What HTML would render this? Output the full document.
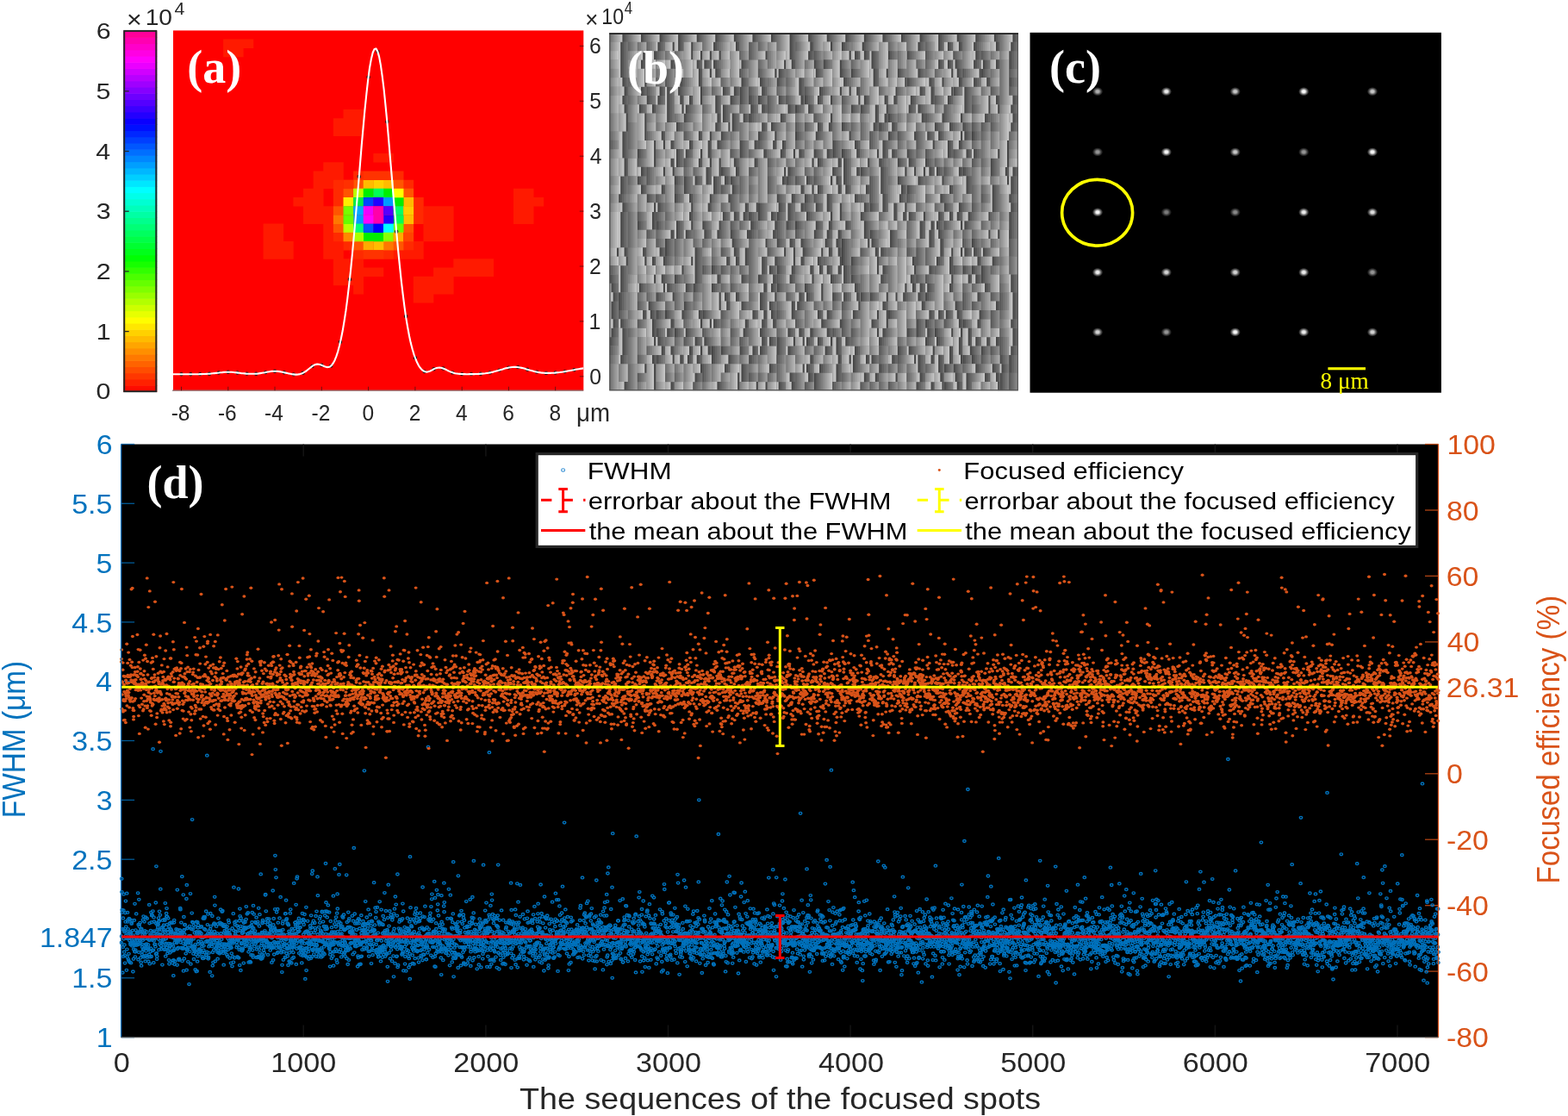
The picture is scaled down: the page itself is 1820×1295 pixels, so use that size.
<!DOCTYPE html>
<html lang="en"><head><meta charset="utf-8"><title>Focused spot statistics</title>
<style>html,body{margin:0;padding:0;background:#fff;}body{width:1820px;height:1295px;overflow:hidden;}svg{display:block;}</style>
</head><body>
<svg width="1820" height="1295" viewBox="0 0 1820 1295">
<rect width="1820" height="1295" fill="#fff"/>
<defs>
<pattern id="gp" width="21.573" height="20" patternUnits="userSpaceOnUse"><rect x="0" width="2.217" height="20" fill="#464646"/><rect x="2.157" width="2.217" height="20" fill="#545454"/><rect x="4.315" width="2.217" height="20" fill="#626262"/><rect x="6.472" width="2.217" height="20" fill="#717171"/><rect x="8.629" width="2.217" height="20" fill="#7f7f7f"/><rect x="10.786" width="2.217" height="20" fill="#8d8d8d"/><rect x="12.944" width="2.217" height="20" fill="#9b9b9b"/><rect x="15.101" width="2.217" height="20" fill="#aaaaaa"/><rect x="17.258" width="2.217" height="20" fill="#b8b8b8"/><rect x="19.415" width="2.217" height="20" fill="#c6c6c6"/></pattern>
<radialGradient id="sp"><stop offset="0" stop-color="#fff"/><stop offset="0.3" stop-color="#eee"/><stop offset="0.65" stop-color="#666"/><stop offset="1" stop-color="#000"/></radialGradient>
<marker id="mb" markerUnits="userSpaceOnUse" markerWidth="8" markerHeight="8" refX="4" refY="4" orient="0"><ellipse cx="4" cy="4" rx="1.72" ry="1.45" fill="none" stroke="#0072bd" stroke-width="1.4"/></marker>
<marker id="mo" markerUnits="userSpaceOnUse" markerWidth="8" markerHeight="8" refX="4" refY="4" orient="0"><ellipse cx="4" cy="4" rx="2.0" ry="1.7" fill="#d95319"/></marker>
</defs>
<g id="colorbar">
<rect x="143.2" y="447.09" width="39.1" height="7.81" fill="#ff0b00"/>
<rect x="143.2" y="439.88" width="39.1" height="7.81" fill="#ff2100"/>
<rect x="143.2" y="432.67" width="39.1" height="7.81" fill="#ff3700"/>
<rect x="143.2" y="425.46" width="39.1" height="7.81" fill="#ff4d00"/>
<rect x="143.2" y="418.25" width="39.1" height="7.81" fill="#ff6300"/>
<rect x="143.2" y="411.04" width="39.1" height="7.81" fill="#ff7900"/>
<rect x="143.2" y="403.83" width="39.1" height="7.81" fill="#ff8f00"/>
<rect x="143.2" y="396.62" width="39.1" height="7.81" fill="#ffa500"/>
<rect x="143.2" y="389.41" width="39.1" height="7.81" fill="#ffbb00"/>
<rect x="143.2" y="382.2" width="39.1" height="7.81" fill="#ffd100"/>
<rect x="143.2" y="374.99" width="39.1" height="7.81" fill="#ffe700"/>
<rect x="143.2" y="367.78" width="39.1" height="7.81" fill="#fffd00"/>
<rect x="143.2" y="360.57" width="39.1" height="7.81" fill="#e7ff00"/>
<rect x="143.2" y="353.36" width="39.1" height="7.81" fill="#cdff00"/>
<rect x="143.2" y="346.14" width="39.1" height="7.81" fill="#b3ff00"/>
<rect x="143.2" y="338.93" width="39.1" height="7.81" fill="#99ff00"/>
<rect x="143.2" y="331.72" width="39.1" height="7.81" fill="#7fff00"/>
<rect x="143.2" y="324.51" width="39.1" height="7.81" fill="#65ff00"/>
<rect x="143.2" y="317.3" width="39.1" height="7.81" fill="#4bff00"/>
<rect x="143.2" y="310.09" width="39.1" height="7.81" fill="#31ff00"/>
<rect x="143.2" y="302.88" width="39.1" height="7.81" fill="#17ff00"/>
<rect x="143.2" y="295.67" width="39.1" height="7.81" fill="#00ff03"/>
<rect x="143.2" y="288.46" width="39.1" height="7.81" fill="#00ff1a"/>
<rect x="143.2" y="281.25" width="39.1" height="7.81" fill="#00ff31"/>
<rect x="143.2" y="274.04" width="39.1" height="7.81" fill="#00ff48"/>
<rect x="143.2" y="266.83" width="39.1" height="7.81" fill="#00ff5f"/>
<rect x="143.2" y="259.62" width="39.1" height="7.81" fill="#00ff76"/>
<rect x="143.2" y="252.41" width="39.1" height="7.81" fill="#00ff8d"/>
<rect x="143.2" y="245.2" width="39.1" height="7.81" fill="#00ffa4"/>
<rect x="143.2" y="237.99" width="39.1" height="7.81" fill="#00ffbb"/>
<rect x="143.2" y="230.78" width="39.1" height="7.81" fill="#00ffd2"/>
<rect x="143.2" y="223.57" width="39.1" height="7.81" fill="#00ffe9"/>
<rect x="143.2" y="216.36" width="39.1" height="7.81" fill="#00ffff"/>
<rect x="143.2" y="209.15" width="39.1" height="7.81" fill="#00e7ff"/>
<rect x="143.2" y="201.94" width="39.1" height="7.81" fill="#00cfff"/>
<rect x="143.2" y="194.73" width="39.1" height="7.81" fill="#00b7ff"/>
<rect x="143.2" y="187.52" width="39.1" height="7.81" fill="#009fff"/>
<rect x="143.2" y="180.31" width="39.1" height="7.81" fill="#0087ff"/>
<rect x="143.2" y="173.1" width="39.1" height="7.81" fill="#006fff"/>
<rect x="143.2" y="165.89" width="39.1" height="7.81" fill="#0057ff"/>
<rect x="143.2" y="158.68" width="39.1" height="7.81" fill="#003fff"/>
<rect x="143.2" y="151.47" width="39.1" height="7.81" fill="#0027ff"/>
<rect x="143.2" y="144.26" width="39.1" height="7.81" fill="#000fff"/>
<rect x="143.2" y="137.04" width="39.1" height="7.81" fill="#0a00ff"/>
<rect x="143.2" y="129.83" width="39.1" height="7.81" fill="#2300ff"/>
<rect x="143.2" y="122.62" width="39.1" height="7.81" fill="#3b00ff"/>
<rect x="143.2" y="115.41" width="39.1" height="7.81" fill="#5400ff"/>
<rect x="143.2" y="108.2" width="39.1" height="7.81" fill="#6d00ff"/>
<rect x="143.2" y="100.99" width="39.1" height="7.81" fill="#8600ff"/>
<rect x="143.2" y="93.78" width="39.1" height="7.81" fill="#9f00ff"/>
<rect x="143.2" y="86.57" width="39.1" height="7.81" fill="#b800ff"/>
<rect x="143.2" y="79.36" width="39.1" height="7.81" fill="#d100ff"/>
<rect x="143.2" y="72.15" width="39.1" height="7.81" fill="#ea00ff"/>
<rect x="143.2" y="64.94" width="39.1" height="7.81" fill="#ff00fc"/>
<rect x="143.2" y="57.73" width="39.1" height="7.81" fill="#ff00e3"/>
<rect x="143.2" y="50.52" width="39.1" height="7.81" fill="#ff00ca"/>
<rect x="143.2" y="43.31" width="39.1" height="7.81" fill="#ff00b1"/>
<rect x="143.2" y="36.1" width="39.1" height="7.81" fill="#ff0099"/>
<rect x="144.2" y="35.9" width="37.1" height="418.3" fill="none" stroke="#262626" stroke-width="2"/>
<path d="M144.2 384.6h5.5" stroke="#262626" stroke-width="1.3"/>
<path d="M144.2 314.9h5.5" stroke="#262626" stroke-width="1.3"/>
<path d="M144.2 245.2h5.5" stroke="#262626" stroke-width="1.3"/>
<path d="M144.2 175.5h5.5" stroke="#262626" stroke-width="1.3"/>
<path d="M144.2 105.8h5.5" stroke="#262626" stroke-width="1.3"/>
<text transform="translate(111.48 463.37) scale(1.22 1)" font-family="Liberation Sans,Arial,Helvetica,sans-serif" font-size="24.9" fill="#262626">0</text>
<text transform="translate(111.78 393.67) scale(1.22 1)" font-family="Liberation Sans,Arial,Helvetica,sans-serif" font-size="24.9" fill="#262626">1</text>
<text transform="translate(111.86 323.97) scale(1.22 1)" font-family="Liberation Sans,Arial,Helvetica,sans-serif" font-size="24.9" fill="#262626">2</text>
<text transform="translate(111.63 254.27) scale(1.22 1)" font-family="Liberation Sans,Arial,Helvetica,sans-serif" font-size="24.9" fill="#262626">3</text>
<text transform="translate(111.18 184.57) scale(1.22 1)" font-family="Liberation Sans,Arial,Helvetica,sans-serif" font-size="24.9" fill="#262626">4</text>
<text transform="translate(111.56 114.87) scale(1.22 1)" font-family="Liberation Sans,Arial,Helvetica,sans-serif" font-size="24.9" fill="#262626">5</text>
<text transform="translate(111.63 45.17) scale(1.22 1)" font-family="Liberation Sans,Arial,Helvetica,sans-serif" font-size="24.9" fill="#262626">6</text>
<text transform="translate(146.88 32) scale(1.1032 1)" font-family="Liberation Sans,Arial,Helvetica,sans-serif" font-size="27.5" fill="#262626">×</text>
<text transform="translate(168.69 29) scale(1.1313 1)" font-family="Liberation Sans,Arial,Helvetica,sans-serif" font-size="24.9" fill="#262626">10</text>
<text transform="translate(202.62 16.7) scale(1.0911 1)" font-family="Liberation Sans,Arial,Helvetica,sans-serif" font-size="19.6" fill="#262626">4</text>
</g>
<g id="panel-a">
<rect x="201.0" y="35.4" width="476.3" height="417.8" fill="#ff0000"/>
<path d="M259.09 45.59h11.92v10.49h-11.92zM270.7 45.59h11.92v10.49h-11.92zM282.32 45.59h11.92v10.49h-11.92zM259.09 55.78h11.92v10.49h-11.92zM270.7 55.78h11.92v10.49h-11.92zM398.49 127.11h11.92v10.49h-11.92zM410.11 127.11h11.92v10.49h-11.92zM386.87 137.3h11.92v10.49h-11.92zM398.49 137.3h11.92v10.49h-11.92zM410.11 137.3h11.92v10.49h-11.92zM386.87 147.49h11.92v10.49h-11.92zM398.49 147.49h11.92v10.49h-11.92zM410.11 147.49h11.92v10.49h-11.92zM433.34 178.06h11.92v10.49h-11.92zM444.96 178.06h11.92v10.49h-11.92zM375.26 188.25h11.92v10.49h-11.92zM386.87 188.25h11.92v10.49h-11.92zM363.64 198.44h11.92v10.49h-11.92zM375.26 198.44h11.92v10.49h-11.92zM386.87 198.44h11.92v10.49h-11.92zM363.64 208.63h11.92v10.49h-11.92zM375.26 208.63h11.92v10.49h-11.92zM352.02 218.82h11.92v10.49h-11.92zM363.64 218.82h11.92v10.49h-11.92zM595.98 218.82h11.92v10.49h-11.92zM607.6 218.82h11.92v10.49h-11.92zM340.4 229.01h11.92v10.49h-11.92zM352.02 229.01h11.92v10.49h-11.92zM363.64 229.01h11.92v10.49h-11.92zM595.98 229.01h11.92v10.49h-11.92zM607.6 229.01h11.92v10.49h-11.92zM619.21 229.01h11.92v10.49h-11.92zM352.02 239.2h11.92v10.49h-11.92zM363.64 239.2h11.92v10.49h-11.92zM375.26 239.2h11.92v10.49h-11.92zM491.43 239.2h11.92v10.49h-11.92zM503.04 239.2h11.92v10.49h-11.92zM514.66 239.2h11.92v10.49h-11.92zM595.98 239.2h11.92v10.49h-11.92zM607.6 239.2h11.92v10.49h-11.92zM352.02 249.4h11.92v10.49h-11.92zM363.64 249.4h11.92v10.49h-11.92zM375.26 249.4h11.92v10.49h-11.92zM491.43 249.4h11.92v10.49h-11.92zM503.04 249.4h11.92v10.49h-11.92zM514.66 249.4h11.92v10.49h-11.92zM595.98 249.4h11.92v10.49h-11.92zM607.6 249.4h11.92v10.49h-11.92zM305.55 259.59h11.92v10.49h-11.92zM317.17 259.59h11.92v10.49h-11.92zM375.26 259.59h11.92v10.49h-11.92zM491.43 259.59h11.92v10.49h-11.92zM503.04 259.59h11.92v10.49h-11.92zM514.66 259.59h11.92v10.49h-11.92zM305.55 269.78h11.92v10.49h-11.92zM317.17 269.78h11.92v10.49h-11.92zM375.26 269.78h11.92v10.49h-11.92zM491.43 269.78h11.92v10.49h-11.92zM503.04 269.78h11.92v10.49h-11.92zM514.66 269.78h11.92v10.49h-11.92zM305.55 279.97h11.92v10.49h-11.92zM317.17 279.97h11.92v10.49h-11.92zM328.79 279.97h11.92v10.49h-11.92zM375.26 279.97h11.92v10.49h-11.92zM386.87 279.97h11.92v10.49h-11.92zM479.81 279.97h11.92v10.49h-11.92zM305.55 290.16h11.92v10.49h-11.92zM317.17 290.16h11.92v10.49h-11.92zM328.79 290.16h11.92v10.49h-11.92zM375.26 290.16h11.92v10.49h-11.92zM386.87 290.16h11.92v10.49h-11.92zM456.58 290.16h11.92v10.49h-11.92zM468.19 290.16h11.92v10.49h-11.92zM479.81 290.16h11.92v10.49h-11.92zM386.87 300.35h11.92v10.49h-11.92zM398.49 300.35h11.92v10.49h-11.92zM410.11 300.35h11.92v10.49h-11.92zM526.28 300.35h11.92v10.49h-11.92zM537.9 300.35h11.92v10.49h-11.92zM549.51 300.35h11.92v10.49h-11.92zM561.13 300.35h11.92v10.49h-11.92zM386.87 310.54h11.92v10.49h-11.92zM398.49 310.54h11.92v10.49h-11.92zM410.11 310.54h11.92v10.49h-11.92zM421.72 310.54h11.92v10.49h-11.92zM433.34 310.54h11.92v10.49h-11.92zM503.04 310.54h11.92v10.49h-11.92zM514.66 310.54h11.92v10.49h-11.92zM526.28 310.54h11.92v10.49h-11.92zM537.9 310.54h11.92v10.49h-11.92zM549.51 310.54h11.92v10.49h-11.92zM561.13 310.54h11.92v10.49h-11.92zM386.87 320.73h11.92v10.49h-11.92zM398.49 320.73h11.92v10.49h-11.92zM410.11 320.73h11.92v10.49h-11.92zM479.81 320.73h11.92v10.49h-11.92zM491.43 320.73h11.92v10.49h-11.92zM503.04 320.73h11.92v10.49h-11.92zM514.66 320.73h11.92v10.49h-11.92zM410.11 330.92h11.92v10.49h-11.92zM479.81 330.92h11.92v10.49h-11.92zM491.43 330.92h11.92v10.49h-11.92zM503.04 330.92h11.92v10.49h-11.92zM514.66 330.92h11.92v10.49h-11.92zM479.81 341.11h11.92v10.49h-11.92zM491.43 341.11h11.92v10.49h-11.92z" fill="#ff1a00"/>
<path d="M410.11 198.44h11.92v10.49h-11.92zM456.58 198.44h11.92v10.49h-11.92zM386.87 208.63h11.92v10.49h-11.92zM468.19 208.63h11.92v10.49h-11.92zM386.87 218.82h11.92v10.49h-11.92zM386.87 229.01h11.92v10.49h-11.92zM479.81 229.01h11.92v10.49h-11.92zM479.81 239.2h11.92v10.49h-11.92zM479.81 249.4h11.92v10.49h-11.92zM386.87 269.78h11.92v10.49h-11.92zM398.49 279.97h11.92v10.49h-11.92zM468.19 279.97h11.92v10.49h-11.92zM410.11 290.16h11.92v10.49h-11.92zM444.96 290.16h11.92v10.49h-11.92z" fill="#ff2a00"/>
<path d="M410.11 208.63h11.92v10.49h-11.92zM456.58 208.63h11.92v10.49h-11.92zM398.49 218.82h11.92v10.49h-11.92zM468.19 218.82h11.92v10.49h-11.92zM386.87 239.2h11.92v10.49h-11.92zM386.87 259.59h11.92v10.49h-11.92zM468.19 259.59h11.92v10.49h-11.92zM410.11 279.97h11.92v10.49h-11.92zM456.58 279.97h11.92v10.49h-11.92z" fill="#ff5500"/>
<path d="M386.87 249.4h11.92v10.49h-11.92zM444.96 279.97h11.92v10.49h-11.92z" fill="#ff7700"/>
<path d="M398.49 208.63h11.92v10.49h-11.92z" fill="#ff3000"/>
<path d="M421.72 208.63h11.92v10.49h-11.92zM444.96 208.63h11.92v10.49h-11.92zM468.19 229.01h11.92v10.49h-11.92zM468.19 249.4h11.92v10.49h-11.92zM433.34 279.97h11.92v10.49h-11.92z" fill="#ffbb00"/>
<path d="M433.34 208.63h11.92v10.49h-11.92z" fill="#ffd000"/>
<path d="M410.11 218.82h11.92v10.49h-11.92zM398.49 259.59h11.92v10.49h-11.92z" fill="#bbff00"/>
<path d="M421.72 218.82h11.92v10.49h-11.92zM444.96 218.82h11.92v10.49h-11.92zM456.58 229.01h11.92v10.49h-11.92zM421.72 269.78h11.92v10.49h-11.92zM433.34 269.78h11.92v10.49h-11.92z" fill="#00ee00"/>
<path d="M433.34 218.82h11.92v10.49h-11.92zM456.58 249.4h11.92v10.49h-11.92z" fill="#00ff55"/>
<path d="M456.58 218.82h11.92v10.49h-11.92z" fill="#ffff00"/>
<path d="M398.49 229.01h11.92v10.49h-11.92z" fill="#ffee00"/>
<path d="M410.11 229.01h11.92v10.49h-11.92z" fill="#00ee44"/>
<path d="M421.72 229.01h11.92v10.49h-11.92z" fill="#0044ff"/>
<path d="M433.34 229.01h11.92v10.49h-11.92zM444.96 249.4h11.92v10.49h-11.92z" fill="#2200ff"/>
<path d="M444.96 229.01h11.92v10.49h-11.92zM410.11 249.4h11.92v10.49h-11.92z" fill="#0099ff"/>
<path d="M398.49 239.2h11.92v10.49h-11.92z" fill="#77ff00"/>
<path d="M410.11 239.2h11.92v10.49h-11.92z" fill="#00aaff"/>
<path d="M421.72 239.2h11.92v10.49h-11.92z" fill="#ee00ff"/>
<path d="M433.34 239.2h11.92v10.49h-11.92zM433.34 249.4h11.92v10.49h-11.92z" fill="#ff00aa"/>
<path d="M444.96 239.2h11.92v10.49h-11.92z" fill="#5500ff"/>
<path d="M456.58 239.2h11.92v10.49h-11.92z" fill="#00ff66"/>
<path d="M468.19 239.2h11.92v10.49h-11.92z" fill="#ffcc00"/>
<path d="M398.49 249.4h11.92v10.49h-11.92zM456.58 259.59h11.92v10.49h-11.92z" fill="#66ff00"/>
<path d="M421.72 249.4h11.92v10.49h-11.92z" fill="#ff00ff"/>
<path d="M410.11 259.59h11.92v10.49h-11.92z" fill="#00ff77"/>
<path d="M421.72 259.59h11.92v10.49h-11.92z" fill="#0055ff"/>
<path d="M433.34 259.59h11.92v10.49h-11.92z" fill="#0000ff"/>
<path d="M444.96 259.59h11.92v10.49h-11.92z" fill="#00ffff"/>
<path d="M398.49 269.78h11.92v10.49h-11.92z" fill="#ff8800"/>
<path d="M410.11 269.78h11.92v10.49h-11.92z" fill="#aaff00"/>
<path d="M444.96 269.78h11.92v10.49h-11.92z" fill="#88ff00"/>
<path d="M456.58 269.78h11.92v10.49h-11.92zM421.72 279.97h11.92v10.49h-11.92z" fill="#ffaa00"/>
<path d="M468.19 269.78h11.92v10.49h-11.92z" fill="#ff4400"/>
<path d="M421.72 198.44h11.92v10.49h-11.92zM433.34 198.44h11.92v10.49h-11.92zM444.96 198.44h11.92v10.49h-11.92zM421.72 290.16h11.92v10.49h-11.92zM433.34 290.16h11.92v10.49h-11.92z" fill="#ff3300"/>
<path d="M200.0 453.2H677.3" stroke="#8a7070" stroke-width="1.2"/>
<path d="M210.5 453.2v-4.5" stroke="#6a1010" stroke-width="1"/>
<text transform="translate(198.67 487.5) scale(0.95 1)" font-family="Liberation Sans,Arial,Helvetica,sans-serif" font-size="25.8" fill="#262626">-8</text>
<path d="M264.8 453.2v-4.5" stroke="#6a1010" stroke-width="1"/>
<text transform="translate(252.95 487.5) scale(0.95 1)" font-family="Liberation Sans,Arial,Helvetica,sans-serif" font-size="25.8" fill="#262626">-6</text>
<path d="M319 453.2v-4.5" stroke="#6a1010" stroke-width="1"/>
<text transform="translate(307.05 487.5) scale(0.95 1)" font-family="Liberation Sans,Arial,Helvetica,sans-serif" font-size="25.8" fill="#262626">-4</text>
<path d="M373.3 453.2v-4.5" stroke="#6a1010" stroke-width="1"/>
<text transform="translate(361.6 487.5) scale(0.95 1)" font-family="Liberation Sans,Arial,Helvetica,sans-serif" font-size="25.8" fill="#262626">-2</text>
<path d="M427.6 453.2v-4.5" stroke="#6a1010" stroke-width="1"/>
<text transform="translate(420.47 487.5) scale(0.95 1)" font-family="Liberation Sans,Arial,Helvetica,sans-serif" font-size="25.8" fill="#262626">0</text>
<path d="M481.9 453.2v-4.5" stroke="#6a1010" stroke-width="1"/>
<text transform="translate(474.78 487.5) scale(0.95 1)" font-family="Liberation Sans,Arial,Helvetica,sans-serif" font-size="25.8" fill="#262626">2</text>
<path d="M536.2 453.2v-4.5" stroke="#6a1010" stroke-width="1"/>
<text transform="translate(529.12 487.5) scale(0.95 1)" font-family="Liberation Sans,Arial,Helvetica,sans-serif" font-size="25.8" fill="#262626">4</text>
<path d="M590.4 453.2v-4.5" stroke="#6a1010" stroke-width="1"/>
<text transform="translate(583.25 487.5) scale(0.95 1)" font-family="Liberation Sans,Arial,Helvetica,sans-serif" font-size="25.8" fill="#262626">6</text>
<path d="M644.7 453.2v-4.5" stroke="#6a1010" stroke-width="1"/>
<text transform="translate(637.62 487.5) scale(0.95 1)" font-family="Liberation Sans,Arial,Helvetica,sans-serif" font-size="25.8" fill="#262626">8</text>
<text transform="translate(669.03 489.3) scale(0.9547 1)" font-family="Liberation Sans,Arial,Helvetica,sans-serif" font-size="29" fill="#262626">μm</text>
<path d="M677.3 436.8h-4.5" stroke="#6a1010" stroke-width="1"/>
<text transform="translate(684.31 445.78) scale(0.96 1)" font-family="Liberation Sans,Arial,Helvetica,sans-serif" font-size="25.8" fill="#262626">0</text>
<path d="M677.3 372.9h-4.5" stroke="#6a1010" stroke-width="1"/>
<text transform="translate(683.44 381.88) scale(0.96 1)" font-family="Liberation Sans,Arial,Helvetica,sans-serif" font-size="25.8" fill="#262626">1</text>
<path d="M677.3 309h-4.5" stroke="#6a1010" stroke-width="1"/>
<text transform="translate(684.06 317.98) scale(0.96 1)" font-family="Liberation Sans,Arial,Helvetica,sans-serif" font-size="25.8" fill="#262626">2</text>
<path d="M677.3 245.1h-4.5" stroke="#6a1010" stroke-width="1"/>
<text transform="translate(684.37 254.08) scale(0.96 1)" font-family="Liberation Sans,Arial,Helvetica,sans-serif" font-size="25.8" fill="#262626">3</text>
<path d="M677.3 181.2h-4.5" stroke="#6a1010" stroke-width="1"/>
<text transform="translate(684.74 190.18) scale(0.96 1)" font-family="Liberation Sans,Arial,Helvetica,sans-serif" font-size="25.8" fill="#262626">4</text>
<path d="M677.3 117.3h-4.5" stroke="#6a1010" stroke-width="1"/>
<text transform="translate(684.31 126.28) scale(0.96 1)" font-family="Liberation Sans,Arial,Helvetica,sans-serif" font-size="25.8" fill="#262626">5</text>
<path d="M677.3 53.4h-4.5" stroke="#6a1010" stroke-width="1"/>
<text transform="translate(684.06 62.38) scale(0.96 1)" font-family="Liberation Sans,Arial,Helvetica,sans-serif" font-size="25.8" fill="#262626">6</text>
<text transform="translate(679.19 32) scale(0.9397 1)" font-family="Liberation Sans,Arial,Helvetica,sans-serif" font-size="27.5" fill="#262626">×</text>
<text transform="translate(698.37 28.3) scale(0.8937 1)" font-family="Liberation Sans,Arial,Helvetica,sans-serif" font-size="25.8" fill="#262626">10</text>
<text transform="translate(724.82 16.3) scale(0.8588 1)" font-family="Liberation Sans,Arial,Helvetica,sans-serif" font-size="19.6" fill="#262626">4</text>
<clipPath id="ca"><rect x="201.0" y="35.4" width="476.3" height="417.8"/></clipPath>
<path d="M210.5 434.2h0M221.3 434.2h0M232.2 434.1h0M243 433.7h0M253.9 432.5h0M264.8 431.7h0M275.6 432.5h0M286.5 433.6h0M297.3 433.7h0M308.2 432.1h0M319 430.7h0M329.9 432.2h0M340.8 434.4h0M351.6 432.8h0M362.5 425h0M373.3 423.7h0M384.2 424.6h0M395 396.8h0M405.9 324.3h0M416.7 204.9h0M427.6 89.4h0M438.5 60h0M449.3 141.3h0M460.2 268.8h0M471 366.9h0M481.9 415.2h0M492.7 431.1h0M503.6 428.3h0M514.4 427.5h0M525.3 432.4h0M536.2 434.1h0M547 434.1h0M557.9 433.8h0M568.7 432.4h0M579.6 429.6h0M590.4 426.6h0M601.3 426.1h0M612.2 428.7h0M623 431.6h0M633.9 432.9h0M644.7 432.5h0M655.6 431.1h0M666.4 429.1h0" stroke="#1a1a1a" stroke-width="4.4" stroke-linecap="round" fill="none"/>
<polyline points="201,434.2 202.8,434.2 204.7,434.2 206.5,434.2 208.4,434.2 210.2,434.2 212,434.2 213.9,434.2 215.7,434.2 217.6,434.2 219.4,434.2 221.2,434.2 223.1,434.2 224.9,434.2 226.7,434.2 228.6,434.2 230.4,434.2 232.3,434.1 234.1,434.1 235.9,434 237.8,434 239.6,433.9 241.5,433.8 243.3,433.7 245.1,433.5 247,433.3 248.8,433.1 250.7,432.9 252.5,432.7 254.3,432.5 256.2,432.2 258,432.1 259.8,431.9 261.7,431.8 263.5,431.7 265.4,431.7 267.2,431.7 269,431.8 270.9,432 272.7,432.2 274.6,432.4 276.4,432.6 278.2,432.8 280.1,433.1 281.9,433.3 283.8,433.4 285.6,433.6 287.4,433.7 289.3,433.8 291.1,433.8 292.9,433.8 294.8,433.8 296.6,433.7 298.5,433.6 300.3,433.4 302.1,433.1 304,432.8 305.8,432.5 307.7,432.2 309.5,431.8 311.3,431.5 313.2,431.2 315,430.9 316.9,430.8 318.7,430.7 320.5,430.7 322.4,430.9 324.2,431.1 326.1,431.4 327.9,431.8 329.7,432.2 331.6,432.6 333.4,433 335.2,433.4 337.1,433.8 338.9,434.2 340.8,434.4 342.6,434.6 344.4,434.6 346.3,434.4 348.1,434.1 350,433.5 351.8,432.7 353.6,431.7 355.5,430.5 357.3,429 359.2,427.5 361,426.1 362.8,424.7 364.7,423.6 366.5,422.9 368.3,422.6 370.2,422.7 372,423.2 373.9,424 375.7,424.8 377.5,425.6 379.4,426.1 381.2,426 383.1,425.4 384.9,423.9 386.7,421.4 388.6,417.9 390.4,413.3 392.3,407.6 394.1,400.8 395.9,392.7 397.8,383.3 399.6,372.5 401.5,360.2 403.3,346.4 405.1,331 407,314.2 408.8,295.9 410.6,276.2 412.5,255.5 414.3,234 416.2,211.9 418,189.8 419.8,167.9 421.7,146.8 423.5,126.9 425.4,108.7 427.2,92.6 429,79 430.9,68.4 432.7,61 434.6,56.9 436.4,56.4 438.2,59.4 440.1,65.9 441.9,75.6 443.7,88.3 445.6,103.7 447.4,121.3 449.3,140.8 451.1,161.6 452.9,183.3 454.8,205.4 456.6,227.6 458.5,249.3 460.3,270.3 462.1,290.2 464,308.9 465.8,326.2 467.7,342 469.5,356.2 471.3,368.9 473.2,380 475,389.7 476.8,398.1 478.7,405.3 480.5,411.4 482.4,416.5 484.2,420.8 486,424.3 487.9,427 489.7,429.1 491.6,430.5 493.4,431.3 495.2,431.6 497.1,431.3 498.9,430.7 500.8,429.8 502.6,428.8 504.4,427.9 506.3,427.1 508.1,426.7 510,426.5 511.8,426.7 513.6,427.2 515.5,427.9 517.3,428.7 519.1,429.7 521,430.6 522.8,431.4 524.7,432.1 526.5,432.7 528.3,433.2 530.2,433.5 532,433.8 533.9,433.9 535.7,434 537.5,434.1 539.4,434.1 541.2,434.2 543.1,434.2 544.9,434.1 546.7,434.1 548.6,434.1 550.4,434.1 552.2,434 554.1,434 555.9,433.9 557.8,433.8 559.6,433.6 561.4,433.5 563.3,433.3 565.1,433 567,432.7 568.8,432.4 570.6,432 572.5,431.6 574.3,431.1 576.2,430.6 578,430.1 579.8,429.5 581.7,428.9 583.5,428.4 585.4,427.8 587.2,427.3 589,426.9 590.9,426.5 592.7,426.2 594.5,426 596.4,425.9 598.2,425.9 600.1,426 601.9,426.2 603.7,426.5 605.6,426.9 607.4,427.3 609.3,427.8 611.1,428.4 612.9,428.9 614.8,429.5 616.6,430 618.5,430.5 620.3,431 622.1,431.4 624,431.8 625.8,432.1 627.6,432.4 629.5,432.6 631.3,432.8 633.2,432.9 635,432.9 636.8,432.9 638.7,432.9 640.5,432.8 642.4,432.7 644.2,432.6 646,432.4 647.9,432.2 649.7,432 651.6,431.7 653.4,431.5 655.2,431.2 657.1,430.9 658.9,430.5 660.7,430.2 662.6,429.9 664.4,429.5 666.3,429.2 668.1,428.8 669.9,428.5 671.8,428.2 673.6,427.9 675.5,427.6 677.3,427.4" fill="none" stroke="#fff" stroke-width="2.1" stroke-linejoin="round" clip-path="url(#ca)"/>
<text transform="translate(217.37 95.6)" font-family="Liberation Serif,Times New Roman,Times,serif" font-size="54" fill="#fff" font-weight="bold">(a)</text>
</g>
<g id="panel-b">
<rect x="707.3" y="38.2" width="474.6" height="415.1" fill="#888"/>
<clipPath id="cb"><rect x="707.3" y="38.2" width="474.6" height="415.1"/></clipPath>
<g clip-path="url(#cb)"><g transform="translate(707.3 38.2)">
<g transform="translate(0 0)"><path d="M312.8 10.38h10.79v10.58h-10.79zM334.38 10.38h10.79v10.58h-10.79zM140.22 20.76h10.79v10.58h-10.79zM312.8 20.76h10.79v10.58h-10.79zM323.59 20.76h10.79v10.58h-10.79zM345.16 20.76h10.79v10.58h-10.79zM355.95 20.76h10.79v10.58h-10.79zM377.52 20.76h10.79v10.58h-10.79zM53.93 31.13h10.79v10.58h-10.79zM140.22 31.13h10.79v10.58h-10.79zM237.3 31.13h10.79v10.58h-10.79zM291.23 31.13h10.79v10.58h-10.79zM312.8 31.13h10.79v10.58h-10.79zM140.22 41.51h10.79v10.58h-10.79zM226.51 41.51h10.79v10.58h-10.79zM248.09 41.51h10.79v10.58h-10.79zM280.45 41.51h10.79v10.58h-10.79zM291.23 41.51h10.79v10.58h-10.79zM431.45 41.51h10.79v10.58h-10.79zM118.65 51.89h10.79v10.58h-10.79zM161.8 51.89h10.79v10.58h-10.79zM194.15 51.89h10.79v10.58h-10.79zM248.09 51.89h10.79v10.58h-10.79zM312.8 51.89h10.79v10.58h-10.79zM345.16 51.89h10.79v10.58h-10.79zM355.95 51.89h10.79v10.58h-10.79zM151.01 62.27h10.79v10.58h-10.79zM377.52 62.27h10.79v10.58h-10.79zM43.15 72.64h10.79v10.58h-10.79zM151.01 72.64h10.79v10.58h-10.79zM172.58 72.64h10.79v10.58h-10.79zM334.38 72.64h10.79v10.58h-10.79zM215.73 83.02h10.79v10.58h-10.79zM280.45 83.02h10.79v10.58h-10.79zM334.38 83.02h10.79v10.58h-10.79zM399.1 83.02h10.79v10.58h-10.79zM86.29 93.4h10.79v10.58h-10.79zM97.08 93.4h10.79v10.58h-10.79zM204.94 93.4h10.79v10.58h-10.79zM226.51 93.4h10.79v10.58h-10.79zM269.66 93.4h10.79v10.58h-10.79zM323.59 93.4h10.79v10.58h-10.79zM161.8 103.78h10.79v10.58h-10.79zM334.38 103.78h10.79v10.58h-10.79zM409.88 103.78h10.79v10.58h-10.79zM129.44 114.15h10.79v10.58h-10.79zM172.58 114.15h10.79v10.58h-10.79zM215.73 114.15h10.79v10.58h-10.79zM323.59 114.15h10.79v10.58h-10.79zM32.36 124.53h10.79v10.58h-10.79zM97.08 124.53h10.79v10.58h-10.79zM151.01 124.53h10.79v10.58h-10.79zM258.87 124.53h10.79v10.58h-10.79zM291.23 124.53h10.79v10.58h-10.79zM151.01 134.91h10.79v10.58h-10.79zM226.51 134.91h10.79v10.58h-10.79zM237.3 134.91h10.79v10.58h-10.79zM258.87 134.91h10.79v10.58h-10.79zM345.16 134.91h10.79v10.58h-10.79zM377.52 134.91h10.79v10.58h-10.79zM355.95 145.29h10.79v10.58h-10.79zM366.74 145.29h10.79v10.58h-10.79zM463.81 145.29h10.79v10.58h-10.79zM129.44 155.66h10.79v10.58h-10.79zM248.09 155.66h10.79v10.58h-10.79zM258.87 155.66h10.79v10.58h-10.79zM409.88 155.66h10.79v10.58h-10.79zM86.29 166.04h10.79v10.58h-10.79zM399.1 166.04h10.79v10.58h-10.79zM86.29 176.42h10.79v10.58h-10.79zM248.09 176.42h10.79v10.58h-10.79zM345.16 176.42h10.79v10.58h-10.79zM355.95 176.42h10.79v10.58h-10.79zM43.15 186.8h10.79v10.58h-10.79zM194.15 186.8h10.79v10.58h-10.79zM269.66 186.8h10.79v10.58h-10.79zM355.95 186.8h10.79v10.58h-10.79zM172.58 197.17h10.79v10.58h-10.79zM183.37 197.17h10.79v10.58h-10.79zM302.02 197.17h10.79v10.58h-10.79zM388.31 197.17h10.79v10.58h-10.79zM75.5 207.55h10.79v10.58h-10.79zM118.65 207.55h10.79v10.58h-10.79zM172.58 207.55h10.79v10.58h-10.79zM194.15 207.55h10.79v10.58h-10.79zM107.86 217.93h10.79v10.58h-10.79zM215.73 217.93h10.79v10.58h-10.79zM312.8 217.93h10.79v10.58h-10.79zM237.3 228.31h10.79v10.58h-10.79zM302.02 228.31h10.79v10.58h-10.79zM334.38 228.31h10.79v10.58h-10.79zM32.36 238.68h10.79v10.58h-10.79zM64.72 238.68h10.79v10.58h-10.79zM194.15 238.68h10.79v10.58h-10.79zM312.8 238.68h10.79v10.58h-10.79zM399.1 238.68h10.79v10.58h-10.79zM64.72 249.06h10.79v10.58h-10.79zM442.24 249.06h10.79v10.58h-10.79zM226.51 259.44h10.79v10.58h-10.79zM280.45 259.44h10.79v10.58h-10.79zM334.38 259.44h10.79v10.58h-10.79zM399.1 259.44h10.79v10.58h-10.79zM32.36 269.82h10.79v10.58h-10.79zM53.93 269.82h10.79v10.58h-10.79zM194.15 269.82h10.79v10.58h-10.79zM291.23 269.82h10.79v10.58h-10.79zM334.38 269.82h10.79v10.58h-10.79zM409.88 269.82h10.79v10.58h-10.79zM431.45 269.82h10.79v10.58h-10.79zM0 280.19h10.79v10.58h-10.79zM172.58 280.19h10.79v10.58h-10.79zM280.45 280.19h10.79v10.58h-10.79zM334.38 280.19h10.79v10.58h-10.79zM377.52 280.19h10.79v10.58h-10.79zM399.1 280.19h10.79v10.58h-10.79zM431.45 280.19h10.79v10.58h-10.79zM442.24 280.19h10.79v10.58h-10.79zM194.15 290.57h10.79v10.58h-10.79zM248.09 290.57h10.79v10.58h-10.79zM377.52 290.57h10.79v10.58h-10.79zM442.24 290.57h10.79v10.58h-10.79zM248.09 300.95h10.79v10.58h-10.79zM258.87 300.95h10.79v10.58h-10.79zM302.02 300.95h10.79v10.58h-10.79zM366.74 300.95h10.79v10.58h-10.79zM377.52 300.95h10.79v10.58h-10.79zM86.29 311.33h10.79v10.58h-10.79zM140.22 311.33h10.79v10.58h-10.79zM377.52 311.33h10.79v10.58h-10.79zM64.72 321.7h10.79v10.58h-10.79zM107.86 321.7h10.79v10.58h-10.79zM118.65 321.7h10.79v10.58h-10.79zM140.22 321.7h10.79v10.58h-10.79zM323.59 321.7h10.79v10.58h-10.79zM334.38 321.7h10.79v10.58h-10.79zM75.5 332.08h10.79v10.58h-10.79zM161.8 332.08h10.79v10.58h-10.79zM204.94 332.08h10.79v10.58h-10.79zM334.38 332.08h10.79v10.58h-10.79zM366.74 332.08h10.79v10.58h-10.79zM409.88 332.08h10.79v10.58h-10.79zM32.36 342.46h10.79v10.58h-10.79zM118.65 342.46h10.79v10.58h-10.79zM334.38 342.46h10.79v10.58h-10.79zM345.16 342.46h10.79v10.58h-10.79zM420.67 342.46h10.79v10.58h-10.79zM442.24 342.46h10.79v10.58h-10.79zM0 352.84h10.79v10.58h-10.79zM194.15 352.84h10.79v10.58h-10.79zM291.23 352.84h10.79v10.58h-10.79zM355.95 352.84h10.79v10.58h-10.79zM366.74 352.84h10.79v10.58h-10.79zM129.44 363.21h10.79v10.58h-10.79zM151.01 363.21h10.79v10.58h-10.79zM183.37 363.21h10.79v10.58h-10.79zM194.15 363.21h10.79v10.58h-10.79zM269.66 363.21h10.79v10.58h-10.79zM377.52 363.21h10.79v10.58h-10.79zM431.45 363.21h10.79v10.58h-10.79zM183.37 373.59h10.79v10.58h-10.79zM409.88 373.59h10.79v10.58h-10.79zM453.03 373.59h10.79v10.58h-10.79zM53.93 383.97h10.79v10.58h-10.79zM140.22 383.97h10.79v10.58h-10.79zM269.66 383.97h10.79v10.58h-10.79zM388.31 383.97h10.79v10.58h-10.79zM53.93 394.35h10.79v10.58h-10.79zM237.3 394.35h10.79v10.58h-10.79zM248.09 394.35h10.79v10.58h-10.79zM334.38 394.35h10.79v10.58h-10.79zM453.03 394.35h10.79v10.58h-10.79zM75.5 404.72h10.79v10.58h-10.79zM183.37 404.72h10.79v10.58h-10.79zM237.3 404.72h10.79v10.58h-10.79zM248.09 404.72h10.79v10.58h-10.79zM388.31 404.72h10.79v10.58h-10.79zM420.67 404.72h10.79v10.58h-10.79zM453.03 404.72h10.79v10.58h-10.79z" fill="url(#gp)"/></g>
<g transform="translate(2.157 0)"><path d="M94.92 10.38h10.79v10.58h-10.79zM181.21 10.38h10.79v10.58h-10.79zM245.93 20.76h10.79v10.58h-10.79zM299.86 20.76h10.79v10.58h-10.79zM105.71 31.13h10.79v10.58h-10.79zM148.85 31.13h10.79v10.58h-10.79zM159.64 31.13h10.79v10.58h-10.79zM299.86 31.13h10.79v10.58h-10.79zM429.3 31.13h10.79v10.58h-10.79zM73.35 41.51h10.79v10.58h-10.79zM159.64 41.51h10.79v10.58h-10.79zM192 41.51h10.79v10.58h-10.79zM235.14 41.51h10.79v10.58h-10.79zM138.07 51.89h10.79v10.58h-10.79zM148.85 51.89h10.79v10.58h-10.79zM170.42 51.89h10.79v10.58h-10.79zM224.36 51.89h10.79v10.58h-10.79zM440.08 51.89h10.79v10.58h-10.79zM62.56 62.27h10.79v10.58h-10.79zM127.28 62.27h10.79v10.58h-10.79zM181.21 62.27h10.79v10.58h-10.79zM407.72 62.27h10.79v10.58h-10.79zM418.51 62.27h10.79v10.58h-10.79zM30.2 72.64h10.79v10.58h-10.79zM62.56 72.64h10.79v10.58h-10.79zM192 72.64h10.79v10.58h-10.79zM353.79 72.64h10.79v10.58h-10.79zM396.94 72.64h10.79v10.58h-10.79zM407.72 72.64h10.79v10.58h-10.79zM62.56 83.02h10.79v10.58h-10.79zM84.13 83.02h10.79v10.58h-10.79zM94.92 83.02h10.79v10.58h-10.79zM127.28 83.02h10.79v10.58h-10.79zM138.07 83.02h10.79v10.58h-10.79zM245.93 83.02h10.79v10.58h-10.79zM343.01 83.02h10.79v10.58h-10.79zM407.72 83.02h10.79v10.58h-10.79zM51.77 93.4h10.79v10.58h-10.79zM62.56 93.4h10.79v10.58h-10.79zM127.28 93.4h10.79v10.58h-10.79zM181.21 93.4h10.79v10.58h-10.79zM418.51 93.4h10.79v10.58h-10.79zM94.92 103.78h10.79v10.58h-10.79zM73.35 114.15h10.79v10.58h-10.79zM116.49 114.15h10.79v10.58h-10.79zM159.64 114.15h10.79v10.58h-10.79zM202.78 114.15h10.79v10.58h-10.79zM224.36 114.15h10.79v10.58h-10.79zM235.14 114.15h10.79v10.58h-10.79zM245.93 114.15h10.79v10.58h-10.79zM364.58 114.15h10.79v10.58h-10.79zM407.72 114.15h10.79v10.58h-10.79zM73.35 124.53h10.79v10.58h-10.79zM138.07 124.53h10.79v10.58h-10.79zM202.78 124.53h10.79v10.58h-10.79zM245.93 124.53h10.79v10.58h-10.79zM267.5 124.53h10.79v10.58h-10.79zM375.37 124.53h10.79v10.58h-10.79zM84.13 134.91h10.79v10.58h-10.79zM116.49 134.91h10.79v10.58h-10.79zM332.22 134.91h10.79v10.58h-10.79zM461.66 134.91h10.79v10.58h-10.79zM51.77 145.29h10.79v10.58h-10.79zM245.93 145.29h10.79v10.58h-10.79zM343.01 145.29h10.79v10.58h-10.79zM396.94 145.29h10.79v10.58h-10.79zM73.35 155.66h10.79v10.58h-10.79zM51.77 166.04h10.79v10.58h-10.79zM289.07 166.04h10.79v10.58h-10.79zM94.92 176.42h10.79v10.58h-10.79zM202.78 176.42h10.79v10.58h-10.79zM375.37 176.42h10.79v10.58h-10.79zM30.2 186.8h10.79v10.58h-10.79zM181.21 186.8h10.79v10.58h-10.79zM30.2 197.17h10.79v10.58h-10.79zM73.35 197.17h10.79v10.58h-10.79zM94.92 197.17h10.79v10.58h-10.79zM192 197.17h10.79v10.58h-10.79zM235.14 197.17h10.79v10.58h-10.79zM267.5 197.17h10.79v10.58h-10.79zM127.28 207.55h10.79v10.58h-10.79zM343.01 207.55h10.79v10.58h-10.79zM94.92 217.93h10.79v10.58h-10.79zM224.36 217.93h10.79v10.58h-10.79zM235.14 217.93h10.79v10.58h-10.79zM332.22 217.93h10.79v10.58h-10.79zM407.72 217.93h10.79v10.58h-10.79zM418.51 217.93h10.79v10.58h-10.79zM30.2 228.31h10.79v10.58h-10.79zM84.13 228.31h10.79v10.58h-10.79zM105.71 228.31h10.79v10.58h-10.79zM224.36 228.31h10.79v10.58h-10.79zM267.5 228.31h10.79v10.58h-10.79zM310.65 228.31h10.79v10.58h-10.79zM321.43 228.31h10.79v10.58h-10.79zM116.49 238.68h10.79v10.58h-10.79zM299.86 238.68h10.79v10.58h-10.79zM321.43 238.68h10.79v10.58h-10.79zM332.22 249.06h10.79v10.58h-10.79zM407.72 249.06h10.79v10.58h-10.79zM429.3 249.06h10.79v10.58h-10.79zM289.07 259.44h10.79v10.58h-10.79zM30.2 280.19h10.79v10.58h-10.79zM148.85 280.19h10.79v10.58h-10.79zM-2.16 290.57h10.79v10.58h-10.79zM62.56 290.57h10.79v10.58h-10.79zM84.13 290.57h10.79v10.58h-10.79zM202.78 290.57h10.79v10.58h-10.79zM267.5 290.57h10.79v10.58h-10.79zM364.58 290.57h10.79v10.58h-10.79zM396.94 290.57h10.79v10.58h-10.79zM170.42 300.95h10.79v10.58h-10.79zM-2.16 311.33h10.79v10.58h-10.79zM40.99 311.33h10.79v10.58h-10.79zM51.77 311.33h10.79v10.58h-10.79zM148.85 311.33h10.79v10.58h-10.79zM170.42 311.33h10.79v10.58h-10.79zM213.57 311.33h10.79v10.58h-10.79zM224.36 311.33h10.79v10.58h-10.79zM289.07 311.33h10.79v10.58h-10.79zM-2.16 321.7h10.79v10.58h-10.79zM278.29 321.7h10.79v10.58h-10.79zM289.07 321.7h10.79v10.58h-10.79zM386.15 321.7h10.79v10.58h-10.79zM289.07 332.08h10.79v10.58h-10.79zM299.86 332.08h10.79v10.58h-10.79zM-2.16 342.46h10.79v10.58h-10.79zM62.56 342.46h10.79v10.58h-10.79zM84.13 342.46h10.79v10.58h-10.79zM94.92 342.46h10.79v10.58h-10.79zM170.42 342.46h10.79v10.58h-10.79zM181.21 342.46h10.79v10.58h-10.79zM289.07 342.46h10.79v10.58h-10.79zM364.58 342.46h10.79v10.58h-10.79zM105.71 352.84h10.79v10.58h-10.79zM116.49 352.84h10.79v10.58h-10.79zM138.07 363.21h10.79v10.58h-10.79zM170.42 363.21h10.79v10.58h-10.79zM289.07 363.21h10.79v10.58h-10.79zM343.01 363.21h10.79v10.58h-10.79zM353.79 363.21h10.79v10.58h-10.79zM202.78 373.59h10.79v10.58h-10.79zM245.93 373.59h10.79v10.58h-10.79zM278.29 373.59h10.79v10.58h-10.79zM299.86 373.59h10.79v10.58h-10.79zM8.63 383.97h10.79v10.58h-10.79zM116.49 383.97h10.79v10.58h-10.79zM148.85 383.97h10.79v10.58h-10.79zM202.78 383.97h10.79v10.58h-10.79zM278.29 383.97h10.79v10.58h-10.79zM289.07 383.97h10.79v10.58h-10.79zM450.87 383.97h10.79v10.58h-10.79zM8.63 394.35h10.79v10.58h-10.79zM116.49 394.35h10.79v10.58h-10.79zM148.85 394.35h10.79v10.58h-10.79zM51.77 404.72h10.79v10.58h-10.79zM192 404.72h10.79v10.58h-10.79zM267.5 404.72h10.79v10.58h-10.79zM332.22 404.72h10.79v10.58h-10.79z" fill="url(#gp)"/></g>
<g transform="translate(4.315 0)"><path d="M28.04 10.38h10.79v10.58h-10.79zM383.99 10.38h10.79v10.58h-10.79zM179.05 20.76h10.79v10.58h-10.79zM276.13 20.76h10.79v10.58h-10.79zM330.06 20.76h10.79v10.58h-10.79zM437.93 20.76h10.79v10.58h-10.79zM179.05 31.13h10.79v10.58h-10.79zM222.2 31.13h10.79v10.58h-10.79zM330.06 31.13h10.79v10.58h-10.79zM383.99 31.13h10.79v10.58h-10.79zM49.62 41.51h10.79v10.58h-10.79zM200.63 41.51h10.79v10.58h-10.79zM297.7 41.51h10.79v10.58h-10.79zM437.93 41.51h10.79v10.58h-10.79zM179.05 51.89h10.79v10.58h-10.79zM211.41 51.89h10.79v10.58h-10.79zM286.92 51.89h10.79v10.58h-10.79zM297.7 51.89h10.79v10.58h-10.79zM362.42 51.89h10.79v10.58h-10.79zM168.27 62.27h10.79v10.58h-10.79zM200.63 62.27h10.79v10.58h-10.79zM211.41 62.27h10.79v10.58h-10.79zM286.92 62.27h10.79v10.58h-10.79zM232.99 72.64h10.79v10.58h-10.79zM340.85 72.64h10.79v10.58h-10.79zM383.99 72.64h10.79v10.58h-10.79zM49.62 83.02h10.79v10.58h-10.79zM168.27 83.02h10.79v10.58h-10.79zM373.21 83.02h10.79v10.58h-10.79zM71.19 93.4h10.79v10.58h-10.79zM146.69 93.4h10.79v10.58h-10.79zM189.84 93.4h10.79v10.58h-10.79zM286.92 93.4h10.79v10.58h-10.79zM330.06 93.4h10.79v10.58h-10.79zM427.14 93.4h10.79v10.58h-10.79zM49.62 103.78h10.79v10.58h-10.79zM168.27 103.78h10.79v10.58h-10.79zM200.63 103.78h10.79v10.58h-10.79zM232.99 103.78h10.79v10.58h-10.79zM297.7 103.78h10.79v10.58h-10.79zM319.28 103.78h10.79v10.58h-10.79zM351.64 103.78h10.79v10.58h-10.79zM135.91 114.15h10.79v10.58h-10.79zM308.49 114.15h10.79v10.58h-10.79zM437.93 114.15h10.79v10.58h-10.79zM222.2 124.53h10.79v10.58h-10.79zM276.13 124.53h10.79v10.58h-10.79zM383.99 124.53h10.79v10.58h-10.79zM437.93 124.53h10.79v10.58h-10.79zM459.5 124.53h10.79v10.58h-10.79zM49.62 134.91h10.79v10.58h-10.79zM179.05 134.91h10.79v10.58h-10.79zM189.84 134.91h10.79v10.58h-10.79zM211.41 134.91h10.79v10.58h-10.79zM286.92 134.91h10.79v10.58h-10.79zM319.28 134.91h10.79v10.58h-10.79zM383.99 134.91h10.79v10.58h-10.79zM405.57 134.91h10.79v10.58h-10.79zM200.63 145.29h10.79v10.58h-10.79zM232.99 145.29h10.79v10.58h-10.79zM103.55 155.66h10.79v10.58h-10.79zM362.42 155.66h10.79v10.58h-10.79zM416.35 155.66h10.79v10.58h-10.79zM103.55 166.04h10.79v10.58h-10.79zM125.12 166.04h10.79v10.58h-10.79zM157.48 166.04h10.79v10.58h-10.79zM254.56 166.04h10.79v10.58h-10.79zM405.57 166.04h10.79v10.58h-10.79zM416.35 166.04h10.79v10.58h-10.79zM437.93 166.04h10.79v10.58h-10.79zM232.99 176.42h10.79v10.58h-10.79zM394.78 176.42h10.79v10.58h-10.79zM405.57 176.42h10.79v10.58h-10.79zM92.76 186.8h10.79v10.58h-10.79zM157.48 186.8h10.79v10.58h-10.79zM276.13 186.8h10.79v10.58h-10.79zM394.78 186.8h10.79v10.58h-10.79zM114.34 197.17h10.79v10.58h-10.79zM92.76 207.55h10.79v10.58h-10.79zM146.69 207.55h10.79v10.58h-10.79zM265.34 207.55h10.79v10.58h-10.79zM437.93 217.93h10.79v10.58h-10.79zM92.76 228.31h10.79v10.58h-10.79zM200.63 228.31h10.79v10.58h-10.79zM362.42 228.31h10.79v10.58h-10.79zM394.78 228.31h10.79v10.58h-10.79zM179.05 238.68h10.79v10.58h-10.79zM254.56 238.68h10.79v10.58h-10.79zM330.06 238.68h10.79v10.58h-10.79zM351.64 238.68h10.79v10.58h-10.79zM362.42 238.68h10.79v10.58h-10.79zM114.34 249.06h10.79v10.58h-10.79zM71.19 259.44h10.79v10.58h-10.79zM168.27 259.44h10.79v10.58h-10.79zM232.99 259.44h10.79v10.58h-10.79zM308.49 259.44h10.79v10.58h-10.79zM168.27 269.82h10.79v10.58h-10.79zM351.64 269.82h10.79v10.58h-10.79zM362.42 269.82h10.79v10.58h-10.79zM135.91 280.19h10.79v10.58h-10.79zM286.92 280.19h10.79v10.58h-10.79zM340.85 280.19h10.79v10.58h-10.79zM71.19 290.57h10.79v10.58h-10.79zM157.48 290.57h10.79v10.58h-10.79zM276.13 290.57h10.79v10.58h-10.79zM286.92 290.57h10.79v10.58h-10.79zM308.49 290.57h10.79v10.58h-10.79zM427.14 290.57h10.79v10.58h-10.79zM-4.31 300.95h10.79v10.58h-10.79zM125.12 300.95h10.79v10.58h-10.79zM211.41 300.95h10.79v10.58h-10.79zM394.78 300.95h10.79v10.58h-10.79zM92.76 311.33h10.79v10.58h-10.79zM157.48 311.33h10.79v10.58h-10.79zM243.77 311.33h10.79v10.58h-10.79zM330.06 311.33h10.79v10.58h-10.79zM38.83 321.7h10.79v10.58h-10.79zM222.2 321.7h10.79v10.58h-10.79zM232.99 321.7h10.79v10.58h-10.79zM351.64 321.7h10.79v10.58h-10.79zM362.42 321.7h10.79v10.58h-10.79zM-4.31 332.08h10.79v10.58h-10.79zM135.91 332.08h10.79v10.58h-10.79zM168.27 332.08h10.79v10.58h-10.79zM222.2 332.08h10.79v10.58h-10.79zM146.69 342.46h10.79v10.58h-10.79zM157.48 342.46h10.79v10.58h-10.79zM211.41 342.46h10.79v10.58h-10.79zM28.04 352.84h10.79v10.58h-10.79zM157.48 352.84h10.79v10.58h-10.79zM168.27 352.84h10.79v10.58h-10.79zM232.99 352.84h10.79v10.58h-10.79zM254.56 352.84h10.79v10.58h-10.79zM28.04 363.21h10.79v10.58h-10.79zM71.19 363.21h10.79v10.58h-10.79zM254.56 363.21h10.79v10.58h-10.79zM276.13 363.21h10.79v10.58h-10.79zM81.98 373.59h10.79v10.58h-10.79zM319.28 373.59h10.79v10.58h-10.79zM437.93 373.59h10.79v10.58h-10.79zM71.19 383.97h10.79v10.58h-10.79zM125.12 383.97h10.79v10.58h-10.79zM157.48 383.97h10.79v10.58h-10.79zM254.56 383.97h10.79v10.58h-10.79zM254.56 394.35h10.79v10.58h-10.79zM308.49 394.35h10.79v10.58h-10.79zM405.57 394.35h10.79v10.58h-10.79zM416.35 394.35h10.79v10.58h-10.79zM427.14 394.35h10.79v10.58h-10.79zM28.04 404.72h10.79v10.58h-10.79zM405.57 404.72h10.79v10.58h-10.79z" fill="url(#gp)"/></g>
<g transform="translate(6.472 0)"><path d="M69.03 20.76h10.79v10.58h-10.79zM58.25 31.13h10.79v10.58h-10.79zM263.19 31.13h10.79v10.58h-10.79zM349.48 31.13h10.79v10.58h-10.79zM371.05 41.51h10.79v10.58h-10.79zM47.46 51.89h10.79v10.58h-10.79zM198.47 51.89h10.79v10.58h-10.79zM424.98 51.89h10.79v10.58h-10.79zM112.18 62.27h10.79v10.58h-10.79zM230.83 62.27h10.79v10.58h-10.79zM241.61 62.27h10.79v10.58h-10.79zM273.97 62.27h10.79v10.58h-10.79zM306.33 62.27h10.79v10.58h-10.79zM327.91 62.27h10.79v10.58h-10.79zM360.26 62.27h10.79v10.58h-10.79zM79.82 72.64h10.79v10.58h-10.79zM209.26 72.64h10.79v10.58h-10.79zM317.12 72.64h10.79v10.58h-10.79zM360.26 72.64h10.79v10.58h-10.79zM414.2 72.64h10.79v10.58h-10.79zM36.67 83.02h10.79v10.58h-10.79zM263.19 83.02h10.79v10.58h-10.79zM295.55 83.02h10.79v10.58h-10.79zM295.55 93.4h10.79v10.58h-10.79zM435.77 93.4h10.79v10.58h-10.79zM284.76 103.78h10.79v10.58h-10.79zM381.84 103.78h10.79v10.58h-10.79zM392.62 103.78h10.79v10.58h-10.79zM284.76 114.15h10.79v10.58h-10.79zM457.34 114.15h10.79v10.58h-10.79zM58.25 124.53h10.79v10.58h-10.79zM79.82 124.53h10.79v10.58h-10.79zM101.39 124.53h10.79v10.58h-10.79zM187.68 124.53h10.79v10.58h-10.79zM327.91 124.53h10.79v10.58h-10.79zM414.2 124.53h10.79v10.58h-10.79zM101.39 134.91h10.79v10.58h-10.79zM155.32 134.91h10.79v10.58h-10.79zM166.11 134.91h10.79v10.58h-10.79zM273.97 134.91h10.79v10.58h-10.79zM349.48 134.91h10.79v10.58h-10.79zM58.25 145.29h10.79v10.58h-10.79zM252.4 145.29h10.79v10.58h-10.79zM371.05 145.29h10.79v10.58h-10.79zM90.61 155.66h10.79v10.58h-10.79zM176.9 155.66h10.79v10.58h-10.79zM220.04 155.66h10.79v10.58h-10.79zM273.97 155.66h10.79v10.58h-10.79zM446.56 155.66h10.79v10.58h-10.79zM187.68 166.04h10.79v10.58h-10.79zM155.32 176.42h10.79v10.58h-10.79zM209.26 176.42h10.79v10.58h-10.79zM252.4 176.42h10.79v10.58h-10.79zM381.84 176.42h10.79v10.58h-10.79zM414.2 176.42h10.79v10.58h-10.79zM79.82 186.8h10.79v10.58h-10.79zM112.18 186.8h10.79v10.58h-10.79zM284.76 186.8h10.79v10.58h-10.79zM414.2 186.8h10.79v10.58h-10.79zM101.39 197.17h10.79v10.58h-10.79zM144.54 197.17h10.79v10.58h-10.79zM209.26 197.17h10.79v10.58h-10.79zM317.12 197.17h10.79v10.58h-10.79zM349.48 197.17h10.79v10.58h-10.79zM371.05 197.17h10.79v10.58h-10.79zM36.67 207.55h10.79v10.58h-10.79zM79.82 207.55h10.79v10.58h-10.79zM306.33 207.55h10.79v10.58h-10.79zM317.12 207.55h10.79v10.58h-10.79zM381.84 207.55h10.79v10.58h-10.79zM403.41 207.55h10.79v10.58h-10.79zM414.2 207.55h10.79v10.58h-10.79zM435.77 207.55h10.79v10.58h-10.79zM36.67 217.93h10.79v10.58h-10.79zM360.26 217.93h10.79v10.58h-10.79zM47.46 228.31h10.79v10.58h-10.79zM58.25 228.31h10.79v10.58h-10.79zM252.4 228.31h10.79v10.58h-10.79zM414.2 228.31h10.79v10.58h-10.79zM69.03 238.68h10.79v10.58h-10.79zM90.61 238.68h10.79v10.58h-10.79zM155.32 238.68h10.79v10.58h-10.79zM209.26 238.68h10.79v10.58h-10.79zM220.04 238.68h10.79v10.58h-10.79zM435.77 238.68h10.79v10.58h-10.79zM69.03 249.06h10.79v10.58h-10.79zM144.54 249.06h10.79v10.58h-10.79zM155.32 249.06h10.79v10.58h-10.79zM252.4 249.06h10.79v10.58h-10.79zM295.55 249.06h10.79v10.58h-10.79zM36.67 259.44h10.79v10.58h-10.79zM112.18 259.44h10.79v10.58h-10.79zM122.96 259.44h10.79v10.58h-10.79zM144.54 259.44h10.79v10.58h-10.79zM155.32 259.44h10.79v10.58h-10.79zM209.26 259.44h10.79v10.58h-10.79zM241.61 259.44h10.79v10.58h-10.79zM338.69 259.44h10.79v10.58h-10.79zM381.84 259.44h10.79v10.58h-10.79zM457.34 259.44h10.79v10.58h-10.79zM133.75 269.82h10.79v10.58h-10.79zM155.32 269.82h10.79v10.58h-10.79zM230.83 269.82h10.79v10.58h-10.79zM252.4 269.82h10.79v10.58h-10.79zM371.05 269.82h10.79v10.58h-10.79zM381.84 269.82h10.79v10.58h-10.79zM435.77 269.82h10.79v10.58h-10.79zM457.34 269.82h10.79v10.58h-10.79zM155.32 280.19h10.79v10.58h-10.79zM403.41 280.19h10.79v10.58h-10.79zM166.11 290.57h10.79v10.58h-10.79zM338.69 290.57h10.79v10.58h-10.79zM381.84 290.57h10.79v10.58h-10.79zM414.2 290.57h10.79v10.58h-10.79zM25.89 300.95h10.79v10.58h-10.79zM69.03 300.95h10.79v10.58h-10.79zM90.61 300.95h10.79v10.58h-10.79zM155.32 300.95h10.79v10.58h-10.79zM273.97 300.95h10.79v10.58h-10.79zM69.03 311.33h10.79v10.58h-10.79zM122.96 311.33h10.79v10.58h-10.79zM166.11 321.7h10.79v10.58h-10.79zM263.19 321.7h10.79v10.58h-10.79zM36.67 332.08h10.79v10.58h-10.79zM47.46 332.08h10.79v10.58h-10.79zM58.25 332.08h10.79v10.58h-10.79zM144.54 332.08h10.79v10.58h-10.79zM371.05 332.08h10.79v10.58h-10.79zM36.67 342.46h10.79v10.58h-10.79zM403.41 342.46h10.79v10.58h-10.79zM69.03 352.84h10.79v10.58h-10.79zM133.75 352.84h10.79v10.58h-10.79zM327.91 352.84h10.79v10.58h-10.79zM403.41 352.84h10.79v10.58h-10.79zM424.98 352.84h10.79v10.58h-10.79zM58.25 363.21h10.79v10.58h-10.79zM79.82 363.21h10.79v10.58h-10.79zM101.39 363.21h10.79v10.58h-10.79zM220.04 363.21h10.79v10.58h-10.79zM381.84 363.21h10.79v10.58h-10.79zM36.67 373.59h10.79v10.58h-10.79zM252.4 373.59h10.79v10.58h-10.79zM306.33 373.59h10.79v10.58h-10.79zM360.26 373.59h10.79v10.58h-10.79zM381.84 373.59h10.79v10.58h-10.79zM230.83 383.97h10.79v10.58h-10.79zM241.61 383.97h10.79v10.58h-10.79zM327.91 383.97h10.79v10.58h-10.79zM69.03 394.35h10.79v10.58h-10.79zM176.9 394.35h10.79v10.58h-10.79zM263.19 394.35h10.79v10.58h-10.79zM295.55 394.35h10.79v10.58h-10.79zM58.25 404.72h10.79v10.58h-10.79zM306.33 404.72h10.79v10.58h-10.79zM360.26 404.72h10.79v10.58h-10.79z" fill="url(#gp)"/></g>
<g transform="translate(8.629 0)"><path d="M56.09 10.38h10.79v10.58h-10.79zM77.66 10.38h10.79v10.58h-10.79zM153.17 10.38h10.79v10.58h-10.79zM34.52 20.76h10.79v10.58h-10.79zM45.3 20.76h10.79v10.58h-10.79zM77.66 20.76h10.79v10.58h-10.79zM99.23 20.76h10.79v10.58h-10.79zM153.17 20.76h10.79v10.58h-10.79zM163.95 20.76h10.79v10.58h-10.79zM390.47 20.76h10.79v10.58h-10.79zM66.88 31.13h10.79v10.58h-10.79zM185.53 31.13h10.79v10.58h-10.79zM250.24 31.13h10.79v10.58h-10.79zM99.23 41.51h10.79v10.58h-10.79zM250.24 41.51h10.79v10.58h-10.79zM261.03 41.51h10.79v10.58h-10.79zM379.68 41.51h10.79v10.58h-10.79zM455.18 41.51h10.79v10.58h-10.79zM153.17 62.27h10.79v10.58h-10.79zM217.88 62.27h10.79v10.58h-10.79zM250.24 62.27h10.79v10.58h-10.79zM314.96 62.27h10.79v10.58h-10.79zM379.68 62.27h10.79v10.58h-10.79zM433.61 62.27h10.79v10.58h-10.79zM455.18 62.27h10.79v10.58h-10.79zM174.74 72.64h10.79v10.58h-10.79zM196.31 72.64h10.79v10.58h-10.79zM261.03 72.64h10.79v10.58h-10.79zM271.82 72.64h10.79v10.58h-10.79zM368.89 72.64h10.79v10.58h-10.79zM422.83 72.64h10.79v10.58h-10.79zM174.74 83.02h10.79v10.58h-10.79zM412.04 83.02h10.79v10.58h-10.79zM422.83 83.02h10.79v10.58h-10.79zM120.81 103.78h10.79v10.58h-10.79zM217.88 103.78h10.79v10.58h-10.79zM412.04 103.78h10.79v10.58h-10.79zM433.61 103.78h10.79v10.58h-10.79zM99.23 114.15h10.79v10.58h-10.79zM325.75 114.15h10.79v10.58h-10.79zM336.53 114.15h10.79v10.58h-10.79zM347.32 114.15h10.79v10.58h-10.79zM34.52 124.53h10.79v10.58h-10.79zM347.32 124.53h10.79v10.58h-10.79zM358.11 124.53h10.79v10.58h-10.79zM444.4 124.53h10.79v10.58h-10.79zM34.52 134.91h10.79v10.58h-10.79zM131.59 134.91h10.79v10.58h-10.79zM293.39 134.91h10.79v10.58h-10.79zM390.47 134.91h10.79v10.58h-10.79zM444.4 134.91h10.79v10.58h-10.79zM23.73 145.29h10.79v10.58h-10.79zM34.52 145.29h10.79v10.58h-10.79zM99.23 145.29h10.79v10.58h-10.79zM174.74 145.29h10.79v10.58h-10.79zM412.04 145.29h10.79v10.58h-10.79zM444.4 145.29h10.79v10.58h-10.79zM56.09 155.66h10.79v10.58h-10.79zM153.17 155.66h10.79v10.58h-10.79zM185.53 155.66h10.79v10.58h-10.79zM336.53 155.66h10.79v10.58h-10.79zM174.74 166.04h10.79v10.58h-10.79zM444.4 166.04h10.79v10.58h-10.79zM66.88 176.42h10.79v10.58h-10.79zM174.74 176.42h10.79v10.58h-10.79zM45.3 186.8h10.79v10.58h-10.79zM99.23 186.8h10.79v10.58h-10.79zM120.81 186.8h10.79v10.58h-10.79zM131.59 186.8h10.79v10.58h-10.79zM34.52 197.17h10.79v10.58h-10.79zM77.66 197.17h10.79v10.58h-10.79zM131.59 197.17h10.79v10.58h-10.79zM217.88 197.17h10.79v10.58h-10.79zM250.24 197.17h10.79v10.58h-10.79zM412.04 197.17h10.79v10.58h-10.79zM23.73 207.55h10.79v10.58h-10.79zM45.3 207.55h10.79v10.58h-10.79zM250.24 207.55h10.79v10.58h-10.79zM422.83 207.55h10.79v10.58h-10.79zM77.66 217.93h10.79v10.58h-10.79zM131.59 217.93h10.79v10.58h-10.79zM142.38 228.31h10.79v10.58h-10.79zM422.83 228.31h10.79v10.58h-10.79zM45.3 238.68h10.79v10.58h-10.79zM163.95 238.68h10.79v10.58h-10.79zM455.18 238.68h10.79v10.58h-10.79zM-8.63 249.06h10.79v10.58h-10.79zM174.74 249.06h10.79v10.58h-10.79zM185.53 249.06h10.79v10.58h-10.79zM207.1 249.06h10.79v10.58h-10.79zM217.88 249.06h10.79v10.58h-10.79zM228.67 249.06h10.79v10.58h-10.79zM282.6 249.06h10.79v10.58h-10.79zM347.32 249.06h10.79v10.58h-10.79zM379.68 249.06h10.79v10.58h-10.79zM455.18 249.06h10.79v10.58h-10.79zM77.66 259.44h10.79v10.58h-10.79zM250.24 259.44h10.79v10.58h-10.79zM293.39 259.44h10.79v10.58h-10.79zM347.32 259.44h10.79v10.58h-10.79zM293.39 269.82h10.79v10.58h-10.79zM336.53 269.82h10.79v10.58h-10.79zM390.47 269.82h10.79v10.58h-10.79zM34.52 280.19h10.79v10.58h-10.79zM347.32 280.19h10.79v10.58h-10.79zM379.68 280.19h10.79v10.58h-10.79zM131.59 290.57h10.79v10.58h-10.79zM228.67 290.57h10.79v10.58h-10.79zM56.09 300.95h10.79v10.58h-10.79zM196.31 300.95h10.79v10.58h-10.79zM228.67 300.95h10.79v10.58h-10.79zM314.96 300.95h10.79v10.58h-10.79zM433.61 300.95h10.79v10.58h-10.79zM23.73 311.33h10.79v10.58h-10.79zM261.03 311.33h10.79v10.58h-10.79zM271.82 311.33h10.79v10.58h-10.79zM412.04 311.33h10.79v10.58h-10.79zM2.16 321.7h10.79v10.58h-10.79zM293.39 321.7h10.79v10.58h-10.79zM433.61 321.7h10.79v10.58h-10.79zM23.73 332.08h10.79v10.58h-10.79zM99.23 332.08h10.79v10.58h-10.79zM228.67 332.08h10.79v10.58h-10.79zM239.46 332.08h10.79v10.58h-10.79zM250.24 332.08h10.79v10.58h-10.79zM261.03 332.08h10.79v10.58h-10.79zM433.61 332.08h10.79v10.58h-10.79zM131.59 342.46h10.79v10.58h-10.79zM261.03 342.46h10.79v10.58h-10.79zM293.39 342.46h10.79v10.58h-10.79zM379.68 342.46h10.79v10.58h-10.79zM34.52 352.84h10.79v10.58h-10.79zM207.1 352.84h10.79v10.58h-10.79zM304.18 363.21h10.79v10.58h-10.79zM358.11 363.21h10.79v10.58h-10.79zM401.25 363.21h10.79v10.58h-10.79zM412.04 363.21h10.79v10.58h-10.79zM433.61 363.21h10.79v10.58h-10.79zM23.73 373.59h10.79v10.58h-10.79zM56.09 373.59h10.79v10.58h-10.79zM120.81 373.59h10.79v10.58h-10.79zM131.59 373.59h10.79v10.58h-10.79zM325.75 373.59h10.79v10.58h-10.79zM336.53 373.59h10.79v10.58h-10.79zM34.52 383.97h10.79v10.58h-10.79zM207.1 383.97h10.79v10.58h-10.79zM23.73 394.35h10.79v10.58h-10.79zM34.52 394.35h10.79v10.58h-10.79zM153.17 394.35h10.79v10.58h-10.79zM314.96 394.35h10.79v10.58h-10.79zM455.18 394.35h10.79v10.58h-10.79zM34.52 404.72h10.79v10.58h-10.79zM88.45 404.72h10.79v10.58h-10.79zM163.95 404.72h10.79v10.58h-10.79zM217.88 404.72h10.79v10.58h-10.79zM282.6 404.72h10.79v10.58h-10.79zM455.18 404.72h10.79v10.58h-10.79z" fill="url(#gp)"/></g>
<g transform="translate(10.786 0)"><path d="M258.87 10.38h10.79v10.58h-10.79zM-10.79 20.76h10.79v10.58h-10.79zM118.65 20.76h10.79v10.58h-10.79zM183.37 20.76h10.79v10.58h-10.79zM248.09 20.76h10.79v10.58h-10.79zM377.52 20.76h10.79v10.58h-10.79zM453.03 20.76h10.79v10.58h-10.79zM10.79 31.13h10.79v10.58h-10.79zM32.36 31.13h10.79v10.58h-10.79zM75.5 31.13h10.79v10.58h-10.79zM237.3 31.13h10.79v10.58h-10.79zM453.03 31.13h10.79v10.58h-10.79zM75.5 41.51h10.79v10.58h-10.79zM118.65 41.51h10.79v10.58h-10.79zM204.94 41.51h10.79v10.58h-10.79zM323.59 41.51h10.79v10.58h-10.79zM32.36 51.89h10.79v10.58h-10.79zM97.08 51.89h10.79v10.58h-10.79zM248.09 51.89h10.79v10.58h-10.79zM312.8 51.89h10.79v10.58h-10.79zM453.03 51.89h10.79v10.58h-10.79zM291.23 62.27h10.79v10.58h-10.79zM334.38 62.27h10.79v10.58h-10.79zM388.31 62.27h10.79v10.58h-10.79zM118.65 72.64h10.79v10.58h-10.79zM129.44 72.64h10.79v10.58h-10.79zM151.01 72.64h10.79v10.58h-10.79zM215.73 72.64h10.79v10.58h-10.79zM291.23 72.64h10.79v10.58h-10.79zM183.37 83.02h10.79v10.58h-10.79zM226.51 83.02h10.79v10.58h-10.79zM248.09 83.02h10.79v10.58h-10.79zM280.45 83.02h10.79v10.58h-10.79zM151.01 93.4h10.79v10.58h-10.79zM248.09 93.4h10.79v10.58h-10.79zM269.66 93.4h10.79v10.58h-10.79zM442.24 93.4h10.79v10.58h-10.79zM258.87 103.78h10.79v10.58h-10.79zM302.02 103.78h10.79v10.58h-10.79zM334.38 103.78h10.79v10.58h-10.79zM366.74 103.78h10.79v10.58h-10.79zM442.24 103.78h10.79v10.58h-10.79zM53.93 114.15h10.79v10.58h-10.79zM409.88 114.15h10.79v10.58h-10.79zM442.24 114.15h10.79v10.58h-10.79zM21.57 134.91h10.79v10.58h-10.79zM53.93 134.91h10.79v10.58h-10.79zM118.65 134.91h10.79v10.58h-10.79zM258.87 134.91h10.79v10.58h-10.79zM10.79 145.29h10.79v10.58h-10.79zM118.65 145.29h10.79v10.58h-10.79zM269.66 145.29h10.79v10.58h-10.79zM302.02 145.29h10.79v10.58h-10.79zM323.59 145.29h10.79v10.58h-10.79zM431.45 145.29h10.79v10.58h-10.79zM10.79 155.66h10.79v10.58h-10.79zM280.45 155.66h10.79v10.58h-10.79zM431.45 155.66h10.79v10.58h-10.79zM21.57 166.04h10.79v10.58h-10.79zM53.93 166.04h10.79v10.58h-10.79zM64.72 166.04h10.79v10.58h-10.79zM129.44 166.04h10.79v10.58h-10.79zM194.15 166.04h10.79v10.58h-10.79zM323.59 166.04h10.79v10.58h-10.79zM334.38 166.04h10.79v10.58h-10.79zM420.67 166.04h10.79v10.58h-10.79zM97.08 176.42h10.79v10.58h-10.79zM269.66 176.42h10.79v10.58h-10.79zM355.95 176.42h10.79v10.58h-10.79zM442.24 176.42h10.79v10.58h-10.79zM0 186.8h10.79v10.58h-10.79zM64.72 186.8h10.79v10.58h-10.79zM215.73 186.8h10.79v10.58h-10.79zM453.03 186.8h10.79v10.58h-10.79zM269.66 197.17h10.79v10.58h-10.79zM334.38 197.17h10.79v10.58h-10.79zM355.95 197.17h10.79v10.58h-10.79zM-10.79 207.55h10.79v10.58h-10.79zM97.08 207.55h10.79v10.58h-10.79zM151.01 207.55h10.79v10.58h-10.79zM280.45 207.55h10.79v10.58h-10.79zM291.23 207.55h10.79v10.58h-10.79zM453.03 207.55h10.79v10.58h-10.79zM-10.79 217.93h10.79v10.58h-10.79zM21.57 217.93h10.79v10.58h-10.79zM43.15 217.93h10.79v10.58h-10.79zM194.15 217.93h10.79v10.58h-10.79zM312.8 217.93h10.79v10.58h-10.79zM453.03 217.93h10.79v10.58h-10.79zM-10.79 228.31h10.79v10.58h-10.79zM129.44 228.31h10.79v10.58h-10.79zM151.01 228.31h10.79v10.58h-10.79zM442.24 228.31h10.79v10.58h-10.79zM453.03 228.31h10.79v10.58h-10.79zM-10.79 238.68h10.79v10.58h-10.79zM226.51 238.68h10.79v10.58h-10.79zM258.87 238.68h10.79v10.58h-10.79zM409.88 238.68h10.79v10.58h-10.79zM442.24 238.68h10.79v10.58h-10.79zM97.08 249.06h10.79v10.58h-10.79zM161.8 249.06h10.79v10.58h-10.79zM258.87 249.06h10.79v10.58h-10.79zM269.66 249.06h10.79v10.58h-10.79zM-10.79 259.44h10.79v10.58h-10.79zM258.87 259.44h10.79v10.58h-10.79zM312.8 259.44h10.79v10.58h-10.79zM399.1 259.44h10.79v10.58h-10.79zM32.36 269.82h10.79v10.58h-10.79zM53.93 269.82h10.79v10.58h-10.79zM107.86 269.82h10.79v10.58h-10.79zM409.88 269.82h10.79v10.58h-10.79zM64.72 280.19h10.79v10.58h-10.79zM97.08 280.19h10.79v10.58h-10.79zM118.65 280.19h10.79v10.58h-10.79zM226.51 280.19h10.79v10.58h-10.79zM10.79 290.57h10.79v10.58h-10.79zM86.29 290.57h10.79v10.58h-10.79zM107.86 290.57h10.79v10.58h-10.79zM140.22 290.57h10.79v10.58h-10.79zM215.73 290.57h10.79v10.58h-10.79zM248.09 290.57h10.79v10.58h-10.79zM0 300.95h10.79v10.58h-10.79zM43.15 300.95h10.79v10.58h-10.79zM280.45 300.95h10.79v10.58h-10.79zM0 311.33h10.79v10.58h-10.79zM291.23 311.33h10.79v10.58h-10.79zM312.8 311.33h10.79v10.58h-10.79zM334.38 311.33h10.79v10.58h-10.79zM43.15 321.7h10.79v10.58h-10.79zM334.38 321.7h10.79v10.58h-10.79zM399.1 321.7h10.79v10.58h-10.79zM312.8 332.08h10.79v10.58h-10.79zM345.16 332.08h10.79v10.58h-10.79zM43.15 342.46h10.79v10.58h-10.79zM64.72 342.46h10.79v10.58h-10.79zM345.16 342.46h10.79v10.58h-10.79zM366.74 342.46h10.79v10.58h-10.79zM291.23 352.84h10.79v10.58h-10.79zM302.02 352.84h10.79v10.58h-10.79zM312.8 352.84h10.79v10.58h-10.79zM377.52 352.84h10.79v10.58h-10.79zM107.86 363.21h10.79v10.58h-10.79zM323.59 363.21h10.79v10.58h-10.79zM43.15 373.59h10.79v10.58h-10.79zM97.08 373.59h10.79v10.58h-10.79zM107.86 373.59h10.79v10.58h-10.79zM151.01 373.59h10.79v10.58h-10.79zM409.88 373.59h10.79v10.58h-10.79zM453.03 373.59h10.79v10.58h-10.79zM302.02 383.97h10.79v10.58h-10.79zM388.31 383.97h10.79v10.58h-10.79zM453.03 383.97h10.79v10.58h-10.79zM355.95 394.35h10.79v10.58h-10.79zM377.52 394.35h10.79v10.58h-10.79zM75.5 404.72h10.79v10.58h-10.79zM269.66 404.72h10.79v10.58h-10.79zM345.16 404.72h10.79v10.58h-10.79z" fill="url(#gp)"/></g>
<g transform="translate(12.944 0)"><path d="M-12.94 10.38h10.79v10.58h-10.79zM-2.16 10.38h10.79v10.58h-10.79zM40.99 10.38h10.79v10.58h-10.79zM105.71 10.38h10.79v10.58h-10.79zM116.49 10.38h10.79v10.58h-10.79zM245.93 10.38h10.79v10.58h-10.79zM267.5 10.38h10.79v10.58h-10.79zM278.29 10.38h10.79v10.58h-10.79zM289.07 10.38h10.79v10.58h-10.79zM343.01 10.38h10.79v10.58h-10.79zM407.72 10.38h10.79v10.58h-10.79zM418.51 10.38h10.79v10.58h-10.79zM450.87 10.38h10.79v10.58h-10.79zM-2.16 20.76h10.79v10.58h-10.79zM8.63 20.76h10.79v10.58h-10.79zM396.94 20.76h10.79v10.58h-10.79zM440.08 20.76h10.79v10.58h-10.79zM-12.94 31.13h10.79v10.58h-10.79zM-2.16 31.13h10.79v10.58h-10.79zM105.71 31.13h10.79v10.58h-10.79zM116.49 31.13h10.79v10.58h-10.79zM310.65 31.13h10.79v10.58h-10.79zM332.22 31.13h10.79v10.58h-10.79zM386.15 31.13h10.79v10.58h-10.79zM396.94 31.13h10.79v10.58h-10.79zM407.72 31.13h10.79v10.58h-10.79zM-2.16 41.51h10.79v10.58h-10.79zM8.63 41.51h10.79v10.58h-10.79zM310.65 41.51h10.79v10.58h-10.79zM332.22 41.51h10.79v10.58h-10.79zM343.01 41.51h10.79v10.58h-10.79zM-12.94 51.89h10.79v10.58h-10.79zM224.36 51.89h10.79v10.58h-10.79zM256.72 51.89h10.79v10.58h-10.79zM267.5 51.89h10.79v10.58h-10.79zM375.37 51.89h10.79v10.58h-10.79zM407.72 51.89h10.79v10.58h-10.79zM-12.94 72.64h10.79v10.58h-10.79zM40.99 72.64h10.79v10.58h-10.79zM94.92 72.64h10.79v10.58h-10.79zM-12.94 83.02h10.79v10.58h-10.79zM19.42 83.02h10.79v10.58h-10.79zM148.85 83.02h10.79v10.58h-10.79zM192 83.02h10.79v10.58h-10.79zM343.01 83.02h10.79v10.58h-10.79zM353.79 83.02h10.79v10.58h-10.79zM440.08 83.02h10.79v10.58h-10.79zM450.87 83.02h10.79v10.58h-10.79zM94.92 93.4h10.79v10.58h-10.79zM127.28 93.4h10.79v10.58h-10.79zM159.64 93.4h10.79v10.58h-10.79zM396.94 93.4h10.79v10.58h-10.79zM30.2 103.78h10.79v10.58h-10.79zM51.77 103.78h10.79v10.58h-10.79zM62.56 103.78h10.79v10.58h-10.79zM94.92 103.78h10.79v10.58h-10.79zM127.28 103.78h10.79v10.58h-10.79zM353.79 103.78h10.79v10.58h-10.79zM450.87 103.78h10.79v10.58h-10.79zM181.21 114.15h10.79v10.58h-10.79zM375.37 114.15h10.79v10.58h-10.79zM224.36 124.53h10.79v10.58h-10.79zM332.22 124.53h10.79v10.58h-10.79zM62.56 134.91h10.79v10.58h-10.79zM407.72 134.91h10.79v10.58h-10.79zM-12.94 145.29h10.79v10.58h-10.79zM62.56 145.29h10.79v10.58h-10.79zM138.07 145.29h10.79v10.58h-10.79zM159.64 145.29h10.79v10.58h-10.79zM181.21 145.29h10.79v10.58h-10.79zM256.72 145.29h10.79v10.58h-10.79zM289.07 145.29h10.79v10.58h-10.79zM310.65 145.29h10.79v10.58h-10.79zM-12.94 155.66h10.79v10.58h-10.79zM138.07 155.66h10.79v10.58h-10.79zM159.64 155.66h10.79v10.58h-10.79zM192 155.66h10.79v10.58h-10.79zM202.78 155.66h10.79v10.58h-10.79zM256.72 155.66h10.79v10.58h-10.79zM299.86 155.66h10.79v10.58h-10.79zM310.65 155.66h10.79v10.58h-10.79zM364.58 155.66h10.79v10.58h-10.79zM-2.16 166.04h10.79v10.58h-10.79zM84.13 166.04h10.79v10.58h-10.79zM105.71 166.04h10.79v10.58h-10.79zM159.64 166.04h10.79v10.58h-10.79zM213.57 166.04h10.79v10.58h-10.79zM256.72 166.04h10.79v10.58h-10.79zM267.5 166.04h10.79v10.58h-10.79zM299.86 166.04h10.79v10.58h-10.79zM343.01 166.04h10.79v10.58h-10.79zM450.87 166.04h10.79v10.58h-10.79zM-12.94 176.42h10.79v10.58h-10.79zM-2.16 176.42h10.79v10.58h-10.79zM30.2 176.42h10.79v10.58h-10.79zM51.77 176.42h10.79v10.58h-10.79zM105.71 176.42h10.79v10.58h-10.79zM127.28 176.42h10.79v10.58h-10.79zM159.64 176.42h10.79v10.58h-10.79zM181.21 176.42h10.79v10.58h-10.79zM299.86 176.42h10.79v10.58h-10.79zM310.65 176.42h10.79v10.58h-10.79zM429.3 176.42h10.79v10.58h-10.79zM450.87 176.42h10.79v10.58h-10.79zM8.63 186.8h10.79v10.58h-10.79zM51.77 186.8h10.79v10.58h-10.79zM159.64 186.8h10.79v10.58h-10.79zM245.93 186.8h10.79v10.58h-10.79zM310.65 186.8h10.79v10.58h-10.79zM321.43 186.8h10.79v10.58h-10.79zM396.94 186.8h10.79v10.58h-10.79zM429.3 186.8h10.79v10.58h-10.79zM440.08 186.8h10.79v10.58h-10.79zM-12.94 197.17h10.79v10.58h-10.79zM40.99 197.17h10.79v10.58h-10.79zM192 197.17h10.79v10.58h-10.79zM429.3 197.17h10.79v10.58h-10.79zM440.08 197.17h10.79v10.58h-10.79zM450.87 197.17h10.79v10.58h-10.79zM-2.16 207.55h10.79v10.58h-10.79zM192 207.55h10.79v10.58h-10.79zM213.57 207.55h10.79v10.58h-10.79zM224.36 207.55h10.79v10.58h-10.79zM267.5 207.55h10.79v10.58h-10.79zM353.79 207.55h10.79v10.58h-10.79zM-2.16 217.93h10.79v10.58h-10.79zM62.56 217.93h10.79v10.58h-10.79zM148.85 217.93h10.79v10.58h-10.79zM159.64 217.93h10.79v10.58h-10.79zM245.93 217.93h10.79v10.58h-10.79zM267.5 217.93h10.79v10.58h-10.79zM364.58 217.93h10.79v10.58h-10.79zM440.08 217.93h10.79v10.58h-10.79zM-2.16 228.31h10.79v10.58h-10.79zM62.56 228.31h10.79v10.58h-10.79zM-2.16 238.68h10.79v10.58h-10.79zM30.2 238.68h10.79v10.58h-10.79zM73.35 238.68h10.79v10.58h-10.79zM116.49 238.68h10.79v10.58h-10.79zM127.28 238.68h10.79v10.58h-10.79zM138.07 238.68h10.79v10.58h-10.79zM235.14 238.68h10.79v10.58h-10.79zM267.5 238.68h10.79v10.58h-10.79zM375.37 238.68h10.79v10.58h-10.79zM30.2 249.06h10.79v10.58h-10.79zM73.35 249.06h10.79v10.58h-10.79zM84.13 249.06h10.79v10.58h-10.79zM299.86 249.06h10.79v10.58h-10.79zM407.72 249.06h10.79v10.58h-10.79zM440.08 249.06h10.79v10.58h-10.79zM84.13 259.44h10.79v10.58h-10.79zM364.58 259.44h10.79v10.58h-10.79zM418.51 259.44h10.79v10.58h-10.79zM429.3 259.44h10.79v10.58h-10.79zM-2.16 269.82h10.79v10.58h-10.79zM73.35 269.82h10.79v10.58h-10.79zM84.13 269.82h10.79v10.58h-10.79zM170.42 269.82h10.79v10.58h-10.79zM256.72 269.82h10.79v10.58h-10.79zM440.08 269.82h10.79v10.58h-10.79zM-2.16 280.19h10.79v10.58h-10.79zM8.63 280.19h10.79v10.58h-10.79zM84.13 280.19h10.79v10.58h-10.79zM202.78 280.19h10.79v10.58h-10.79zM256.72 280.19h10.79v10.58h-10.79zM289.07 280.19h10.79v10.58h-10.79zM299.86 280.19h10.79v10.58h-10.79zM450.87 280.19h10.79v10.58h-10.79zM-2.16 290.57h10.79v10.58h-10.79zM19.42 290.57h10.79v10.58h-10.79zM94.92 290.57h10.79v10.58h-10.79zM289.07 290.57h10.79v10.58h-10.79zM450.87 290.57h10.79v10.58h-10.79zM8.63 300.95h10.79v10.58h-10.79zM94.92 300.95h10.79v10.58h-10.79zM138.07 300.95h10.79v10.58h-10.79zM181.21 300.95h10.79v10.58h-10.79zM213.57 300.95h10.79v10.58h-10.79zM256.72 300.95h10.79v10.58h-10.79zM343.01 300.95h10.79v10.58h-10.79zM375.37 300.95h10.79v10.58h-10.79zM8.63 311.33h10.79v10.58h-10.79zM94.92 311.33h10.79v10.58h-10.79zM170.42 311.33h10.79v10.58h-10.79zM353.79 311.33h10.79v10.58h-10.79zM386.15 311.33h10.79v10.58h-10.79zM138.07 321.7h10.79v10.58h-10.79zM245.93 321.7h10.79v10.58h-10.79zM-2.16 332.08h10.79v10.58h-10.79zM8.63 332.08h10.79v10.58h-10.79zM105.71 332.08h10.79v10.58h-10.79zM181.21 332.08h10.79v10.58h-10.79zM418.51 332.08h10.79v10.58h-10.79zM450.87 332.08h10.79v10.58h-10.79zM116.49 342.46h10.79v10.58h-10.79zM192 342.46h10.79v10.58h-10.79zM418.51 342.46h10.79v10.58h-10.79zM40.99 352.84h10.79v10.58h-10.79zM84.13 352.84h10.79v10.58h-10.79zM170.42 352.84h10.79v10.58h-10.79zM213.57 352.84h10.79v10.58h-10.79zM364.58 352.84h10.79v10.58h-10.79zM192 363.21h10.79v10.58h-10.79zM202.78 363.21h10.79v10.58h-10.79zM235.14 363.21h10.79v10.58h-10.79zM289.07 363.21h10.79v10.58h-10.79zM310.65 363.21h10.79v10.58h-10.79zM450.87 363.21h10.79v10.58h-10.79zM-2.16 373.59h10.79v10.58h-10.79zM224.36 373.59h10.79v10.58h-10.79zM343.01 373.59h10.79v10.58h-10.79zM73.35 383.97h10.79v10.58h-10.79zM159.64 383.97h10.79v10.58h-10.79zM170.42 383.97h10.79v10.58h-10.79zM213.57 383.97h10.79v10.58h-10.79zM289.07 383.97h10.79v10.58h-10.79zM343.01 383.97h10.79v10.58h-10.79zM429.3 383.97h10.79v10.58h-10.79zM73.35 394.35h10.79v10.58h-10.79zM84.13 394.35h10.79v10.58h-10.79zM267.5 394.35h10.79v10.58h-10.79zM386.15 394.35h10.79v10.58h-10.79zM138.07 404.72h10.79v10.58h-10.79zM332.22 404.72h10.79v10.58h-10.79zM418.51 404.72h10.79v10.58h-10.79z" fill="url(#gp)"/></g>
<g transform="translate(15.101 0)"><path d="M-15.1 0h10.79v10.58h-10.79zM-4.31 0h10.79v10.58h-10.79zM6.47 0h10.79v10.58h-10.79zM17.26 0h10.79v10.58h-10.79zM28.04 0h10.79v10.58h-10.79zM38.83 0h10.79v10.58h-10.79zM49.62 0h10.79v10.58h-10.79zM60.4 0h10.79v10.58h-10.79zM71.19 0h10.79v10.58h-10.79zM81.98 0h10.79v10.58h-10.79zM92.76 0h10.79v10.58h-10.79zM103.55 0h10.79v10.58h-10.79zM114.34 0h10.79v10.58h-10.79zM125.12 0h10.79v10.58h-10.79zM135.91 0h10.79v10.58h-10.79zM146.69 0h10.79v10.58h-10.79zM157.48 0h10.79v10.58h-10.79zM168.27 0h10.79v10.58h-10.79zM179.05 0h10.79v10.58h-10.79zM189.84 0h10.79v10.58h-10.79zM200.63 0h10.79v10.58h-10.79zM211.41 0h10.79v10.58h-10.79zM222.2 0h10.79v10.58h-10.79zM232.99 0h10.79v10.58h-10.79zM243.77 0h10.79v10.58h-10.79zM254.56 0h10.79v10.58h-10.79zM265.34 0h10.79v10.58h-10.79zM276.13 0h10.79v10.58h-10.79zM286.92 0h10.79v10.58h-10.79zM297.7 0h10.79v10.58h-10.79zM308.49 0h10.79v10.58h-10.79zM319.28 0h10.79v10.58h-10.79zM330.06 0h10.79v10.58h-10.79zM340.85 0h10.79v10.58h-10.79zM351.64 0h10.79v10.58h-10.79zM362.42 0h10.79v10.58h-10.79zM373.21 0h10.79v10.58h-10.79zM383.99 0h10.79v10.58h-10.79zM394.78 0h10.79v10.58h-10.79zM405.57 0h10.79v10.58h-10.79zM416.35 0h10.79v10.58h-10.79zM427.14 0h10.79v10.58h-10.79zM437.93 0h10.79v10.58h-10.79zM448.71 0h10.79v10.58h-10.79zM60.4 10.38h10.79v10.58h-10.79zM92.76 10.38h10.79v10.58h-10.79zM135.91 10.38h10.79v10.58h-10.79zM179.05 10.38h10.79v10.58h-10.79zM189.84 10.38h10.79v10.58h-10.79zM222.2 10.38h10.79v10.58h-10.79zM330.06 10.38h10.79v10.58h-10.79zM362.42 10.38h10.79v10.58h-10.79zM394.78 10.38h10.79v10.58h-10.79zM437.93 10.38h10.79v10.58h-10.79zM49.62 20.76h10.79v10.58h-10.79zM189.84 20.76h10.79v10.58h-10.79zM200.63 20.76h10.79v10.58h-10.79zM211.41 20.76h10.79v10.58h-10.79zM276.13 20.76h10.79v10.58h-10.79zM405.57 20.76h10.79v10.58h-10.79zM17.26 31.13h10.79v10.58h-10.79zM81.98 31.13h10.79v10.58h-10.79zM200.63 31.13h10.79v10.58h-10.79zM362.42 31.13h10.79v10.58h-10.79zM437.93 31.13h10.79v10.58h-10.79zM-15.1 41.51h10.79v10.58h-10.79zM28.04 41.51h10.79v10.58h-10.79zM103.55 41.51h10.79v10.58h-10.79zM351.64 41.51h10.79v10.58h-10.79zM383.99 41.51h10.79v10.58h-10.79zM437.93 41.51h10.79v10.58h-10.79zM-4.31 51.89h10.79v10.58h-10.79zM394.78 51.89h10.79v10.58h-10.79zM437.93 51.89h10.79v10.58h-10.79zM-15.1 62.27h10.79v10.58h-10.79zM6.47 62.27h10.79v10.58h-10.79zM17.26 62.27h10.79v10.58h-10.79zM38.83 62.27h10.79v10.58h-10.79zM60.4 62.27h10.79v10.58h-10.79zM71.19 62.27h10.79v10.58h-10.79zM125.12 62.27h10.79v10.58h-10.79zM340.85 62.27h10.79v10.58h-10.79zM416.35 62.27h10.79v10.58h-10.79zM437.93 62.27h10.79v10.58h-10.79zM-4.31 72.64h10.79v10.58h-10.79zM103.55 72.64h10.79v10.58h-10.79zM243.77 72.64h10.79v10.58h-10.79zM276.13 72.64h10.79v10.58h-10.79zM437.93 72.64h10.79v10.58h-10.79zM448.71 72.64h10.79v10.58h-10.79zM6.47 83.02h10.79v10.58h-10.79zM103.55 83.02h10.79v10.58h-10.79zM211.41 83.02h10.79v10.58h-10.79zM-15.1 93.4h10.79v10.58h-10.79zM6.47 93.4h10.79v10.58h-10.79zM28.04 93.4h10.79v10.58h-10.79zM200.63 93.4h10.79v10.58h-10.79zM330.06 93.4h10.79v10.58h-10.79zM448.71 93.4h10.79v10.58h-10.79zM-15.1 103.78h10.79v10.58h-10.79zM71.19 103.78h10.79v10.58h-10.79zM103.55 103.78h10.79v10.58h-10.79zM135.91 103.78h10.79v10.58h-10.79zM168.27 103.78h10.79v10.58h-10.79zM179.05 103.78h10.79v10.58h-10.79zM243.77 103.78h10.79v10.58h-10.79zM-4.31 114.15h10.79v10.58h-10.79zM135.91 114.15h10.79v10.58h-10.79zM243.77 114.15h10.79v10.58h-10.79zM265.34 114.15h10.79v10.58h-10.79zM362.42 114.15h10.79v10.58h-10.79zM-4.31 124.53h10.79v10.58h-10.79zM297.7 124.53h10.79v10.58h-10.79zM308.49 124.53h10.79v10.58h-10.79zM394.78 124.53h10.79v10.58h-10.79zM416.35 124.53h10.79v10.58h-10.79zM-15.1 134.91h10.79v10.58h-10.79zM-4.31 134.91h10.79v10.58h-10.79zM6.47 134.91h10.79v10.58h-10.79zM232.99 134.91h10.79v10.58h-10.79zM297.7 134.91h10.79v10.58h-10.79zM416.35 134.91h10.79v10.58h-10.79zM125.12 145.29h10.79v10.58h-10.79zM200.63 145.29h10.79v10.58h-10.79zM373.21 145.29h10.79v10.58h-10.79zM394.78 145.29h10.79v10.58h-10.79zM17.26 155.66h10.79v10.58h-10.79zM286.92 155.66h10.79v10.58h-10.79zM416.35 155.66h10.79v10.58h-10.79zM448.71 155.66h10.79v10.58h-10.79zM-15.1 166.04h10.79v10.58h-10.79zM308.49 166.04h10.79v10.58h-10.79zM351.64 166.04h10.79v10.58h-10.79zM373.21 166.04h10.79v10.58h-10.79zM6.47 176.42h10.79v10.58h-10.79zM17.26 176.42h10.79v10.58h-10.79zM254.56 176.42h10.79v10.58h-10.79zM319.28 176.42h10.79v10.58h-10.79zM-15.1 186.8h10.79v10.58h-10.79zM135.91 186.8h10.79v10.58h-10.79zM200.63 186.8h10.79v10.58h-10.79zM232.99 186.8h10.79v10.58h-10.79zM297.7 186.8h10.79v10.58h-10.79zM-4.31 197.17h10.79v10.58h-10.79zM6.47 197.17h10.79v10.58h-10.79zM49.62 197.17h10.79v10.58h-10.79zM232.99 197.17h10.79v10.58h-10.79zM276.13 197.17h10.79v10.58h-10.79zM297.7 197.17h10.79v10.58h-10.79zM416.35 197.17h10.79v10.58h-10.79zM125.12 207.55h10.79v10.58h-10.79zM168.27 207.55h10.79v10.58h-10.79zM200.63 207.55h10.79v10.58h-10.79zM362.42 207.55h10.79v10.58h-10.79zM383.99 207.55h10.79v10.58h-10.79zM437.93 207.55h10.79v10.58h-10.79zM49.62 217.93h10.79v10.58h-10.79zM254.56 217.93h10.79v10.58h-10.79zM276.13 217.93h10.79v10.58h-10.79zM286.92 217.93h10.79v10.58h-10.79zM340.85 217.93h10.79v10.58h-10.79zM157.48 228.31h10.79v10.58h-10.79zM232.99 228.31h10.79v10.58h-10.79zM265.34 228.31h10.79v10.58h-10.79zM276.13 228.31h10.79v10.58h-10.79zM340.85 228.31h10.79v10.58h-10.79zM362.42 228.31h10.79v10.58h-10.79zM373.21 228.31h10.79v10.58h-10.79zM189.84 238.68h10.79v10.58h-10.79zM330.06 238.68h10.79v10.58h-10.79zM416.35 238.68h10.79v10.58h-10.79zM6.47 249.06h10.79v10.58h-10.79zM38.83 249.06h10.79v10.58h-10.79zM125.12 249.06h10.79v10.58h-10.79zM308.49 249.06h10.79v10.58h-10.79zM6.47 259.44h10.79v10.58h-10.79zM92.76 259.44h10.79v10.58h-10.79zM437.93 259.44h10.79v10.58h-10.79zM6.47 269.82h10.79v10.58h-10.79zM200.63 269.82h10.79v10.58h-10.79zM232.99 269.82h10.79v10.58h-10.79zM297.7 269.82h10.79v10.58h-10.79zM308.49 269.82h10.79v10.58h-10.79zM71.19 280.19h10.79v10.58h-10.79zM189.84 280.19h10.79v10.58h-10.79zM308.49 280.19h10.79v10.58h-10.79zM405.57 280.19h10.79v10.58h-10.79zM437.93 280.19h10.79v10.58h-10.79zM28.04 290.57h10.79v10.58h-10.79zM168.27 290.57h10.79v10.58h-10.79zM308.49 290.57h10.79v10.58h-10.79zM340.85 290.57h10.79v10.58h-10.79zM71.19 300.95h10.79v10.58h-10.79zM416.35 300.95h10.79v10.58h-10.79zM448.71 300.95h10.79v10.58h-10.79zM297.7 311.33h10.79v10.58h-10.79zM373.21 311.33h10.79v10.58h-10.79zM416.35 311.33h10.79v10.58h-10.79zM448.71 311.33h10.79v10.58h-10.79zM6.47 321.7h10.79v10.58h-10.79zM146.69 321.7h10.79v10.58h-10.79zM168.27 321.7h10.79v10.58h-10.79zM232.99 321.7h10.79v10.58h-10.79zM362.42 321.7h10.79v10.58h-10.79zM383.99 321.7h10.79v10.58h-10.79zM448.71 321.7h10.79v10.58h-10.79zM265.34 332.08h10.79v10.58h-10.79zM330.06 332.08h10.79v10.58h-10.79zM437.93 332.08h10.79v10.58h-10.79zM-4.31 342.46h10.79v10.58h-10.79zM222.2 342.46h10.79v10.58h-10.79zM232.99 342.46h10.79v10.58h-10.79zM297.7 342.46h10.79v10.58h-10.79zM308.49 342.46h10.79v10.58h-10.79zM448.71 342.46h10.79v10.58h-10.79zM-4.31 352.84h10.79v10.58h-10.79zM6.47 352.84h10.79v10.58h-10.79zM49.62 352.84h10.79v10.58h-10.79zM114.34 352.84h10.79v10.58h-10.79zM254.56 352.84h10.79v10.58h-10.79zM330.06 352.84h10.79v10.58h-10.79zM405.57 352.84h10.79v10.58h-10.79zM448.71 352.84h10.79v10.58h-10.79zM-4.31 363.21h10.79v10.58h-10.79zM6.47 363.21h10.79v10.58h-10.79zM146.69 363.21h10.79v10.58h-10.79zM6.47 373.59h10.79v10.58h-10.79zM81.98 373.59h10.79v10.58h-10.79zM135.91 373.59h10.79v10.58h-10.79zM157.48 373.59h10.79v10.58h-10.79zM200.63 373.59h10.79v10.58h-10.79zM362.42 373.59h10.79v10.58h-10.79zM-15.1 383.97h10.79v10.58h-10.79zM49.62 383.97h10.79v10.58h-10.79zM330.06 383.97h10.79v10.58h-10.79zM362.42 383.97h10.79v10.58h-10.79zM405.57 383.97h10.79v10.58h-10.79zM416.35 383.97h10.79v10.58h-10.79zM-15.1 394.35h10.79v10.58h-10.79zM114.34 394.35h10.79v10.58h-10.79zM189.84 394.35h10.79v10.58h-10.79zM211.41 394.35h10.79v10.58h-10.79zM276.13 394.35h10.79v10.58h-10.79zM340.85 394.35h10.79v10.58h-10.79zM-15.1 404.72h10.79v10.58h-10.79zM92.76 404.72h10.79v10.58h-10.79zM383.99 404.72h10.79v10.58h-10.79z" fill="url(#gp)"/></g>
<g transform="translate(17.258 0)"><path d="M4.31 10.38h10.79v10.58h-10.79zM25.89 10.38h10.79v10.58h-10.79zM122.96 10.38h10.79v10.58h-10.79zM155.32 10.38h10.79v10.58h-10.79zM198.47 10.38h10.79v10.58h-10.79zM209.26 10.38h10.79v10.58h-10.79zM306.33 10.38h10.79v10.58h-10.79zM349.48 10.38h10.79v10.58h-10.79zM381.84 10.38h10.79v10.58h-10.79zM424.98 10.38h10.79v10.58h-10.79zM15.1 20.76h10.79v10.58h-10.79zM133.75 20.76h10.79v10.58h-10.79zM155.32 31.13h10.79v10.58h-10.79zM187.68 31.13h10.79v10.58h-10.79zM263.19 31.13h10.79v10.58h-10.79zM349.48 31.13h10.79v10.58h-10.79zM424.98 31.13h10.79v10.58h-10.79zM79.82 41.51h10.79v10.58h-10.79zM4.31 51.89h10.79v10.58h-10.79zM58.25 51.89h10.79v10.58h-10.79zM69.03 51.89h10.79v10.58h-10.79zM79.82 51.89h10.79v10.58h-10.79zM112.18 51.89h10.79v10.58h-10.79zM381.84 51.89h10.79v10.58h-10.79zM-6.47 62.27h10.79v10.58h-10.79zM90.61 62.27h10.79v10.58h-10.79zM176.9 62.27h10.79v10.58h-10.79zM4.31 72.64h10.79v10.58h-10.79zM58.25 72.64h10.79v10.58h-10.79zM295.55 72.64h10.79v10.58h-10.79zM424.98 72.64h10.79v10.58h-10.79zM-6.47 83.02h10.79v10.58h-10.79zM90.61 83.02h10.79v10.58h-10.79zM133.75 83.02h10.79v10.58h-10.79zM306.33 83.02h10.79v10.58h-10.79zM101.39 93.4h10.79v10.58h-10.79zM295.55 93.4h10.79v10.58h-10.79zM338.69 93.4h10.79v10.58h-10.79zM4.31 103.78h10.79v10.58h-10.79zM230.83 103.78h10.79v10.58h-10.79zM263.19 103.78h10.79v10.58h-10.79zM-17.26 114.15h10.79v10.58h-10.79zM4.31 114.15h10.79v10.58h-10.79zM25.89 114.15h10.79v10.58h-10.79zM36.67 114.15h10.79v10.58h-10.79zM79.82 114.15h10.79v10.58h-10.79zM414.2 114.15h10.79v10.58h-10.79zM4.31 124.53h10.79v10.58h-10.79zM101.39 124.53h10.79v10.58h-10.79zM112.18 124.53h10.79v10.58h-10.79zM144.54 124.53h10.79v10.58h-10.79zM166.11 124.53h10.79v10.58h-10.79zM198.47 124.53h10.79v10.58h-10.79zM381.84 124.53h10.79v10.58h-10.79zM-6.47 145.29h10.79v10.58h-10.79zM79.82 145.29h10.79v10.58h-10.79zM144.54 145.29h10.79v10.58h-10.79zM414.2 145.29h10.79v10.58h-10.79zM-6.47 155.66h10.79v10.58h-10.79zM69.03 155.66h10.79v10.58h-10.79zM122.96 155.66h10.79v10.58h-10.79zM220.04 155.66h10.79v10.58h-10.79zM381.84 155.66h10.79v10.58h-10.79zM4.31 166.04h10.79v10.58h-10.79zM133.75 166.04h10.79v10.58h-10.79zM36.67 176.42h10.79v10.58h-10.79zM133.75 176.42h10.79v10.58h-10.79zM273.97 176.42h10.79v10.58h-10.79zM414.2 176.42h10.79v10.58h-10.79zM187.68 186.8h10.79v10.58h-10.79zM349.48 186.8h10.79v10.58h-10.79zM360.26 186.8h10.79v10.58h-10.79zM371.05 186.8h10.79v10.58h-10.79zM112.18 197.17h10.79v10.58h-10.79zM381.84 197.17h10.79v10.58h-10.79zM392.62 197.17h10.79v10.58h-10.79zM4.31 207.55h10.79v10.58h-10.79zM47.46 207.55h10.79v10.58h-10.79zM317.12 207.55h10.79v10.58h-10.79zM4.31 217.93h10.79v10.58h-10.79zM112.18 217.93h10.79v10.58h-10.79zM133.75 217.93h10.79v10.58h-10.79zM230.83 217.93h10.79v10.58h-10.79zM327.91 217.93h10.79v10.58h-10.79zM414.2 217.93h10.79v10.58h-10.79zM4.31 228.31h10.79v10.58h-10.79zM101.39 228.31h10.79v10.58h-10.79zM112.18 228.31h10.79v10.58h-10.79zM166.11 228.31h10.79v10.58h-10.79zM327.91 228.31h10.79v10.58h-10.79zM392.62 228.31h10.79v10.58h-10.79zM4.31 238.68h10.79v10.58h-10.79zM90.61 238.68h10.79v10.58h-10.79zM360.26 238.68h10.79v10.58h-10.79zM-6.47 249.06h10.79v10.58h-10.79zM15.1 249.06h10.79v10.58h-10.79zM230.83 249.06h10.79v10.58h-10.79zM349.48 249.06h10.79v10.58h-10.79zM360.26 249.06h10.79v10.58h-10.79zM122.96 259.44h10.79v10.58h-10.79zM349.48 259.44h10.79v10.58h-10.79zM403.41 259.44h10.79v10.58h-10.79zM133.75 269.82h10.79v10.58h-10.79zM187.68 269.82h10.79v10.58h-10.79zM209.26 269.82h10.79v10.58h-10.79zM36.67 280.19h10.79v10.58h-10.79zM47.46 280.19h10.79v10.58h-10.79zM101.39 280.19h10.79v10.58h-10.79zM166.11 280.19h10.79v10.58h-10.79zM112.18 290.57h10.79v10.58h-10.79zM198.47 290.57h10.79v10.58h-10.79zM392.62 290.57h10.79v10.58h-10.79zM435.77 290.57h10.79v10.58h-10.79zM25.89 300.95h10.79v10.58h-10.79zM122.96 300.95h10.79v10.58h-10.79zM317.12 300.95h10.79v10.58h-10.79zM327.91 300.95h10.79v10.58h-10.79zM403.41 300.95h10.79v10.58h-10.79zM47.46 311.33h10.79v10.58h-10.79zM176.9 311.33h10.79v10.58h-10.79zM187.68 311.33h10.79v10.58h-10.79zM220.04 311.33h10.79v10.58h-10.79zM241.61 311.33h10.79v10.58h-10.79zM338.69 311.33h10.79v10.58h-10.79zM424.98 311.33h10.79v10.58h-10.79zM15.1 321.7h10.79v10.58h-10.79zM79.82 321.7h10.79v10.58h-10.79zM187.68 321.7h10.79v10.58h-10.79zM198.47 321.7h10.79v10.58h-10.79zM435.77 321.7h10.79v10.58h-10.79zM69.03 332.08h10.79v10.58h-10.79zM112.18 332.08h10.79v10.58h-10.79zM166.11 332.08h10.79v10.58h-10.79zM381.84 332.08h10.79v10.58h-10.79zM403.41 332.08h10.79v10.58h-10.79zM4.31 342.46h10.79v10.58h-10.79zM176.9 342.46h10.79v10.58h-10.79zM209.26 342.46h10.79v10.58h-10.79zM435.77 342.46h10.79v10.58h-10.79zM263.19 352.84h10.79v10.58h-10.79zM381.84 352.84h10.79v10.58h-10.79zM424.98 352.84h10.79v10.58h-10.79zM25.89 363.21h10.79v10.58h-10.79zM36.67 363.21h10.79v10.58h-10.79zM220.04 363.21h10.79v10.58h-10.79zM381.84 363.21h10.79v10.58h-10.79zM-17.26 373.59h10.79v10.58h-10.79zM58.25 373.59h10.79v10.58h-10.79zM209.26 373.59h10.79v10.58h-10.79zM273.97 373.59h10.79v10.58h-10.79zM4.31 383.97h10.79v10.58h-10.79zM176.9 383.97h10.79v10.58h-10.79zM306.33 383.97h10.79v10.58h-10.79zM349.48 383.97h10.79v10.58h-10.79zM392.62 383.97h10.79v10.58h-10.79zM4.31 394.35h10.79v10.58h-10.79zM47.46 394.35h10.79v10.58h-10.79zM155.32 394.35h10.79v10.58h-10.79zM176.9 394.35h10.79v10.58h-10.79zM198.47 394.35h10.79v10.58h-10.79zM327.91 394.35h10.79v10.58h-10.79zM360.26 394.35h10.79v10.58h-10.79zM424.98 394.35h10.79v10.58h-10.79zM-6.47 404.72h10.79v10.58h-10.79zM4.31 404.72h10.79v10.58h-10.79zM101.39 404.72h10.79v10.58h-10.79zM112.18 404.72h10.79v10.58h-10.79zM187.68 404.72h10.79v10.58h-10.79zM198.47 404.72h10.79v10.58h-10.79zM284.76 404.72h10.79v10.58h-10.79z" fill="url(#gp)"/></g>
<g transform="translate(19.415 0)"><path d="M228.67 10.38h10.79v10.58h-10.79zM77.66 20.76h10.79v10.58h-10.79zM99.23 20.76h10.79v10.58h-10.79zM217.88 20.76h10.79v10.58h-10.79zM250.24 20.76h10.79v10.58h-10.79zM347.32 20.76h10.79v10.58h-10.79zM412.04 20.76h10.79v10.58h-10.79zM12.94 41.51h10.79v10.58h-10.79zM45.3 41.51h10.79v10.58h-10.79zM131.59 41.51h10.79v10.58h-10.79zM153.17 41.51h10.79v10.58h-10.79zM163.95 41.51h10.79v10.58h-10.79zM293.39 41.51h10.79v10.58h-10.79zM390.47 41.51h10.79v10.58h-10.79zM401.25 41.51h10.79v10.58h-10.79zM12.94 51.89h10.79v10.58h-10.79zM45.3 51.89h10.79v10.58h-10.79zM314.96 51.89h10.79v10.58h-10.79zM358.11 51.89h10.79v10.58h-10.79zM23.73 62.27h10.79v10.58h-10.79zM77.66 62.27h10.79v10.58h-10.79zM250.24 62.27h10.79v10.58h-10.79zM77.66 72.64h10.79v10.58h-10.79zM228.67 72.64h10.79v10.58h-10.79zM56.09 83.02h10.79v10.58h-10.79zM293.39 83.02h10.79v10.58h-10.79zM368.89 83.02h10.79v10.58h-10.79zM422.83 83.02h10.79v10.58h-10.79zM-8.63 93.4h10.79v10.58h-10.79zM12.94 93.4h10.79v10.58h-10.79zM217.88 93.4h10.79v10.58h-10.79zM228.67 93.4h10.79v10.58h-10.79zM347.32 93.4h10.79v10.58h-10.79zM358.11 93.4h10.79v10.58h-10.79zM368.89 93.4h10.79v10.58h-10.79zM379.68 93.4h10.79v10.58h-10.79zM-8.63 103.78h10.79v10.58h-10.79zM12.94 103.78h10.79v10.58h-10.79zM196.31 103.78h10.79v10.58h-10.79zM412.04 103.78h10.79v10.58h-10.79zM12.94 114.15h10.79v10.58h-10.79zM66.88 114.15h10.79v10.58h-10.79zM163.95 114.15h10.79v10.58h-10.79zM250.24 114.15h10.79v10.58h-10.79zM282.6 114.15h10.79v10.58h-10.79zM379.68 114.15h10.79v10.58h-10.79zM-19.42 124.53h10.79v10.58h-10.79zM34.52 124.53h10.79v10.58h-10.79zM153.17 124.53h10.79v10.58h-10.79zM282.6 124.53h10.79v10.58h-10.79zM77.66 134.91h10.79v10.58h-10.79zM185.53 134.91h10.79v10.58h-10.79zM347.32 134.91h10.79v10.58h-10.79zM422.83 134.91h10.79v10.58h-10.79zM66.88 145.29h10.79v10.58h-10.79zM99.23 145.29h10.79v10.58h-10.79zM207.1 145.29h10.79v10.58h-10.79zM271.82 145.29h10.79v10.58h-10.79zM23.73 155.66h10.79v10.58h-10.79zM34.52 155.66h10.79v10.58h-10.79zM99.23 155.66h10.79v10.58h-10.79zM314.96 155.66h10.79v10.58h-10.79zM336.53 155.66h10.79v10.58h-10.79zM368.89 155.66h10.79v10.58h-10.79zM23.73 166.04h10.79v10.58h-10.79zM196.31 166.04h10.79v10.58h-10.79zM217.88 166.04h10.79v10.58h-10.79zM228.67 166.04h10.79v10.58h-10.79zM282.6 166.04h10.79v10.58h-10.79zM358.11 166.04h10.79v10.58h-10.79zM110.02 176.42h10.79v10.58h-10.79zM207.1 176.42h10.79v10.58h-10.79zM282.6 176.42h10.79v10.58h-10.79zM217.88 186.8h10.79v10.58h-10.79zM282.6 186.8h10.79v10.58h-10.79zM325.75 186.8h10.79v10.58h-10.79zM412.04 186.8h10.79v10.58h-10.79zM142.38 197.17h10.79v10.58h-10.79zM314.96 197.17h10.79v10.58h-10.79zM228.67 207.55h10.79v10.58h-10.79zM336.53 207.55h10.79v10.58h-10.79zM99.23 217.93h10.79v10.58h-10.79zM163.95 217.93h10.79v10.58h-10.79zM174.74 217.93h10.79v10.58h-10.79zM368.89 217.93h10.79v10.58h-10.79zM379.68 217.93h10.79v10.58h-10.79zM23.73 228.31h10.79v10.58h-10.79zM174.74 228.31h10.79v10.58h-10.79zM196.31 228.31h10.79v10.58h-10.79zM422.83 228.31h10.79v10.58h-10.79zM271.82 238.68h10.79v10.58h-10.79zM390.47 238.68h10.79v10.58h-10.79zM110.02 249.06h10.79v10.58h-10.79zM185.53 249.06h10.79v10.58h-10.79zM325.75 249.06h10.79v10.58h-10.79zM379.68 249.06h10.79v10.58h-10.79zM-8.63 259.44h10.79v10.58h-10.79zM12.94 259.44h10.79v10.58h-10.79zM34.52 259.44h10.79v10.58h-10.79zM45.3 259.44h10.79v10.58h-10.79zM163.95 259.44h10.79v10.58h-10.79zM174.74 259.44h10.79v10.58h-10.79zM185.53 259.44h10.79v10.58h-10.79zM-19.42 269.82h10.79v10.58h-10.79zM56.09 269.82h10.79v10.58h-10.79zM88.45 269.82h10.79v10.58h-10.79zM110.02 269.82h10.79v10.58h-10.79zM261.03 269.82h10.79v10.58h-10.79zM174.74 280.19h10.79v10.58h-10.79zM207.1 280.19h10.79v10.58h-10.79zM228.67 280.19h10.79v10.58h-10.79zM239.46 280.19h10.79v10.58h-10.79zM347.32 280.19h10.79v10.58h-10.79zM34.52 290.57h10.79v10.58h-10.79zM314.96 290.57h10.79v10.58h-10.79zM99.23 300.95h10.79v10.58h-10.79zM163.95 300.95h10.79v10.58h-10.79zM293.39 300.95h10.79v10.58h-10.79zM390.47 300.95h10.79v10.58h-10.79zM433.61 300.95h10.79v10.58h-10.79zM99.23 311.33h10.79v10.58h-10.79zM390.47 311.33h10.79v10.58h-10.79zM433.61 311.33h10.79v10.58h-10.79zM56.09 321.7h10.79v10.58h-10.79zM66.88 321.7h10.79v10.58h-10.79zM110.02 321.7h10.79v10.58h-10.79zM174.74 321.7h10.79v10.58h-10.79zM293.39 321.7h10.79v10.58h-10.79zM401.25 321.7h10.79v10.58h-10.79zM412.04 321.7h10.79v10.58h-10.79zM77.66 332.08h10.79v10.58h-10.79zM196.31 332.08h10.79v10.58h-10.79zM293.39 332.08h10.79v10.58h-10.79zM368.89 332.08h10.79v10.58h-10.79zM88.45 342.46h10.79v10.58h-10.79zM239.46 342.46h10.79v10.58h-10.79zM261.03 342.46h10.79v10.58h-10.79zM379.68 342.46h10.79v10.58h-10.79zM66.88 352.84h10.79v10.58h-10.79zM131.59 352.84h10.79v10.58h-10.79zM185.53 352.84h10.79v10.58h-10.79zM228.67 352.84h10.79v10.58h-10.79zM433.61 352.84h10.79v10.58h-10.79zM-19.42 363.21h10.79v10.58h-10.79zM77.66 363.21h10.79v10.58h-10.79zM433.61 363.21h10.79v10.58h-10.79zM174.74 373.59h10.79v10.58h-10.79zM250.24 373.59h10.79v10.58h-10.79zM379.68 373.59h10.79v10.58h-10.79zM412.04 373.59h10.79v10.58h-10.79zM12.94 383.97h10.79v10.58h-10.79zM77.66 383.97h10.79v10.58h-10.79zM88.45 383.97h10.79v10.58h-10.79zM88.45 394.35h10.79v10.58h-10.79zM120.81 394.35h10.79v10.58h-10.79zM120.81 404.72h10.79v10.58h-10.79zM142.38 404.72h10.79v10.58h-10.79zM239.46 404.72h10.79v10.58h-10.79zM304.18 404.72h10.79v10.58h-10.79zM358.11 404.72h10.79v10.58h-10.79zM422.83 404.72h10.79v10.58h-10.79z" fill="url(#gp)"/></g>
</g></g>
<rect x="707.9" y="38.800000000000004" width="473.4" height="413.9" fill="none" stroke="#555" stroke-width="1.2"/>
<path d="M707.3 39.1H1181.9" stroke="#2a2a2a" stroke-width="1.8"/>
<text transform="translate(727.97 96.6)" font-family="Liberation Serif,Times New Roman,Times,serif" font-size="54" fill="#fff" font-weight="bold">(b)</text>
</g>
<g id="panel-c">
<rect x="1195.5" y="37.8" width="477.4" height="417.9" fill="#000"/>
<ellipse cx="1274.0" cy="106.2" rx="6.2" ry="5.2" fill="url(#sp)" opacity="0.7"/>
<ellipse cx="1353.8" cy="106.2" rx="6.2" ry="5.2" fill="url(#sp)" opacity="0.95"/>
<ellipse cx="1433.7" cy="106.2" rx="6.2" ry="5.2" fill="url(#sp)" opacity="0.8"/>
<ellipse cx="1513.3" cy="106.2" rx="6.2" ry="5.2" fill="url(#sp)" opacity="1.0"/>
<ellipse cx="1593.0" cy="106.2" rx="6.2" ry="5.2" fill="url(#sp)" opacity="0.8"/>
<ellipse cx="1274.0" cy="176.4" rx="6.2" ry="5.2" fill="url(#sp)" opacity="0.6"/>
<ellipse cx="1353.8" cy="176.4" rx="6.2" ry="5.2" fill="url(#sp)" opacity="1.0"/>
<ellipse cx="1433.7" cy="176.4" rx="6.2" ry="5.2" fill="url(#sp)" opacity="0.8"/>
<ellipse cx="1513.3" cy="176.4" rx="6.2" ry="5.2" fill="url(#sp)" opacity="0.6"/>
<ellipse cx="1593.0" cy="176.4" rx="6.2" ry="5.2" fill="url(#sp)" opacity="1.0"/>
<ellipse cx="1274.0" cy="246.3" rx="6.2" ry="5.2" fill="url(#sp)" opacity="1.0"/>
<ellipse cx="1353.8" cy="246.3" rx="6.2" ry="5.2" fill="url(#sp)" opacity="0.5"/>
<ellipse cx="1433.7" cy="246.3" rx="6.2" ry="5.2" fill="url(#sp)" opacity="0.55"/>
<ellipse cx="1513.3" cy="246.3" rx="6.2" ry="5.2" fill="url(#sp)" opacity="0.95"/>
<ellipse cx="1593.0" cy="246.3" rx="6.2" ry="5.2" fill="url(#sp)" opacity="0.9"/>
<ellipse cx="1274.0" cy="316.0" rx="6.2" ry="5.2" fill="url(#sp)" opacity="0.95"/>
<ellipse cx="1353.8" cy="316.0" rx="6.2" ry="5.2" fill="url(#sp)" opacity="0.85"/>
<ellipse cx="1433.7" cy="316.0" rx="6.2" ry="5.2" fill="url(#sp)" opacity="0.85"/>
<ellipse cx="1513.3" cy="316.0" rx="6.2" ry="5.2" fill="url(#sp)" opacity="0.95"/>
<ellipse cx="1593.0" cy="316.0" rx="6.2" ry="5.2" fill="url(#sp)" opacity="0.6"/>
<ellipse cx="1274.0" cy="385.4" rx="6.2" ry="5.2" fill="url(#sp)" opacity="0.85"/>
<ellipse cx="1353.8" cy="385.4" rx="6.2" ry="5.2" fill="url(#sp)" opacity="0.6"/>
<ellipse cx="1433.7" cy="385.4" rx="6.2" ry="5.2" fill="url(#sp)" opacity="1.0"/>
<ellipse cx="1513.3" cy="385.4" rx="6.2" ry="5.2" fill="url(#sp)" opacity="0.95"/>
<ellipse cx="1593.0" cy="385.4" rx="6.2" ry="5.2" fill="url(#sp)" opacity="0.85"/>
<ellipse cx="1273.6" cy="246.8" rx="41" ry="38.4" fill="none" stroke="#ffff00" stroke-width="3.7"/>
<rect x="1541.4" y="426.2" width="43.6" height="3.1" fill="#ffff00"/>
<text transform="translate(1532.48 450.7) scale(1.0023 1)" font-family="Liberation Serif,Times New Roman,Times,serif" font-size="27.2" fill="#ffff00">8 μm</text>
<text transform="translate(1217.97 96.1)" font-family="Liberation Serif,Times New Roman,Times,serif" font-size="54" fill="#fff" font-weight="bold">(c)</text>
</g>
<g id="panel-d">
<rect x="140.6" y="515.5" width="1528.9" height="688.1" fill="#000"/>
<path d="M352.2 1203.6v-14M352.2 515.5v14" stroke="#141414" stroke-width="1.4"/>
<path d="M563.9 1203.6v-14M563.9 515.5v14" stroke="#141414" stroke-width="1.4"/>
<path d="M775.5 1203.6v-14M775.5 515.5v14" stroke="#141414" stroke-width="1.4"/>
<path d="M987.1 1203.6v-14M987.1 515.5v14" stroke="#141414" stroke-width="1.4"/>
<path d="M1198.7 1203.6v-14M1198.7 515.5v14" stroke="#141414" stroke-width="1.4"/>
<path d="M1410.4 1203.6v-14M1410.4 515.5v14" stroke="#141414" stroke-width="1.4"/>
<path d="M1622 1203.6v-14M1622 515.5v14" stroke="#141414" stroke-width="1.4"/>
<path d="M140.6 515.5h15.5" stroke="#005a96" stroke-width="1.3"/>
<path d="M140.6 584.3h15.5" stroke="#005a96" stroke-width="1.3"/>
<path d="M140.6 653.1h15.5" stroke="#005a96" stroke-width="1.3"/>
<path d="M140.6 721.9h15.5" stroke="#005a96" stroke-width="1.3"/>
<path d="M140.6 790.7h15.5" stroke="#005a96" stroke-width="1.3"/>
<path d="M140.6 859.5h15.5" stroke="#005a96" stroke-width="1.3"/>
<path d="M140.6 928.4h15.5" stroke="#005a96" stroke-width="1.3"/>
<path d="M140.6 997.2h15.5" stroke="#005a96" stroke-width="1.3"/>
<path d="M140.6 1087h15.5" stroke="#005a96" stroke-width="1.3"/>
<path d="M140.6 1134.8h15.5" stroke="#005a96" stroke-width="1.3"/>
<path d="M140.6 1203.6h15.5" stroke="#005a96" stroke-width="1.3"/>
<path d="M1669.5 515.5h-15.5" stroke="#b04414" stroke-width="1.3"/>
<path d="M1669.5 592h-15.5" stroke="#b04414" stroke-width="1.3"/>
<path d="M1669.5 668.4h-15.5" stroke="#b04414" stroke-width="1.3"/>
<path d="M1669.5 744.9h-15.5" stroke="#b04414" stroke-width="1.3"/>
<path d="M1669.5 797.2h-15.5" stroke="#b04414" stroke-width="1.3"/>
<path d="M1669.5 897.8h-15.5" stroke="#b04414" stroke-width="1.3"/>
<path d="M1669.5 974.2h-15.5" stroke="#b04414" stroke-width="1.3"/>
<path d="M1669.5 1050.7h-15.5" stroke="#b04414" stroke-width="1.3"/>
<path d="M1669.5 1127.1h-15.5" stroke="#b04414" stroke-width="1.3"/>
<path d="M1669.5 1203.6h-15.5" stroke="#b04414" stroke-width="1.3"/>
<clipPath id="cd"><rect x="138.6" y="515.5" width="1533.9" height="688.1"/></clipPath>
<g clip-path="url(#cd)">
<polyline points="140.8,1093.9 141,1086.5 141.2,1019.7 141.4,1035.1 141.7,1055.8 141.9,1058.7 142.1,1078.1 142.3,1128.7 142.5,1078.2 142.7,1098.9 142.9,1065.4 143.1,1109.9 143.4,1056.4 143.6,1037.7 143.8,1089.6 144,1079.6 144.2,1104.7 144.4,1096.4 144.6,1081.4 144.8,1108.6 145,1117.6 145.3,1059.3 145.5,1077.8 145.7,1069.7 145.9,1045.6 146.1,1085.8 146.3,1075.3 146.5,1088.7 146.7,1081.9 146.9,1125.8 147.2,1036.7 147.4,1101.6 147.6,1110.5 147.8,1089 148,1058.9 148.2,1069.7 148.4,1067.6 148.6,1078.1 148.9,1113.1 149.1,1088.7 149.3,1114.8 149.5,1106.8 149.7,1083.2 149.9,1066 150.1,1089.2 150.3,1091.4 150.5,1116.5 150.8,1067.1 151,1084.3 151.2,1081.2 151.4,1094.7 151.6,1096.3 151.8,1082.4 152,1117.4 152.2,1094.4 152.5,1094.8 152.7,1071.9 152.9,1070.8 153.1,1068.1 153.3,1091.4 153.5,1097.7 153.7,1087.2 153.9,1079.8 154.1,1093.2 154.4,1127.5 154.6,1085.3 154.8,1095.4 155,1112.8 155.2,1101.5 155.4,1093.4 155.6,1097.2 155.8,1067.9 156,1089.6 156.3,1104.2 156.5,1048.8 156.7,1095.7 156.9,1110.3 157.1,1104.5 157.3,1102.3 157.5,1079.3 157.7,1088.5 158,1095.7 158.2,1060.4 158.4,1096.9 158.6,1095.4 158.8,1082.8 159,1087.7 159.2,1090.7 159.4,1091.6 159.6,1095.5 159.9,1081.4 160.1,1036.3 160.3,1083.1 160.5,1113.5 160.7,1072.9 160.9,1096 161.1,1105 161.3,1043.8 161.6,1072.9 161.8,1075.3 162,1081.3 162.2,1090.7 162.4,1091.3 162.6,1070.8 162.8,1094.7 163,1081.4 163.2,1111.4 163.5,1078.3 163.7,1116.7 163.9,1089.8 164.1,1120.7 164.3,1077.9 164.5,1080.9 164.7,1095.6 164.9,1107.8 165.1,1099 165.4,1104.1 165.6,1084.7 165.8,1091 166,1067.4 166.2,1102 166.4,1109.4 166.6,1063.3 166.8,1100.7 167.1,1110.5 167.3,1082.5 167.5,1069.6 167.7,1089.3 167.9,1084.2 168.1,1080.2 168.3,1099.4 168.5,1089.2 168.7,1115.4 169,1095.8 169.2,1064.4 169.4,1108.7 169.6,1103.6 169.8,1096.2 170,1100.1 170.2,1095.3 170.4,1081.5 170.7,1065.8 170.9,1110.9 171.1,1100.8 171.3,1109.3 171.5,1089.4 171.7,1098.8 171.9,1101.4 172.1,1096.5 172.3,1115.7 172.6,1101.5 172.8,1090.4 173,1107.7 173.2,1049.9 173.4,1091.1 173.6,1071.3 173.8,1118.4 174,1088.2 174.2,1110.4 174.5,1084.4 174.7,1104.3 174.9,1080 175.1,1100.4 175.3,1058.8 175.5,1085.2 175.7,1110 175.9,1070.2 176.2,1062.4 176.4,1061.5 176.6,1090.8 176.8,1103 177,1089.3 177.2,1089.4 177.4,1057.3 177.6,869.2 177.8,1081.6 178.1,1102.6 178.3,1117.2 178.5,1064.4 178.7,1091.8 178.9,1080.3 179.1,1069.5 179.3,1086 179.5,1095.9 179.8,1088.9 180,1095.8 180.2,1088.2 180.4,1098.5 180.6,1071.1 180.8,1047.5 181,1107 181.2,1087.6 181.4,1005.3 181.7,1083.9 181.9,1106.2 182.1,1113.1 182.3,1109.8 182.5,1073.2 182.7,1078.6 182.9,1083.1 183.1,1071.8 183.3,1076.1 183.6,1072.9 183.8,1089.7 184,1065.3 184.2,1069.6 184.4,1102.2 184.6,1078.9 184.8,1068.7 185,1057.6 185.3,1095.6 185.5,1084.4 185.7,1084.4 185.9,1061.8 186.1,1091.8 186.3,1031.7 186.5,871.8 186.7,1085.9 186.9,1097.3 187.2,1101.4 187.4,1101 187.6,1079 187.8,1076.4 188,1094.7 188.2,1093.1 188.4,1119.6 188.6,1090.6 188.9,1067.9 189.1,1083.3 189.3,1075.3 189.5,1088.3 189.7,1099.2 189.9,1090.4 190.1,1073.5 190.3,1079 190.5,1101.8 190.8,1066.9 191,1080.7 191.2,1084.8 191.4,1067.9 191.6,1101.9 191.8,1048.1 192,1089.6 192.2,1109.7 192.4,1096.1 192.7,1094.7 192.9,1089.1 193.1,1060 193.3,1063.7 193.5,1054.1 193.7,1099.4 193.9,1073 194.1,1063.6 194.4,1106.3 194.6,1078.4 194.8,1103.1 195,1081.9 195.2,1065.6 195.4,1103.8 195.6,1085.5 195.8,1094.8 196,1114.1 196.3,1075 196.5,1118.5 196.7,1099.7 196.9,1071.5 197.1,1098 197.3,1105.5 197.5,1095.2 197.7,1087.3 198,1084.4 198.2,1078.2 198.4,1070.5 198.6,1079.3 198.8,1082.5 199,1081.7 199.2,1103.7 199.4,1081 199.6,1071 199.9,1095.9 200.1,1117.4 200.3,1114.8 200.5,1088.1 200.7,1087 200.9,1103.1 201.1,1097.8 201.3,1132.2 201.5,1114.2 201.8,1102.8 202,1070.5 202.2,1067.8 202.4,1101.2 202.6,1119.1 202.8,1093.7 203,1083.6 203.2,1115.5 203.5,1091 203.7,1089 203.9,1082.4 204.1,1085.1 204.3,1088.8 204.5,1078.2 204.7,1083.2 204.9,1092.5 205.1,1094.2 205.4,1092.4 205.6,1119.8 205.8,1032.6 206,1101 206.2,1078.9 206.4,1088.3 206.6,1084.7 206.8,1099.7 207.1,1084.2 207.3,1090.3 207.5,1112.8 207.7,1114 207.9,1112.7 208.1,1086.4 208.3,1085 208.5,1089.6 208.7,1079.5 209,1079.7 209.2,1053.8 209.4,1055.4 209.6,1093.5 209.8,1082.7 210,1081.8 210.2,1100 210.4,1070.6 210.6,1083.8 210.9,1086.4 211.1,1090 211.3,1017.2 211.5,1115.2 211.7,1100.8 211.9,1099.7 212.1,1081.9 212.3,1082.5 212.6,1094.6 212.8,1038.3 213,1126.7 213.2,1100.6 213.4,1064 213.6,1079.5 213.8,1112.5 214,1079 214.2,1083.9 214.5,1073 214.7,1073.3 214.9,1090 215.1,1098.5 215.3,1095.6 215.5,1094.3 215.7,1106.6 215.9,1089.2 216.2,1092.1 216.4,1043 216.6,1125.7 216.8,1026.9 217,1102.5 217.2,1100.9 217.4,1077.3 217.6,1102.6 217.8,1076.9 218.1,1092.5 218.3,1116.1 218.5,1093.8 218.7,1099.5 218.9,1088.8 219.1,1094.4 219.3,1086.2 219.5,1142.1 219.7,1088.6 220,1074.8 220.2,1104.1 220.4,1091.1 220.6,1086 220.8,1086.1 221,1037.1 221.2,1094.3 221.4,1118.7 221.7,1091.9 221.9,1089.6 222.1,1078 222.3,1090.1 222.5,1098.4 222.7,1059.6 222.9,1098.3 223.1,951.1 223.3,1069.9 223.6,1078.6 223.8,1100.7 224,1097.7 224.2,1070.7 224.4,1106.8 224.6,1089.5 224.8,1073.8 225,1113 225.3,1101.4 225.5,1103.5 225.7,1098 225.9,1082.5 226.1,1104.2 226.3,1099.5 226.5,1075.7 226.7,1125.2 226.9,1095.8 227.2,1103.5 227.4,1107.6 227.6,1086.4 227.8,1127.3 228,1081.4 228.2,1069.6 228.4,1086.1 228.6,1126.9 228.8,1081.5 229.1,1115.7 229.3,1070.2 229.5,1109.7 229.7,1095.7 229.9,1076.6 230.1,1073.4 230.3,1092.2 230.5,1081.6 230.8,1082.6 231,1104.8 231.2,1101.5 231.4,1107 231.6,1102 231.8,1081.5 232,1084.7 232.2,1082.1 232.4,1102.7 232.7,1104.2 232.9,1075.9 233.1,1086.4 233.3,1087.8 233.5,1092.7 233.7,1083.4 233.9,1075.1 234.1,1095.1 234.4,1098.2 234.6,1110.2 234.8,1094.7 235,1105.1 235.2,1112.1 235.4,1088 235.6,1087.8 235.8,1065.8 236,1112.2 236.3,1102.6 236.5,1097.6 236.7,1064.2 236.9,1064.2 237.1,1077.9 237.3,1065.8 237.5,1105.2 237.7,1063.9 237.9,1086.9 238.2,1086.3 238.4,1078.9 238.6,1093 238.8,1086.3 239,1108.2 239.2,1057.4 239.4,1108.1 239.6,1111.2 239.9,1085.5 240.1,1104.7 240.3,876.7 240.5,1091.6 240.7,1092.9 240.9,1073.1 241.1,1092.3 241.3,1083.1 241.5,1060.7 241.8,1112.5 242,1110.9 242.2,1086 242.4,1098.4 242.6,1105.8 242.8,1080.4 243,1085.8 243.2,1096.7 243.5,1082.9 243.7,1127.9 243.9,1092.1 244.1,1077.9 244.3,1060 244.5,1090.6 244.7,1074.8 244.9,1082.8 245.1,1095.7 245.4,1088.2 245.6,1081.1 245.8,1084.3 246,1098.2 246.2,1132.3 246.4,1063 246.6,1095.4 246.8,1120.6 247,1105 247.3,1087.5 247.5,1116.8 247.7,1085 247.9,1093.4 248.1,1072.6 248.3,1102.4 248.5,1090.1 248.7,1071.4 249,1081 249.2,1040.8 249.4,1050.6 249.6,1089.3 249.8,1115.4 250,1084.7 250.2,1084.7 250.4,1100.6 250.6,1100.2 250.9,1089.1 251.1,1074.9 251.3,1099.9 251.5,1095.8 251.7,1097.8 251.9,1091.5 252.1,1083.2 252.3,1104.8 252.6,1112.7 252.8,1094.4 253,1072.2 253.2,1102.9 253.4,1065.6 253.6,1089 253.8,1105.7 254,1087.8 254.2,1100.4 254.5,1097 254.7,1095.3 254.9,1106.6 255.1,1093.5 255.3,1070.6 255.5,1085.9 255.7,1072.5 255.9,1105 256.1,1055.5 256.4,1083.2 256.6,1086.7 256.8,1099.2 257,1104.4 257.2,1090.1 257.4,1072 257.6,1087 257.8,1057.9 258.1,1095.5 258.3,1057 258.5,1097.4 258.7,1073.1 258.9,1074.5 259.1,1106 259.3,1101.8 259.5,1074.8 259.7,1119.7 260,1082.6 260.2,1103.7 260.4,1095.5 260.6,1098 260.8,1080 261,1073.1 261.2,1098.5 261.4,1075.1 261.7,1083.2 261.9,1104 262.1,1101.4 262.3,1086.6 262.5,1095.7 262.7,1096.5 262.9,1078.9 263.1,1085.9 263.3,1107.9 263.6,1075.1 263.8,1081.8 264,1084.4 264.2,1082.8 264.4,1109.9 264.6,1089.3 264.8,1102 265,1096.2 265.2,1067.8 265.5,1097.3 265.7,1070.5 265.9,1094.3 266.1,1091.3 266.3,1079.5 266.5,1083.4 266.7,1111.8 266.9,1085.1 267.2,1100.3 267.4,1095.1 267.6,1086.6 267.8,1098.3 268,1117.6 268.2,1091.4 268.4,1093.2 268.6,1099.8 268.8,1106.3 269.1,1092.8 269.3,1090.5 269.5,1121.3 269.7,1077.2 269.9,1093.3 270.1,1089.4 270.3,1110.2 270.5,1094.7 270.8,1060.2 271,1116.6 271.2,1079.6 271.4,1029.7 271.6,1092.5 271.8,1092.5 272,1089.5 272.2,1111.6 272.4,1070.2 272.7,1085.7 272.9,1073.1 273.1,1084.1 273.3,1081.2 273.5,1080.8 273.7,1087.5 273.9,1069.1 274.1,1086 274.3,1086.7 274.6,1099.4 274.8,1093.6 275,1074.2 275.2,1097.1 275.4,1110.4 275.6,1090 275.8,1110.7 276,1080.3 276.3,1090.3 276.5,1091.6 276.7,1076.2 276.9,1031.5 277.1,1111.6 277.3,1086.7 277.5,1099.4 277.7,1102 277.9,1068.5 278.2,1120.1 278.4,1054.6 278.6,1063.1 278.8,1079.8 279,1074.8 279.2,1088.3 279.4,1126 279.6,1065.4 279.9,1101.7 280.1,1094.1 280.3,1095 280.5,1095.3 280.7,1088.4 280.9,1103.4 281.1,1083 281.3,1079.9 281.5,1100.5 281.8,1101.8 282,1075.6 282.2,1068.8 282.4,1082.2 282.6,1079.2 282.8,1117.6 283,1070.8 283.2,1087.9 283.4,1091.3 283.7,1078.1 283.9,1076.1 284.1,1090.2 284.3,1093.2 284.5,1070 284.7,1096.3 284.9,1098.1 285.1,1077.7 285.4,1091.9 285.6,1066.8 285.8,1052.1 286,1076.7 286.2,1086.9 286.4,1088.1 286.6,1095 286.8,1060.6 287,1086.1 287.3,1083.6 287.5,1086.2 287.7,1089.4 287.9,1059.2 288.1,1083.4 288.3,1076.1 288.5,1104.6 288.7,1116.7 289,1096.8 289.2,1092 289.4,1082.3 289.6,1099.4 289.8,1084.7 290,1101.9 290.2,1115.9 290.4,1075.1 290.6,1090.3 290.9,1116.7 291.1,1100.3 291.3,1081.9 291.5,1108.2 291.7,1087.5 291.9,1074 292.1,1095.9 292.3,1080.1 292.5,1070.2 292.8,1059 293,1076.2 293.2,1102.6 293.4,1108.5 293.6,1092.8 293.8,1110.8 294,1050.9 294.2,1077.2 294.5,1082.3 294.7,1060.8 294.9,1089.7 295.1,1092 295.3,1098.2 295.5,1085.3 295.7,1083.4 295.9,1087.2 296.1,1080.3 296.4,1070 296.6,1095.3 296.8,1090.1 297,1093.4 297.2,1071.2 297.4,1110.9 297.6,1064.7 297.8,1086.3 298.1,1101.7 298.3,1092.6 298.5,1111.2 298.7,1092.2 298.9,1084.3 299.1,1069.6 299.3,1071.9 299.5,1087.4 299.7,1099.2 300,1109.8 300.2,1053.8 300.4,1091.5 300.6,1084.1 300.8,1101.4 301,1074.7 301.2,1110.6 301.4,1061.2 301.6,1105.6 301.9,1090.7 302.1,1111.8 302.3,1086.9 302.5,1090.1 302.7,1014.4 302.9,1085.3 303.1,1112.8 303.3,1097.3 303.6,1089.6 303.8,1095 304,1081.9 304.2,1108.2 304.4,1112.1 304.6,1071.3 304.8,1069.7 305,1067.8 305.2,1082.3 305.5,1109.6 305.7,1092 305.9,1102.5 306.1,1091.1 306.3,1089.6 306.5,1097.5 306.7,1105.7 306.9,1082.5 307.2,1099.1 307.4,1080.1 307.6,1085.1 307.8,1070.2 308,1038.5 308.2,1037.9 308.4,1084.9 308.6,1088.7 308.8,1057.3 309.1,1092.9 309.3,1093.8 309.5,1093.9 309.7,1091.8 309.9,1098.9 310.1,1066.2 310.3,1084.9 310.5,1082.6 310.7,1072.8 311,1107.9 311.2,1068.6 311.4,1094.1 311.6,1084.9 311.8,1097.3 312,1098.6 312.2,1066.4 312.4,1084 312.7,1083.6 312.9,1087.1 313.1,1075 313.3,1095.2 313.5,1071.2 313.7,1102.7 313.9,1094.9 314.1,1075.7 314.3,1079.5 314.6,1078.4 314.8,1081.9 315,1099.6 315.2,1096.9 315.4,1116.9 315.6,1088.4 315.8,1100 316,1087 316.3,1086.3 316.5,1098.6 316.7,1033.5 316.9,1094.4 317.1,1114.1 317.3,1073.2 317.5,1099.6 317.7,1066 317.9,1079.3 318.2,1107.5 318.4,1092.9 318.6,1076.3 318.8,1081.8 319,1077.8 319.2,1055.1 319.4,992.8 319.6,1094.4 319.8,1009.1 320.1,1085.5 320.3,1079.9 320.5,1018.3 320.7,1100.2 320.9,1096.5 321.1,1058.6 321.3,1080.7 321.5,1093.8 321.8,1106.1 322,1088 322.2,1055 322.4,1094 322.6,1104.8 322.8,1070.7 323,1093.5 323.2,1085 323.4,1084.8 323.7,1096.5 323.9,1080.1 324.1,1098.8 324.3,1098.8 324.5,1065.4 324.7,1088.2 324.9,1085.5 325.1,1100.5 325.4,1079.9 325.6,1040.9 325.8,1088.8 326,1080.4 326.2,1084.4 326.4,1105.4 326.6,1091.2 326.8,1098.1 327,1103.5 327.3,1128.1 327.5,1119.8 327.7,1085.2 327.9,1093.4 328.1,1071.8 328.3,1078.9 328.5,1069.1 328.7,1083.8 328.9,1113.8 329.2,1096.8 329.4,1104.4 329.6,1088.8 329.8,1086.2 330,1095.3 330.2,1099.3 330.4,1089 330.6,1095.1 330.9,1111 331.1,1060.3 331.3,1110.8 331.5,1060.2 331.7,1090.1 331.9,1090.6 332.1,1044.7 332.3,1067.5 332.5,1106.2 332.8,1066.2 333,1084.8 333.2,1097.2 333.4,1101.4 333.6,1071.4 333.8,1109.5 334,1100.2 334.2,1072.2 334.5,1120 334.7,1100.3 334.9,1073.4 335.1,1088.4 335.3,1095.1 335.5,1080.7 335.7,1115.4 335.9,1105.6 336.1,1082.8 336.4,1098.1 336.6,1116.4 336.8,1059.7 337,1091.7 337.2,1055.3 337.4,1084.2 337.6,1090 337.8,1098.8 338,1091.3 338.3,1117.5 338.5,1102.2 338.7,1077.6 338.9,1093.8 339.1,1096.5 339.3,1112.3 339.5,1084.3 339.7,1079.4 340,1092.2 340.2,1099.2 340.4,1105.3 340.6,1096.8 340.8,1111 341,1087.7 341.2,1024.9 341.4,1083.6 341.6,1093.2 341.9,1098.8 342.1,1077.5 342.3,1083.8 342.5,1070.7 342.7,1091 342.9,1070.5 343.1,1073.4 343.3,1089.3 343.6,1049.8 343.8,1118.9 344,1083.3 344.2,1094.8 344.4,1100.8 344.6,1019.5 344.8,1073.4 345,1017.3 345.2,1069.1 345.5,1091.1 345.7,1078.6 345.9,1076.2 346.1,1081.3 346.3,1070.6 346.5,1087 346.7,1099.4 346.9,1065.7 347.1,1106.1 347.4,1080.6 347.6,1071 347.8,1076.6 348,1100.7 348.2,1092.7 348.4,1100.1 348.6,1076.1 348.8,1098.5 349.1,1108 349.3,1103.4 349.5,1092 349.7,1091.2 349.9,1105.1 350.1,1068 350.3,1117.4 350.5,1094.4 350.7,1099.6 351,1060 351.2,1092.7 351.4,1109 351.6,1103 351.8,1070.2 352,1066.8 352.2,1084.2 352.4,1103.8 352.7,1073 352.9,1107.9 353.1,1068.3 353.3,1094.9 353.5,1061 353.7,1087.6 353.9,1088.9 354.1,1082 354.3,1135.9 354.6,1106 354.8,1100.4 355,1109.4 355.2,1081 355.4,1052.8 355.6,1126.1 355.8,1103 356,1110.7 356.2,1100.1 356.5,1080.3 356.7,1094.1 356.9,1081.3 357.1,1068.8 357.3,1088.8 357.5,1081.3 357.7,1094.9 357.9,1104.4 358.2,1084 358.4,1112.8 358.6,1095.3 358.8,1098.3 359,1100.8 359.2,1085.4 359.4,1091.5 359.6,1110 359.8,1093.7 360.1,1074.2 360.3,1077.3 360.5,1093 360.7,1086.4 360.9,1112 361.1,1062.3 361.3,1082.1 361.5,1094.5 361.8,1076.3 362,1096 362.2,1014.1 362.4,1110.1 362.6,1102.2 362.8,1010.4 363,1071.2 363.2,1103.1 363.4,1089.9 363.7,1101.5 363.9,1068.6 364.1,1096.1 364.3,1107.3 364.5,1082.3 364.7,1090.7 364.9,1090.5 365.1,1095.7 365.3,1071 365.6,1100 365.8,1076.8 366,1089.6 366.2,1079.3 366.4,1089.1 366.6,1063 366.8,1096.4 367,1110.1 367.3,1093.4 367.5,1057.6 367.7,1102.9 367.9,1097 368.1,1104.4 368.3,1101.6 368.5,1017.4 368.7,1084.2 368.9,1039.2 369.2,1090.9 369.4,1101.6 369.6,1110.4 369.8,1102.7 370,1108.2 370.2,1075.8 370.4,1086.7 370.6,1090.8 370.9,1066.3 371.1,1092.1 371.3,1070.8 371.5,1102.4 371.7,1063.6 371.9,1106.1 372.1,1079.6 372.3,1081.7 372.5,1092 372.8,1110.7 373,1100.2 373.2,1081.3 373.4,1085.3 373.6,1102.4 373.8,1057.7 374,1058.5 374.2,1093.1 374.4,1109.5 374.7,1091.5 374.9,1084 375.1,1069.6 375.3,1087.8 375.5,1105.9 375.7,1093.1 375.9,1074.8 376.1,1098.7 376.4,1075 376.6,1107.2 376.8,1095.2 377,1057.7 377.2,1062.5 377.4,1087.9 377.6,1078.5 377.8,1094.4 378,1002 378.3,1084 378.5,1047.2 378.7,1075.2 378.9,1057.5 379.1,1096.2 379.3,1077.1 379.5,1078 379.7,1064.4 380,1088.8 380.2,1058.2 380.4,1091.7 380.6,1097.2 380.8,1050.4 381,1084.7 381.2,1095.6 381.4,1089.1 381.6,1088.6 381.9,1100.6 382.1,1058.7 382.3,1101.2 382.5,1098.9 382.7,1086.1 382.9,1085.1 383.1,1121.6 383.3,1107.7 383.5,1104.4 383.8,1069 384,1083.8 384.2,1097 384.4,1095 384.6,1093.1 384.8,1112.1 385,1076.2 385.2,1081.3 385.5,1087.7 385.7,1089.9 385.9,1094.2 386.1,1096.4 386.3,1109.4 386.5,1082 386.7,1104.6 386.9,1039.7 387.1,1120.7 387.4,1096.1 387.6,1084.4 387.8,1092.8 388,1104.3 388.2,1081.5 388.4,1072.3 388.6,1087.9 388.8,1008.2 389.1,1093.4 389.3,1068.4 389.5,1084.4 389.7,1101.4 389.9,1075.5 390.1,1064.3 390.3,1085.7 390.5,1103.8 390.7,1114 391,1103.7 391.2,1059.7 391.4,1117.1 391.6,1037.4 391.8,1054.5 392,1081 392.2,1093.7 392.4,1094.7 392.6,1086.8 392.9,1072.9 393.1,1083.8 393.3,1096.7 393.5,1014.9 393.7,1070 393.9,1104.6 394.1,1087.1 394.3,1003 394.6,1093.1 394.8,1095.4 395,1084.6 395.2,1101.8 395.4,1071.5 395.6,1075.8 395.8,1078.5 396,1087.7 396.2,1110.4 396.5,1083.4 396.7,1105.3 396.9,1097.6 397.1,1094.5 397.3,1075.2 397.5,1063.5 397.7,1091 397.9,1086.8 398.2,1064.8 398.4,1097.5 398.6,1097.3 398.8,1088.6 399,1061.5 399.2,1107.4 399.4,1078.5 399.6,1105.6 399.8,1079.3 400.1,1092.7 400.3,1105.1 400.5,1109.6 400.7,1094 400.9,1078.3 401.1,1099.5 401.3,1088.6 401.5,1102.4 401.7,1103.2 402,1096.8 402.2,1015.3 402.4,1088.4 402.6,1112.2 402.8,1070.1 403,1098.2 403.2,1100 403.4,1077.1 403.7,1119 403.9,1076 404.1,1102.8 404.3,1058.6 404.5,1101.4 404.7,1068.5 404.9,1114.1 405.1,1089 405.3,1066.2 405.6,1099.1 405.8,1075.6 406,1081.1 406.2,1082.1 406.4,1088.9 406.6,1094.8 406.8,1100.9 407,1088.4 407.3,1081.5 407.5,1094 407.7,1076.7 407.9,1080.3 408.1,1086 408.3,1094.6 408.5,1082.4 408.7,1087.7 408.9,1062.8 409.2,1086.8 409.4,1081.6 409.6,1107.4 409.8,1088.7 410,1068.7 410.2,1084.5 410.4,1077.8 410.6,1094.1 410.8,984 411.1,1086.9 411.3,1105.3 411.5,1094.5 411.7,1060.5 411.9,1091.4 412.1,1098 412.3,1071.7 412.5,1084.6 412.8,1096.7 413,1089.7 413.2,1092 413.4,1098.3 413.6,1088 413.8,1088.8 414,1079 414.2,1094.5 414.4,1071.6 414.7,1068.5 414.9,1087.8 415.1,1121.5 415.3,1090 415.5,1109.3 415.7,1097.1 415.9,1111.2 416.1,1066.2 416.4,1090.9 416.6,1071.4 416.8,1119.3 417,1067.4 417.2,1087.6 417.4,1077.5 417.6,1093.2 417.8,1095.6 418,1119.1 418.3,1094.6 418.5,1118.7 418.7,1096.4 418.9,1110.2 419.1,1095.5 419.3,1062.2 419.5,1082.7 419.7,1109.6 419.9,1085.3 420.2,1093.7 420.4,1102.1 420.6,1079.6 420.8,1087.6 421,1074.1 421.2,1073 421.4,1068.9 421.6,1093.1 421.9,1078.9 422.1,1093 422.3,1080.5 422.5,1099.4 422.7,1101.6 422.9,894.3 423.1,1071.9 423.3,1084.5 423.5,1080 423.8,1076.2 424,1083.3 424.2,1046.1 424.4,1072.8 424.6,1092.9 424.8,1092.2 425,1089 425.2,1084.9 425.5,1101.1 425.7,1064.5 425.9,1099.7 426.1,1095.7 426.3,1071.8 426.5,1084.1 426.7,1091.3 426.9,1076.9 427.1,1081 427.4,1072 427.6,1055.4 427.8,1104.1 428,1087.4 428.2,1109.6 428.4,1070 428.6,1088 428.8,1095.6 429,1089.3 429.3,1103.8 429.5,1087.9 429.7,1061.4 429.9,1096.1 430.1,1087.1 430.3,1091.6 430.5,1080.9 430.7,1074.2 431,1118.1 431.2,1091.3 431.4,1068.6 431.6,1102.2 431.8,1079.8 432,1069.6 432.2,1098.5 432.4,1078.1 432.6,1108.2 432.9,1087.4 433.1,1085.6 433.3,1102.9 433.5,1080 433.7,1079.6 433.9,1095.1 434.1,1024.2 434.3,1079 434.6,1079.4 434.8,1083.3 435,1073.4 435.2,1086.9 435.4,1086.4 435.6,1053.5 435.8,1084.8 436,1086.2 436.2,1065 436.5,1058.1 436.7,1096 436.9,1105.4 437.1,1104.9 437.3,1090.9 437.5,1101.9 437.7,1101.9 437.9,1052.9 438.1,1091.4 438.4,1107.1 438.6,1107 438.8,1082.6 439,1110.6 439.2,1089.5 439.4,1069.3 439.6,1101.5 439.8,1109.9 440.1,1070.7 440.3,1070.9 440.5,1072.9 440.7,1046.3 440.9,1098.8 441.1,1088.5 441.3,1105.6 441.5,1104.1 441.7,1071.1 442,1115.4 442.2,1102.5 442.4,1099.8 442.6,1055.6 442.8,1091.8 443,1099.5 443.2,1103.4 443.4,1098.5 443.7,1072.4 443.9,1110.8 444.1,1083.1 444.3,1101.3 444.5,1073.2 444.7,1063 444.9,1087.5 445.1,1096.8 445.3,1107.7 445.6,1082 445.8,1098.3 446,1067.2 446.2,1082.1 446.4,1036.1 446.6,1102.3 446.8,1104.4 447,1080 447.2,1109.8 447.5,1085.3 447.7,1099.1 447.9,1057 448.1,1092 448.3,1085.6 448.5,1107.5 448.7,1088.5 448.9,1084.4 449.2,1106.6 449.4,1078.8 449.6,1080.4 449.8,1121.8 450,1138.8 450.2,1065.1 450.4,1095.9 450.6,1092.1 450.8,1026.7 451.1,1095.4 451.3,1093.9 451.5,1074.6 451.7,1105.7 451.9,1086.5 452.1,1084 452.3,1057.2 452.5,1090.7 452.8,1085.3 453,1112.4 453.2,1095.5 453.4,1098.3 453.6,1087.9 453.8,1061.5 454,1102.3 454.2,1064.6 454.4,1098.4 454.7,1089.5 454.9,1083.3 455.1,1115.3 455.3,1067.5 455.5,1087.5 455.7,1087 455.9,1064.3 456.1,1094 456.3,1084.9 456.6,1109.3 456.8,1080.8 457,1133.3 457.2,1060.3 457.4,1093 457.6,1077.7 457.8,1097.3 458,1054.7 458.3,1086.4 458.5,1117.9 458.7,1084.9 458.9,1040.5 459.1,1099.2 459.3,1099 459.5,1091.1 459.7,1049.6 459.9,1084.4 460.2,1110.1 460.4,1090.3 460.6,1109.6 460.8,1062.6 461,1085.9 461.2,1101.4 461.4,1014.5 461.6,1122.2 461.9,1096.4 462.1,1120 462.3,1093.3 462.5,1087 462.7,1089.3 462.9,1077.3 463.1,1087.1 463.3,1086.6 463.5,1069.8 463.8,1080 464,1097.6 464.2,1067.2 464.4,1093 464.6,1083 464.8,1091.2 465,1078.1 465.2,1100.3 465.4,1084.5 465.7,1101.3 465.9,1068.1 466.1,1098.3 466.3,1092.8 466.5,1107.8 466.7,1099.6 466.9,1106.7 467.1,1066.2 467.4,1048.6 467.6,1105.9 467.8,1104.1 468,1086.8 468.2,1057.5 468.4,1126.4 468.6,1080.6 468.8,1090.3 469,1080.4 469.3,1093 469.5,1082.3 469.7,1075.8 469.9,1098.5 470.1,1118.6 470.3,1110 470.5,1093.3 470.7,1085.7 471,1082 471.2,1126.7 471.4,1092 471.6,1096.1 471.8,1086.2 472,1088.1 472.2,1102.2 472.4,1077.2 472.6,1105.6 472.9,1065.5 473.1,1091.6 473.3,1083.2 473.5,1093.9 473.7,1077.5 473.9,1103.3 474.1,1110.1 474.3,1080.7 474.5,1122.5 474.8,1112.2 475,1079.5 475.2,1085.3 475.4,1069.7 475.6,1106.8 475.8,1135.9 476,994.2 476.2,1119.4 476.5,1053.2 476.7,1066.6 476.9,1094 477.1,1094 477.3,1074.2 477.5,1084.9 477.7,1089.4 477.9,1075.4 478.1,1099.3 478.4,1083.1 478.6,1083.4 478.8,1108.4 479,1117.9 479.2,1101.7 479.4,1096.9 479.6,1092.1 479.8,1101 480.1,1066.7 480.3,1103.7 480.5,1118.7 480.7,1081.2 480.9,1068.8 481.1,1092.1 481.3,1100 481.5,1061 481.7,1112.2 482,1084.5 482.2,1058.1 482.4,1070.9 482.6,1095.8 482.8,1091.8 483,1054 483.2,1090.1 483.4,1090.7 483.6,1103.1 483.9,1065 484.1,1060.3 484.3,1104.3 484.5,1097 484.7,1084.3 484.9,1103.4 485.1,1089.6 485.3,1097.1 485.6,1111.6 485.8,1069.4 486,1116.6 486.2,1082.5 486.4,1087.1 486.6,1085.3 486.8,1087.8 487,1068.9 487.2,1077.7 487.5,1092.5 487.7,1086 487.9,1059.5 488.1,1065.5 488.3,1103.1 488.5,1090.9 488.7,1108.8 488.9,1096.3 489.2,1110.3 489.4,1102.1 489.6,1092.8 489.8,1076.3 490,1093.2 490.2,1095.3 490.4,1114.3 490.6,1029.5 490.8,1063.3 491.1,1077.8 491.3,1107.3 491.5,1087.3 491.7,1098.4 491.9,1079 492.1,1087.7 492.3,1107.8 492.5,1102 492.7,1064.1 493,1078.2 493.2,1087.2 493.4,1051.7 493.6,1093.1 493.8,1098.5 494,1098.4 494.2,1091.7 494.4,1085.7 494.7,1113.3 494.9,1113.3 495.1,1090 495.3,1096.4 495.5,1099.5 495.7,1076.1 495.9,1084 496.1,1098.7 496.3,1105.6 496.6,1087 496.8,1083.3 497,866.8 497.2,1084.6 497.4,1067 497.6,1085.1 497.8,1078.3 498,1101.9 498.3,1086.6 498.5,1083.1 498.7,1068.6 498.9,1063.2 499.1,1093 499.3,1066.9 499.5,1059.6 499.7,1086.9 499.9,1090.8 500.2,1108.6 500.4,1052.1 500.6,1093.1 500.8,1093.7 501,1069.1 501.2,1043.3 501.4,1037.6 501.6,1091.9 501.8,1087 502.1,1093.9 502.3,1098.8 502.5,1110.9 502.7,1084.1 502.9,1081.2 503.1,1066.7 503.3,1083.7 503.5,1092.5 503.8,1098.9 504,1081 504.2,1022.9 504.4,1080.4 504.6,1121.5 504.8,1109.9 505,1041.9 505.2,1091 505.4,1121.9 505.7,1106.4 505.9,1081.7 506.1,1071.2 506.3,1077.9 506.5,1088.9 506.7,1100 506.9,1032.8 507.1,1084.3 507.4,1103.9 507.6,1092.6 507.8,1056.5 508,1096.1 508.2,1049.3 508.4,1038.2 508.6,1086.5 508.8,1104.7 509,1062.5 509.3,1094.2 509.5,1092.9 509.7,1084.8 509.9,1081.9 510.1,1092.2 510.3,1073.5 510.5,1090 510.7,1076.1 511,1095.1 511.2,1102.8 511.4,1097.1 511.6,1101.8 511.8,1111.4 512,1100.5 512.2,1131.1 512.4,1039.2 512.6,1069.7 512.9,1104.6 513.1,1088.8 513.3,1102.3 513.5,1077.5 513.7,1072.6 513.9,1097.7 514.1,1081 514.3,1114.2 514.5,1085.4 514.8,1078.5 515,1086.7 515.2,1051.5 515.4,1024.7 515.6,1058.2 515.8,1047.1 516,1090.4 516.2,1080.7 516.5,1100.2 516.7,1078.3 516.9,1102.1 517.1,1088.5 517.3,1101 517.5,1106 517.7,1089.6 517.9,1102.4 518.1,1106 518.4,1094 518.6,1103 518.8,1087.4 519,1083.7 519.2,1084.6 519.4,1065.9 519.6,1091 519.8,1095.2 520.1,1087.4 520.3,1097.4 520.5,1108.6 520.7,1083.7 520.9,1031.8 521.1,1101.8 521.3,1095.3 521.5,1089.8 521.7,1096.9 522,1120.3 522.2,1090.4 522.4,1087.3 522.6,1085.9 522.8,1038.7 523,1103.3 523.2,1065.6 523.4,1085.2 523.6,1099.6 523.9,1066.3 524.1,1093.5 524.3,1076.3 524.5,1105.4 524.7,1116.4 524.9,1077.9 525.1,1093.7 525.3,1070.2 525.6,1108 525.8,1060.4 526,1112.2 526.2,1000.2 526.4,1090 526.6,1133.3 526.8,1086.4 527,1095.6 527.2,1104.8 527.5,1099.9 527.7,1111.9 527.9,1077.1 528.1,1105.4 528.3,1095.6 528.5,1072.1 528.7,1112.1 528.9,1111.2 529.2,1085.8 529.4,1072.4 529.6,1075.9 529.8,1107.2 530,1097 530.2,1087.3 530.4,1077.9 530.6,1079.8 530.8,1108.7 531.1,1081.1 531.3,1075.5 531.5,1069.8 531.7,1123 531.9,1016.3 532.1,1085.7 532.3,1086.2 532.5,1107.3 532.7,1107.7 533,1082 533.2,1062.6 533.4,1089.6 533.6,1087.6 533.8,1099.2 534,1061.5 534.2,1082.7 534.4,1079.6 534.7,1091.4 534.9,1120.4 535.1,1089.1 535.3,1109.2 535.5,1056.8 535.7,1099.1 535.9,1069.6 536.1,1110.8 536.3,1089.7 536.6,1087.1 536.8,1072.1 537,1099.6 537.2,1090.5 537.4,1105 537.6,1100.5 537.8,1061.4 538,1065 538.3,1117.4 538.5,1118.7 538.7,1098.9 538.9,1068 539.1,1102.3 539.3,1076.5 539.5,1093.6 539.7,1099 539.9,1081.9 540.2,1089.8 540.4,1086.5 540.6,1119.4 540.8,1088.6 541,1089.3 541.2,1046.1 541.4,1092.5 541.6,1088.6 541.8,1075.1 542.1,1076.1 542.3,1082.7 542.5,1074.6 542.7,1117.6 542.9,1093.5 543.1,1098.7 543.3,1089.4 543.5,1113.7 543.8,1081.2 544,1095.6 544.2,1082.6 544.4,1090.2 544.6,1085.1 544.8,1075.1 545,1070.4 545.2,1111.3 545.4,1091.3 545.7,1043.8 545.9,1092.4 546.1,1099 546.3,1120.9 546.5,1104.4 546.7,1101.7 546.9,1086.9 547.1,1081.2 547.4,1072.1 547.6,1087.4 547.8,1064.6 548,1068.1 548.2,1071.2 548.4,1041 548.6,1114.6 548.8,1090.8 549,1094.8 549.3,1083.5 549.5,1065.4 549.7,1059.4 549.9,998.9 550.1,1102.1 550.3,1111.2 550.5,1083.4 550.7,1100.7 550.9,1092.5 551.2,1078.7 551.4,1097.5 551.6,1104.4 551.8,1093.2 552,1086.8 552.2,1072.7 552.4,1100.7 552.6,1079.8 552.9,1088.7 553.1,1083.9 553.3,1086.1 553.5,1101.2 553.7,1124.3 553.9,1103.5 554.1,1085.7 554.3,1088.8 554.5,1086.1 554.8,1092.8 555,1089.4 555.2,1095.6 555.4,1072.8 555.6,1109.9 555.8,1119.5 556,1103.2 556.2,1092.7 556.5,1081 556.7,1066.4 556.9,1076.2 557.1,1077.2 557.3,1071 557.5,1076.1 557.7,1076.6 557.9,1102.1 558.1,1098.4 558.4,1122.4 558.6,1088.5 558.8,1094.5 559,1075 559.2,1096.3 559.4,1085.2 559.6,1090.6 559.8,1103.2 560,1070.3 560.3,1112.6 560.5,1107.1 560.7,1096 560.9,1071.8 561.1,1003.7 561.3,1099.7 561.5,1081.8 561.7,1093.5 562,1103.9 562.2,1085.9 562.4,1089.7 562.6,1098.1 562.8,1079.8 563,1077.6 563.2,1056.6 563.4,1067.8 563.6,1082.7 563.9,1092.2 564.1,1068.8 564.3,1079.2 564.5,1047.6 564.7,1070.1 564.9,1093.5 565.1,1082.5 565.3,1121.9 565.6,1100.1 565.8,1102.7 566,1083.2 566.2,1076.5 566.4,1109.8 566.6,1067.3 566.8,1080.4 567,1077.3 567.2,1094.1 567.5,1081.2 567.7,1061.6 567.9,873.2 568.1,1076.7 568.3,1063.7 568.5,1122 568.7,1114.2 568.9,1100.2 569.1,1078.4 569.4,1050.9 569.6,1102.5 569.8,1098.1 570,1113.7 570.2,1088.2 570.4,1118.8 570.6,1092.9 570.8,1037.6 571.1,1044.6 571.3,1081.2 571.5,1092.3 571.7,1066.2 571.9,1060.9 572.1,1094.2 572.3,1100.6 572.5,1113.5 572.7,1086 573,1071.2 573.2,1067.3 573.4,1115.1 573.6,1103 573.8,1082.3 574,1062.6 574.2,1104.5 574.4,1088.1 574.7,1086.8 574.9,1097.8 575.1,1092.3 575.3,1095.8 575.5,1110.6 575.7,1065.8 575.9,1086.6 576.1,1096.3 576.3,1074.1 576.6,1093.4 576.8,1122.8 577,1066.1 577.2,1074.7 577.4,1080.7 577.6,1099.1 577.8,1062.3 578,1076 578.2,1003.6 578.5,1105.4 578.7,1106.1 578.9,1092 579.1,1086.5 579.3,1124.5 579.5,1080.5 579.7,1083.4 579.9,1067.8 580.2,1093.3 580.4,1094.3 580.6,1084.8 580.8,1108.3 581,1089 581.2,1113.9 581.4,1101.1 581.6,1088.4 581.8,1090.3 582.1,1056.4 582.3,1084.6 582.5,1090.5 582.7,1081.7 582.9,1100 583.1,1094.8 583.3,1118.5 583.5,1105.9 583.8,1085.7 584,1102.1 584.2,1067.7 584.4,1110.8 584.6,1082.8 584.8,1118 585,1094.3 585.2,1087.4 585.4,1093.9 585.7,1098 585.9,1105.4 586.1,1090.9 586.3,1094.5 586.5,1119 586.7,1100 586.9,1108.1 587.1,1077.9 587.3,1070.6 587.6,1075.9 587.8,1086.1 588,1087 588.2,1092.9 588.4,1089.5 588.6,1089.9 588.8,1103.3 589,1107.4 589.3,1086.4 589.5,1106 589.7,1070.5 589.9,1095.1 590.1,1080.9 590.3,1088.4 590.5,1094 590.7,1087.9 590.9,1089.8 591.2,1067.9 591.4,1083.4 591.6,1071.6 591.8,1090.1 592,1082.7 592.2,1100.5 592.4,1069.6 592.6,1093.4 592.9,1088.6 593.1,1024.7 593.3,1106.3 593.5,1123.1 593.7,1055.9 593.9,1072.3 594.1,1101.4 594.3,1094.4 594.5,1111.5 594.8,1080.4 595,1069.3 595.2,1080.6 595.4,1098.7 595.6,1082.1 595.8,1091 596,1109 596.2,1073.5 596.4,1071.2 596.7,1081.2 596.9,1080.4 597.1,1077.7 597.3,1078.5 597.5,1090.9 597.7,1113.9 597.9,1084.6 598.1,1055.4 598.4,1094.7 598.6,1119.2 598.8,1062 599,1095.2 599.2,1088.9 599.4,1070.6 599.6,1078.4 599.8,1089.3 600,1085.9 600.3,1025.3 600.5,1112.3 600.7,1122.6 600.9,1093.2 601.1,1072.3 601.3,1074.7 601.5,1046.7 601.7,1083.6 602,1086.4 602.2,1070.4 602.4,1111.9 602.6,1110 602.8,1089.8 603,1099 603.2,1111.8 603.4,1094.2 603.6,1063.8 603.9,1026.9 604.1,1101.9 604.3,1077.1 604.5,1107.1 604.7,1090.8 604.9,1094.3 605.1,1085.4 605.3,1089.8 605.5,1082.9 605.8,1100.5 606,1089.5 606.2,1078.6 606.4,1104.3 606.6,1076.4 606.8,1086.8 607,1061 607.2,1080.4 607.5,1088.9 607.7,1104.8 607.9,1113.6 608.1,1109.9 608.3,1104.3 608.5,1101.9 608.7,1084.2 608.9,1066.4 609.1,1092.3 609.4,1084.9 609.6,1086.6 609.8,1085 610,1078.1 610.2,1093.6 610.4,1083 610.6,1082.2 610.8,1099.7 611.1,1084.7 611.3,1112.6 611.5,1119.8 611.7,1097.6 611.9,1065.6 612.1,1083.1 612.3,1088.8 612.5,1057.4 612.7,1070.8 613,1084.2 613.2,1086.5 613.4,1085 613.6,1098.2 613.8,1088.9 614,1114.1 614.2,1080.9 614.4,1070.2 614.6,1105.7 614.9,1091.6 615.1,1115.4 615.3,1079.9 615.5,1097.9 615.7,1091.6 615.9,1101.2 616.1,1105.2 616.3,1083.7 616.6,1087.9 616.8,1078.5 617,1081.5 617.2,1103.1 617.4,1067.4 617.6,1068.6 617.8,1082.4 618,1081.6 618.2,1071.2 618.5,1109.2 618.7,1086 618.9,1106.7 619.1,1061.3 619.3,1121.9 619.5,1088 619.7,1083.6 619.9,1100.9 620.2,1103.1 620.4,1051.9 620.6,1098 620.8,1095.8 621,1086.1 621.2,1066 621.4,1113.5 621.6,1106.7 621.8,1102 622.1,1097.3 622.3,1086.2 622.5,1110.9 622.7,1094.2 622.9,1083.5 623.1,1095.1 623.3,1087.3 623.5,1083 623.7,1069.5 624,1093.3 624.2,1075.6 624.4,1060.3 624.6,1048.7 624.8,1082.1 625,1087.1 625.2,1078.5 625.4,1111 625.7,1077.9 625.9,1094.1 626.1,1065.7 626.3,1116.1 626.5,1077 626.7,1108.9 626.9,1069.9 627.1,1100.3 627.3,1104.5 627.6,1026.5 627.8,1097.6 628,1082.2 628.2,1089 628.4,1097.7 628.6,1060 628.8,1117.4 629,1087 629.3,1083.6 629.5,1081.4 629.7,1063.7 629.9,1086.9 630.1,1113.1 630.3,1071.3 630.5,1101.4 630.7,1102.4 630.9,1085.4 631.2,1101.7 631.4,1126.5 631.6,1084.6 631.8,1106.5 632,1040.5 632.2,1108.2 632.4,1100.5 632.6,1113.9 632.8,1064.5 633.1,1076.6 633.3,1088.7 633.5,1090 633.7,1112.5 633.9,1064.9 634.1,1066.3 634.3,1095.1 634.5,1084.8 634.8,1100.4 635,1107.8 635.2,1062.4 635.4,1091.1 635.6,1100.7 635.8,1085.7 636,1105.1 636.2,1111.2 636.4,1123.6 636.7,1120.1 636.9,1066.3 637.1,1111.7 637.3,1085.8 637.5,1110.6 637.7,1072.1 637.9,1090.3 638.1,1079 638.4,1097.2 638.6,1101.7 638.8,1095.8 639,1081.2 639.2,1089.7 639.4,1104.6 639.6,1066.6 639.8,1085.3 640,1087.6 640.3,1094.3 640.5,1091.3 640.7,1069.3 640.9,1101.3 641.1,1046.7 641.3,1094.1 641.5,1105.8 641.7,1079.4 641.9,1097 642.2,1099.8 642.4,1111.9 642.6,1099.2 642.8,1090.9 643,1111.5 643.2,1090.4 643.4,1070.6 643.6,1110.3 643.9,1092.6 644.1,1104.6 644.3,1075.2 644.5,1091.9 644.7,1066.6 644.9,1036.7 645.1,1094.9 645.3,1087.9 645.5,1089.5 645.8,1084.7 646,1081.7 646.2,1044.2 646.4,1068.8 646.6,1081.5 646.8,1068.5 647,1084.5 647.2,1088.2 647.5,1126.9 647.7,1085.6 647.9,1108 648.1,1044.2 648.3,1101.9 648.5,1084.5 648.7,1081.7 648.9,1087.9 649.1,1100.3 649.4,1051.4 649.6,1109.1 649.8,1098.4 650,1061.8 650.2,1073.9 650.4,1079.9 650.6,1093.8 650.8,1100.4 651,1094.8 651.3,1079.5 651.5,1069.6 651.7,1096.3 651.9,1091.2 652.1,1059.5 652.3,1067.5 652.5,1085.8 652.7,1094 653,1028.7 653.2,1095.9 653.4,1085.6 653.6,1083.4 653.8,1081.7 654,1086.1 654.2,1075.3 654.4,1078.7 654.6,1089.8 654.9,1100.8 655.1,954.6 655.3,1065.3 655.5,1082.6 655.7,1069.2 655.9,1101.2 656.1,1074.6 656.3,1055.4 656.6,1101.7 656.8,1070.1 657,1096 657.2,1089.3 657.4,1096.7 657.6,1091.7 657.8,1088.6 658,1106.5 658.2,1071.1 658.5,1094.6 658.7,1098.3 658.9,1063.9 659.1,1081 659.3,1100.2 659.5,1088.9 659.7,1096.3 659.9,1126.1 660.1,1078.7 660.4,1110 660.6,1092.6 660.8,1118.7 661,1083.3 661.2,1094.8 661.4,1085.5 661.6,1090 661.8,1086.8 662.1,1090.5 662.3,1100.2 662.5,1116.9 662.7,1064.6 662.9,1096.7 663.1,1069.5 663.3,1078.4 663.5,1093.5 663.7,1098.4 664,1083.1 664.2,1082.3 664.4,1087.9 664.6,1068.3 664.8,1083.2 665,1096.1 665.2,1107.7 665.4,1081.9 665.7,1101.7 665.9,1083.7 666.1,1093.8 666.3,1105.3 666.5,1106.9 666.7,1103.3 666.9,1094.7 667.1,1092.3 667.3,1080.2 667.6,1095.7 667.8,1096.6 668,1104.3 668.2,1085.4 668.4,1104.8 668.6,1096.6 668.8,1083.5 669,1078.3 669.2,1078.3 669.5,1080.2 669.7,1085.6 669.9,1090.7 670.1,1073.2 670.3,1092.2 670.5,1111.1 670.7,1093.2 670.9,1095.5 671.2,1081.1 671.4,1092.5 671.6,1099.9 671.8,1082.5 672,1090.1 672.2,1101.1 672.4,1110.6 672.6,1103.2 672.8,1076.7 673.1,1068 673.3,1079.5 673.5,1053.8 673.7,1097.1 673.9,1050.9 674.1,1084.1 674.3,1102.2 674.5,1078.6 674.8,1078.1 675,1099.5 675.2,1098.9 675.4,1081.4 675.6,1076.8 675.8,1081.7 676,1018.4 676.2,1112.5 676.4,1087.3 676.7,1076.5 676.9,1079.9 677.1,1103.9 677.3,1083.9 677.5,1068.2 677.7,1099.2 677.9,1108.3 678.1,1061.5 678.3,1083.8 678.6,1078.6 678.8,1059.5 679,1082 679.2,1099.6 679.4,1094.4 679.6,1071.4 679.8,1063.2 680,1096.6 680.3,1064.5 680.5,1086 680.7,1083.2 680.9,1075.9 681.1,1048.2 681.3,1094.4 681.5,1086 681.7,1092.1 681.9,1079.1 682.2,1102.7 682.4,1045.6 682.6,1089.6 682.8,1090.1 683,1108.6 683.2,1086.5 683.4,1114.6 683.6,1094 683.9,1102.6 684.1,1063.8 684.3,1062 684.5,1092.3 684.7,1077.9 684.9,1098.1 685.1,1090 685.3,1106.4 685.5,1090.9 685.8,1068.5 686,1060.4 686.2,1078.2 686.4,1110.3 686.6,1082.4 686.8,1054.1 687,1077.9 687.2,1101.8 687.4,1088 687.7,1114.6 687.9,1098.7 688.1,1072.3 688.3,1087.4 688.5,1103.9 688.7,1073.7 688.9,1082.2 689.1,1091.1 689.4,1084.9 689.6,1093.1 689.8,1080.7 690,1064.4 690.2,1115.3 690.4,1085 690.6,1124.4 690.8,1090.1 691,1101.2 691.3,1110.4 691.5,1086.4 691.7,1063.1 691.9,1086.7 692.1,1075.1 692.3,1021.5 692.5,1108.9 692.7,1115.6 693,1097 693.2,1100.4 693.4,1070.8 693.6,1074 693.8,1083.4 694,1088.8 694.2,1078.3 694.4,1103.9 694.6,1080.4 694.9,1097.9 695.1,1067.4 695.3,1088.4 695.5,1069.8 695.7,1097.8 695.9,1080.6 696.1,1075.4 696.3,1070.7 696.5,1069.7 696.8,1084.3 697,1095 697.2,1061.7 697.4,1087 697.6,1114.1 697.8,1096.6 698,1071 698.2,1078.1 698.5,1092.8 698.7,1091.8 698.9,1080 699.1,1095.2 699.3,1080.3 699.5,1084.9 699.7,1096.8 699.9,1125.4 700.1,1057.6 700.4,1075.7 700.6,1115.7 700.8,1087.2 701,1101.7 701.2,1084.4 701.4,1062.7 701.6,1053.5 701.8,1080.7 702.1,1047.1 702.3,1095.9 702.5,1079.6 702.7,1080.3 702.9,1075.9 703.1,1090.8 703.3,1097.8 703.5,1077 703.7,1077.7 704,1062.5 704.2,1037.9 704.4,1119.3 704.6,1110.6 704.8,1091.2 705,1046.1 705.2,1108.5 705.4,1013.5 705.6,1098 705.9,1097.2 706.1,1074.6 706.3,1006.4 706.5,1115.8 706.7,1075.9 706.9,1084.6 707.1,1095 707.3,1079.7 707.6,1087.6 707.8,1073.3 708,1086.7 708.2,1098.8 708.4,1102.1 708.6,1074.3 708.8,1118.2 709,1084.5 709.2,1055 709.5,1080.2 709.7,1083.6 709.9,1099 710.1,1114.8 710.3,1094.6 710.5,1029.7 710.7,1134.8 710.9,1106.4 711.2,967.2 711.4,1094 711.6,1110.7 711.8,1078.7 712,1107.3 712.2,1088.6 712.4,1111.8 712.6,1087.1 712.8,1097.2 713.1,1112.4 713.3,1095.1 713.5,1111.7 713.7,1076.8 713.9,1077 714.1,1103.1 714.3,1073.7 714.5,1088.8 714.7,1084.4 715,1077.5 715.2,1111.9 715.4,1080.2 715.6,1108.3 715.8,1080.4 716,1093.8 716.2,1081.5 716.4,1096.6 716.7,1099.5 716.9,1081.5 717.1,1094.3 717.3,1068.5 717.5,1093.5 717.7,1068.4 717.9,1108.6 718.1,1077.9 718.3,1093.1 718.6,1078.8 718.8,1098.9 719,1085.7 719.2,1083.3 719.4,1101.3 719.6,1045.1 719.8,1094.9 720,1105.9 720.3,1078.7 720.5,1092.9 720.7,1112.6 720.9,1113.2 721.1,1094.3 721.3,1089.4 721.5,1088.8 721.7,1084.6 721.9,1101 722.2,1099.8 722.4,1076.1 722.6,1098.2 722.8,1043.2 723,1116.4 723.2,1116.5 723.4,1090 723.6,1085.8 723.8,1073.4 724.1,1082.4 724.3,1086.3 724.5,1068.4 724.7,1064.3 724.9,1079.7 725.1,1066.9 725.3,1086.1 725.5,1072.9 725.8,1092.9 726,1112 726.2,1096.7 726.4,1051.1 726.6,1098.5 726.8,1084.2 727,1051.4 727.2,1087.6 727.4,1082.6 727.7,1080.5 727.9,1061.9 728.1,1090.2 728.3,1089 728.5,1088.7 728.7,1089.5 728.9,1115.4 729.1,1081.3 729.4,1068.1 729.6,1106.6 729.8,1086 730,1062.5 730.2,1075.4 730.4,1063.4 730.6,1103.5 730.8,1086.6 731,1090.1 731.3,1095.3 731.5,1103.6 731.7,1102.3 731.9,1108.2 732.1,1102.3 732.3,1093.7 732.5,1094.8 732.7,1096.7 732.9,1089.6 733.2,1078.4 733.4,1110.9 733.6,1085.7 733.8,1103.4 734,1069.8 734.2,1090.9 734.4,1087 734.6,1081.6 734.9,1071.5 735.1,1107.1 735.3,1088.7 735.5,1101.2 735.7,1065.7 735.9,1104.3 736.1,1080.5 736.3,1095.7 736.5,1070.1 736.8,1094.5 737,1099.3 737.2,1114 737.4,1061.7 737.6,1099.4 737.8,1060.7 738,1128.4 738.2,1097.2 738.5,1092.5 738.7,970.4 738.9,1083.8 739.1,1092.9 739.3,1092.3 739.5,1089 739.7,1090.9 739.9,1097.3 740.1,1098.2 740.4,1085.5 740.6,1090.2 740.8,1069 741,1078.5 741.2,1073.6 741.4,1088.6 741.6,1041.6 741.8,1080.9 742,1063.2 742.3,1035.1 742.5,1081.5 742.7,1098.5 742.9,1067.6 743.1,1115.5 743.3,1099.8 743.5,1091.7 743.7,1094.2 744,1083 744.2,1069.7 744.4,1100.9 744.6,1102.7 744.8,1061.6 745,1055 745.2,1109.7 745.4,1127.8 745.6,1084.8 745.9,1093.6 746.1,1072.4 746.3,1090.3 746.5,1071.5 746.7,1045.5 746.9,1104.5 747.1,1114.5 747.3,1091.8 747.6,1089.7 747.8,1092.9 748,1072.8 748.2,1111.7 748.4,1075.5 748.6,1103.3 748.8,1122.1 749,1097.2 749.2,1099.8 749.5,1089.8 749.7,1063.4 749.9,1099.6 750.1,1082.8 750.3,1091.7 750.5,1096.2 750.7,1086.3 750.9,1100.7 751.1,1058.2 751.4,1056.4 751.6,1107.4 751.8,1114.4 752,1088.5 752.2,1094.7 752.4,1098.3 752.6,1104.7 752.8,1104.5 753.1,1062.4 753.3,1122.9 753.5,1089.1 753.7,1102 753.9,1049.2 754.1,1102.8 754.3,1093.1 754.5,1065.7 754.7,1093.6 755,1084.6 755.2,1103.2 755.4,1113.8 755.6,1071.5 755.8,1100.7 756,1090.7 756.2,1072.2 756.4,1083.5 756.7,1091 756.9,1094 757.1,1107.3 757.3,1039.6 757.5,1085.3 757.7,1076.9 757.9,1102.9 758.1,1083.8 758.3,1071.7 758.6,1083.6 758.8,1076.6 759,1041.6 759.2,1066.5 759.4,1071.6 759.6,1072.3 759.8,1088.2 760,1102 760.2,1080.2 760.5,1101.3 760.7,1089.9 760.9,1061.9 761.1,1078.2 761.3,1083.2 761.5,1094.3 761.7,1118.4 761.9,1080.2 762.2,1091.6 762.4,1080.6 762.6,1111.3 762.8,1091.7 763,1081.1 763.2,1074.7 763.4,1097.8 763.6,1113 763.8,1091.8 764.1,1089.3 764.3,1079.9 764.5,1087.7 764.7,1077.8 764.9,1091.1 765.1,1104.7 765.3,1082.5 765.5,1092.8 765.8,1089 766,1055.3 766.2,1082.1 766.4,1091.7 766.6,1081.1 766.8,1072.8 767,1088.3 767.2,1109 767.4,1084.7 767.7,1088.9 767.9,1085.5 768.1,1127.7 768.3,1116 768.5,1057.8 768.7,1096.5 768.9,1060.5 769.1,1102.1 769.3,1101.2 769.6,1125.9 769.8,1102.5 770,1104.9 770.2,1093 770.4,1086.9 770.6,1094.8 770.8,1068.4 771,1026.1 771.3,1032 771.5,1090.5 771.7,1100.8 771.9,1087.9 772.1,1105.2 772.3,1100.4 772.5,1075.2 772.7,1071.6 772.9,1092.9 773.2,1066.1 773.4,1112.6 773.6,1088.8 773.8,1076.6 774,1109.1 774.2,1100.4 774.4,1102.7 774.6,1114.1 774.9,1129.2 775.1,1081.5 775.3,1093.7 775.5,1094.5 775.7,1090.8 775.9,1092.5 776.1,1086.8 776.3,1047.7 776.5,1067.9 776.8,1047.4 777,1099.5 777.2,1108.8 777.4,1087.1 777.6,1076.5 777.8,1099.9 778,1093.9 778.2,1107.6 778.4,1110.5 778.7,1059.5 778.9,1094.8 779.1,1061.5 779.3,1070.1 779.5,1086.5 779.7,1074.9 779.9,1114.2 780.1,1067.7 780.4,1088.7 780.6,1071 780.8,1094.9 781,1091.8 781.2,1081.3 781.4,1061.6 781.6,1088.6 781.8,1076 782,1087.1 782.3,1087.7 782.5,1113.4 782.7,1095.6 782.9,1092 783.1,1070.8 783.3,1053.8 783.5,1092.2 783.7,1098.2 784,1066.4 784.2,1102.8 784.4,1074.2 784.6,1072.6 784.8,1106.2 785,1081.2 785.2,1080.5 785.4,1075.8 785.6,1087.5 785.9,1064 786.1,1072.6 786.3,1117.4 786.5,1014.8 786.7,1081.6 786.9,1077 787.1,1024.6 787.3,1079.3 787.5,1101 787.8,1076.1 788,1073.2 788.2,1091 788.4,1090.3 788.6,1130.8 788.8,1086 789,1084.9 789.2,1110.3 789.5,1099.9 789.7,1091.1 789.9,1104.5 790.1,1080.6 790.3,1107 790.5,1084.7 790.7,1103.9 790.9,1083.1 791.1,1102.2 791.4,1086.4 791.6,1087.5 791.8,1110.9 792,1086.3 792.2,1087.7 792.4,1070.9 792.6,1096.9 792.8,1078 793.1,1093.5 793.3,1085.4 793.5,1093.7 793.7,1097.4 793.9,1100.8 794.1,1021.5 794.3,1095.5 794.5,1093 794.7,1090.1 795,1082.7 795.2,1116.1 795.4,1051.6 795.6,1094.5 795.8,1083.4 796,1029.7 796.2,1103.6 796.4,1090.9 796.6,1094.4 796.9,1069.4 797.1,1090.5 797.3,1068.9 797.5,1083 797.7,1121.3 797.9,1090.6 798.1,1084.6 798.3,1054.8 798.6,1069.3 798.8,1097.3 799,1092.5 799.2,1099.4 799.4,1083.9 799.6,1102.5 799.8,1101.6 800,1102.6 800.2,1093.2 800.5,1106.5 800.7,1068.8 800.9,1080.6 801.1,1106.2 801.3,1084.3 801.5,1074.3 801.7,1111.7 801.9,1090.4 802.2,1112.1 802.4,1112.2 802.6,1109.8 802.8,1079.4 803,1096.6 803.2,1092.8 803.4,1113.8 803.6,1091.4 803.8,1102.3 804.1,1076.2 804.3,1060.8 804.5,1081.4 804.7,1088.9 804.9,1111.4 805.1,1057.3 805.3,1102.4 805.5,1091.9 805.7,1105.4 806,1092.6 806.2,1103.6 806.4,1085.7 806.6,1070.8 806.8,1099.2 807,1093.6 807.2,1087.7 807.4,1094.2 807.7,1081.9 807.9,1071.7 808.1,1115.4 808.3,1074.8 808.5,1099.7 808.7,1094.5 808.9,1106.3 809.1,1069.9 809.3,1057 809.6,1083.3 809.8,1090 810,1087 810.2,1082.7 810.4,1072.6 810.6,1065.2 810.8,1023.4 811,1104.8 811.3,928.3 811.5,1081.8 811.7,1088.6 811.9,1066.9 812.1,1106.8 812.3,1117.8 812.5,1086.7 812.7,1088.6 812.9,1102.4 813.2,1108.1 813.4,1100.7 813.6,1087.6 813.8,1093.9 814,1088.6 814.2,1094.4 814.4,1077.9 814.6,1094.1 814.8,1129 815.1,1108.3 815.3,1077.7 815.5,1105.2 815.7,1112.4 815.9,1078.1 816.1,1101.5 816.3,1081.9 816.5,1088.5 816.8,1100.8 817,1080.6 817.2,1096.7 817.4,1062.6 817.6,1108 817.8,1097.9 818,1067.7 818.2,1069.5 818.4,1099 818.7,1089.4 818.9,1081.3 819.1,1120 819.3,1092.4 819.5,1085.6 819.7,1085.7 819.9,1097.1 820.1,1093.1 820.4,1110 820.6,1103.7 820.8,1101.6 821,1086.3 821.2,1109.8 821.4,1098.1 821.6,1117 821.8,1094.3 822,1075.5 822.3,1087.6 822.5,1088.1 822.7,1111.1 822.9,1107.2 823.1,1083.8 823.3,1089.2 823.5,1054.1 823.7,1078.1 823.9,1082.6 824.2,1070.3 824.4,1082 824.6,1086.9 824.8,1106.6 825,1082.9 825.2,1066.3 825.4,1101.9 825.6,1111.2 825.9,1097.3 826.1,1093.1 826.3,1045.2 826.5,1106.6 826.7,1092.5 826.9,1112.1 827.1,1076.3 827.3,1088.3 827.5,1086.1 827.8,1097.7 828,1086.7 828.2,1118.4 828.4,1094 828.6,1119.6 828.8,1097.3 829,1105.8 829.2,1069.9 829.5,1084.7 829.7,1088 829.9,1096.6 830.1,1060.5 830.3,1087.8 830.5,1105.9 830.7,1075.3 830.9,1073.6 831.1,1070.9 831.4,1070.1 831.6,1089.5 831.8,1071.5 832,1099.8 832.2,1073.6 832.4,1107.1 832.6,1105.7 832.8,1095.7 833,1099.5 833.3,1108.3 833.5,1100.2 833.7,1067.5 833.9,968 834.1,1097.4 834.3,1097.6 834.5,1076.2 834.7,1103.1 835,1080.7 835.2,1068.3 835.4,1078.6 835.6,1090.7 835.8,1099.7 836,1107.2 836.2,1042.7 836.4,1089.5 836.6,1097.4 836.9,1110.4 837.1,1082.6 837.3,1081.8 837.5,1087.6 837.7,1108.1 837.9,1050.3 838.1,1081.5 838.3,1110.4 838.6,1045.5 838.8,1077.8 839,1090.5 839.2,1104.1 839.4,1068.5 839.6,1106.3 839.8,1068.5 840,1077.4 840.2,1084.4 840.5,1067 840.7,1097.8 840.9,1094.3 841.1,1100.8 841.3,1055.6 841.5,1093.1 841.7,1069.9 841.9,1086.3 842.1,1127.4 842.4,1109.2 842.6,1069.7 842.8,1116.1 843,1077 843.2,1057.9 843.4,1070.2 843.6,1078.2 843.8,1023.5 844.1,1083.9 844.3,1087.5 844.5,1082.7 844.7,1117.4 844.9,1085.6 845.1,1061.4 845.3,1088.8 845.5,1091.3 845.7,1083.9 846,1073.9 846.2,1103.7 846.4,1105.4 846.6,1016.8 846.8,1088.3 847,1090.5 847.2,1089.8 847.4,1038.5 847.7,1099.9 847.9,1086 848.1,1075.7 848.3,1089 848.5,1081.1 848.7,1084 848.9,1099.7 849.1,1107.1 849.3,1077.9 849.6,1101.4 849.8,1105.7 850,1096.1 850.2,1117.8 850.4,1104.6 850.6,1106.4 850.8,1074.3 851,1094.4 851.2,1110.9 851.5,1083.2 851.7,1035.7 851.9,1070 852.1,1089.1 852.3,1079.8 852.5,1069.4 852.7,1036 852.9,1087.8 853.2,1098.1 853.4,1052.8 853.6,1097.5 853.8,1083.4 854,1091 854.2,1098.2 854.4,1091.2 854.6,1092.8 854.8,1082.4 855.1,1080.1 855.3,1105.8 855.5,1074.1 855.7,1092.6 855.9,1096.2 856.1,1085.4 856.3,1079.3 856.5,1097.4 856.8,1092.7 857,1129.5 857.2,1081 857.4,1086.4 857.6,1060.7 857.8,1093.3 858,1088.1 858.2,1114.4 858.4,1090 858.7,1064.1 858.9,1103.1 859.1,1084 859.3,1066.7 859.5,1089.7 859.7,1101.6 859.9,1084.7 860.1,1040.5 860.3,1103 860.6,1024.5 860.8,1090.6 861,1083.8 861.2,1067.2 861.4,1094.9 861.6,1093.9 861.8,1074.5 862,1094.6 862.3,1079.4 862.5,1093.5 862.7,1092.7 862.9,1097.1 863.1,1089.6 863.3,1104.7 863.5,1098.5 863.7,1047.1 863.9,1091.8 864.2,1077.6 864.4,1092.6 864.6,1082.1 864.8,1034.7 865,1088.4 865.2,1097.1 865.4,1099.5 865.6,1060.1 865.9,1116 866.1,1086.2 866.3,1093.7 866.5,1071.3 866.7,1085.5 866.9,1091.1 867.1,1102.1 867.3,1063.8 867.5,1094.2 867.8,1045.2 868,1072.3 868.2,1104.5 868.4,1070.6 868.6,1095 868.8,1072.4 869,1086.5 869.2,1098.6 869.4,1085.3 869.7,1085.4 869.9,1073.2 870.1,1111.3 870.3,1088.2 870.5,1071 870.7,1069.7 870.9,1054.3 871.1,1078.2 871.4,1075 871.6,1071.3 871.8,1076.3 872,1090.5 872.2,1101.8 872.4,1094.5 872.6,1112.3 872.8,1074.9 873,1087.5 873.3,1082.8 873.5,1110.5 873.7,1082.2 873.9,1066.9 874.1,1105.5 874.3,1103.1 874.5,1054.7 874.7,1093.7 875,1086.2 875.2,1068.7 875.4,1077 875.6,1118.4 875.8,1102.5 876,1059.4 876.2,1078.5 876.4,1070.8 876.6,1085 876.9,1066.9 877.1,1096 877.3,1099.9 877.5,1069.1 877.7,1104.7 877.9,1073.3 878.1,1119.8 878.3,1093.9 878.5,1093.2 878.8,1101.7 879,1106.2 879.2,1060.2 879.4,1079.1 879.6,1101 879.8,1083.8 880,1103.7 880.2,1095.2 880.5,1090.5 880.7,1059.4 880.9,1080.4 881.1,1101 881.3,1110.9 881.5,1109.3 881.7,1098.1 881.9,1071.6 882.1,1085.7 882.4,1078.7 882.6,1088.2 882.8,1116.7 883,1091.6 883.2,1073.4 883.4,1093.2 883.6,1080.5 883.8,1085.1 884.1,1095 884.3,1108.6 884.5,1065.4 884.7,1097.2 884.9,1076.8 885.1,1104.7 885.3,1081 885.5,1111.4 885.7,1083 886,1099.4 886.2,1103.5 886.4,1090.3 886.6,1084.8 886.8,1066.4 887,1087.7 887.2,1079.5 887.4,1104.7 887.6,1064.3 887.9,1080.4 888.1,1074.6 888.3,1075.5 888.5,1079.4 888.7,1101.4 888.9,1077.1 889.1,1081.2 889.3,1104.5 889.6,1108.3 889.8,1097.8 890,1090.5 890.2,1091 890.4,1055.4 890.6,1105.2 890.8,1108.7 891,1084.6 891.2,1071.6 891.5,1063 891.7,1081.6 891.9,1094.4 892.1,1085.6 892.3,1018.6 892.5,1097.9 892.7,1090.9 892.9,1103.3 893.2,1076.3 893.4,1099.3 893.6,1084 893.8,1064.2 894,1108.4 894.2,1101.6 894.4,1085.9 894.6,1086.6 894.8,1099.6 895.1,1081.7 895.3,1074.8 895.5,1086.5 895.7,1097.3 895.9,1071.2 896.1,1097.4 896.3,1096.2 896.5,1075.9 896.7,1084.1 897,1110.5 897.2,1009.2 897.4,1060.4 897.6,1104 897.8,1085.8 898,1125.8 898.2,1048.3 898.4,1088.3 898.7,1081.9 898.9,1050.1 899.1,1080 899.3,1090.9 899.5,1111.4 899.7,1091.7 899.9,1086 900.1,1075.6 900.3,1085.2 900.6,1100 900.8,1075.4 901,1133.3 901.2,1018.3 901.4,1084.5 901.6,1100.2 901.8,1088.8 902,1083.6 902.3,1063.4 902.5,1095.1 902.7,1092.6 902.9,1075.1 903.1,1089.9 903.3,1096.4 903.5,1085.3 903.7,1101.2 903.9,1095.3 904.2,1091.6 904.4,1098.5 904.6,1096.5 904.8,1072 905,1050.6 905.2,1091.6 905.4,1093.9 905.6,1074.5 905.8,1085.8 906.1,1113.9 906.3,1076 906.5,1080 906.7,1104.3 906.9,1100.6 907.1,1087.4 907.3,1077.4 907.5,1092.8 907.8,1094.2 908,1045.5 908.2,1071.4 908.4,1037.3 908.6,1067 908.8,1071 909,1069.9 909.2,1084.5 909.4,1081.3 909.7,1089.6 909.9,1053.9 910.1,1093.4 910.3,1097.5 910.5,1090.9 910.7,1092.5 910.9,1094.3 911.1,1065.3 911.4,1020.5 911.6,1102.6 911.8,1069.1 912,1090.2 912.2,1121.3 912.4,1094.7 912.6,1058.6 912.8,1087.6 913,1097.5 913.3,1082.7 913.5,1121.5 913.7,1112.7 913.9,1067.3 914.1,1104.2 914.3,1116.5 914.5,1062.5 914.7,1096.2 914.9,1102.1 915.2,1071.1 915.4,1077 915.6,1069.8 915.8,1088.3 916,1088.8 916.2,1116.2 916.4,1094.9 916.6,1069.6 916.9,1079.2 917.1,1095.3 917.3,1094.4 917.5,1063.4 917.7,1085.6 917.9,1090.5 918.1,1078.9 918.3,1082 918.5,1093.4 918.8,1111.4 919,1075.2 919.2,1088.9 919.4,1110.6 919.6,1116.8 919.8,1076.7 920,1105.7 920.2,1118.6 920.5,1097.6 920.7,1065 920.9,1096.4 921.1,1092.3 921.3,1094.5 921.5,1056.1 921.7,1113.9 921.9,1112.7 922.1,1075.2 922.4,1093.3 922.6,1097.2 922.8,1095.7 923,1079.2 923.2,1111.6 923.4,1076 923.6,1089.1 923.8,1068.3 924,1087.7 924.3,1075.3 924.5,1112 924.7,1088.6 924.9,1087.9 925.1,1101.4 925.3,1079.9 925.5,1064.5 925.7,1069.8 926,1106.4 926.2,1080.8 926.4,1094.5 926.6,1070 926.8,1086.6 927,1075.5 927.2,1061.2 927.4,1087 927.6,1093 927.9,1080.8 928.1,1076.1 928.3,1096.4 928.5,1103.5 928.7,1107.7 928.9,1072.8 929.1,943.8 929.3,1076.9 929.6,1094.6 929.8,1085.7 930,1094.9 930.2,1087.7 930.4,1102.6 930.6,1044.7 930.8,1072.3 931,1083.1 931.2,1121.7 931.5,1098 931.7,1091.4 931.9,1097.5 932.1,1083 932.3,1059.1 932.5,1080.8 932.7,1109.6 932.9,1113.5 933.1,1090 933.4,1086.4 933.6,1085.7 933.8,1093.9 934,1102.5 934.2,1068.9 934.4,1098.2 934.6,1078.1 934.8,1090.3 935.1,1086.9 935.3,1095.1 935.5,1078.9 935.7,1074.4 935.9,1097.7 936.1,1099.7 936.3,1065 936.5,1008.4 936.7,1079.8 937,1093 937.2,1091.5 937.4,1062.2 937.6,1070.7 937.8,1050.2 938,1099 938.2,1087 938.4,1064.8 938.7,1062.5 938.9,1108 939.1,1109.9 939.3,1090.9 939.5,1094.1 939.7,1096.7 939.9,1127.8 940.1,1107.1 940.3,1101.1 940.6,1086.2 940.8,1039.1 941,1097.9 941.2,1044.3 941.4,1065.6 941.6,1085.9 941.8,1102.2 942,1109.9 942.2,1117.6 942.5,1082.2 942.7,1102.5 942.9,1077.1 943.1,1088.4 943.3,1092.3 943.5,1095 943.7,1090.4 943.9,1113.7 944.2,1103.1 944.4,1069.8 944.6,1097.8 944.8,1100.8 945,1102.9 945.2,1077.8 945.4,1082.6 945.6,1099.6 945.8,1068.2 946.1,1089.1 946.3,1079.3 946.5,1088.9 946.7,1087.5 946.9,1095 947.1,1099.8 947.3,1098.2 947.5,1095.5 947.8,1099.4 948,1085 948.2,1107 948.4,1090.5 948.6,1070.9 948.8,1057.8 949,1093.9 949.2,1056.3 949.4,1074.9 949.7,1093.8 949.9,1099.4 950.1,1087 950.3,1077.8 950.5,1079.8 950.7,1077.2 950.9,1091.4 951.1,1077.4 951.3,1099 951.6,1080.4 951.8,1080.7 952,1061.7 952.2,1100.3 952.4,1066.5 952.6,1079.8 952.8,1091.9 953,1089.7 953.3,1069.7 953.5,1100.1 953.7,1084.2 953.9,1062.5 954.1,1106.8 954.3,1101.3 954.5,1105.1 954.7,1084.4 954.9,1114.9 955.2,1063.8 955.4,1083.2 955.6,1070.7 955.8,1091.1 956,1106.9 956.2,1106.1 956.4,1085.8 956.6,1090.5 956.9,1085.5 957.1,1114.4 957.3,1100.1 957.5,1087.8 957.7,1069.5 957.9,1025.6 958.1,1088.7 958.3,1109.8 958.5,1084.8 958.8,1099.2 959,1084.7 959.2,1089.2 959.4,1076.2 959.6,997.9 959.8,1086 960,1095.7 960.2,1096.6 960.4,1104.6 960.7,1091.3 960.9,1076.7 961.1,1085.3 961.3,1099.3 961.5,1046.1 961.7,1092.2 961.9,1108.7 962.1,1094.2 962.4,1099.6 962.6,1056.1 962.8,1096.5 963,1080.3 963.2,1097.8 963.4,1068.3 963.6,1005.9 963.8,1092.6 964,1110.3 964.3,1108 964.5,1080.3 964.7,1103.8 964.9,893.7 965.1,1100.6 965.3,1090.9 965.5,1108.6 965.7,1094.6 966,1118.9 966.2,1074.2 966.4,1058.4 966.6,1084.6 966.8,1104.9 967,1084.5 967.2,1101.5 967.4,1053.1 967.6,1084.6 967.9,1086 968.1,1109.3 968.3,1078.8 968.5,1083.9 968.7,1102.4 968.9,1090.6 969.1,1103.9 969.3,1086.1 969.5,1059.9 969.8,1072.1 970,1087.2 970.2,1101.3 970.4,1095.2 970.6,1069.9 970.8,1095.6 971,1084.7 971.2,1085.5 971.5,1084.7 971.7,1057.5 971.9,1099.6 972.1,1100.1 972.3,1091.4 972.5,1095.3 972.7,1083.1 972.9,1093.5 973.1,1113.2 973.4,1099.7 973.6,1091.3 973.8,1084.3 974,1100.2 974.2,1103.4 974.4,1061.5 974.6,1056.7 974.8,1068.4 975.1,1094.8 975.3,1082 975.5,1097.3 975.7,1105.6 975.9,1115.6 976.1,1055.6 976.3,1079.9 976.5,1083.9 976.7,1117.1 977,1088.8 977.2,1096.9 977.4,1093.2 977.6,1094.3 977.8,1068.7 978,1076 978.2,1125.8 978.4,1055.1 978.6,1103.7 978.9,1110.1 979.1,1111.5 979.3,1053.8 979.5,1109.6 979.7,1095.9 979.9,1094.3 980.1,1097.5 980.3,1121.6 980.6,1089.8 980.8,1067 981,1098.6 981.2,1086.8 981.4,1088.6 981.6,1105.1 981.8,1076.9 982,1088.9 982.2,1082.3 982.5,1093.3 982.7,1077.4 982.9,1088.1 983.1,1096.4 983.3,1112.3 983.5,1097.9 983.7,1105.3 983.9,1105.8 984.2,1083 984.4,1074.7 984.6,1082.4 984.8,1078.1 985,1102.8 985.2,1078.7 985.4,1105 985.6,1107.4 985.8,1097.8 986.1,1099.1 986.3,1087.7 986.5,1086 986.7,1090.9 986.9,1082.9 987.1,1100.9 987.3,1104.6 987.5,1086.4 987.7,1073.8 988,1083.2 988.2,1097.6 988.4,1081.3 988.6,1093 988.8,1093 989,1092.8 989.2,1094.3 989.4,1073.1 989.7,1023.7 989.9,1079.7 990.1,1106.1 990.3,1067.5 990.5,1103.4 990.7,1080.1 990.9,1033.2 991.1,1088.6 991.3,1080 991.6,1090.9 991.8,1101.6 992,1109.2 992.2,1041.2 992.4,1078.5 992.6,1078.6 992.8,1094.7 993,1072 993.3,1079 993.5,1074.5 993.7,1084.2 993.9,1075.1 994.1,1089.4 994.3,1086.7 994.5,1101.7 994.7,1116.9 994.9,1091.6 995.2,1109.7 995.4,1103.3 995.6,1097.2 995.8,1097.5 996,1084.2 996.2,1097.2 996.4,1090.9 996.6,1057.5 996.8,1047.2 997.1,1094.7 997.3,1066.1 997.5,1102.5 997.7,1084 997.9,1067.1 998.1,1095.3 998.3,1089.4 998.5,1124.5 998.8,1064.6 999,1100.4 999.2,1095.6 999.4,1113.1 999.6,1084.2 999.8,1104 1000,1094.8 1000.2,1101.7 1000.4,1082.7 1000.7,1090.7 1000.9,1126.2 1001.1,1099 1001.3,1138.1 1001.5,1096.5 1001.7,1118.2 1001.9,1079.5 1002.1,1078.3 1002.4,1089.6 1002.6,1102.2 1002.8,1093.4 1003,1098.1 1003.2,1045.8 1003.4,1109.5 1003.6,1077.8 1003.8,1083.7 1004,1096.3 1004.3,1062.4 1004.5,1082.9 1004.7,1109.5 1004.9,1104.3 1005.1,1087 1005.3,1101.7 1005.5,1090.8 1005.7,1095.4 1005.9,1044.6 1006.2,1080.2 1006.4,1092.6 1006.6,1093.7 1006.8,1081.1 1007,1076.8 1007.2,1084.1 1007.4,1068.6 1007.6,1074.1 1007.9,1102 1008.1,1096.9 1008.3,1094.1 1008.5,1079.3 1008.7,1103.4 1008.9,1100.2 1009.1,1080.3 1009.3,1060.5 1009.5,1095.1 1009.8,1101.4 1010,1106.2 1010.2,1069.1 1010.4,1094.8 1010.6,1070.9 1010.8,1101.3 1011,1097.1 1011.2,1090 1011.5,1098.2 1011.7,1094.8 1011.9,1081 1012.1,1098 1012.3,1107.6 1012.5,1099.3 1012.7,1081 1012.9,1089.7 1013.1,1079.8 1013.4,1091.8 1013.6,1089.3 1013.8,1090.5 1014,1089.8 1014.2,1114.4 1014.4,1118.9 1014.6,1075.6 1014.8,1069.4 1015,1087.9 1015.3,1081.3 1015.5,1097.4 1015.7,1090.7 1015.9,1071.8 1016.1,1103.6 1016.3,1115.7 1016.5,1076.2 1016.7,1113.7 1017,1088 1017.2,1075.3 1017.4,1093 1017.6,1083.2 1017.8,1071.2 1018,1080.5 1018.2,1084.4 1018.4,1074.1 1018.6,1104 1018.9,1088.6 1019.1,1083.6 1019.3,999.5 1019.5,1088.6 1019.7,1072.7 1019.9,1090 1020.1,1105.3 1020.3,1089.4 1020.6,1096.1 1020.8,1098.1 1021,1068.2 1021.2,1091.5 1021.4,1102.2 1021.6,1126 1021.8,1091.8 1022,1076.7 1022.2,1085.5 1022.5,1083.6 1022.7,1065.4 1022.9,1080.7 1023.1,1098 1023.3,1076.9 1023.5,1075.2 1023.7,1091.8 1023.9,1109.8 1024.1,1079 1024.4,1088.5 1024.6,1092.6 1024.8,1100.9 1025,1100.7 1025.2,1088.4 1025.4,1092 1025.6,1078.3 1025.8,1004.6 1026.1,1091.6 1026.3,1071.3 1026.5,1082.6 1026.7,1107.2 1026.9,1082.9 1027.1,1099.2 1027.3,1006.7 1027.5,1100.3 1027.7,1106.3 1028,1093.9 1028.2,1087.3 1028.4,1096.5 1028.6,1101.7 1028.8,1090.2 1029,1104.8 1029.2,1094.8 1029.4,1097 1029.7,1079.6 1029.9,1091.8 1030.1,1055.2 1030.3,1091.2 1030.5,1075.8 1030.7,1091.6 1030.9,1092.1 1031.1,1116.5 1031.3,1082.8 1031.6,1101.3 1031.8,1094.1 1032,1089.3 1032.2,1080 1032.4,1116.1 1032.6,1089.6 1032.8,1089.4 1033,1102.2 1033.2,1095.8 1033.5,1092.8 1033.7,1085.1 1033.9,1102.9 1034.1,1099.4 1034.3,1079.7 1034.5,1093 1034.7,1107.1 1034.9,1072.6 1035.2,1085.9 1035.4,1089.9 1035.6,1098.2 1035.8,1074.2 1036,1104.4 1036.2,1095.1 1036.4,1079 1036.6,1092.5 1036.8,1067.5 1037.1,1081.4 1037.3,1084.8 1037.5,1091.6 1037.7,1102.3 1037.9,1089.6 1038.1,1040.3 1038.3,1081 1038.5,1058.3 1038.8,1116.8 1039,1061.3 1039.2,1063.8 1039.4,1088.8 1039.6,1094.8 1039.8,1102.1 1040,1097.5 1040.2,1092.3 1040.4,1121.8 1040.7,1100 1040.9,1104.8 1041.1,1104.8 1041.3,1095.9 1041.5,1062.5 1041.7,1099.3 1041.9,1058.8 1042.1,1099.1 1042.3,1100.6 1042.6,1109.7 1042.8,1086.8 1043,1069.5 1043.2,1089.7 1043.4,1084 1043.6,1094.5 1043.8,1105.6 1044,1087.6 1044.3,1066.8 1044.5,1080.8 1044.7,1090.3 1044.9,1094 1045.1,1098.6 1045.3,1063.3 1045.5,1088.6 1045.7,1053.8 1045.9,1105.4 1046.2,1099.9 1046.4,1131.2 1046.6,1081.6 1046.8,1084.2 1047,1126.2 1047.2,1099.1 1047.4,1076 1047.6,1075.7 1047.9,1017.7 1048.1,1075 1048.3,1082.6 1048.5,1093.5 1048.7,1085.4 1048.9,1083.2 1049.1,1088.7 1049.3,1109.3 1049.5,1088.7 1049.8,1086.3 1050,1085.3 1050.2,1085.8 1050.4,1095 1050.6,1063 1050.8,1081.4 1051,1103.3 1051.2,1094 1051.4,1085.2 1051.7,1067.4 1051.9,1096.8 1052.1,1112.6 1052.3,1100.1 1052.5,1073.3 1052.7,1097.8 1052.9,1074.2 1053.1,1117 1053.4,1109.4 1053.6,1096.4 1053.8,1087.1 1054,1072.1 1054.2,1030.3 1054.4,1091.2 1054.6,1079.6 1054.8,1078.4 1055,1089.3 1055.3,1112.3 1055.5,1095.8 1055.7,1080.8 1055.9,1077.2 1056.1,1091.5 1056.3,1073.3 1056.5,1062.8 1056.7,1099.7 1057,1082 1057.2,1075.2 1057.4,1091.6 1057.6,1085.3 1057.8,1096 1058,1083 1058.2,1100.9 1058.4,1102.6 1058.6,1068.8 1058.9,1082.9 1059.1,1105.2 1059.3,1094.1 1059.5,1100.9 1059.7,1081.1 1059.9,1097.7 1060.1,1105.2 1060.3,1095.1 1060.5,1118.3 1060.8,1095.2 1061,1111.7 1061.2,1101.8 1061.4,1080.9 1061.6,1072.5 1061.8,1080 1062,1079.7 1062.2,1121 1062.5,1101.4 1062.7,1080.8 1062.9,1079.7 1063.1,1094.5 1063.3,1100.3 1063.5,1118.2 1063.7,1104.5 1063.9,1097.4 1064.1,1057.1 1064.4,1117.1 1064.6,1088.4 1064.8,1076.3 1065,1082.7 1065.2,1100.3 1065.4,1081.9 1065.6,1067.3 1065.8,1128.7 1066.1,1096.8 1066.3,1083.6 1066.5,1112.1 1066.7,1110.9 1066.9,1089.4 1067.1,1086.5 1067.3,1069.9 1067.5,1102.5 1067.7,1055 1068,1087.5 1068.2,1076.1 1068.4,1087.8 1068.6,1096.1 1068.8,1093.6 1069,1070.1 1069.2,1079.9 1069.4,1081.9 1069.6,1087.2 1069.9,1139.7 1070.1,1081.3 1070.3,1085.6 1070.5,1094.8 1070.7,1092.7 1070.9,1058.2 1071.1,1112.6 1071.3,1100 1071.6,1104.8 1071.8,1084.3 1072,1069.1 1072.2,1078.4 1072.4,1087.6 1072.6,1107.9 1072.8,1065 1073,1082.7 1073.2,1074.7 1073.5,1085.5 1073.7,1085.7 1073.9,1061.4 1074.1,1095.7 1074.3,1080.3 1074.5,1118.4 1074.7,1077 1074.9,1080.5 1075.2,1089.2 1075.4,1077 1075.6,1043.5 1075.8,1082.9 1076,1087.7 1076.2,1099.2 1076.4,1088.1 1076.6,1097.2 1076.8,1114.3 1077.1,1120.8 1077.3,1085.8 1077.5,1082.9 1077.7,1058.2 1077.9,1087.8 1078.1,1086.5 1078.3,1094.9 1078.5,1083.2 1078.7,1085.5 1079,1091.9 1079.2,1096.2 1079.4,1064.5 1079.6,1091.1 1079.8,1067.7 1080,1075.2 1080.2,1098.6 1080.4,1085.3 1080.7,1093.7 1080.9,1069.6 1081.1,1086.2 1081.3,1066.3 1081.5,1094.3 1081.7,1072 1081.9,1133.7 1082.1,1087 1082.3,1053.9 1082.6,1086.7 1082.8,1114.1 1083,1093.1 1083.2,1106.4 1083.4,1055.8 1083.6,1088.5 1083.8,1098.7 1084,1074.8 1084.3,1078 1084.5,1095.3 1084.7,1053.5 1084.9,1088.1 1085.1,1074.4 1085.3,1092.6 1085.5,1109 1085.7,1073.6 1085.9,1004.7 1086.2,1114.4 1086.4,1087.9 1086.6,1090.4 1086.8,1080.1 1087,1065.4 1087.2,1086 1087.4,1071.1 1087.6,1098.4 1087.8,1094.3 1088.1,1093.8 1088.3,1086.6 1088.5,1093.1 1088.7,1093.5 1088.9,1100.7 1089.1,1100.2 1089.3,1086.7 1089.5,1098 1089.8,1090.1 1090,1076.4 1090.2,1083.2 1090.4,1074.7 1090.6,1122.3 1090.8,1098 1091,1093.9 1091.2,1087.5 1091.4,1088.6 1091.7,1097.4 1091.9,1064.5 1092.1,1065.5 1092.3,1104.2 1092.5,1083.8 1092.7,1104.5 1092.9,1066 1093.1,1092.6 1093.4,1089.9 1093.6,1077.8 1093.8,1118.7 1094,1111.1 1094.2,1095.8 1094.4,1071 1094.6,1055.8 1094.8,1104.2 1095,1098.3 1095.3,1073.4 1095.5,1064.7 1095.7,1104.3 1095.9,1092.9 1096.1,1090.4 1096.3,1113.9 1096.5,1082.8 1096.7,1079.2 1096.9,1086.3 1097.2,1099.3 1097.4,1048.7 1097.6,1082.7 1097.8,1096 1098,1094.5 1098.2,1092.6 1098.4,1076.4 1098.6,1072 1098.9,1080.5 1099.1,1089.9 1099.3,1084.9 1099.5,1085 1099.7,1100.4 1099.9,1073.3 1100.1,1098.4 1100.3,1087.6 1100.5,1069.5 1100.8,1050.5 1101,1078.2 1101.2,1096.8 1101.4,1108.3 1101.6,1118.6 1101.8,1102.9 1102,1098.3 1102.2,1090.7 1102.5,1105.9 1102.7,1092.2 1102.9,1100.9 1103.1,1086.2 1103.3,1090.2 1103.5,1099.6 1103.7,1100.7 1103.9,1093 1104.1,1088.4 1104.4,1042.3 1104.6,1082.1 1104.8,1097.9 1105,1105.2 1105.2,1083.3 1105.4,1108 1105.6,1060.1 1105.8,1094.5 1106,1092.4 1106.3,1067.6 1106.5,1104.3 1106.7,1075.2 1106.9,1088.1 1107.1,1086.6 1107.3,1074.2 1107.5,1068.4 1107.7,1083.4 1108,1054.4 1108.2,1092.5 1108.4,1103.9 1108.6,1106.3 1108.8,1077.4 1109,1089.8 1109.2,1101.5 1109.4,1093.6 1109.6,1084.2 1109.9,1093.6 1110.1,1085.7 1110.3,1081 1110.5,1073.7 1110.7,1104.5 1110.9,1094.4 1111.1,1088 1111.3,1089.3 1111.6,1125.6 1111.8,1112.4 1112,1055.4 1112.2,1076.6 1112.4,1109.6 1112.6,1090.4 1112.8,1105.2 1113,1111.1 1113.2,1081.4 1113.5,1131.2 1113.7,1077.6 1113.9,1096.1 1114.1,1083.8 1114.3,1111.8 1114.5,1101 1114.7,1121.7 1114.9,1100.1 1115.1,1110.4 1115.4,1075.3 1115.6,1082.1 1115.8,1108.9 1116,1058.9 1116.2,1067.3 1116.4,1026.6 1116.6,1088.3 1116.8,1112.6 1117.1,1073.7 1117.3,1094 1117.5,1076.4 1117.7,1085.2 1117.9,1091.7 1118.1,1095.1 1118.3,1052 1118.5,1088 1118.7,1090.7 1119,1098.6 1119.2,1122.3 1119.4,976 1119.6,1070.2 1119.8,1082.6 1120,1064.4 1120.2,1105.3 1120.4,1100.1 1120.7,1087.6 1120.9,1094.8 1121.1,1064 1121.3,1080.8 1121.5,1096.9 1121.7,1097.7 1121.9,1099 1122.1,1066.9 1122.3,1094.5 1122.6,1114.2 1122.8,1087.7 1123,1118.6 1123.2,1090.8 1123.4,916 1123.6,1094.2 1123.8,1095.2 1124,1072 1124.2,1101.5 1124.5,1099 1124.7,1052.5 1124.9,1061.1 1125.1,1090.7 1125.3,1087.7 1125.5,1094.5 1125.7,1105.2 1125.9,1096.3 1126.2,1064.8 1126.4,1086.5 1126.6,1080.2 1126.8,1103.6 1127,1070.6 1127.2,1076.9 1127.4,1057.8 1127.6,1060.3 1127.8,1095 1128.1,1062.1 1128.3,1059.4 1128.5,1121 1128.7,1073.3 1128.9,1070.9 1129.1,1098.8 1129.3,1081.5 1129.5,1093.6 1129.8,1084.5 1130,1079.8 1130.2,1110.7 1130.4,1116 1130.6,1076.3 1130.8,1055.6 1131,1114.4 1131.2,1074.8 1131.4,1075.4 1131.7,1108.4 1131.9,1084.7 1132.1,1098.7 1132.3,1090.3 1132.5,1073.9 1132.7,1085.1 1132.9,1085.8 1133.1,1094.6 1133.3,1080.5 1133.6,1080.7 1133.8,1073.8 1134,1058.4 1134.2,1097.5 1134.4,1086 1134.6,1113.3 1134.8,1050.7 1135,1108.3 1135.3,1084.1 1135.5,1112.1 1135.7,1086.7 1135.9,1115.8 1136.1,1086.1 1136.3,1084.1 1136.5,1100.2 1136.7,1063.4 1136.9,1080.4 1137.2,1106.1 1137.4,1102.6 1137.6,1071.4 1137.8,1116.5 1138,1072.6 1138.2,1084.1 1138.4,1107.8 1138.6,1105.6 1138.9,1084.9 1139.1,1088.2 1139.3,1093.2 1139.5,1075.8 1139.7,1051.6 1139.9,1113.4 1140.1,1076.7 1140.3,1102.2 1140.5,1100.9 1140.8,1100.4 1141,1083 1141.2,1120.9 1141.4,1073.1 1141.6,1110.1 1141.8,1098.9 1142,1079.7 1142.2,1084.1 1142.4,1097.2 1142.7,1070.7 1142.9,1092.9 1143.1,1092.5 1143.3,1083.3 1143.5,1100.8 1143.7,1122.8 1143.9,1072 1144.1,1103.5 1144.4,1064.5 1144.6,1071.6 1144.8,1089.5 1145,1072 1145.2,1069.7 1145.4,1086 1145.6,1073.5 1145.8,1072.4 1146,1091.6 1146.3,1040.9 1146.5,1063.7 1146.7,1099.3 1146.9,1016.5 1147.1,1092.2 1147.3,1081 1147.5,1088.8 1147.7,1069.9 1148,1082.1 1148.2,1081.7 1148.4,1098.4 1148.6,1084.1 1148.8,1096.1 1149,1086.6 1149.2,1118.6 1149.4,1068.6 1149.6,1068.3 1149.9,1075.1 1150.1,1113.5 1150.3,1028.7 1150.5,1088 1150.7,1089 1150.9,1069.3 1151.1,1085.4 1151.3,1097.1 1151.5,1109.9 1151.8,1110 1152,1068.1 1152.2,1083.5 1152.4,1049.5 1152.6,1082 1152.8,1066.1 1153,1096.8 1153.2,1092.5 1153.5,1118.5 1153.7,1113.4 1153.9,1097.4 1154.1,1103.4 1154.3,1095.2 1154.5,1084.2 1154.7,1064.4 1154.9,1072.6 1155.1,1101.6 1155.4,1103.6 1155.6,1084.6 1155.8,1093.2 1156,1087.6 1156.2,1088.8 1156.4,1082.9 1156.6,1115.5 1156.8,1088.2 1157.1,1112.9 1157.3,1078.1 1157.5,1096.2 1157.7,1099.9 1157.9,1081.5 1158.1,1080 1158.3,1090.1 1158.5,1078 1158.7,1106 1159,1084.7 1159.2,995.9 1159.4,1093.6 1159.6,1079 1159.8,1079.5 1160,1068.8 1160.2,1094.9 1160.4,1103.1 1160.6,1118.2 1160.9,1127.1 1161.1,1085.4 1161.3,1068 1161.5,1104.1 1161.7,1091.9 1161.9,1075 1162.1,1079.5 1162.3,1101.5 1162.6,1084.3 1162.8,1097.2 1163,1088.5 1163.2,1098.9 1163.4,1059.3 1163.6,1098.3 1163.8,1094.4 1164,1102.5 1164.2,1078.4 1164.5,1124.9 1164.7,1055.4 1164.9,1089.6 1165.1,1091.9 1165.3,1108.9 1165.5,1107 1165.7,1094.3 1165.9,1107 1166.2,1081.9 1166.4,1096.9 1166.6,1103.6 1166.8,1067.5 1167,1086.4 1167.2,1094 1167.4,1064.9 1167.6,1075.6 1167.8,1091 1168.1,1099.5 1168.3,1109.4 1168.5,1084.3 1168.7,1076.8 1168.9,1092.3 1169.1,1100.5 1169.3,1091.9 1169.5,1100 1169.7,1091.8 1170,1083.6 1170.2,1094 1170.4,1084.1 1170.6,1078.3 1170.8,1104.5 1171,1103.6 1171.2,1089.5 1171.4,1127.8 1171.7,1077.7 1171.9,1095.5 1172.1,1044.2 1172.3,1081.2 1172.5,1135.3 1172.7,1075.6 1172.9,1083 1173.1,1044 1173.3,1105.1 1173.6,1061.8 1173.8,1081.5 1174,1075.4 1174.2,1091.1 1174.4,1076 1174.6,1113.1 1174.8,1102 1175,1066.1 1175.3,1077.2 1175.5,1093.6 1175.7,1082.1 1175.9,1099.7 1176.1,1108.5 1176.3,1078.6 1176.5,1094.6 1176.7,1087.8 1176.9,1082.8 1177.2,1084.7 1177.4,1053.6 1177.6,1097.1 1177.8,1120.6 1178,1080 1178.2,1074.9 1178.4,1105.5 1178.6,1110.9 1178.8,1099.7 1179.1,1088.3 1179.3,1086.8 1179.5,1104.8 1179.7,1086.6 1179.9,1068.8 1180.1,1120.4 1180.3,1086.5 1180.5,1088.3 1180.8,1095.8 1181,1083 1181.2,1079.3 1181.4,1107 1181.6,1088.7 1181.8,1051.4 1182,1092.3 1182.2,1084.3 1182.4,1082.2 1182.7,1073.6 1182.9,1057.9 1183.1,1080.7 1183.3,1067.8 1183.5,1087.8 1183.7,1067.2 1183.9,1106.8 1184.1,1086.1 1184.4,1066.6 1184.6,1086.2 1184.8,1098.5 1185,1053.2 1185.2,1110.4 1185.4,1095.8 1185.6,1102.4 1185.8,1050.2 1186,1041.5 1186.3,1103.7 1186.5,1111.7 1186.7,1093.2 1186.9,1089.2 1187.1,1064.2 1187.3,1076.8 1187.5,1110.9 1187.7,1074.5 1187.9,1081.7 1188.2,1060.7 1188.4,1073.2 1188.6,1071.7 1188.8,1096.6 1189,1102.2 1189.2,1083.6 1189.4,1081.9 1189.6,1058.7 1189.9,1117 1190.1,1096.7 1190.3,1109.4 1190.5,1126.1 1190.7,1082.7 1190.9,1021.4 1191.1,1089.6 1191.3,1117.7 1191.5,1088.3 1191.8,1084.6 1192,1096.9 1192.2,1084.8 1192.4,1092 1192.6,1082.3 1192.8,1101.4 1193,1109.4 1193.2,1078 1193.5,1052.7 1193.7,1108.4 1193.9,1102.7 1194.1,1085.6 1194.3,1050.6 1194.5,1075.8 1194.7,1091.3 1194.9,1079.8 1195.1,1117.5 1195.4,1098.2 1195.6,1087.4 1195.8,1068 1196,1116.6 1196.2,1078.4 1196.4,1060.8 1196.6,1054.3 1196.8,1110.6 1197,1066.6 1197.3,1089.8 1197.5,1075.3 1197.7,1088.3 1197.9,1069.9 1198.1,1099.9 1198.3,1062.5 1198.5,1102.4 1198.7,1078.5 1199,1077.9 1199.2,1050.8 1199.4,1080.6 1199.6,1096.2 1199.8,1055.3 1200,1080.9 1200.2,1116.6 1200.4,1078.3 1200.6,1106.5 1200.9,1078.8 1201.1,1073 1201.3,1049.2 1201.5,1113.8 1201.7,1083.4 1201.9,1076.3 1202.1,1054.5 1202.3,1094.3 1202.6,1086.5 1202.8,1073 1203,1064.1 1203.2,1095.7 1203.4,1095.7 1203.6,1106.7 1203.8,1067.6 1204,1088.3 1204.2,1086.1 1204.5,1068.6 1204.7,1079.6 1204.9,1099 1205.1,1092.9 1205.3,1094.9 1205.5,1132.9 1205.7,1070.4 1205.9,1081.1 1206.1,1094.3 1206.4,1067.3 1206.6,1097.2 1206.8,1102.2 1207,1103.1 1207.2,998.8 1207.4,1072.9 1207.6,1074.6 1207.8,1109.9 1208.1,1082.6 1208.3,1118.3 1208.5,1090.3 1208.7,1117.1 1208.9,1086.7 1209.1,1083 1209.3,1067.9 1209.5,1095.4 1209.7,1079.3 1210,1112.7 1210.2,1089.6 1210.4,1110 1210.6,1114.3 1210.8,1064.2 1211,1103.3 1211.2,1051.6 1211.4,1090 1211.7,1096 1211.9,1115.3 1212.1,1077.5 1212.3,1081.7 1212.5,1073 1212.7,1043.7 1212.9,1112.2 1213.1,1077.5 1213.3,1080.8 1213.6,1093.7 1213.8,1076.9 1214,1096.7 1214.2,1071 1214.4,1081.9 1214.6,1069.6 1214.8,1106.1 1215,1078.7 1215.2,1080.3 1215.5,1098.9 1215.7,1101 1215.9,1127.7 1216.1,1027.8 1216.3,1078.9 1216.5,1070.8 1216.7,1058.3 1216.9,1083.8 1217.2,1095.7 1217.4,1074.3 1217.6,1074.7 1217.8,1130.7 1218,1085.9 1218.2,1096.8 1218.4,1061.8 1218.6,1084.2 1218.8,1077.3 1219.1,1097.3 1219.3,1091.3 1219.5,1116.5 1219.7,1093.8 1219.9,1062.3 1220.1,1082.8 1220.3,1068.5 1220.5,1102.4 1220.8,1078.1 1221,1086 1221.2,1092.5 1221.4,1097.3 1221.6,1077.7 1221.8,1114 1222,1098.5 1222.2,1096.5 1222.4,1097.9 1222.7,1076.5 1222.9,1077.1 1223.1,1099.2 1223.3,1081.1 1223.5,1095.5 1223.7,1101.1 1223.9,1099 1224.1,1098 1224.3,1085.6 1224.6,1092.4 1224.8,1105.1 1225,1115.3 1225.2,1005.6 1225.4,1077.5 1225.6,1140.5 1225.8,1082.9 1226,1073.7 1226.3,1097.2 1226.5,1049 1226.7,1095.9 1226.9,1093.8 1227.1,1104.7 1227.3,1099.8 1227.5,1096 1227.7,1061.8 1227.9,1114.7 1228.2,1088.3 1228.4,1055.5 1228.6,1095.5 1228.8,1098 1229,1095.3 1229.2,1103.4 1229.4,1108.6 1229.6,1099.2 1229.9,1065.2 1230.1,1090.8 1230.3,1099.6 1230.5,1073.2 1230.7,1090 1230.9,1090.8 1231.1,1099.2 1231.3,1078.2 1231.5,1096.8 1231.8,1052.3 1232,1121.5 1232.2,1106.9 1232.4,1089.8 1232.6,1097.7 1232.8,1103.5 1233,1089.8 1233.2,1093.9 1233.4,1106.8 1233.7,1126.3 1233.9,1091.8 1234.1,1104.9 1234.3,1087.4 1234.5,1060.6 1234.7,1095.2 1234.9,1075.8 1235.1,1089.2 1235.4,1113.1 1235.6,1085 1235.8,1082.8 1236,1074.7 1236.2,1073.4 1236.4,1072.3 1236.6,1096.1 1236.8,1099.1 1237,1077.1 1237.3,1113.9 1237.5,1081.5 1237.7,1082.2 1237.9,1033.8 1238.1,1114.3 1238.3,1103.8 1238.5,1113 1238.7,1078.5 1239,1102.1 1239.2,1095.7 1239.4,1084.2 1239.6,1077.9 1239.8,1124.4 1240,1097.2 1240.2,1069.7 1240.4,1080.9 1240.6,1083.2 1240.9,1068.9 1241.1,1098.5 1241.3,1105.3 1241.5,1106.1 1241.7,1086.1 1241.9,1088.9 1242.1,1079.4 1242.3,1103.3 1242.5,1114.3 1242.8,1103.4 1243,1099.5 1243.2,1077.9 1243.4,1095.9 1243.6,1112.5 1243.8,1087.6 1244,1092.9 1244.2,1092 1244.5,1108.7 1244.7,1082.5 1244.9,1071.2 1245.1,1087.2 1245.3,1116.8 1245.5,1097.7 1245.7,1105.9 1245.9,1087.4 1246.1,1101.3 1246.4,1087.7 1246.6,1065.2 1246.8,1099 1247,1130.4 1247.2,1076 1247.4,1091.4 1247.6,1089.7 1247.8,1053 1248.1,1104.4 1248.3,1089.8 1248.5,1104.3 1248.7,1085.6 1248.9,1069.8 1249.1,1098 1249.3,1062.9 1249.5,1097.6 1249.7,1070 1250,1074.9 1250.2,1098.4 1250.4,1102.3 1250.6,1083 1250.8,1111.4 1251,1026.7 1251.2,1107.5 1251.4,1064.3 1251.7,1082.9 1251.9,1067.6 1252.1,1105.5 1252.3,1087.8 1252.5,1092.3 1252.7,1086.9 1252.9,1068.6 1253.1,1096.1 1253.3,1056 1253.6,1086.9 1253.8,1096.3 1254,1113.6 1254.2,1046.3 1254.4,1089.6 1254.6,1076.9 1254.8,1100.6 1255,1092.9 1255.2,1100.5 1255.5,1068 1255.7,1089.6 1255.9,1078.2 1256.1,1075.7 1256.3,1046.8 1256.5,1082.5 1256.7,1082.7 1256.9,1067.9 1257.2,1112.5 1257.4,1080.4 1257.6,1089.4 1257.8,1107.5 1258,1096.3 1258.2,1103.1 1258.4,1087.2 1258.6,1083.7 1258.8,1018.2 1259.1,1105 1259.3,1099.8 1259.5,1091.4 1259.7,1100 1259.9,1103.8 1260.1,1042.7 1260.3,1093.4 1260.5,1079.2 1260.8,1095.5 1261,1088 1261.2,1062.7 1261.4,1099.6 1261.6,1069.3 1261.8,1108.8 1262,1059.1 1262.2,1097.4 1262.4,1112.9 1262.7,1063.1 1262.9,1089.7 1263.1,1082.6 1263.3,1077.5 1263.5,1095.4 1263.7,1065.9 1263.9,1082.6 1264.1,1078 1264.3,1067.2 1264.6,1078.9 1264.8,1088.8 1265,1086.5 1265.2,1080 1265.4,1107.7 1265.6,1078.9 1265.8,1091.8 1266,1098.2 1266.3,1124.3 1266.5,1076 1266.7,1106 1266.9,1095.2 1267.1,1098.6 1267.3,1116 1267.5,1079.8 1267.7,1089.3 1267.9,1064.9 1268.2,1080.5 1268.4,1070.4 1268.6,1097.7 1268.8,1095 1269,1088.7 1269.2,1070.2 1269.4,1102.4 1269.6,1081.9 1269.9,1075.2 1270.1,1089.4 1270.3,1091 1270.5,1099.4 1270.7,1098.5 1270.9,1093 1271.1,1105.7 1271.3,1085.5 1271.5,1058 1271.8,1079.2 1272,1100.3 1272.2,1092.1 1272.4,1095.7 1272.6,1111.4 1272.8,1061 1273,1123.1 1273.2,1096.7 1273.4,1093.7 1273.7,1102.6 1273.9,1075.8 1274.1,1101.2 1274.3,1105 1274.5,1086.3 1274.7,1090.6 1274.9,1118.5 1275.1,1098.5 1275.4,1094.7 1275.6,1061.4 1275.8,1089.6 1276,1053.3 1276.2,1101.3 1276.4,1101.3 1276.6,1081.9 1276.8,1069.4 1277,1070.2 1277.3,1087.3 1277.5,1107.4 1277.7,1084 1277.9,1103 1278.1,1084.9 1278.3,1090.3 1278.5,1103 1278.7,1069 1279,1078.9 1279.2,1041.2 1279.4,1106.3 1279.6,1098 1279.8,1103.6 1280,1097 1280.2,1071.8 1280.4,1109.9 1280.6,1083.3 1280.9,1075.7 1281.1,1097.7 1281.3,1079.5 1281.5,1075.7 1281.7,1055.3 1281.9,1097.1 1282.1,1085.3 1282.3,1096.7 1282.5,1106.1 1282.8,1078.4 1283,1070.1 1283.2,1103.8 1283.4,1099 1283.6,1116.1 1283.8,1088.8 1284,1077.8 1284.2,1098.2 1284.5,1086.5 1284.7,1111 1284.9,1102.8 1285.1,1097.1 1285.3,1071.9 1285.5,1069.9 1285.7,1054.2 1285.9,1098.3 1286.1,1114.4 1286.4,1077.9 1286.6,1076.1 1286.8,1101.7 1287,1086.1 1287.2,1086.1 1287.4,1085 1287.6,1055.9 1287.8,1093.8 1288.1,1074.5 1288.3,1070.8 1288.5,1075.6 1288.7,1087.2 1288.9,1006.7 1289.1,1088.6 1289.3,1068.1 1289.5,1065 1289.7,1100.8 1290,1082.4 1290.2,1027 1290.4,1097.7 1290.6,1102.6 1290.8,1051.4 1291,1080.9 1291.2,1095.2 1291.4,1078.1 1291.6,1060.9 1291.9,1073.9 1292.1,1089.8 1292.3,1110.6 1292.5,1066.9 1292.7,1080.4 1292.9,1114 1293.1,1080.1 1293.3,1083.2 1293.6,1085.6 1293.8,1091.2 1294,1063.6 1294.2,1083.7 1294.4,1117.5 1294.6,1088.8 1294.8,1084.2 1295,1087.7 1295.2,1077.9 1295.5,1092.7 1295.7,1096.8 1295.9,1108.9 1296.1,1083.9 1296.3,1074.3 1296.5,1090.5 1296.7,1099.2 1296.9,1096.7 1297.2,1088.6 1297.4,1109.7 1297.6,1090.2 1297.8,1119 1298,1101.4 1298.2,1077 1298.4,1080.3 1298.6,1091.2 1298.8,1083.4 1299.1,1084.6 1299.3,1025.4 1299.5,1098.1 1299.7,1066.1 1299.9,1092.7 1300.1,1062.1 1300.3,1070.9 1300.5,1095.4 1300.7,1089.3 1301,1095.3 1301.2,1095 1301.4,1060.7 1301.6,1100.9 1301.8,1051.6 1302,1069.9 1302.2,1127.6 1302.4,1094.1 1302.7,1062.7 1302.9,1123 1303.1,1065 1303.3,1087.7 1303.5,1081.6 1303.7,1096 1303.9,1112.3 1304.1,1115.2 1304.3,1095.8 1304.6,1071.7 1304.8,1078.4 1305,1087.8 1305.2,1039.6 1305.4,1086.4 1305.6,1113.6 1305.8,1057.4 1306,1100.1 1306.3,1093.5 1306.5,1101.6 1306.7,1092.5 1306.9,1096.2 1307.1,1072.8 1307.3,1032.2 1307.5,1093.1 1307.7,1089.6 1307.9,1084 1308.2,1066.7 1308.4,1081.4 1308.6,1105.2 1308.8,1104.5 1309,1086 1309.2,1113.9 1309.4,1095 1309.6,1092.2 1309.8,1129.9 1310.1,1070.6 1310.3,1101.2 1310.5,1054.2 1310.7,1070.1 1310.9,1089 1311.1,1091.5 1311.3,1047.6 1311.5,1131.2 1311.8,1101.8 1312,1083.5 1312.2,1105.3 1312.4,1088.2 1312.6,1068.2 1312.8,1057.4 1313,1090 1313.2,1083.9 1313.4,1097.5 1313.7,1074.5 1313.9,1090.9 1314.1,1090.8 1314.3,1123.4 1314.5,1101 1314.7,1103.5 1314.9,1094.5 1315.1,1114.5 1315.4,1075.6 1315.6,1072.9 1315.8,1036.3 1316,1073.3 1316.2,1116.3 1316.4,1099.2 1316.6,1111.8 1316.8,1082.3 1317,1090.6 1317.3,1081.2 1317.5,1093.3 1317.7,1104.5 1317.9,1104.1 1318.1,1058.2 1318.3,1084.1 1318.5,1087.4 1318.7,1111.5 1318.9,1071.9 1319.2,1089.7 1319.4,1098.8 1319.6,1057.5 1319.8,1097.6 1320,1126.6 1320.2,1092.5 1320.4,1130.4 1320.6,1098.4 1320.9,1069.8 1321.1,1080.7 1321.3,1078.5 1321.5,1081.9 1321.7,1101.7 1321.9,1090.4 1322.1,1102 1322.3,1080.2 1322.5,1109.6 1322.8,1091 1323,1093.5 1323.2,1106.8 1323.4,1088.6 1323.6,1052.3 1323.8,1086.5 1324,1103.7 1324.2,1013.9 1324.5,1095.4 1324.7,1091.7 1324.9,1093.5 1325.1,1096.5 1325.3,1077.1 1325.5,1107.5 1325.7,1042.8 1325.9,1079.4 1326.1,1060.6 1326.4,1086.3 1326.6,1068.8 1326.8,1062.9 1327,1122.1 1327.2,1111.8 1327.4,1093.8 1327.6,1111.2 1327.8,1078.9 1328,1088.9 1328.3,1101.3 1328.5,1067 1328.7,1082 1328.9,1073.9 1329.1,1111.3 1329.3,1071.7 1329.5,1120.4 1329.7,1102.1 1330,1081.6 1330.2,1113.5 1330.4,1107.6 1330.6,1094.2 1330.8,1102.8 1331,1082.9 1331.2,1060.8 1331.4,1104 1331.6,1068.7 1331.9,1093 1332.1,1105.6 1332.3,1063.1 1332.5,1088.3 1332.7,1115.7 1332.9,1099.9 1333.1,1073.5 1333.3,1096.5 1333.6,1090.4 1333.8,1083.4 1334,1071.2 1334.2,1080.8 1334.4,1086.1 1334.6,1091.2 1334.8,1062 1335,1056.2 1335.2,1070.9 1335.5,1081.5 1335.7,1079.1 1335.9,1091.2 1336.1,1088.2 1336.3,1107.2 1336.5,1071.9 1336.7,1060.2 1336.9,1106.5 1337.1,1106.9 1337.4,1111.1 1337.6,1077.7 1337.8,1104.6 1338,1044.8 1338.2,1088.6 1338.4,1098.1 1338.6,1093.4 1338.8,1089.1 1339.1,1095 1339.3,1074.7 1339.5,1080.3 1339.7,1115.9 1339.9,1079 1340.1,1106.7 1340.3,1114.7 1340.5,1075.7 1340.7,1093.9 1341,1049 1341.2,1010.3 1341.4,1106.9 1341.6,1064.5 1341.8,1049 1342,1055.9 1342.2,1112.5 1342.4,1043.7 1342.7,1090.4 1342.9,1092.1 1343.1,1103.6 1343.3,1093.4 1343.5,1099.2 1343.7,1086 1343.9,1103 1344.1,1081.4 1344.3,1045.1 1344.6,1096.3 1344.8,1077.3 1345,1061.5 1345.2,1076.7 1345.4,1088.4 1345.6,1110.1 1345.8,1106.8 1346,1121 1346.2,1118.8 1346.5,1090.7 1346.7,1076.8 1346.9,1075.7 1347.1,1109.9 1347.3,1095.9 1347.5,1097.7 1347.7,1116.5 1347.9,1049.7 1348.2,1093.4 1348.4,1087.8 1348.6,1096.4 1348.8,1062 1349,1071.6 1349.2,1088.5 1349.4,1090.7 1349.6,1061.7 1349.8,1103.9 1350.1,1061.7 1350.3,1061.3 1350.5,1080 1350.7,1101.8 1350.9,1117.9 1351.1,1112.2 1351.3,1101.9 1351.5,1091.3 1351.8,1081.3 1352,1103.9 1352.2,1109.2 1352.4,1093.8 1352.6,1093.4 1352.8,1117.8 1353,1054.3 1353.2,1096.3 1353.4,1101.3 1353.7,1082.4 1353.9,1058.2 1354.1,1094.2 1354.3,1059.9 1354.5,1079.1 1354.7,1095.7 1354.9,1113.7 1355.1,1094.9 1355.3,1085.6 1355.6,1108.2 1355.8,1089.4 1356,1108.1 1356.2,1097.3 1356.4,1072.9 1356.6,1133.3 1356.8,1093.7 1357,1081.1 1357.3,1111.1 1357.5,1049 1357.7,1092 1357.9,1095 1358.1,1069.7 1358.3,1087.5 1358.5,1086.7 1358.7,1119.1 1358.9,1102.2 1359.2,1080.6 1359.4,1108.7 1359.6,1072.9 1359.8,1094.4 1360,1069.3 1360.2,1047 1360.4,1081.1 1360.6,1077.9 1360.9,1101.5 1361.1,1087.8 1361.3,1110 1361.5,1067.2 1361.7,1068.6 1361.9,1076.8 1362.1,1088.9 1362.3,1077.8 1362.5,1080.1 1362.8,1060.7 1363,1078.7 1363.2,1096.8 1363.4,1081.9 1363.6,1108.3 1363.8,1093.6 1364,1082.2 1364.2,1082.5 1364.4,1091.2 1364.7,1104 1364.9,1110 1365.1,1118.2 1365.3,1076.3 1365.5,1081.2 1365.7,1108.4 1365.9,1088.8 1366.1,1111.6 1366.4,1095.8 1366.6,1077.7 1366.8,1090.5 1367,1116.8 1367.2,1121.3 1367.4,1068.8 1367.6,1090.1 1367.8,1106.1 1368,1109.3 1368.3,1065.3 1368.5,1080.2 1368.7,1054.9 1368.9,1100 1369.1,1096.9 1369.3,1083.1 1369.5,1099.8 1369.7,1084.5 1370,1093.6 1370.2,1109.3 1370.4,1088.3 1370.6,1069.9 1370.8,1098.6 1371,1110.4 1371.2,1097.7 1371.4,1064 1371.6,1107.1 1371.9,1093 1372.1,1112.6 1372.3,1091.2 1372.5,1105.5 1372.7,1071.6 1372.9,1080.8 1373.1,1089.2 1373.3,1093.9 1373.5,1108 1373.8,1095.4 1374,1088.5 1374.2,1119.3 1374.4,1079.2 1374.6,1091.3 1374.8,1102.7 1375,1086.1 1375.2,1076.7 1375.5,1094.8 1375.7,1115.1 1375.9,1083.5 1376.1,1094.8 1376.3,1061.2 1376.5,1080.7 1376.7,1074.4 1376.9,1023.3 1377.1,1100.7 1377.4,1075.4 1377.6,1098.2 1377.8,1095.7 1378,1112.2 1378.2,1079.5 1378.4,1092.7 1378.6,1057 1378.8,1098.5 1379.1,1081 1379.3,1080.8 1379.5,1079.3 1379.7,1095.6 1379.9,1094.1 1380.1,1079.7 1380.3,1099.4 1380.5,1072.3 1380.7,1108.9 1381,1069 1381.2,1106.4 1381.4,1089.3 1381.6,1095.3 1381.8,1107.5 1382,1058.3 1382.2,1084.7 1382.4,1083.7 1382.6,1069 1382.9,1073.4 1383.1,1080.6 1383.3,1083.7 1383.5,1079.7 1383.7,1085.8 1383.9,1061.2 1384.1,1055.5 1384.3,1111 1384.6,1106.5 1384.8,1089.7 1385,1091.8 1385.2,1081.9 1385.4,1099.2 1385.6,1089.4 1385.8,1095.2 1386,1115.8 1386.2,1110.5 1386.5,1081.4 1386.7,1090.9 1386.9,1115.5 1387.1,1091.3 1387.3,1099.3 1387.5,1102.7 1387.7,1108.8 1387.9,1120.6 1388.2,1081.4 1388.4,1116.5 1388.6,1053.5 1388.8,1093.9 1389,1108.7 1389.2,1093 1389.4,1096.5 1389.6,1120.2 1389.8,1060.2 1390.1,1091.4 1390.3,1050.6 1390.5,1119.2 1390.7,1070.9 1390.9,1093.8 1391.1,1078.1 1391.3,1081.8 1391.5,1068.8 1391.7,1106.8 1392,1031.9 1392.2,1073.6 1392.4,1099.7 1392.6,1093.5 1392.8,1096.4 1393,1092.6 1393.2,1088.6 1393.4,1011.6 1393.7,1092.3 1393.9,1111.7 1394.1,1082.7 1394.3,1096.3 1394.5,1086 1394.7,1080 1394.9,1111.2 1395.1,1111.5 1395.3,1091.5 1395.6,1093.3 1395.8,1114.3 1396,1067.7 1396.2,1079.6 1396.4,1084.7 1396.6,1063.6 1396.8,1058.6 1397,1093.4 1397.3,1083.3 1397.5,1023.7 1397.7,1093.6 1397.9,1112.4 1398.1,1091.3 1398.3,1103.5 1398.5,1096.6 1398.7,1086.5 1398.9,1099 1399.2,1110.2 1399.4,1082.8 1399.6,1082.1 1399.8,1071.6 1400,1068.8 1400.2,1115.7 1400.4,1090.6 1400.6,1080.6 1400.8,1076.8 1401.1,1111.5 1401.3,1079.4 1401.5,1088.7 1401.7,1082.8 1401.9,1060.8 1402.1,1057.2 1402.3,1108.2 1402.5,1079.6 1402.8,1076.4 1403,1102.5 1403.2,1086.4 1403.4,1073.9 1403.6,1086.6 1403.8,1077.2 1404,1045.2 1404.2,1064.9 1404.4,1100 1404.7,1069 1404.9,1122.1 1405.1,1058.8 1405.3,1103.1 1405.5,1109 1405.7,1067.2 1405.9,1077.6 1406.1,1090.6 1406.4,1066.5 1406.6,1095.4 1406.8,1071.2 1407,1081.6 1407.2,1020.1 1407.4,1075.8 1407.6,1085.7 1407.8,1087.2 1408,1111 1408.3,1075.5 1408.5,1046.9 1408.7,1079.1 1408.9,1064.2 1409.1,1096.4 1409.3,1123.3 1409.5,1091.5 1409.7,1074.4 1409.9,1084 1410.2,1082.4 1410.4,1096.2 1410.6,1083.5 1410.8,1092 1411,1062.7 1411.2,1086.7 1411.4,1117.1 1411.6,1108.8 1411.9,1097 1412.1,1088.5 1412.3,1070.4 1412.5,1075.7 1412.7,1099.7 1412.9,1088 1413.1,1084.8 1413.3,1115.7 1413.5,1054.6 1413.8,1100.1 1414,1076.4 1414.2,1081.5 1414.4,1117.9 1414.6,1048 1414.8,1070.6 1415,1089.1 1415.2,1061.5 1415.5,1082.5 1415.7,1078.5 1415.9,1072.5 1416.1,1115.1 1416.3,1074.7 1416.5,1086.1 1416.7,1085.4 1416.9,1110.8 1417.1,1061.3 1417.4,1043.8 1417.6,1099.1 1417.8,1089.5 1418,1070.9 1418.2,1078.5 1418.4,1097.8 1418.6,1094.4 1418.8,1056 1419,1052.9 1419.3,1088.2 1419.5,1078.1 1419.7,1072.1 1419.9,1103.5 1420.1,1072.8 1420.3,1084.6 1420.5,1121.9 1420.7,1062.4 1421,1065.7 1421.2,1078.3 1421.4,1081.4 1421.6,1103.7 1421.8,1100.9 1422,1098.9 1422.2,1069.6 1422.4,1111.9 1422.6,1087.6 1422.9,1112.9 1423.1,1100.7 1423.3,1114.1 1423.5,1066.7 1423.7,1071.5 1423.9,1060.8 1424.1,1079.5 1424.3,1091.4 1424.6,1095.7 1424.8,1087.3 1425,1078.1 1425.2,1107.2 1425.4,881 1425.6,1089.7 1425.8,1070.9 1426,1087.2 1426.2,1090.4 1426.5,1091.2 1426.7,1104.3 1426.9,1032.5 1427.1,1104.5 1427.3,1083 1427.5,1080.3 1427.7,1052.6 1427.9,1074.1 1428.1,1091.9 1428.4,1092.2 1428.6,1111.8 1428.8,1095.4 1429,1087.5 1429.2,1062 1429.4,1110.3 1429.6,1081 1429.8,1096.3 1430.1,1083.6 1430.3,1063.2 1430.5,1067.6 1430.7,1070.6 1430.9,1111.4 1431.1,1064 1431.3,1086 1431.5,1105.9 1431.7,1101 1432,1102 1432.2,1054.4 1432.4,1085.1 1432.6,1088.6 1432.8,1082.8 1433,1111.7 1433.2,1084.3 1433.4,1089.3 1433.7,1087.8 1433.9,1090.8 1434.1,1010.4 1434.3,1091.2 1434.5,1097.3 1434.7,1094.1 1434.9,1110.7 1435.1,1094.9 1435.3,1104.6 1435.6,1096.6 1435.8,1113 1436,1083.6 1436.2,1111.8 1436.4,1066 1436.6,1112.8 1436.8,1076.9 1437,1083.1 1437.2,1084.1 1437.5,1081.3 1437.7,1087.3 1437.9,1095.4 1438.1,1073.7 1438.3,1111 1438.5,1126.1 1438.7,1068.4 1438.9,1091.1 1439.2,1108.7 1439.4,1090.7 1439.6,1066.3 1439.8,1089.7 1440,1138.5 1440.2,1074.2 1440.4,1091.1 1440.6,1093.8 1440.8,1064.8 1441.1,1072.1 1441.3,1107.2 1441.5,1091.6 1441.7,1123.7 1441.9,1113.6 1442.1,1084.6 1442.3,1095.4 1442.5,1090.4 1442.8,1091.2 1443,1070 1443.2,1113.8 1443.4,1052.7 1443.6,1096.6 1443.8,1082.3 1444,1083.6 1444.2,1060.1 1444.4,1097.4 1444.7,1090.5 1444.9,1100.1 1445.1,1080.9 1445.3,1081.9 1445.5,1111 1445.7,1121.1 1445.9,1098.4 1446.1,1082.7 1446.3,1104.7 1446.6,1111.8 1446.8,1095.1 1447,1120.2 1447.2,1080 1447.4,1089.6 1447.6,1092.6 1447.8,1101.4 1448,1100.9 1448.3,1086.4 1448.5,1061.1 1448.7,1076.2 1448.9,1085.7 1449.1,1077.6 1449.3,1062.1 1449.5,1087.3 1449.7,1094.8 1449.9,1100.3 1450.2,1069.1 1450.4,1087.4 1450.6,1100.6 1450.8,1120.7 1451,1093.5 1451.2,1103.9 1451.4,1083.7 1451.6,1084.6 1451.9,1047.8 1452.1,1073.9 1452.3,1066.5 1452.5,1076.5 1452.7,1099.3 1452.9,1071.8 1453.1,1073.1 1453.3,1059.4 1453.5,1074.4 1453.8,1100 1454,1092.8 1454.2,1089.2 1454.4,1093.3 1454.6,1058.9 1454.8,1116.2 1455,1068.5 1455.2,1112.6 1455.4,1090 1455.7,1075.9 1455.9,1097.1 1456.1,1078.9 1456.3,1061.4 1456.5,1068.7 1456.7,1072.7 1456.9,1077 1457.1,1075.1 1457.4,1091.6 1457.6,1078.1 1457.8,1092.5 1458,1114.2 1458.2,1066.4 1458.4,1082.5 1458.6,1086.1 1458.8,1093.7 1459,1049.4 1459.3,1128.2 1459.5,1104.7 1459.7,1079.7 1459.9,1099.7 1460.1,1098.5 1460.3,1094 1460.5,1108.1 1460.7,1070.3 1461,1080.4 1461.2,1069 1461.4,1088 1461.6,1090.4 1461.8,1049.8 1462,1091.2 1462.2,1063.4 1462.4,1091.3 1462.6,1079.4 1462.9,1098.8 1463.1,1073.2 1463.3,1088.1 1463.5,1086 1463.7,1089.4 1463.9,977.6 1464.1,1105.7 1464.3,1080.8 1464.5,1079.2 1464.8,1085.7 1465,1101.7 1465.2,1085.2 1465.4,1072.5 1465.6,1080.9 1465.8,1108.1 1466,1090.6 1466.2,1092.3 1466.5,1083.6 1466.7,1083.3 1466.9,1104 1467.1,1097.2 1467.3,1107.1 1467.5,1099.9 1467.7,1082.3 1467.9,1098 1468.1,1113.1 1468.4,1099.5 1468.6,1092.2 1468.8,1110.9 1469,1084.6 1469.2,1094.3 1469.4,1082.8 1469.6,1045.1 1469.8,1102.6 1470.1,1075.3 1470.3,1074 1470.5,1069 1470.7,1085.8 1470.9,1085.6 1471.1,1096.3 1471.3,1114.9 1471.5,1079 1471.7,1026.8 1472,1120.9 1472.2,1104.5 1472.4,1055.7 1472.6,1079.5 1472.8,1095.8 1473,1110.8 1473.2,1119 1473.4,1080.6 1473.6,1111 1473.9,1084.9 1474.1,1048.1 1474.3,1055.5 1474.5,1093.2 1474.7,1117.8 1474.9,1091.9 1475.1,1106.7 1475.3,1091.8 1475.6,1096.3 1475.8,1080.6 1476,1112.6 1476.2,1082.4 1476.4,1101.2 1476.6,1080.3 1476.8,1101.5 1477,1075.6 1477.2,1078.7 1477.5,1073.4 1477.7,1097.6 1477.9,1078.2 1478.1,1110.2 1478.3,1087.8 1478.5,1081.1 1478.7,1085.2 1478.9,1075.3 1479.2,1103.9 1479.4,1082.2 1479.6,1116.9 1479.8,1123 1480,1090.4 1480.2,1109.1 1480.4,1091.6 1480.6,1112.2 1480.8,1052.8 1481.1,1088.7 1481.3,1085 1481.5,1042.5 1481.7,1089.1 1481.9,1109.3 1482.1,1086.6 1482.3,1090 1482.5,1088.4 1482.7,1035.1 1483,1085.5 1483.2,1069.8 1483.4,1107.1 1483.6,1091.6 1483.8,1096.9 1484,1067.6 1484.2,1104.1 1484.4,1088.1 1484.7,1079.2 1484.9,1093.3 1485.1,1100.3 1485.3,1104.3 1485.5,1112.1 1485.7,1082.2 1485.9,1060.7 1486.1,1086.3 1486.3,1093.9 1486.6,1088.9 1486.8,1111.1 1487,1102.7 1487.2,1081.6 1487.4,1089.7 1487.6,1081.4 1487.8,1104.8 1488,1073.1 1488.3,1096.9 1488.5,1065 1488.7,1099.2 1488.9,1077.3 1489.1,1089.5 1489.3,1040.5 1489.5,1104.3 1489.7,1102.8 1489.9,1094.9 1490.2,1062.7 1490.4,1105 1490.6,1075.9 1490.8,1110.8 1491,1059.5 1491.2,1103.2 1491.4,1048.2 1491.6,1112.3 1491.8,1096.6 1492.1,1093 1492.3,1103.8 1492.5,1040.7 1492.7,1101.6 1492.9,1086.8 1493.1,1105.4 1493.3,1078.1 1493.5,1093.5 1493.8,1123.1 1494,1068.8 1494.2,1086.9 1494.4,1091.2 1494.6,1119.9 1494.8,1105.8 1495,1114.3 1495.2,1107.8 1495.4,1091.2 1495.7,1085.7 1495.9,1072.5 1496.1,1062.4 1496.3,1093.8 1496.5,1094.2 1496.7,1081.7 1496.9,1073.5 1497.1,1107.8 1497.4,1109 1497.6,1111.6 1497.8,1090.9 1498,1070.1 1498.2,1086.9 1498.4,1051.3 1498.6,1099.8 1498.8,1086.6 1499,1065 1499.3,1071.1 1499.5,1095.5 1499.7,1003.2 1499.9,1073.4 1500.1,1105.1 1500.3,1086.5 1500.5,1093.7 1500.7,1108.3 1500.9,1078.3 1501.2,1074.3 1501.4,1085.1 1501.6,1071 1501.8,1088.2 1502,1081.3 1502.2,1069.6 1502.4,1096.2 1502.6,1079.2 1502.9,1087.2 1503.1,1102.1 1503.3,1085.5 1503.5,1094.7 1503.7,1083 1503.9,1095.2 1504.1,1099 1504.3,1099.5 1504.5,1093 1504.8,1081.2 1505,1087.1 1505.2,1087.8 1505.4,1094.9 1505.6,1103.2 1505.8,1069.3 1506,1091 1506.2,1093.7 1506.5,1105.7 1506.7,1066.6 1506.9,1091.2 1507.1,1094 1507.3,1076.4 1507.5,1095.7 1507.7,1085 1507.9,1078 1508.1,1089.3 1508.4,1084.1 1508.6,1089.1 1508.8,1096.6 1509,1082.5 1509.2,1077.4 1509.4,1078.5 1509.6,1025.2 1509.8,1076.3 1510,948.8 1510.3,1102.8 1510.5,1070.1 1510.7,1090.8 1510.9,1090.5 1511.1,1105 1511.3,1095.9 1511.5,1095.3 1511.7,1075.7 1512,1085 1512.2,1098.1 1512.4,1108.1 1512.6,1107.6 1512.8,1065 1513,1090.2 1513.2,1078.1 1513.4,1083.3 1513.6,1081.6 1513.9,1118.8 1514.1,1102.5 1514.3,1106.2 1514.5,1078 1514.7,1113.6 1514.9,1106.2 1515.1,1081.1 1515.3,1096.7 1515.6,1083.1 1515.8,1091.3 1516,1081 1516.2,1087.9 1516.4,1109.1 1516.6,1073.7 1516.8,1099.1 1517,1083 1517.2,1088.7 1517.5,1086.5 1517.7,1120.4 1517.9,1095.7 1518.1,1065.3 1518.3,1076.4 1518.5,1100.4 1518.7,1070.6 1518.9,1075.1 1519.1,1083.6 1519.4,1092.8 1519.6,1084.9 1519.8,1092.8 1520,1071.7 1520.2,1089 1520.4,1036.5 1520.6,1098.9 1520.8,1064.7 1521.1,1073.2 1521.3,1097.6 1521.5,1059.6 1521.7,1069 1521.9,1111 1522.1,1105.8 1522.3,1086 1522.5,1086.1 1522.7,1095.6 1523,1055.4 1523.2,1102 1523.4,1092 1523.6,1092.6 1523.8,1091.8 1524,1105.6 1524.2,1101.8 1524.4,1094.8 1524.7,1108 1524.9,1097 1525.1,1074.3 1525.3,1071.9 1525.5,1095.7 1525.7,1045.9 1525.9,1072.7 1526.1,1079.1 1526.3,1089.2 1526.6,1094.5 1526.8,1059.9 1527,1037.4 1527.2,1107.9 1527.4,1113.2 1527.6,1081.7 1527.8,1094.6 1528,1070.7 1528.2,1119.8 1528.5,1108.6 1528.7,1088.3 1528.9,1105.2 1529.1,1073.6 1529.3,1082 1529.5,1072.1 1529.7,1127.3 1529.9,1114.6 1530.2,1079.3 1530.4,1108.2 1530.6,1076.1 1530.8,1111.5 1531,1059.6 1531.2,1094.2 1531.4,1044.9 1531.6,1077.3 1531.8,1083.7 1532.1,1092.3 1532.3,1077.1 1532.5,1096.4 1532.7,1108.3 1532.9,1034.5 1533.1,1086.9 1533.3,1097.9 1533.5,1064.5 1533.8,1086.4 1534,1074.5 1534.2,1078.5 1534.4,1113.8 1534.6,1091.4 1534.8,1122.3 1535,1080.6 1535.2,1105.5 1535.4,1064.5 1535.7,1083.8 1535.9,1090.4 1536.1,1085.8 1536.3,1065.9 1536.5,1109.8 1536.7,1110.5 1536.9,1071.4 1537.1,1076.2 1537.3,1104.5 1537.6,1091.3 1537.8,1095.6 1538,1078.4 1538.2,1100.5 1538.4,1092.4 1538.6,1077.4 1538.8,1098.3 1539,1096.1 1539.3,1075.3 1539.5,1098.1 1539.7,1049.5 1539.9,1094.6 1540.1,1115.4 1540.3,1076.6 1540.5,919.9 1540.7,1118.4 1540.9,1079.4 1541.2,1063.3 1541.4,1074 1541.6,1099.5 1541.8,1074.6 1542,1086.3 1542.2,1105.5 1542.4,1097.5 1542.6,1064 1542.9,1120.8 1543.1,1077.4 1543.3,1092.2 1543.5,1082.2 1543.7,1104.6 1543.9,1093.5 1544.1,1114.2 1544.3,1065.2 1544.5,1085.6 1544.8,1107.1 1545,1093.3 1545.2,1081.3 1545.4,1093.7 1545.6,1107.3 1545.8,1109.7 1546,1123.6 1546.2,1080.7 1546.4,1124.7 1546.7,1100.2 1546.9,1099.1 1547.1,1123.3 1547.3,1081.4 1547.5,1136.5 1547.7,1097.4 1547.9,1104 1548.1,1101.3 1548.4,1071.7 1548.6,1092.7 1548.8,1078.7 1549,1084.8 1549.2,1061 1549.4,1053.6 1549.6,1096 1549.8,1097.3 1550,1072.2 1550.3,1093.9 1550.5,1081.4 1550.7,1122.5 1550.9,1066.5 1551.1,1077.2 1551.3,1076.9 1551.5,1096.4 1551.7,1103.5 1552,1097.1 1552.2,1092.9 1552.4,1115.4 1552.6,1097.7 1552.8,1083.8 1553,1074 1553.2,1094.3 1553.4,1105.5 1553.6,1097.4 1553.9,1088.2 1554.1,1087.3 1554.3,1095.4 1554.5,1077.7 1554.7,1108.2 1554.9,1096.7 1555.1,1092.5 1555.3,1090.9 1555.5,1103.6 1555.8,1089.1 1556,1092.8 1556.2,1096.6 1556.4,1089.5 1556.6,1082.5 1556.8,991.3 1557,1094.5 1557.2,1084.4 1557.5,1056.3 1557.7,1078.9 1557.9,1060.6 1558.1,1096.3 1558.3,1076 1558.5,1079.3 1558.7,1102.2 1558.9,1090.5 1559.1,1093.1 1559.4,1055.2 1559.6,1101.4 1559.8,1082.1 1560,1052.5 1560.2,1070.7 1560.4,1112 1560.6,1080.4 1560.8,1098.4 1561.1,1076.4 1561.3,1088 1561.5,1090.4 1561.7,1104.7 1561.9,1092.8 1562.1,1117.5 1562.3,1093.9 1562.5,1066.7 1562.7,1096.4 1563,1089.7 1563.2,1091.4 1563.4,1080.4 1563.6,1087.6 1563.8,1070.8 1564,1097.7 1564.2,1084.7 1564.4,1079.6 1564.6,1089.2 1564.9,1086.4 1565.1,1070.3 1565.3,1114.7 1565.5,1090 1565.7,1080.7 1565.9,1105.3 1566.1,1090.6 1566.3,1099.7 1566.6,1080.2 1566.8,1095.8 1567,1082.1 1567.2,1054.5 1567.4,1084 1567.6,1076.8 1567.8,1112.8 1568,1074.4 1568.2,1061.9 1568.5,1087.5 1568.7,1079.2 1568.9,1081.6 1569.1,1058.2 1569.3,1105.7 1569.5,1125.7 1569.7,1093.1 1569.9,1108.5 1570.2,1085.3 1570.4,1118 1570.6,1080.9 1570.8,1068 1571,1076.3 1571.2,1105.4 1571.4,1085.1 1571.6,1079.9 1571.8,1062.9 1572.1,1090.1 1572.3,1115.8 1572.5,1071.5 1572.7,1065.5 1572.9,1104.2 1573.1,1125.4 1573.3,1094 1573.5,1106.8 1573.7,1118.3 1574,1080.7 1574.2,1111.5 1574.4,1093.5 1574.6,1103.8 1574.8,1097 1575,1117.9 1575.2,1002.2 1575.4,1096.1 1575.7,1083 1575.9,1075.5 1576.1,1081 1576.3,1042.3 1576.5,1074.3 1576.7,1058.3 1576.9,1080.2 1577.1,1104.9 1577.3,1094.2 1577.6,1086.2 1577.8,1100.7 1578,1116.3 1578.2,1110.2 1578.4,1084.2 1578.6,1087.1 1578.8,1097.9 1579,1073.7 1579.3,1067.1 1579.5,1087.5 1579.7,1112.3 1579.9,1073.2 1580.1,1075.2 1580.3,1057.1 1580.5,1111.8 1580.7,1106.8 1580.9,1082.7 1581.2,1091.1 1581.4,1090.8 1581.6,1071 1581.8,1100.5 1582,1059.6 1582.2,1104.4 1582.4,1076.3 1582.6,1054.4 1582.8,1018.2 1583.1,1071.4 1583.3,1084.1 1583.5,1089.5 1583.7,1089.1 1583.9,1083.7 1584.1,1059.6 1584.3,1107.2 1584.5,1094.9 1584.8,1108.5 1585,1092.6 1585.2,1097.7 1585.4,1089.2 1585.6,1104 1585.8,1093.3 1586,1097.8 1586.2,1107.2 1586.4,1088.9 1586.7,1069.4 1586.9,1111.1 1587.1,1124.3 1587.3,1086.5 1587.5,1094.9 1587.7,1091.9 1587.9,1088.7 1588.1,1101.9 1588.4,1101.1 1588.6,1089.5 1588.8,1111.1 1589,1069.9 1589.2,1097.9 1589.4,1036.3 1589.6,1070.7 1589.8,1093.9 1590,1100.2 1590.3,1084.4 1590.5,1107.7 1590.7,1103.5 1590.9,1095.8 1591.1,1091.2 1591.3,1092.5 1591.5,1115.3 1591.7,1088.2 1591.9,1085.8 1592.2,1100.4 1592.4,1072.1 1592.6,1098.3 1592.8,1090.6 1593,1091.3 1593.2,1086.4 1593.4,1103.5 1593.6,1089.2 1593.9,1101 1594.1,1104.1 1594.3,1074.4 1594.5,1109 1594.7,1095.8 1594.9,1112.8 1595.1,1066 1595.3,1103.1 1595.5,1070.8 1595.8,1100.5 1596,1108.6 1596.2,1122.1 1596.4,1093.8 1596.6,1096.4 1596.8,1089.2 1597,1098.9 1597.2,1099.5 1597.5,1101.5 1597.7,1120.1 1597.9,1065.6 1598.1,1064.3 1598.3,1087.5 1598.5,1112.1 1598.7,1111.3 1598.9,1092 1599.1,1127.5 1599.4,1073.5 1599.6,1095.4 1599.8,1103.4 1600,1081.7 1600.2,1112.8 1600.4,1093.9 1600.6,1092.9 1600.8,1082.9 1601,1099.2 1601.3,1107 1601.5,1104.8 1601.7,1089.4 1601.9,1106.9 1602.1,1089.1 1602.3,1037.3 1602.5,1093.9 1602.7,1070.7 1603,1107.8 1603.2,1050.3 1603.4,1052.1 1603.6,1077.7 1603.8,1063.3 1604,1103.8 1604.2,1091.8 1604.4,1009.5 1604.6,1071.7 1604.9,1064.6 1605.1,1024.8 1605.3,1118.2 1605.5,1096.8 1605.7,1088.3 1605.9,1093.8 1606.1,1090.3 1606.3,1087.1 1606.6,1075.7 1606.8,1094.8 1607,1083.2 1607.2,1111.2 1607.4,1005.2 1607.6,1092.8 1607.8,1092.3 1608,1091.9 1608.2,1085.1 1608.5,1076.8 1608.7,1085 1608.9,1089.6 1609.1,1102.7 1609.3,1089.9 1609.5,1042.3 1609.7,1089.3 1609.9,1072.3 1610.1,1097.6 1610.4,1076.7 1610.6,1067.6 1610.8,1090.6 1611,1106.7 1611.2,1088.7 1611.4,1092.3 1611.6,1115.3 1611.8,1094.4 1612.1,1098.8 1612.3,1073.1 1612.5,1092.7 1612.7,1053.6 1612.9,1096.3 1613.1,1087.6 1613.3,1120.8 1613.5,1103.7 1613.7,1081.5 1614,1033.9 1614.2,1057.4 1614.4,1111 1614.6,1084.6 1614.8,1097.1 1615,1101.5 1615.2,1095.9 1615.4,1105.1 1615.7,1106.3 1615.9,1080.7 1616.1,1090.6 1616.3,1102.9 1616.5,1094.5 1616.7,1107.1 1616.9,1097.6 1617.1,1086.3 1617.3,1107.3 1617.6,1100.3 1617.8,1102.2 1618,1094 1618.2,1063.8 1618.4,1078.2 1618.6,1079.1 1618.8,1102.5 1619,1093 1619.2,1087.4 1619.5,1098.6 1619.7,1084.1 1619.9,1078.5 1620.1,1118.1 1620.3,1081.8 1620.5,1094.4 1620.7,1087.2 1620.9,1109.4 1621.2,1085 1621.4,1081.4 1621.6,1109.5 1621.8,1086.5 1622,1101.4 1622.2,1025.4 1622.4,1106.7 1622.6,1101.9 1622.8,1085.3 1623.1,1102.6 1623.3,1091.2 1623.5,1093.6 1623.7,1098.3 1623.9,1095.9 1624.1,1072.7 1624.3,1089.6 1624.5,1054.8 1624.8,1059.5 1625,1102.9 1625.2,1093.6 1625.4,1043.4 1625.6,1089 1625.8,1090.3 1626,1108.9 1626.2,1083.7 1626.4,1105.8 1626.7,1092.9 1626.9,1091.6 1627.1,1110.9 1627.3,992.2 1627.5,1044 1627.7,1093.3 1627.9,1090.9 1628.1,1051.3 1628.3,1051.1 1628.6,1097.1 1628.8,1097.7 1629,1099.5 1629.2,1081.2 1629.4,1074.4 1629.6,1098.1 1629.8,1092.9 1630,1080.7 1630.3,1071.6 1630.5,1113.8 1630.7,1084 1630.9,1094.3 1631.1,1114.7 1631.3,1071.1 1631.5,1106.5 1631.7,1048.3 1631.9,1073.3 1632.2,1095.3 1632.4,1084.2 1632.6,1080.1 1632.8,1081.2 1633,1090.4 1633.2,1071.2 1633.4,1080.7 1633.6,1093.4 1633.9,1106 1634.1,1078.1 1634.3,1079.2 1634.5,1092.8 1634.7,1072.1 1634.9,1076.3 1635.1,1066.3 1635.3,1093.8 1635.5,1094.7 1635.8,1104.9 1636,1115.6 1636.2,1074.6 1636.4,1098.8 1636.6,1119.7 1636.8,1092.9 1637,1089.2 1637.2,1097.1 1637.4,1086.2 1637.7,1073 1637.9,1064.1 1638.1,1094.5 1638.3,1077 1638.5,1079 1638.7,1096.5 1638.9,1089.5 1639.1,1083.2 1639.4,1062.2 1639.6,1090.4 1639.8,1086.9 1640,1079.1 1640.2,1075.7 1640.4,1089.2 1640.6,1062.8 1640.8,1094.1 1641,1089.6 1641.3,1104.3 1641.5,1106.7 1641.7,1092.7 1641.9,1066 1642.1,1067.7 1642.3,1105.9 1642.5,1095.8 1642.7,1121.7 1643,1077.5 1643.2,1087.6 1643.4,1086.6 1643.6,1084 1643.8,1098 1644,1069.4 1644.2,1084.9 1644.4,1096.5 1644.6,1078.8 1644.9,1081.3 1645.1,1039 1645.3,1099.9 1645.5,1086.5 1645.7,1075.9 1645.9,1081.2 1646.1,1096.8 1646.3,1087.7 1646.5,1067.2 1646.8,1111.9 1647,1059.9 1647.2,1108.2 1647.4,1086.6 1647.6,1091.8 1647.8,1124.9 1648,1054.2 1648.2,1087.5 1648.5,1064.4 1648.7,1107.6 1648.9,1099.6 1649.1,1091.7 1649.3,1098.7 1649.5,1082.2 1649.7,1126 1649.9,1067.4 1650.1,1104.5 1650.4,1093.5 1650.6,1078.5 1650.8,1083.9 1651,909.4 1651.2,1103.4 1651.4,1085.6 1651.6,1100.3 1651.8,1096.2 1652.1,1080 1652.3,1111.9 1652.5,1137.7 1652.7,1102.1 1652.9,1089.2 1653.1,1102.3 1653.3,1116.1 1653.5,1097.1 1653.7,1084.7 1654,1097.5 1654.2,1082.6 1654.4,1067.6 1654.6,1110.2 1654.8,1092.5 1655,1082.2 1655.2,1076.1 1655.4,1078.6 1655.6,1127.7 1655.9,1099.1 1656.1,1114 1656.3,1045.3 1656.5,1047 1656.7,1140.7 1656.9,1122.5 1657.1,1084.9 1657.3,1112.1 1657.6,1087.5 1657.8,1104.5 1658,1092.9 1658.2,1118.5 1658.4,1084.2 1658.6,1092.4 1658.8,1087.6 1659,1081.9 1659.2,1085.7 1659.5,1082.2 1659.7,1076.5 1659.9,1099.3 1660.1,1073.7 1660.3,1077.7 1660.5,1104.9 1660.7,1085.8 1660.9,1073.5 1661.2,1080.4 1661.4,1043.8 1661.6,1069.2 1661.8,1102.8 1662,1070.6 1662.2,1079.1 1662.4,1102.5 1662.6,1050.3 1662.8,1071.9 1663.1,1092.9 1663.3,1099.2 1663.5,1088.5 1663.7,1085.5 1663.9,1118.2 1664.1,1113 1664.3,1107.2 1664.5,1094.7 1664.7,1081.3 1665,1063.8 1665.2,1093.8 1665.4,1107.3 1665.6,1102.1 1665.8,1088.9 1666,1094.6 1666.2,1060.6 1666.4,1084.4 1666.7,1105.1 1666.9,1078.3 1667.1,1111.9 1667.3,1077.8 1667.5,1086.2 1667.7,1083.2 1667.9,1110.9 1668.1,1054.7 1668.3,1085.2 1668.6,1112.5 1668.8,1099 1669,1084.5 1669.2,1054.7 1669.4,1117.1 1669.6,1104.8" fill="none" stroke="none" marker-start="url(#mb)" marker-mid="url(#mb)" marker-end="url(#mb)"/>
<polyline points="140.8,768 141,764.6 141.2,753.9 141.4,822.4 141.7,790.9 141.9,806 142.1,792 142.3,824 142.5,777.2 142.7,769.1 142.9,825.9 143.1,813.1 143.4,811.7 143.6,784.5 143.8,835.8 144,794.5 144.2,802.8 144.4,813.5 144.6,785.1 144.8,835.4 145,824.4 145.3,813.3 145.5,784.9 145.7,805 145.9,838.5 146.1,789.3 146.3,807.5 146.5,810.6 146.7,804.1 146.9,791.9 147.2,747.2 147.4,819 147.6,793 147.8,801.2 148,803.2 148.2,769.4 148.4,783.5 148.6,785.4 148.9,806.7 149.1,757.1 149.3,792.5 149.5,803.5 149.7,809 149.9,785.3 150.1,820.9 150.3,811.8 150.5,765.4 150.8,799.5 151,785.3 151.2,814.1 151.4,784.6 151.6,811.4 151.8,772.2 152,782.9 152.2,789 152.5,683.7 152.7,791.2 152.9,809.8 153.1,768.3 153.3,791.2 153.5,774.6 153.7,682.4 153.9,738.5 154.1,814.1 154.4,821.7 154.6,824.3 154.8,783.2 155,834.9 155.2,831.4 155.4,824.5 155.6,793.2 155.8,789.3 156,813 156.3,782.6 156.5,791.5 156.7,774.5 156.9,779.6 157.1,810.6 157.3,793.7 157.5,800.6 157.7,788.7 158,793.6 158.2,796.9 158.4,783.9 158.6,796.2 158.8,783.5 159,796.7 159.2,800.3 159.4,736.5 159.6,779.3 159.9,773.8 160.1,785.4 160.3,801.3 160.5,753.6 160.7,794.3 160.9,830.6 161.1,818.6 161.3,768.4 161.6,798.4 161.8,851.4 162,799.6 162.2,794.3 162.4,820.6 162.6,754.2 162.8,776 163,781.9 163.2,800.9 163.5,788.2 163.7,781.4 163.9,788.3 164.1,810.1 164.3,793.8 164.5,794.9 164.7,791.9 164.9,817.2 165.1,792.5 165.4,797.4 165.6,793 165.8,793.7 166,824.8 166.2,766.1 166.4,783.4 166.6,823 166.8,799.4 167.1,813.8 167.3,806.3 167.5,778.7 167.7,787.7 167.9,760.3 168.1,796.1 168.3,819.1 168.5,795.8 168.7,844.2 169,764.3 169.2,793.1 169.4,789.7 169.6,795.3 169.8,748.2 170,800.5 170.2,813.2 170.4,808.1 170.7,670.9 170.9,821.4 171.1,767.5 171.3,818.9 171.5,783 171.7,810.9 171.9,846.1 172.1,791.7 172.3,704.6 172.6,803.4 172.8,800.3 173,811.1 173.2,791.3 173.4,808.5 173.6,799.1 173.8,685.9 174,824.6 174.2,810.5 174.5,812.5 174.7,814.9 174.9,825.3 175.1,805.1 175.3,797.1 175.5,769 175.7,830.2 175.9,787.2 176.2,786.8 176.4,798.8 176.6,819 176.8,816.3 177,763.4 177.2,767.7 177.4,791.3 177.6,817.5 177.8,776.4 178.1,796.9 178.3,736.3 178.5,811.1 178.7,791.5 178.9,804.3 179.1,786.1 179.3,812.3 179.5,783 179.8,807.6 180,698.3 180.2,789.6 180.4,795.9 180.6,840.3 180.8,801.2 181,798.4 181.2,796.9 181.4,761.7 181.7,812.5 181.9,800.7 182.1,832.5 182.3,827.9 182.5,811.2 182.7,802.9 182.9,804.1 183.1,788.4 183.3,786.6 183.6,781.3 183.8,803.5 184,791.1 184.2,814 184.4,793.6 184.6,791.3 184.8,809.9 185,861.3 185.3,812.8 185.5,751.7 185.7,802.3 185.9,812.5 186.1,738 186.3,779.3 186.5,794.1 186.7,804.4 186.9,824.8 187.2,806.1 187.4,823.1 187.6,793.8 187.8,771.9 188,780.5 188.2,811.7 188.4,819.1 188.6,826.9 188.9,792.1 189.1,789.7 189.3,785.5 189.5,794.1 189.7,823.5 189.9,837 190.1,779.4 190.3,816.5 190.5,764.6 190.8,840.6 191,821.6 191.2,818.4 191.4,795.7 191.6,788.1 191.8,811.2 192,789.4 192.2,755 192.4,810.2 192.7,823.8 192.9,811.3 193.1,812.9 193.3,795 193.5,735.5 193.7,826.8 193.9,804.7 194.1,787.8 194.4,799.5 194.6,773.9 194.8,820.2 195,786.1 195.2,815.7 195.4,785.3 195.6,797.7 195.8,796.1 196,812 196.3,835.9 196.5,821.8 196.7,787.4 196.9,805.8 197.1,786.9 197.3,826 197.5,788.7 197.7,763.9 198,842.8 198.2,838.2 198.4,764 198.6,815.1 198.8,781.8 199,800 199.2,784.6 199.4,808.1 199.6,815.5 199.9,808.9 200.1,807.6 200.3,811.9 200.5,817.4 200.7,779.8 200.9,744.8 201.1,823.6 201.3,675.6 201.5,791.4 201.8,753.8 202,791.2 202.2,787.1 202.4,776.4 202.6,809 202.8,816.2 203,797.3 203.2,798 203.5,775.7 203.7,799.6 203.9,808.7 204.1,853.4 204.3,804.6 204.5,799.2 204.7,778.2 204.9,798.6 205.1,775 205.4,777 205.6,815.1 205.8,822.2 206,812.6 206.2,805 206.4,815.9 206.6,787.2 206.8,787.7 207.1,777.6 207.3,795.2 207.5,808.8 207.7,792.7 207.9,817.8 208.1,797.7 208.3,814.9 208.5,778.5 208.7,851 209,768.4 209.2,783.7 209.4,801.2 209.6,794 209.8,796.6 210,775.8 210.2,845.8 210.4,800.2 210.6,769.4 210.9,683.5 211.1,792.5 211.3,792.1 211.5,824.4 211.7,794.2 211.9,813.1 212.1,785.3 212.3,817.3 212.6,834.1 212.8,825.1 213,800 213.2,794.5 213.4,794 213.6,814.9 213.8,785.5 214,722.4 214.2,804.6 214.5,781.8 214.7,803.5 214.9,836.1 215.1,786.9 215.3,800.4 215.5,807.8 215.7,776 215.9,812.4 216.2,788.1 216.4,797.9 216.6,751.1 216.8,834.6 217,796.7 217.2,760.6 217.4,779.6 217.6,808.5 217.8,812.5 218.1,774.1 218.3,808.5 218.5,795.2 218.7,801.4 218.9,793.2 219.1,826.1 219.3,810.8 219.5,801.5 219.7,798.4 220,779.6 220.2,790.8 220.4,844.1 220.6,801.5 220.8,776.6 221,812 221.2,802.3 221.4,828.7 221.7,820.4 221.9,848.6 222.1,801.4 222.3,835.7 222.5,801.3 222.7,805 222.9,822.1 223.1,794.2 223.3,805.7 223.6,800.4 223.8,782.6 224,812.2 224.2,780.1 224.4,805.7 224.6,805.4 224.8,776.1 225,793.4 225.3,808.3 225.5,802.8 225.7,796.5 225.9,828.2 226.1,739.6 226.3,800.7 226.5,825.1 226.7,818.5 226.9,784.2 227.2,824.6 227.4,759.8 227.6,820.9 227.8,796.7 228,744.1 228.2,802 228.4,810.6 228.6,791.5 228.8,797.1 229.1,807.1 229.3,760 229.5,786.2 229.7,814.7 229.9,729.5 230.1,855.7 230.3,812 230.5,777.4 230.8,811.6 231,798.3 231.2,823 231.4,786.2 231.6,798.9 231.8,801.1 232,751.8 232.2,770.1 232.4,786 232.7,834.1 232.9,793.7 233.1,796.3 233.3,823 233.5,689.5 233.7,809.1 233.9,807.1 234.1,802.7 234.4,815.4 234.6,798.5 234.8,795.9 235,807 235.2,794.2 235.4,812.7 235.6,831.4 235.8,854.1 236,784.8 236.3,750.3 236.5,842 236.7,811.2 236.9,818.2 237.1,796.5 237.3,738.6 237.5,799.2 237.7,782.8 237.9,815.8 238.2,802.9 238.4,770.8 238.6,784.7 238.8,832.3 239,762.1 239.2,814.4 239.4,795.7 239.6,809.3 239.9,810.1 240.1,814.6 240.3,789.6 240.5,816.1 240.7,768.4 240.9,746.5 241.1,744.2 241.3,839.5 241.5,786.3 241.8,815 242,787.6 242.2,775.1 242.4,795.4 242.6,791.2 242.8,809.9 243,814.1 243.2,837.3 243.5,805 243.7,811.7 243.9,846.3 244.1,736.4 244.3,772.5 244.5,793.6 244.7,779.2 244.9,806.4 245.1,820.6 245.4,800 245.6,807.8 245.8,822.8 246,781.7 246.2,798 246.4,813.7 246.6,797.5 246.8,804.1 247,789.5 247.3,770.9 247.5,813 247.7,823.9 247.9,775 248.1,749.7 248.3,812.7 248.5,818.5 248.7,823.9 249,801.3 249.2,799.1 249.4,806.1 249.6,785.2 249.8,744.5 250,812.4 250.2,841 250.4,774.8 250.6,780.7 250.9,776.3 251.1,817 251.3,775.6 251.5,795.5 251.7,787.4 251.9,790 252.1,807 252.3,804.1 252.6,830.1 252.8,736.9 253,805.2 253.2,822.8 253.4,799 253.6,776.6 253.8,810.2 254,819.2 254.2,817 254.5,797.3 254.7,767.7 254.9,797.7 255.1,799.8 255.3,824.4 255.5,794.5 255.7,789 255.9,763 256.1,801.3 256.4,813.3 256.6,786.9 256.8,775.5 257,793.6 257.2,791.2 257.4,799.8 257.6,813 257.8,701.7 258.1,808.5 258.3,798.6 258.5,800.9 258.7,781.6 258.9,786.8 259.1,772.6 259.3,786.1 259.5,805.4 259.7,851.9 260,831.5 260.2,769.2 260.4,811.8 260.6,808.5 260.8,720 261,821 261.2,812.4 261.4,801.9 261.7,811.7 261.9,799 262.1,683.5 262.3,788.7 262.5,802.7 262.7,787.5 262.9,807 263.1,789.1 263.3,778.4 263.6,833.4 263.8,804.9 264,797.2 264.2,836.4 264.4,858.4 264.6,794.7 264.8,812.8 265,785.8 265.2,800.8 265.5,800.9 265.7,807.2 265.9,798.7 266.1,817.8 266.3,810.3 266.5,846.7 266.7,805.4 266.9,791.1 267.2,800.8 267.4,807 267.6,818.9 267.8,784.7 268,816.3 268.2,793.6 268.4,830 268.6,795.5 268.8,793.4 269.1,812.7 269.3,681.1 269.5,803.6 269.7,798.7 269.9,810.5 270.1,813.4 270.3,783.5 270.5,802.7 270.8,808.5 271,784.7 271.2,801 271.4,813.8 271.6,784.2 271.8,807.4 272,783.2 272.2,813.3 272.4,794.5 272.7,838.3 272.9,792 273.1,791.2 273.3,792.2 273.5,784.5 273.7,799.1 273.9,792.2 274.1,804.9 274.3,764.2 274.6,817.1 274.8,785.1 275,819 275.2,790.5 275.4,775.9 275.6,821.2 275.8,767.6 276,818.7 276.3,816 276.5,794.5 276.7,821.3 276.9,782.2 277.1,791.4 277.3,863.6 277.5,827.4 277.7,814.2 277.9,792.8 278.2,820.8 278.4,814.2 278.6,789 278.8,819.3 279,795.1 279.2,826.3 279.4,781.9 279.6,774 279.9,822.3 280.1,845.1 280.3,832.3 280.5,782.7 280.7,811.5 280.9,781.1 281.1,712.7 281.3,818.5 281.5,803.1 281.8,780.9 282,805 282.2,820.2 282.4,795.3 282.6,799.3 282.8,791.5 283,804.3 283.2,812.6 283.4,692 283.7,847.4 283.9,795.9 284.1,777.9 284.3,790.6 284.5,818.8 284.7,829.7 284.9,776.3 285.1,810.5 285.4,804.9 285.6,796.8 285.8,812.1 286,800.2 286.2,772.8 286.4,810.3 286.6,765 286.8,759.7 287,795 287.3,757 287.5,783.7 287.7,781.1 287.9,790.5 288.1,811.8 288.3,770.4 288.5,803.7 288.7,816.5 289,784.1 289.2,788.7 289.4,801.5 289.6,799.5 289.8,789.9 290,764.7 290.2,802.3 290.4,824.5 290.6,811.5 290.9,791.3 291.1,804.6 291.3,682.3 291.5,787.2 291.7,787 291.9,804.7 292.1,795.6 292.3,767.3 292.5,875.6 292.8,807.3 293,826.4 293.2,794.6 293.4,802.5 293.6,852.1 293.8,799.1 294,798.6 294.2,815.1 294.5,812.2 294.7,816.1 294.9,775.9 295.1,832.8 295.3,802.9 295.5,785.7 295.7,821.7 295.9,819.5 296.1,819.9 296.4,835.5 296.6,779.7 296.8,806.6 297,823.1 297.2,814.4 297.4,799.4 297.6,809 297.8,819.7 298.1,793.5 298.3,819.7 298.5,810.5 298.7,799.9 298.9,816.8 299.1,801.8 299.3,815.3 299.5,753.3 299.7,811 300,790.5 300.2,819.5 300.4,824.5 300.6,845 300.8,810 301,810 301.2,804.2 301.4,787 301.6,767.8 301.9,863.4 302.1,802.6 302.3,769.4 302.5,771.9 302.7,815.7 302.9,813.1 303.1,805.9 303.3,767.3 303.6,806.9 303.8,808.8 304,778.2 304.2,807.7 304.4,807.3 304.6,793.2 304.8,801.2 305,849.9 305.2,828 305.5,791.3 305.7,831.6 305.9,781.6 306.1,806 306.3,800 306.5,799.4 306.7,838.5 306.9,768.8 307.2,824.5 307.4,800.3 307.6,776.1 307.8,809 308,803.4 308.2,841.4 308.4,811.7 308.6,809.3 308.8,808.2 309.1,793.4 309.3,778.3 309.5,805 309.7,797.3 309.9,834 310.1,793.2 310.3,804 310.5,837.5 310.7,798.3 311,817 311.2,785.6 311.4,795.9 311.6,803 311.8,772.3 312,807.5 312.2,810.3 312.4,803.8 312.7,802.2 312.9,820.4 313.1,793.6 313.3,796.4 313.5,814.2 313.7,833.6 313.9,781.5 314.1,779.3 314.3,786.9 314.6,785.2 314.8,769.7 315,722 315.2,772.4 315.4,805.7 315.6,819.2 315.8,802.3 316,808.4 316.3,793.2 316.5,768.2 316.7,794.4 316.9,782.5 317.1,762 317.3,768.2 317.5,800.3 317.7,814.6 317.9,761.8 318.2,822.1 318.4,836.2 318.6,839.5 318.8,779.7 319,829.6 319.2,719.5 319.4,804.2 319.6,777.1 319.8,827.7 320.1,800.7 320.3,796 320.5,775 320.7,806.2 320.9,796.5 321.1,806.9 321.3,781 321.5,783.8 321.8,808.9 322,791.2 322.2,829.6 322.4,800.2 322.6,818.3 322.8,809.4 323,782.4 323.2,760.7 323.4,797.5 323.7,731.1 323.9,807.7 324.1,677.9 324.3,804.7 324.5,782.7 324.7,772.1 324.9,789.4 325.1,808.5 325.4,786.8 325.6,814.3 325.8,834.5 326,779.5 326.2,764.8 326.4,776.1 326.6,808 326.8,865.3 327,683.8 327.3,789.4 327.5,808.8 327.7,774.9 327.9,816.7 328.1,791.9 328.3,797.1 328.5,796.5 328.7,828.1 328.9,803.4 329.2,796.4 329.4,809.1 329.6,826.4 329.8,810.8 330,819.7 330.2,795 330.4,783.2 330.6,795.4 330.9,794.6 331.1,805 331.3,798 331.5,838.7 331.7,800.3 331.9,784.8 332.1,811.7 332.3,788.5 332.5,830.4 332.8,800.9 333,805.3 333.2,792.9 333.4,759.6 333.6,759.4 333.8,862.4 334,829.4 334.2,814.7 334.5,800 334.7,814.1 334.9,814.7 335.1,831.9 335.3,827.8 335.5,818.5 335.7,772.9 335.9,817.4 336.1,749.3 336.4,767.2 336.6,807.4 336.8,786.3 337,782.4 337.2,824.7 337.4,832.8 337.6,768.4 337.8,820.1 338,785.3 338.3,788.8 338.5,833.7 338.7,789.5 338.9,688.9 339.1,727.3 339.3,802.4 339.5,793.1 339.7,794.6 340,806.3 340.2,770.5 340.4,783.3 340.6,772.4 340.8,795 341,779.5 341.2,820 341.4,813.7 341.6,782.7 341.9,806.1 342.1,809.4 342.3,798.8 342.5,832 342.7,798.6 342.9,792.5 343.1,807.9 343.3,823.3 343.6,768.4 343.8,793.7 344,821.4 344.2,709 344.4,832.7 344.6,835.1 344.8,838.3 345,817.8 345.2,793.8 345.5,787.7 345.7,804 345.9,675.6 346.1,791 346.3,823.8 346.5,817.9 346.7,796.4 346.9,788.8 347.1,781.1 347.4,749.4 347.6,838.9 347.8,763.2 348,807.1 348.2,782.6 348.4,801 348.6,828 348.8,774.9 349.1,792.6 349.3,773.3 349.5,789.9 349.7,820.4 349.9,802.2 350.1,782.4 350.3,814.6 350.5,797.8 350.7,779.2 351,824.9 351.2,808.4 351.4,798 351.6,671 351.8,803.1 352,814.9 352.2,790.5 352.4,812.9 352.7,793.2 352.9,794.3 353.1,731.4 353.3,784.8 353.5,778.6 353.7,826 353.9,791.2 354.1,804.2 354.3,806.8 354.6,799.4 354.8,778.6 355,803.8 355.2,695.2 355.4,824.9 355.6,804.1 355.8,800.9 356,819.1 356.2,806.7 356.5,791.7 356.7,774.3 356.9,806.2 357.1,762.7 357.3,781.7 357.5,784.1 357.7,789.2 357.9,798.5 358.2,812.3 358.4,801.6 358.6,799.1 358.8,691.3 359,770.9 359.2,762 359.4,735.6 359.6,780.9 359.8,813 360.1,837.6 360.3,801.8 360.5,795.1 360.7,773.1 360.9,753.7 361.1,794.6 361.3,774.8 361.5,778.5 361.8,845.3 362,783.8 362.2,792.2 362.4,770 362.6,819.5 362.8,843.5 363,796.9 363.2,781.8 363.4,779.4 363.7,810.1 363.9,789 364.1,811.7 364.3,846.7 364.5,813.4 364.7,819.7 364.9,781.4 365.1,823.1 365.3,827.3 365.6,784.2 365.8,797.3 366,843.2 366.2,776.8 366.4,822.6 366.6,807.9 366.8,801.4 367,761 367.3,799.7 367.5,782 367.7,758.2 367.9,789.5 368.1,826 368.3,799.2 368.5,810.8 368.7,818.5 368.9,793.6 369.2,779.5 369.4,744 369.6,805.2 369.8,785.3 370,705.6 370.2,793.2 370.4,789.3 370.6,800.9 370.9,804 371.1,796.9 371.3,809.9 371.5,803.4 371.7,785.2 371.9,835.7 372.1,775.5 372.3,790.5 372.5,795.1 372.8,818.3 373,807.1 373.2,810.6 373.4,786.4 373.6,787.3 373.8,777.4 374,798.2 374.2,837.7 374.4,817.7 374.7,806.4 374.9,793.2 375.1,709.7 375.3,803.4 375.5,798.4 375.7,811 375.9,803.3 376.1,756.6 376.4,800.1 376.6,762.3 376.8,795.3 377,813.2 377.2,789.4 377.4,807.6 377.6,801.1 377.8,842.4 378,793.4 378.3,855.5 378.5,778.6 378.7,798 378.9,807.2 379.1,819.9 379.3,799.7 379.5,807.2 379.7,814.8 380,764.9 380.2,803 380.4,783.4 380.6,772.5 380.8,792.6 381,753.7 381.2,790.7 381.4,782.2 381.6,789.5 381.9,790.9 382.1,695.9 382.3,809.5 382.5,808.5 382.7,812.4 382.9,796.7 383.1,775.7 383.3,818.1 383.5,811.9 383.8,818.9 384,801.4 384.2,781.1 384.4,806.7 384.6,794.7 384.8,844.1 385,803.2 385.2,758.3 385.5,812 385.7,831.1 385.9,791.8 386.1,802.5 386.3,766.4 386.5,811.3 386.7,803.4 386.9,807.6 387.1,798.6 387.4,834.7 387.6,849.1 387.8,788.5 388,804.8 388.2,807.2 388.4,790.7 388.6,841 388.8,808.3 389.1,803.6 389.3,794 389.5,808.4 389.7,806.6 389.9,808.4 390.1,734.6 390.3,824.8 390.5,818.1 390.7,793.5 391,785.6 391.2,801.4 391.4,867.6 391.6,828.2 391.8,792.7 392,768.8 392.2,777.7 392.4,670.4 392.6,807 392.9,808.5 393.1,767.8 393.3,796 393.5,817.6 393.7,782.5 393.9,784.8 394.1,838.2 394.3,746.5 394.6,781.4 394.8,783.2 395,686.8 395.2,800.3 395.4,783.8 395.6,793.8 395.8,819.9 396,754.4 396.2,787.8 396.5,670.1 396.7,818.2 396.9,756.3 397.1,796 397.3,828.2 397.5,769.4 397.7,851.4 397.9,812.9 398.2,800.8 398.4,754.9 398.6,796.4 398.8,793.1 399,785.7 399.2,796 399.4,811.1 399.6,735.3 399.8,674.4 400.1,771 400.3,780.6 400.5,817.4 400.7,692.4 400.9,807.4 401.1,807 401.3,769.3 401.5,803.1 401.7,814.6 402,772.3 402.2,856.6 402.4,799 402.6,819.4 402.8,811.2 403,813.7 403.2,816.3 403.4,817.8 403.7,795.2 403.9,794.1 404.1,791.6 404.3,817 404.5,794.1 404.7,762.5 404.9,795.2 405.1,806.9 405.3,748.7 405.6,793.7 405.8,811.2 406,783.1 406.2,812.8 406.4,806.3 406.6,780.8 406.8,810.8 407,827.1 407.3,786.4 407.5,783.9 407.7,825.1 407.9,851.1 408.1,779.2 408.3,794.8 408.5,841.2 408.7,801.6 408.9,811.1 409.2,809.8 409.4,805.1 409.6,796 409.8,849.4 410,834.9 410.2,799.1 410.4,786.7 410.6,811.4 410.8,799 411.1,819.2 411.3,824.8 411.5,796.2 411.7,800.4 411.9,808.6 412.1,823.3 412.3,797.8 412.5,800.3 412.8,803.9 413,801.4 413.2,806 413.4,789.5 413.6,791.9 413.8,766.2 414,773.2 414.2,800.2 414.4,822.1 414.7,787.7 414.9,810.6 415.1,771.3 415.3,827 415.5,807.5 415.7,771.1 415.9,799.5 416.1,735.7 416.4,787.4 416.6,684.9 416.8,697.3 417,815.7 417.2,805.7 417.4,760.5 417.6,803.1 417.8,792.9 418,725.5 418.3,775 418.5,816.7 418.7,813.5 418.9,810.9 419.1,817.3 419.3,841.4 419.5,805.3 419.7,808.9 419.9,801.8 420.2,818.1 420.4,816.6 420.6,805.9 420.8,800.1 421,817.2 421.2,740.3 421.4,804.4 421.6,780.6 421.9,801.9 422.1,790.9 422.3,781.5 422.5,811.8 422.7,775.2 422.9,796.7 423.1,809.2 423.3,722.6 423.5,819.9 423.8,767.4 424,795.5 424.2,827.7 424.4,820.9 424.6,867.4 424.8,810.5 425,791.8 425.2,783.9 425.5,781.4 425.7,762.6 425.9,817.4 426.1,779.6 426.3,777.6 426.5,835.9 426.7,839.7 426.9,806.7 427.1,814.6 427.4,781.1 427.6,791.8 427.8,799.2 428,822.8 428.2,838.2 428.4,817.5 428.6,815.6 428.8,817 429,839.4 429.3,828.7 429.5,808.4 429.7,794.3 429.9,810.3 430.1,804.9 430.3,801.9 430.5,801.9 430.7,778.5 431,815.3 431.2,796.8 431.4,825 431.6,778.9 431.8,787.1 432,782.3 432.2,798.5 432.4,802.9 432.6,742.9 432.9,794.8 433.1,775.4 433.3,851.7 433.5,843.1 433.7,815.7 433.9,791.7 434.1,815.6 434.3,803.4 434.6,785.4 434.8,803.9 435,767.1 435.2,799.8 435.4,788.5 435.6,811.9 435.8,809.8 436,807.9 436.2,791.2 436.5,769.7 436.7,763.2 436.9,824.3 437.1,811.8 437.3,825.8 437.5,837.7 437.7,800 437.9,820.3 438.1,807.1 438.4,783.1 438.6,791.9 438.8,811 439,786.5 439.2,793.2 439.4,810.6 439.6,797 439.8,765.7 440.1,820.8 440.3,781.5 440.5,803 440.7,788.7 440.9,793 441.1,795.2 441.3,803.3 441.5,800.4 441.7,787.9 442,791.9 442.2,827.5 442.4,792 442.6,776.2 442.8,783.8 443,843.8 443.2,834.2 443.4,789.5 443.7,788.1 443.9,773.3 444.1,818.1 444.3,804.8 444.5,810.3 444.7,805.4 444.9,832.4 445.1,809.2 445.3,808.5 445.6,807.5 445.8,670.7 446,812.2 446.2,692.3 446.4,779.8 446.6,811 446.8,778.3 447,792.3 447.2,812.3 447.5,813.8 447.7,798.1 447.9,879.3 448.1,798.9 448.3,811.4 448.5,789.7 448.7,813.2 448.9,809.4 449.2,848.6 449.4,824.1 449.6,848.9 449.8,804.6 450,827.6 450.2,834 450.4,777.7 450.6,805.8 450.8,803.4 451.1,812.6 451.3,771.5 451.5,684.9 451.7,834 451.9,791.7 452.1,848.5 452.3,792.7 452.5,803.3 452.8,777.1 453,791.9 453.2,807.8 453.4,774.2 453.6,750 453.8,810.6 454,780.4 454.2,793.6 454.4,792.2 454.7,823.6 454.9,818.7 455.1,774.1 455.3,797.7 455.5,810.4 455.7,766.9 455.9,760.2 456.1,786.7 456.3,818.7 456.6,800.6 456.8,772.9 457,838.4 457.2,830.1 457.4,815.3 457.6,782.2 457.8,796.1 458,791.6 458.3,796.7 458.5,798.4 458.7,777.8 458.9,732.8 459.1,791.5 459.3,775.7 459.5,808.5 459.7,770.3 459.9,798.5 460.2,726.9 460.4,808.9 460.6,814.5 460.8,810.4 461,818.5 461.2,824.5 461.4,765.5 461.6,791.8 461.9,781.6 462.1,790.7 462.3,826.9 462.5,799.5 462.7,816.9 462.9,766 463.1,802.3 463.3,797 463.5,798.4 463.8,797.8 464,805.6 464.2,799.6 464.4,776.6 464.6,758.9 464.8,779 465,804.4 465.2,792.8 465.4,782 465.7,781.2 465.9,777.1 466.1,776.7 466.3,792.5 466.5,805.5 466.7,829.3 466.9,780 467.1,788.6 467.4,816.4 467.6,800 467.8,807.8 468,808.6 468.2,767.3 468.4,807.1 468.6,754.4 468.8,840.9 469,813.9 469.3,797.8 469.5,754.7 469.7,803.2 469.9,790.7 470.1,720.5 470.3,789.2 470.5,826.4 470.7,802.6 471,774.6 471.2,805.2 471.4,786.8 471.6,804.7 471.8,806.8 472,795.2 472.2,779.9 472.4,736 472.6,800.8 472.9,818.6 473.1,832.4 473.3,798 473.5,803.9 473.7,795.4 473.9,764 474.1,784.9 474.3,817.1 474.5,757 474.8,795.2 475,768.8 475.2,843.2 475.4,840 475.6,802.4 475.8,786.3 476,806.5 476.2,827.1 476.5,774.8 476.7,801.4 476.9,809.3 477.1,790.6 477.3,787.6 477.5,802.2 477.7,811.8 477.9,811.6 478.1,785.7 478.4,803.4 478.6,791.4 478.8,837.1 479,810.2 479.2,808.1 479.4,809.8 479.6,837.8 479.8,809.4 480.1,771.1 480.3,795.2 480.5,810.9 480.7,814.6 480.9,826.7 481.1,796.7 481.3,815.9 481.5,808.5 481.7,784.1 482,783.1 482.2,789.3 482.4,832.5 482.6,682.1 482.8,778.7 483,823.6 483.2,845.5 483.4,801.6 483.6,783.1 483.9,809 484.1,823.3 484.3,820.4 484.5,754.7 484.7,807.3 484.9,824.4 485.1,785.7 485.3,830.5 485.6,853.8 485.8,794.8 486,795.6 486.2,793.2 486.4,802.9 486.6,848 486.8,796.6 487,802.1 487.2,805 487.5,791.9 487.7,786.7 487.9,797.2 488.1,772.8 488.3,759.6 488.5,795.8 488.7,698.8 488.9,825.9 489.2,790.3 489.4,835 489.6,769.2 489.8,782.7 490,811.3 490.2,788.3 490.4,817.8 490.6,822.2 490.8,786.8 491.1,751.2 491.3,796.6 491.5,803.7 491.7,771.6 491.9,795.3 492.1,771.3 492.3,784.8 492.5,815.9 492.7,823.5 493,841.4 493.2,800.7 493.4,854.2 493.6,816.9 493.8,847.2 494,813.2 494.2,788 494.4,818.1 494.7,811.9 494.9,810.1 495.1,796.3 495.3,829.6 495.5,799.4 495.7,760.5 495.9,821.1 496.1,820.2 496.3,778.5 496.6,787.8 496.8,750.6 497,817.4 497.2,808.1 497.4,826.3 497.6,868.4 497.8,739.8 498,813 498.3,762 498.5,824.9 498.7,794.7 498.9,810.5 499.1,831.7 499.3,763 499.5,834.8 499.7,797.7 499.9,820.9 500.2,788.9 500.4,800.4 500.6,782.5 500.8,803.1 501,816.2 501.2,774.4 501.4,802.9 501.6,805.8 501.8,804.7 502.1,815.6 502.3,795.1 502.5,769.9 502.7,773.4 502.9,796.1 503.1,789.6 503.3,787.6 503.5,813.9 503.8,773.5 504,797.1 504.2,836.3 504.4,790.1 504.6,819.2 504.8,796.1 505,789 505.2,807.8 505.4,796.6 505.7,776.2 505.9,828.1 506.1,732.7 506.3,804.2 506.5,806.5 506.7,762.4 506.9,783 507.1,791.9 507.4,706.8 507.6,838.7 507.8,827.1 508,808.2 508.2,798.5 508.4,810.2 508.6,800 508.8,788.8 509,815.6 509.3,810.2 509.5,820.5 509.7,752.7 509.9,840.6 510.1,790.8 510.3,787.6 510.5,840.8 510.7,811.4 511,781.7 511.2,819.5 511.4,813.3 511.6,750.6 511.8,777.4 512,790.6 512.2,815.4 512.4,828.5 512.6,831.1 512.9,796.1 513.1,843.7 513.3,813.5 513.5,791.2 513.7,825.4 513.9,808.7 514.1,804.7 514.3,788.3 514.5,828.2 514.8,801.3 515,803.7 515.2,800.6 515.4,832.5 515.6,793 515.8,818.6 516,804.8 516.2,818.7 516.5,765.8 516.7,801.5 516.9,838.9 517.1,814.5 517.3,807.8 517.5,774.5 517.7,809.5 517.9,794.1 518.1,780.6 518.4,809.5 518.6,815.3 518.8,807.2 519,859.4 519.2,794.3 519.4,778 519.6,807.5 519.8,811.5 520.1,823.9 520.3,808.1 520.5,813.7 520.7,804.7 520.9,820.3 521.1,816 521.3,808.3 521.5,784.1 521.7,808.8 522,813.3 522.2,783 522.4,776.9 522.6,808.1 522.8,807.3 523,836.8 523.2,832 523.4,803.3 523.6,776.1 523.9,767.4 524.1,786.8 524.3,811.6 524.5,792.6 524.7,830.2 524.9,803.9 525.1,824.8 525.3,802.3 525.6,775.1 525.8,761 526,798.3 526.2,794.8 526.4,833.7 526.6,814.7 526.8,773.5 527,780.2 527.2,786.5 527.5,793.8 527.7,771.1 527.9,807.2 528.1,805.9 528.3,749 528.5,818.6 528.7,793.7 528.9,809.4 529.2,773.8 529.4,761 529.6,808.8 529.8,808.2 530,786.9 530.2,821.3 530.4,736.1 530.6,804.5 530.8,809 531.1,792 531.3,808.8 531.5,813.8 531.7,796.8 531.9,794.1 532.1,733.8 532.3,801 532.5,836.7 532.7,803.1 533,802.1 533.2,804.1 533.4,792.1 533.6,807.6 533.8,781 534,807.8 534.2,775.6 534.4,823.3 534.7,847 534.9,820.5 535.1,748.1 535.3,807.1 535.5,804.3 535.7,838.8 535.9,810.2 536.1,797.1 536.3,799.8 536.6,762.8 536.8,779.2 537,796.8 537.2,788.7 537.4,790.4 537.6,723.4 537.8,780.6 538,813.9 538.3,786.8 538.5,799.1 538.7,784.5 538.9,774.7 539.1,790.6 539.3,810.9 539.5,709.4 539.7,790.9 539.9,809.6 540.2,809 540.4,764 540.6,808.5 540.8,791.7 541,810.3 541.2,799.9 541.4,815.6 541.6,834.7 541.8,786.5 542.1,783.1 542.3,811.2 542.5,786.3 542.7,795.7 542.9,823.7 543.1,779.1 543.3,839.5 543.5,802.6 543.8,787.9 544,822.6 544.2,771 544.4,812.7 544.6,777.7 544.8,805.1 545,788.4 545.2,802.4 545.4,756.2 545.7,793.5 545.9,781.7 546.1,787.5 546.3,797.5 546.5,752.1 546.7,793.3 546.9,782.1 547.1,783.7 547.4,790.5 547.6,803.4 547.8,787.4 548,819.6 548.2,801.1 548.4,839.6 548.6,813.7 548.8,803.6 549,827.5 549.3,822.4 549.5,782.7 549.7,790.9 549.9,779.7 550.1,778.1 550.3,788.1 550.5,785.1 550.7,794.6 550.9,775.8 551.2,829.2 551.4,803.4 551.6,780.4 551.8,784.1 552,798.8 552.2,806.3 552.4,784.1 552.6,757.1 552.9,821.4 553.1,777.9 553.3,807.3 553.5,796.5 553.7,830.9 553.9,848.8 554.1,791.5 554.3,768.5 554.5,843.4 554.8,809.8 555,789.4 555.2,796.4 555.4,798.9 555.6,800.6 555.8,818.4 556,779.2 556.2,759.1 556.5,793.1 556.7,843.7 556.9,768.1 557.1,801.1 557.3,759.6 557.5,766.5 557.7,775.2 557.9,801.8 558.1,779.7 558.4,788.7 558.6,811.1 558.8,797.5 559,833.6 559.2,829.9 559.4,796.3 559.6,773.1 559.8,818.7 560,777.1 560.3,797.1 560.5,765.7 560.7,806.7 560.9,743.6 561.1,791.3 561.3,804.4 561.5,795.1 561.7,834.8 562,793.3 562.2,805.9 562.4,790.3 562.6,806.1 562.8,851.7 563,849.6 563.2,812.5 563.4,824.2 563.6,783.3 563.9,820.7 564.1,791.7 564.3,803.3 564.5,770.7 564.7,798.5 564.9,796.4 565.1,676.4 565.3,793.1 565.6,787.5 565.8,802.5 566,786.7 566.2,820.1 566.4,769.3 566.6,792.5 566.8,806.3 567,776.9 567.2,788.1 567.5,812.1 567.7,818.1 567.9,800.5 568.1,814.2 568.3,807.9 568.5,821.7 568.7,785.5 568.9,797 569.1,794.6 569.4,784.7 569.6,844.1 569.8,799.6 570,805 570.2,787.3 570.4,790.7 570.6,790.3 570.8,775.6 571.1,835.9 571.3,820.6 571.5,859.7 571.7,772.8 571.9,815.8 572.1,726.5 572.3,783.7 572.5,826.4 572.7,811.8 573,793.9 573.2,801.6 573.4,765.9 573.6,788.8 573.8,783.2 574,812.8 574.2,823.7 574.4,811.9 574.7,773.4 574.9,765 575.1,815.7 575.3,803 575.5,847.7 575.7,775.8 575.9,824.3 576.1,783.3 576.3,775.8 576.6,825.7 576.8,817 577,786.6 577.2,774.3 577.4,674.4 577.6,756 577.8,793.8 578,776.2 578.2,821.4 578.5,815.4 578.7,778.2 578.9,796.6 579.1,816.1 579.3,800.4 579.5,791.3 579.7,780.9 579.9,794.8 580.2,800.7 580.4,832.4 580.6,790.2 580.8,790.7 581,796.5 581.2,800.1 581.4,798.1 581.6,782.3 581.8,807.5 582.1,823.5 582.3,783.3 582.5,807.7 582.7,805.9 582.9,792.3 583.1,805.3 583.3,801.8 583.5,821.8 583.8,775.7 584,693.8 584.2,851.5 584.4,824.6 584.6,814.1 584.8,808.6 585,783.9 585.2,796.8 585.4,809.4 585.7,824.3 585.9,781.6 586.1,799.9 586.3,792.6 586.5,804.2 586.7,810.2 586.9,744.3 587.1,795 587.3,778.9 587.6,796.8 587.8,839.1 588,786 588.2,799.6 588.4,805 588.6,859.6 588.8,817 589,760.4 589.3,812.5 589.5,795.7 589.7,789.2 589.9,859.2 590.1,818.4 590.3,792.3 590.5,793.6 590.7,670.9 590.9,836.6 591.2,824.1 591.4,785.4 591.6,805.5 591.8,834.8 592,838.2 592.2,799.8 592.4,788.5 592.6,792.4 592.9,793.5 593.1,815.4 593.3,832.6 593.5,812.5 593.7,774.7 593.9,829.6 594.1,783.8 594.3,829.4 594.5,825.6 594.8,798.9 595,728.3 595.2,743.7 595.4,822.9 595.6,798.5 595.8,784.7 596,828.8 596.2,790.6 596.4,793.9 596.7,843.2 596.9,844.4 597.1,784 597.3,823.1 597.5,805.9 597.7,809.6 597.9,820.5 598.1,853.2 598.4,815 598.6,797.9 598.8,787.3 599,806.9 599.2,786.3 599.4,798.4 599.6,779.4 599.8,826.4 600,842.3 600.3,802.1 600.5,798.7 600.7,794.6 600.9,785.9 601.1,798.5 601.3,791.4 601.5,710.9 601.7,804.1 602,840.3 602.2,780.9 602.4,786.4 602.6,777 602.8,810.2 603,804.7 603.2,754.5 603.4,780.9 603.6,828.8 603.9,787.4 604.1,794.7 604.3,807.8 604.5,806.6 604.7,817.4 604.9,811.3 605.1,815.9 605.3,823.4 605.5,808.6 605.8,818.1 606,787.8 606.2,781.7 606.4,804.3 606.6,807.8 606.8,751.4 607,803.6 607.2,763.1 607.5,851.4 607.7,845.7 607.9,822.2 608.1,792.3 608.3,786.5 608.5,757.5 608.7,801 608.9,806.8 609.1,792 609.4,762.9 609.6,844.3 609.8,759 610,781.1 610.2,807 610.4,791.7 610.6,801.6 610.8,792 611.1,792 611.3,786.3 611.5,820.1 611.7,789.4 611.9,813.5 612.1,806.7 612.3,785.9 612.5,809.4 612.7,795.2 613,794.8 613.2,799 613.4,824.1 613.6,791.6 613.8,797.4 614,758.5 614.2,820.6 614.4,780.7 614.6,808.8 614.9,806.5 615.1,768.2 615.3,803.3 615.5,785.5 615.7,798.2 615.9,817.8 616.1,804.8 616.3,809 616.6,804.9 616.8,765.2 617,791.7 617.2,833.6 617.4,764.8 617.6,793.4 617.8,783.5 618,729 618.2,816.2 618.5,794.2 618.7,803.3 618.9,807.1 619.1,806.3 619.3,798.5 619.5,778.3 619.7,785.7 619.9,741.6 620.2,777.5 620.4,844.5 620.6,799.7 620.8,793.6 621,794.4 621.2,773.4 621.4,797 621.6,774.2 621.8,803.6 622.1,787.1 622.3,798.2 622.5,805 622.7,790.4 622.9,789.3 623.1,817.2 623.3,782.2 623.5,805.2 623.7,798.3 624,851.2 624.2,800.7 624.4,836.5 624.6,783.8 624.8,815 625,761.8 625.2,803.5 625.4,825.5 625.7,799.7 625.9,823.5 626.1,804.2 626.3,783.9 626.5,775.8 626.7,773 626.9,804.5 627.1,818.4 627.3,791 627.6,745.3 627.8,816.9 628,774.4 628.2,802.8 628.4,850.5 628.6,798.9 628.8,764.5 629,786.6 629.3,779.9 629.5,792.6 629.7,832.2 629.9,845.1 630.1,820.5 630.3,807.6 630.5,819.4 630.7,815.6 630.9,785.4 631.2,772.5 631.4,755.2 631.6,820.6 631.8,872.3 632,804.2 632.2,845.1 632.4,744.3 632.6,786.9 632.8,793.5 633.1,837 633.3,794.7 633.5,822.7 633.7,742.9 633.9,794.7 634.1,799.5 634.3,792.1 634.5,811.4 634.8,797 635,846.2 635.2,786.4 635.4,803.9 635.6,752 635.8,798.3 636,845.1 636.2,702.6 636.4,839.1 636.7,821.9 636.9,801.2 637.1,775.8 637.3,763.2 637.5,807.8 637.7,796.2 637.9,766 638.1,812.8 638.4,810 638.6,803.1 638.8,801.5 639,780.1 639.2,837.3 639.4,791.3 639.6,793.2 639.8,774.2 640,807.8 640.3,807.6 640.5,798.4 640.7,811.2 640.9,811.8 641.1,813.2 641.3,813.2 641.5,820.1 641.7,699.8 641.9,815.5 642.2,814.6 642.4,826.1 642.6,782.5 642.8,794.7 643,801.6 643.2,821.3 643.4,788.4 643.6,805.3 643.9,802.7 644.1,799 644.3,802.9 644.5,781.9 644.7,815.8 644.9,813.3 645.1,797.8 645.3,804.5 645.5,790.2 645.8,783.2 646,774.4 646.2,672.1 646.4,805.9 646.6,803.7 646.8,807.7 647,778.6 647.2,804.9 647.5,816.8 647.7,820.4 647.9,786.3 648.1,817.1 648.3,850.8 648.5,787 648.7,794.2 648.9,785.9 649.1,781.7 649.4,790.7 649.6,793 649.8,799.4 650,815.4 650.2,840.6 650.4,837.7 650.6,793.3 650.8,785.1 651,799.7 651.3,814.9 651.5,788.2 651.7,800.8 651.9,800.1 652.1,807.2 652.3,822.6 652.5,819.5 652.7,793 653,769.4 653.2,766.8 653.4,803.7 653.6,791.7 653.8,711.1 654,797.3 654.2,792.4 654.4,783 654.6,713.4 654.9,766.6 655.1,802.6 655.3,818.8 655.5,756.2 655.7,817.1 655.9,800.9 656.1,814.1 656.3,777.7 656.6,851.1 656.8,793.7 657,830.4 657.2,770.6 657.4,760.3 657.6,783.8 657.8,815 658,778 658.2,758.4 658.5,795.3 658.7,807.2 658.9,772.2 659.1,825.4 659.3,805.7 659.5,720.9 659.7,797.8 659.9,779.1 660.1,803 660.4,746.1 660.6,826.9 660.8,803 661,727.6 661.2,781.9 661.4,788.4 661.6,826.4 661.8,789.4 662.1,812.8 662.3,775.5 662.5,705.7 662.7,805.5 662.9,746 663.1,781.5 663.3,802.3 663.5,747.9 663.7,778 664,822.4 664.2,800.8 664.4,780.3 664.6,785 664.8,699.3 665,689.5 665.2,829.4 665.4,828.6 665.7,784.7 665.9,812 666.1,799.7 666.3,787.9 666.5,835.9 666.7,836 666.9,789.9 667.1,811.2 667.3,806.7 667.6,778.5 667.8,805.2 668,801.2 668.2,794.6 668.4,833 668.6,767.2 668.8,792.4 669,810.6 669.2,778.6 669.5,817.9 669.7,813.3 669.9,823.6 670.1,804.6 670.3,814.4 670.5,853.8 670.7,813 670.9,795.3 671.2,792 671.4,792.9 671.6,754.7 671.8,798.8 672,816 672.2,838.1 672.4,793.7 672.6,827 672.8,793.9 673.1,801.3 673.3,801.3 673.5,800.3 673.7,789.5 673.9,818.9 674.1,794.4 674.3,779.9 674.5,785.4 674.8,779.4 675,805.7 675.2,802 675.4,764.8 675.6,790.8 675.8,795.5 676,695 676.2,817 676.4,802.9 676.7,847.5 676.9,754.8 677.1,771.7 677.3,792.1 677.5,783.6 677.7,816.1 677.9,800.6 678.1,800.9 678.3,790.5 678.6,791.1 678.8,800.3 679,789.4 679.2,758.3 679.4,799.8 679.6,812.7 679.8,777.4 680,772.2 680.3,796.8 680.5,862 680.7,839 680.9,791.3 681.1,803.7 681.3,758.5 681.5,795.8 681.7,669.5 681.9,803.7 682.2,805.4 682.4,810.3 682.6,822.3 682.8,810.9 683,779.2 683.2,829.1 683.4,798.3 683.6,779.1 683.9,795.3 684.1,790.3 684.3,793.6 684.5,790.2 684.7,836.3 684.9,771.7 685.1,793.2 685.3,810.5 685.5,805.6 685.8,802.6 686,787.1 686.2,822.2 686.4,823.7 686.6,727.1 686.8,783 687,817.1 687.2,797.6 687.4,821.5 687.7,801.1 687.9,809.3 688.1,813.7 688.3,713.5 688.5,797.9 688.7,817.9 688.9,754.6 689.1,817.6 689.4,821.9 689.6,831.5 689.8,769.3 690,795.9 690.2,793.4 690.4,778.9 690.6,797.3 690.8,786 691,695.2 691.3,794.8 691.5,784.3 691.7,795.6 691.9,796.8 692.1,772.6 692.3,788.5 692.5,794.2 692.7,835.2 693,816.3 693.2,812.5 693.4,799.8 693.6,792.4 693.8,796.5 694,802.5 694.2,792.9 694.4,792.7 694.6,782.5 694.9,833 695.1,780.2 695.3,762.5 695.5,777.9 695.7,807.6 695.9,816.5 696.1,800.6 696.3,774.1 696.5,794.3 696.8,837.5 697,861.9 697.2,795.7 697.4,754.7 697.6,829.7 697.8,683.3 698,745.2 698.2,794 698.5,783.4 698.7,830.2 698.9,798 699.1,812.6 699.3,784.5 699.5,792.9 699.7,779.2 699.9,823.5 700.1,708.3 700.4,813.9 700.6,809.4 700.8,814 701,824.3 701.2,811.6 701.4,831.4 701.6,781.9 701.8,809.9 702.1,824.7 702.3,838.2 702.5,831.3 702.7,793.8 702.9,807.4 703.1,768 703.3,790.6 703.5,815.6 703.7,783.9 704,798.5 704.2,788.3 704.4,859.2 704.6,764.3 704.8,809.4 705,776.5 705.2,821.4 705.4,794.3 705.6,804.2 705.9,827.2 706.1,811.7 706.3,790.6 706.5,804.8 706.7,804.3 706.9,802.5 707.1,799.3 707.3,795.1 707.6,802.5 707.8,829 708,805.1 708.2,799.4 708.4,770 708.6,820.2 708.8,771.5 709,811.4 709.2,771 709.5,840.2 709.7,806.6 709.9,845.8 710.1,828.8 710.3,809.7 710.5,792.3 710.7,816.1 710.9,796.8 711.2,817 711.4,770.9 711.6,812.5 711.8,764.2 712,767.3 712.2,818.7 712.4,791.5 712.6,840.2 712.8,773.6 713.1,795.3 713.3,766.8 713.5,804.9 713.7,807 713.9,816.2 714.1,798.9 714.3,793.5 714.5,800.2 714.7,795.7 715,787.1 715.2,802.9 715.4,813.6 715.6,820.4 715.8,812.1 716,807.8 716.2,782.1 716.4,784 716.7,815.1 716.9,790 717.1,841.3 717.3,785.5 717.5,831.9 717.7,782.6 717.9,804.6 718.1,796.6 718.3,803.2 718.6,821.1 718.8,798.7 719,800.9 719.2,786.7 719.4,789.2 719.6,777.7 719.8,738.9 720,822.7 720.3,786.2 720.5,823.8 720.7,814.6 720.9,799.7 721.1,837.6 721.3,858.4 721.5,781.8 721.7,812.5 721.9,818 722.2,825.4 722.4,747.2 722.6,809.4 722.8,800.2 723,800 723.2,779.7 723.4,811.6 723.6,769.4 723.8,808.1 724.1,815.6 724.3,828 724.5,836.4 724.7,800 724.9,706.2 725.1,766.9 725.3,810.6 725.5,807.6 725.8,777.8 726,832.8 726.2,785.9 726.4,816.5 726.6,822.4 726.8,793.7 727,841.2 727.2,840 727.4,796.1 727.7,771.4 727.9,785.3 728.1,798.5 728.3,811.3 728.5,802.4 728.7,791.7 728.9,805 729.1,792.1 729.4,782.3 729.6,868.2 729.8,797.5 730,791.2 730.2,805.8 730.4,813 730.6,772.2 730.8,802.4 731,747.6 731.3,811 731.5,806.4 731.7,762.1 731.9,802.7 732.1,829.1 732.3,831.3 732.5,812.6 732.7,807.2 732.9,811.7 733.2,681.7 733.4,801.5 733.6,787.3 733.8,796.6 734,843.2 734.2,791.9 734.4,773.5 734.6,798.1 734.9,838.6 735.1,822.6 735.3,796.3 735.5,820.5 735.7,833.9 735.9,796.6 736.1,785.1 736.3,806.3 736.5,847.8 736.8,813.6 737,770.7 737.2,793.7 737.4,807.4 737.6,806.5 737.8,798.4 738,780.2 738.2,811.2 738.5,817.7 738.7,795.1 738.9,803.3 739.1,828.7 739.3,803.4 739.5,806.9 739.7,808.7 739.9,798.3 740.1,715.9 740.4,769.4 740.6,789.2 740.8,785.2 741,809.5 741.2,801 741.4,813.7 741.6,814.1 741.8,785.3 742,760.1 742.3,787.9 742.5,793.4 742.7,791 742.9,786 743.1,802.5 743.3,802.2 743.5,789.2 743.7,678.3 744,799.5 744.2,832.3 744.4,786.3 744.6,797.2 744.8,815.9 745,816.7 745.2,850.4 745.4,815.6 745.6,805.1 745.9,791.4 746.1,802 746.3,819.6 746.5,808.8 746.7,800.2 746.9,789.9 747.1,795.6 747.3,785 747.6,837.1 747.8,797.1 748,795.5 748.2,818.7 748.4,797.1 748.6,766.8 748.8,823.8 749,825.3 749.2,845.2 749.5,790 749.7,780.3 749.9,786.7 750.1,791.7 750.3,820.9 750.5,804.5 750.7,805.9 750.9,762.8 751.1,817.1 751.4,825 751.6,819.6 751.8,781.7 752,812.6 752.2,786.8 752.4,810.2 752.6,781.2 752.8,829.6 753.1,809 753.3,843.6 753.5,805 753.7,817.5 753.9,706.2 754.1,827.1 754.3,816.6 754.5,779.2 754.7,768.5 755,800.7 755.2,824.2 755.4,824.7 755.6,816.8 755.8,802.3 756,775.5 756.2,783.5 756.4,782.5 756.7,809.9 756.9,786.6 757.1,785.5 757.3,784.6 757.5,800.8 757.7,808.2 757.9,779.6 758.1,771 758.3,804.7 758.6,839.7 758.8,779.9 759,771.7 759.2,767.3 759.4,799.7 759.6,776.4 759.8,822.8 760,841.6 760.2,808.4 760.5,793.7 760.7,828.6 760.9,803.1 761.1,797 761.3,800.8 761.5,795.3 761.7,779.3 761.9,805.3 762.2,809.1 762.4,790.1 762.6,780.3 762.8,808.5 763,774.7 763.2,786.4 763.4,807.5 763.6,801 763.8,815.2 764.1,787.5 764.3,798.5 764.5,763.1 764.7,848.8 764.9,823.2 765.1,810 765.3,790.6 765.5,807.2 765.8,813.8 766,792.5 766.2,808.3 766.4,795.9 766.6,783.6 766.8,782.1 767,829.6 767.2,814.2 767.4,792.1 767.7,803.7 767.9,814.8 768.1,789 768.3,798.7 768.5,752.6 768.7,783.5 768.9,807.3 769.1,781.1 769.3,796.9 769.6,795.3 769.8,781.1 770,830.3 770.2,831.1 770.4,821.6 770.6,784.2 770.8,798 771,810.6 771.3,819.6 771.5,832 771.7,794.8 771.9,800.7 772.1,793.2 772.3,783.3 772.5,795 772.7,775.1 772.9,807.9 773.2,772.3 773.4,792.4 773.6,810.3 773.8,797 774,760 774.2,823.6 774.4,811.6 774.6,808.2 774.9,797.2 775.1,799.2 775.3,765.7 775.5,804.2 775.7,788.1 775.9,809.8 776.1,821 776.3,803.2 776.5,805 776.8,787.9 777,776 777.2,675.4 777.4,780.3 777.6,819.3 777.8,768.1 778,827.7 778.2,810 778.4,795.9 778.7,807.5 778.9,821.5 779.1,787.6 779.3,764.3 779.5,782.8 779.7,827.6 779.9,781.5 780.1,785.4 780.4,837.6 780.6,781.4 780.8,804.5 781,801.7 781.2,779.4 781.4,820 781.6,838.4 781.8,804.8 782,805 782.3,806 782.5,846 782.7,801.3 782.9,795.9 783.1,778.1 783.3,786.4 783.5,812 783.7,806.1 784,818.4 784.2,807.8 784.4,812.4 784.6,781 784.8,794.1 785,790.1 785.2,808 785.4,804 785.6,791.7 785.9,846.3 786.1,791.5 786.3,785 786.5,811.8 786.7,801.2 786.9,816.9 787.1,708.3 787.3,792.7 787.5,780.8 787.8,804.9 788,817.1 788.2,802.6 788.4,775.2 788.6,770.7 788.8,786.3 789,800.9 789.2,793.1 789.5,780.5 789.7,698.2 789.9,784.1 790.1,815.6 790.3,795.5 790.5,786.8 790.7,838.4 790.9,798.5 791.1,776.4 791.4,807.6 791.6,806.6 791.8,817.3 792,796.7 792.2,786.3 792.4,802.2 792.6,835.4 792.8,855.6 793.1,788.5 793.3,815.9 793.5,804.4 793.7,799.6 793.9,814.4 794.1,795.2 794.3,798.6 794.5,821.5 794.7,850.9 795,817.3 795.2,774.3 795.4,699.2 795.6,806.2 795.8,820 796,773.7 796.2,787.4 796.4,777.4 796.6,766.2 796.9,792.2 797.1,708.4 797.3,757.5 797.5,797.7 797.7,818.6 797.9,780.6 798.1,804.4 798.3,771.2 798.6,806.7 798.8,792.2 799,814.8 799.2,784.1 799.4,815.6 799.6,776.3 799.8,790.2 800,834.3 800.2,825.9 800.5,795.9 800.7,801.4 800.9,763.4 801.1,816.7 801.3,804.2 801.5,800.4 801.7,735.9 801.9,768.4 802.2,801.9 802.4,829.8 802.6,704.5 802.8,792.4 803,827.9 803.2,812.7 803.4,806 803.6,797.9 803.8,785.4 804.1,804.7 804.3,810 804.5,753.8 804.7,803.4 804.9,798.9 805.1,791.6 805.3,840.4 805.5,816.7 805.7,791.5 806,697 806.2,783.5 806.4,842.6 806.6,836.3 806.8,789.8 807,739.5 807.2,799.2 807.4,763.7 807.7,820 807.9,777.9 808.1,798.3 808.3,811.3 808.5,839.1 808.7,822.2 808.9,772.1 809.1,798.7 809.3,785.4 809.6,789.5 809.8,803.3 810,784.7 810.2,794.4 810.4,803.8 810.6,879.5 810.8,747.2 811,795 811.3,803.8 811.5,779.7 811.7,806.1 811.9,817.2 812.1,835 812.3,786.2 812.5,753.9 812.7,801 812.9,865.4 813.2,783 813.4,812.8 813.6,787.4 813.8,793.6 814,787.1 814.2,798.1 814.4,805.4 814.6,688 814.8,805.7 815.1,778.5 815.3,811.5 815.5,797.6 815.7,814.2 815.9,783.1 816.1,812.9 816.3,815.6 816.5,782.8 816.8,794.1 817,802 817.2,818.8 817.4,740.5 817.6,793 817.8,788.1 818,813.6 818.2,791.2 818.4,728.6 818.7,799.3 818.9,817.4 819.1,787.2 819.3,808.5 819.5,757.9 819.7,797.7 819.9,794.6 820.1,842.6 820.4,826.3 820.6,781.7 820.8,813.2 821,780 821.2,813.9 821.4,789.4 821.6,815.6 821.8,711.5 822,788.3 822.3,784 822.5,814.5 822.7,824.8 822.9,790.4 823.1,796.6 823.3,693.3 823.5,839.9 823.7,786.9 823.9,803.9 824.2,820.6 824.4,809.2 824.6,783.6 824.8,797.6 825,797.9 825.2,799.1 825.4,807.9 825.6,777.8 825.9,800.1 826.1,827.5 826.3,827.4 826.5,810.9 826.7,807.7 826.9,786.9 827.1,849.1 827.3,786.3 827.5,778.6 827.8,809.4 828,777.2 828.2,813.2 828.4,803.6 828.6,809.8 828.8,770.6 829,778.9 829.2,779.9 829.5,821.7 829.7,798.6 829.9,821.7 830.1,767.4 830.3,789.9 830.5,774.7 830.7,803.1 830.9,796 831.1,744.4 831.4,820.4 831.6,769.2 831.8,793.1 832,773.2 832.2,784.5 832.4,824.2 832.6,812 832.8,787.4 833,784.2 833.3,787.4 833.5,800.2 833.7,784.1 833.9,818.9 834.1,805 834.3,756.8 834.5,781.6 834.7,793.3 835,787 835.2,805.3 835.4,848.4 835.6,815.3 835.8,797.5 836,799.4 836.2,783 836.4,779.2 836.6,839.8 836.9,785.5 837.1,833.2 837.3,787.8 837.5,840.4 837.7,755.4 837.9,843.6 838.1,791.1 838.3,763.7 838.6,803.6 838.8,787.1 839,779.3 839.2,851.6 839.4,837.1 839.6,800.1 839.8,821.2 840,808.2 840.2,748.5 840.5,764.9 840.7,788 840.9,813.1 841.1,789.8 841.3,793.4 841.5,803.2 841.7,690.8 841.9,836.7 842.1,769.7 842.4,808.1 842.6,774.9 842.8,802.6 843,811 843.2,812.8 843.4,795 843.6,756.2 843.8,741.7 844.1,769.3 844.3,800.7 844.5,823.3 844.7,798 844.9,788.8 845.1,832.6 845.3,799.7 845.5,774.9 845.7,808.7 846,830.8 846.2,785.2 846.4,768.6 846.6,803.7 846.8,796.5 847,777.1 847.2,789.2 847.4,813 847.7,806.2 847.9,801.2 848.1,799.5 848.3,776.9 848.5,819.4 848.7,791.9 848.9,802.5 849.1,839.7 849.3,785.3 849.6,796.8 849.8,824.5 850,834 850.2,781.2 850.4,766.9 850.6,797.8 850.8,803.9 851,855 851.2,812.3 851.5,809.7 851.7,781.1 851.9,821.7 852.1,777.2 852.3,793.8 852.5,774.1 852.7,835.6 852.9,774.3 853.2,801.4 853.4,787.2 853.6,815.4 853.8,819.5 854,777.1 854.2,790.2 854.4,788.8 854.6,786.2 854.8,787.6 855.1,830.2 855.3,805.5 855.5,806.1 855.7,760.3 855.9,773.4 856.1,816.6 856.3,828.4 856.5,785.4 856.8,788.2 857,772.5 857.2,821.8 857.4,766.8 857.6,795.5 857.8,774.1 858,759.2 858.2,807.4 858.4,814.7 858.7,772.6 858.9,861.9 859.1,778 859.3,785.8 859.5,812.8 859.7,784.2 859.9,801.7 860.1,824.6 860.3,805 860.6,787.9 860.8,798.5 861,814.4 861.2,786.1 861.4,785.1 861.6,775.7 861.8,795.3 862,770.3 862.3,813.6 862.5,808.2 862.7,827.7 862.9,847 863.1,798.7 863.3,800.5 863.5,825 863.7,780.2 863.9,833.2 864.2,818.5 864.4,858.1 864.6,779.8 864.8,784.7 865,804.1 865.2,793.9 865.4,824.6 865.6,821.5 865.9,819.5 866.1,794.2 866.3,808 866.5,797 866.7,821.4 866.9,826.9 867.1,792.1 867.3,729.8 867.5,791.8 867.8,812.8 868,795.1 868.2,830.9 868.4,821.9 868.6,794 868.8,819 869,824.4 869.2,818.9 869.4,676.9 869.7,808.7 869.9,794.3 870.1,803.5 870.3,752.6 870.5,802.2 870.7,779.4 870.9,781.5 871.1,791.5 871.4,799.6 871.6,829.7 871.8,788.7 872,845.8 872.2,768.8 872.4,759.5 872.6,785.4 872.8,781.4 873,808.7 873.3,802 873.5,789.9 873.7,777.2 873.9,819.6 874.1,827.5 874.3,801.6 874.5,801.6 874.7,790.3 875,759.3 875.2,810.4 875.4,762.7 875.6,788.3 875.8,798.9 876,832.4 876.2,770.2 876.4,764.6 876.6,694.9 876.9,789.4 877.1,807.8 877.3,837.3 877.5,815.2 877.7,828 877.9,826.6 878.1,816.3 878.3,811.2 878.5,789.8 878.8,774.3 879,804.2 879.2,784.3 879.4,806.9 879.6,806.1 879.8,793.4 880,812.4 880.2,795.3 880.5,809.7 880.7,817.2 880.9,813.3 881.1,770.6 881.3,795.5 881.5,809.2 881.7,797 881.9,815.3 882.1,809.6 882.4,807.5 882.6,833.2 882.8,803.8 883,792.1 883.2,795.3 883.4,803.5 883.6,780 883.8,816.6 884.1,779.1 884.3,781.7 884.5,796.7 884.7,771.2 884.9,815.9 885.1,795.8 885.3,803.4 885.5,815.5 885.7,806.8 886,792.8 886.2,792.8 886.4,788.4 886.6,813.4 886.8,802.5 887,802.8 887.2,813.3 887.4,800.9 887.6,841.6 887.9,823 888.1,810.3 888.3,807.9 888.5,788.3 888.7,811.4 888.9,768.4 889.1,828.9 889.3,765.5 889.6,818.9 889.8,822.7 890,815.1 890.2,812.7 890.4,806.5 890.6,844.6 890.8,792.1 891,745.2 891.2,821.1 891.5,777.2 891.7,796.1 891.9,847.2 892.1,784.6 892.3,684.7 892.5,763.6 892.7,760.3 892.9,777.6 893.2,809.9 893.4,786.8 893.6,809.4 893.8,769 894,793.4 894.2,786.4 894.4,821 894.6,829 894.8,796.1 895.1,771.8 895.3,797.6 895.5,828.7 895.7,768.2 895.9,810.5 896.1,786.2 896.3,816.3 896.5,814.3 896.7,795.2 897,851 897.2,819.8 897.4,808.9 897.6,808.7 897.8,832 898,780.1 898.2,694.2 898.4,804.5 898.7,837.4 898.9,803.2 899.1,789.2 899.3,785.4 899.5,790.2 899.7,752 899.9,806.2 900.1,798.5 900.3,789.2 900.6,806.2 900.8,806.1 901,794.6 901.2,806.8 901.4,797.1 901.6,854.2 901.8,819.5 902,773.6 902.3,789.3 902.5,874.6 902.7,820.1 902.9,811.3 903.1,813.4 903.3,820.8 903.5,768.7 903.7,808.4 903.9,820.2 904.2,773.5 904.4,808.9 904.6,796.4 904.8,827.6 905,823.3 905.2,821.5 905.4,785 905.6,789 905.8,807 906.1,808.2 906.3,796.5 906.5,818.9 906.7,807.2 906.9,784.9 907.1,819.5 907.3,790.5 907.5,804.6 907.8,799.2 908,805.5 908.2,786.7 908.4,786.4 908.6,792.4 908.8,833.3 909,800.4 909.2,780.6 909.4,821.7 909.7,831.5 909.9,806.9 910.1,787.6 910.3,826.7 910.5,796.5 910.7,808.1 910.9,754 911.1,795.1 911.4,694.2 911.6,813.4 911.8,799.6 912,773.8 912.2,791.5 912.4,789.7 912.6,677.2 912.8,812.4 913,827.5 913.3,785.3 913.5,783.8 913.7,794.5 913.9,737.7 914.1,810.4 914.3,809.4 914.5,779.8 914.7,809.9 914.9,783.2 915.2,771.2 915.4,844.2 915.6,818.8 915.8,770.4 916,783.7 916.2,773 916.4,770.6 916.6,807.7 916.9,755.5 917.1,776 917.3,782.6 917.5,795.7 917.7,808.5 917.9,816.1 918.1,828.8 918.3,817.6 918.5,816.3 918.8,798.2 919,814.9 919.2,834.9 919.4,798.6 919.6,840.3 919.8,808.3 920,691.8 920.2,830.7 920.5,824.6 920.7,803 920.9,776.8 921.1,804.3 921.3,810.4 921.5,797 921.7,834.9 921.9,719.5 922.1,706 922.4,786.9 922.6,790.8 922.8,799.4 923,793.4 923.2,835.1 923.4,822.5 923.6,809.4 923.8,783.6 924,798.3 924.3,801.3 924.5,823.2 924.7,799.5 924.9,794.6 925.1,790.9 925.3,691.4 925.5,763.1 925.7,823.6 926,784.6 926.2,825.8 926.4,825.6 926.6,787.9 926.8,809 927,815.7 927.2,800.6 927.4,753 927.6,812.7 927.9,675.5 928.1,777.8 928.3,811.7 928.5,755.6 928.7,825.3 928.9,805.1 929.1,782.4 929.3,805.3 929.6,810.3 929.8,827.7 930,803.5 930.2,784.7 930.4,806 930.6,852.1 930.8,775.7 931,784.9 931.2,790 931.5,805.2 931.7,817.3 931.9,779.4 932.1,799.9 932.3,808.2 932.5,804.6 932.7,793.8 932.9,785.2 933.1,801.6 933.4,852.1 933.6,822.6 933.8,806.5 934,805.2 934.2,795.2 934.4,801.7 934.6,811.4 934.8,761.4 935.1,789.5 935.3,803.2 935.5,840.5 935.7,806 935.9,676 936.1,794.9 936.3,789.7 936.5,718 936.7,804.9 937,793.9 937.2,787.1 937.4,679.5 937.6,826.3 937.8,785.3 938,810.3 938.2,789.5 938.4,784 938.7,766.6 938.9,810.6 939.1,782 939.3,846.7 939.5,800.1 939.7,842.5 939.9,814.6 940.1,848.8 940.3,828.5 940.6,801.6 940.8,758.5 941,823 941.2,816.3 941.4,811.2 941.6,791.7 941.8,809.8 942,766.3 942.2,833.4 942.5,790.6 942.7,796.1 942.9,789.8 943.1,814 943.3,778.9 943.5,791 943.7,760.8 943.9,808.3 944.2,785.7 944.4,770.9 944.6,805.8 944.8,673.2 945,810.7 945.2,806.5 945.4,786.2 945.6,797.5 945.8,821 946.1,755 946.3,814.6 946.5,779.4 946.7,800.2 946.9,788.3 947.1,790.2 947.3,785.9 947.5,786 947.8,768.6 948,813.7 948.2,825.5 948.4,832.1 948.6,839.3 948.8,791.5 949,833.8 949.2,831.2 949.4,796.5 949.7,806.5 949.9,799.4 950.1,851.7 950.3,825.3 950.5,830.2 950.7,801.9 950.9,802.2 951.1,794 951.3,778.5 951.6,736.3 951.8,811.4 952,788.3 952.2,784.4 952.4,724.9 952.6,820.1 952.8,785.1 953,784.5 953.3,790.9 953.5,859 953.7,843.3 953.9,820.9 954.1,778.6 954.3,778.9 954.5,820.4 954.7,796.5 954.9,776.8 955.2,776.2 955.4,818.7 955.6,850.2 955.8,802.5 956,822 956.2,768.3 956.4,834.5 956.6,793.4 956.9,781.8 957.1,792.5 957.3,787 957.5,843.5 957.7,800 957.9,795.3 958.1,705.4 958.3,825.9 958.5,805.4 958.8,816.4 959,774.5 959.2,813.3 959.4,843.4 959.6,804.2 959.8,804.8 960,768.7 960.2,773.2 960.4,793.6 960.7,807.1 960.9,809.1 961.1,835.9 961.3,799.3 961.5,794.8 961.7,804 961.9,818.2 962.1,778.2 962.4,786 962.6,797.6 962.8,766.1 963,844.7 963.2,766 963.4,803.9 963.6,797.6 963.8,811.7 964,766.6 964.3,809.6 964.5,792.7 964.7,797.9 964.9,814.5 965.1,758.6 965.3,779.6 965.5,804.8 965.7,784.3 966,793.7 966.2,808.5 966.4,765.6 966.6,784.5 966.8,788.6 967,743.5 967.2,787.4 967.4,785.6 967.6,795.3 967.9,796.2 968.1,797.6 968.3,828.4 968.5,859.2 968.7,776.7 968.9,770.8 969.1,796 969.3,814.9 969.5,848.9 969.8,815 970,819.2 970.2,826.3 970.4,838.5 970.6,764.4 970.8,799.2 971,853.8 971.2,815.5 971.5,832.3 971.7,784 971.9,812.6 972.1,814.6 972.3,788.4 972.5,770 972.7,815.1 972.9,801.6 973.1,819.1 973.4,768.6 973.6,796.1 973.8,798.4 974,816.1 974.2,772.8 974.4,850.1 974.6,778.6 974.8,777.7 975.1,822.4 975.3,804.5 975.5,796 975.7,821.2 975.9,802.7 976.1,794.8 976.3,831.9 976.5,806.5 976.7,794.8 977,809.6 977.2,811.9 977.4,827.3 977.6,800.6 977.8,743.9 978,802.8 978.2,762.6 978.4,738 978.6,808.7 978.9,768 979.1,787.6 979.3,780 979.5,776.3 979.7,810.4 979.9,818.9 980.1,769.4 980.3,836.6 980.6,810.6 980.8,770.4 981,813.1 981.2,786.4 981.4,815.7 981.6,755.6 981.8,801.9 982,785.1 982.2,825.6 982.5,786.5 982.7,739.3 982.9,809 983.1,787.4 983.3,804.4 983.5,792.8 983.7,809.9 983.9,809 984.2,823.6 984.4,792 984.6,804.3 984.8,813.6 985,769.2 985.2,799.9 985.4,803 985.6,814 985.8,718.5 986.1,797.4 986.3,815.9 986.5,805 986.7,789.3 986.9,798.3 987.1,778.2 987.3,780.8 987.5,758.7 987.7,812.6 988,801.1 988.2,804.8 988.4,804.8 988.6,798.9 988.8,806.8 989,783.2 989.2,823.4 989.4,799.1 989.7,788.3 989.9,781.2 990.1,800.4 990.3,794.2 990.5,799 990.7,790.7 990.9,803.3 991.1,786.5 991.3,774.6 991.6,760.7 991.8,806.3 992,784.1 992.2,794.8 992.4,791.9 992.6,808.3 992.8,797.7 993,789.3 993.3,799.3 993.5,807.4 993.7,776.7 993.9,797.4 994.1,804.1 994.3,799.4 994.5,803.8 994.7,813.9 994.9,790 995.2,804.2 995.4,823.3 995.6,780.9 995.8,806.4 996,827.1 996.2,801.5 996.4,813.4 996.6,796.7 996.8,822.5 997.1,808.1 997.3,831.1 997.5,826.3 997.7,798.8 997.9,811.2 998.1,772.1 998.3,814.4 998.5,797.5 998.8,824.5 999,772.7 999.2,799.9 999.4,841.2 999.6,796.2 999.8,809.8 1000,760.2 1000.2,780.1 1000.4,815.3 1000.7,787.2 1000.9,791.5 1001.1,807.1 1001.3,806.7 1001.5,805.3 1001.7,818.7 1001.9,795.1 1002.1,809.8 1002.4,802.2 1002.6,807.2 1002.8,814 1003,764.2 1003.2,794.9 1003.4,787.8 1003.6,749.8 1003.8,801.1 1004,813.6 1004.3,832.5 1004.5,827.1 1004.7,788.6 1004.9,826.4 1005.1,838.8 1005.3,799.7 1005.5,801.9 1005.7,768.8 1005.9,738.1 1006.2,781.2 1006.4,844 1006.6,776.4 1006.8,795.1 1007,818.2 1007.2,777.3 1007.4,797.2 1007.6,672.5 1007.9,743.4 1008.1,778.9 1008.3,713.3 1008.5,737.3 1008.7,816.8 1008.9,816.1 1009.1,785.6 1009.3,788.8 1009.5,795 1009.8,804.6 1010,811.2 1010.2,793.8 1010.4,784.7 1010.6,785.8 1010.8,769.7 1011,767.8 1011.2,807.1 1011.5,752.6 1011.7,771.9 1011.9,794.5 1012.1,793.2 1012.3,789.8 1012.5,809.8 1012.7,812.7 1012.9,799.2 1013.1,807 1013.4,853.6 1013.6,788.3 1013.8,835.8 1014,793.8 1014.2,806.7 1014.4,812 1014.6,785.8 1014.8,815.5 1015,818.3 1015.3,794.6 1015.5,796.1 1015.7,813.3 1015.9,814.6 1016.1,814 1016.3,794 1016.5,792.1 1016.7,784.9 1017,802.3 1017.2,817.3 1017.4,786.8 1017.6,750.8 1017.8,770 1018,819.5 1018.2,785.9 1018.4,802.6 1018.6,802.2 1018.9,805.2 1019.1,815.7 1019.3,828.7 1019.5,791.9 1019.7,819.3 1019.9,810.5 1020.1,807.5 1020.3,798.4 1020.6,763.6 1020.8,803 1021,808.2 1021.2,795.4 1021.4,668.5 1021.6,772.6 1021.8,789.6 1022,810.9 1022.2,789.5 1022.5,782.8 1022.7,810.7 1022.9,810.4 1023.1,842.4 1023.3,772 1023.5,797.3 1023.7,774.6 1023.9,828.8 1024.1,837.9 1024.4,794.2 1024.6,815.8 1024.8,796.8 1025,814.6 1025.2,784.6 1025.4,840.5 1025.6,803 1025.8,790.8 1026.1,808.3 1026.3,807.1 1026.5,776.5 1026.7,801.6 1026.9,795.7 1027.1,790.4 1027.3,797.8 1027.5,790.1 1027.7,764 1028,756.3 1028.2,826.1 1028.4,841.1 1028.6,816.1 1028.8,844.1 1029,690.7 1029.2,819.4 1029.4,817.9 1029.7,796.5 1029.9,791.3 1030.1,759 1030.3,843.8 1030.5,811.3 1030.7,795.7 1030.9,779.4 1031.1,804.8 1031.3,729.7 1031.6,850.4 1031.8,784.1 1032,838.9 1032.2,770.7 1032.4,765.8 1032.6,764.3 1032.8,791.3 1033,783.5 1033.2,825.2 1033.5,792 1033.7,840.9 1033.9,780.5 1034.1,810.2 1034.3,804.4 1034.5,769.2 1034.7,765.8 1034.9,797.9 1035.2,818.9 1035.4,807.5 1035.6,824.3 1035.8,777.5 1036,777 1036.2,797.2 1036.4,794.6 1036.6,741.8 1036.8,770.8 1037.1,801.1 1037.3,761.6 1037.5,811 1037.7,791.3 1037.9,783.7 1038.1,785.2 1038.3,802.3 1038.5,779.8 1038.8,792.8 1039,799.7 1039.2,819.7 1039.4,776.1 1039.6,799.6 1039.8,791.2 1040,765 1040.2,793.7 1040.4,807.1 1040.7,751.9 1040.9,766 1041.1,757.2 1041.3,794.8 1041.5,787.5 1041.7,816.2 1041.9,788.9 1042.1,802 1042.3,808.1 1042.6,813.1 1042.8,850.2 1043,791.2 1043.2,799.8 1043.4,815.1 1043.6,792.5 1043.8,797.6 1044,802.1 1044.3,773 1044.5,805.2 1044.7,825.3 1044.9,797.5 1045.1,818.9 1045.3,784.7 1045.5,789.6 1045.7,806.1 1045.9,790.9 1046.2,807.8 1046.4,808.9 1046.6,833.6 1046.8,839.4 1047,808 1047.2,767.5 1047.4,822.7 1047.6,801.9 1047.9,812.7 1048.1,723.6 1048.3,815.8 1048.5,802.4 1048.7,793 1048.9,809.9 1049.1,803.3 1049.3,804.4 1049.5,790.7 1049.8,788.8 1050,786.5 1050.2,792.4 1050.4,818.9 1050.6,713.6 1050.8,791 1051,799.6 1051.2,784.4 1051.4,823.9 1051.7,816.9 1051.9,816.1 1052.1,795 1052.3,812.3 1052.5,817 1052.7,794.2 1052.9,713.8 1053.1,820.5 1053.4,792.9 1053.6,802.6 1053.8,791.6 1054,790.2 1054.2,811.6 1054.4,806 1054.6,803 1054.8,788.2 1055,801.4 1055.3,781.5 1055.5,810.8 1055.7,800.7 1055.9,776.9 1056.1,826.3 1056.3,823.8 1056.5,788 1056.7,786.9 1057,782.8 1057.2,785.3 1057.4,781.8 1057.6,809.7 1057.8,839.8 1058,790.5 1058.2,822.7 1058.4,823.8 1058.6,811.4 1058.9,782.7 1059.1,786.9 1059.3,677.2 1059.5,811 1059.7,810.8 1059.9,799.4 1060.1,797.2 1060.3,800.7 1060.5,817.6 1060.8,780.9 1061,781.9 1061.2,819.8 1061.4,803.9 1061.6,781.4 1061.8,794.4 1062,792.3 1062.2,721 1062.5,774.9 1062.7,820.4 1062.9,784.1 1063.1,768.7 1063.3,814.3 1063.5,776.4 1063.7,785.6 1063.9,812.2 1064.1,797.7 1064.4,774.9 1064.6,808.6 1064.8,808.6 1065,852.4 1065.2,830.7 1065.4,807.5 1065.6,803 1065.8,789.9 1066.1,784.8 1066.3,765 1066.5,787.8 1066.7,747.6 1066.9,786.7 1067.1,775.9 1067.3,814.9 1067.5,792.1 1067.7,782.9 1068,783 1068.2,808.4 1068.4,801 1068.6,823 1068.8,794.1 1069,819.3 1069.2,782.7 1069.4,795.7 1069.6,787.3 1069.9,789.5 1070.1,792.1 1070.3,785.4 1070.5,798.9 1070.7,829.6 1070.9,777.1 1071.1,766.3 1071.3,783.6 1071.6,790.3 1071.8,793.3 1072,797.3 1072.2,795.2 1072.4,796.5 1072.6,799.8 1072.8,802.5 1073,794.8 1073.2,789.3 1073.5,808 1073.7,795.9 1073.9,824.6 1074.1,815.1 1074.3,706.4 1074.5,805.2 1074.7,793.5 1074.9,856.3 1075.2,824.8 1075.4,785.6 1075.6,718.6 1075.8,807.8 1076,809.5 1076.2,772 1076.4,797.2 1076.6,762.5 1076.8,683.8 1077.1,804.9 1077.3,793 1077.5,775.8 1077.7,815.9 1077.9,809 1078.1,800.9 1078.3,806 1078.5,804.9 1078.7,769.5 1079,797.5 1079.2,805.9 1079.4,807.2 1079.6,824.5 1079.8,785.7 1080,811.5 1080.2,736 1080.4,791.9 1080.7,810.7 1080.9,822.1 1081.1,808.7 1081.3,793 1081.5,810.9 1081.7,788.9 1081.9,787.8 1082.1,790.1 1082.3,791 1082.6,800 1082.8,812.1 1083,822.6 1083.2,829.4 1083.4,808.4 1083.6,788.2 1083.8,800.5 1084,819 1084.3,784 1084.5,817.9 1084.7,821.4 1084.9,818.1 1085.1,812.4 1085.3,801.9 1085.5,822.8 1085.7,829.5 1085.9,792.7 1086.2,761 1086.4,792 1086.6,787 1086.8,799.6 1087,768.6 1087.2,804.2 1087.4,801.6 1087.6,777.1 1087.8,793.4 1088.1,803.4 1088.3,800.8 1088.5,821.6 1088.7,788.6 1088.9,804.5 1089.1,792.6 1089.3,776.7 1089.5,786.6 1089.8,740.4 1090,693.2 1090.2,798.1 1090.4,770.2 1090.6,834.5 1090.8,808.6 1091,815.1 1091.2,792.9 1091.4,803.8 1091.7,798.7 1091.9,765.9 1092.1,795.5 1092.3,785.1 1092.5,807.6 1092.7,812.6 1092.9,818.5 1093.1,774.7 1093.4,820.1 1093.6,808.8 1093.8,759.1 1094,793.4 1094.2,799.6 1094.4,804.3 1094.6,820.8 1094.8,793.5 1095,781.9 1095.3,816.2 1095.5,808.9 1095.7,770.6 1095.9,806.9 1096.1,786.8 1096.3,759.3 1096.5,815.6 1096.7,747.3 1096.9,816.5 1097.2,840.3 1097.4,776.7 1097.6,789.4 1097.8,805.3 1098,792.1 1098.2,810.8 1098.4,826.1 1098.6,811.7 1098.9,813.8 1099.1,843.9 1099.3,781.2 1099.5,815.6 1099.7,820 1099.9,797.1 1100.1,792.1 1100.3,770.6 1100.5,795.5 1100.8,825.1 1101,816.6 1101.2,783.4 1101.4,812.3 1101.6,791.9 1101.8,766.9 1102,826.9 1102.2,827.6 1102.5,804.2 1102.7,801.1 1102.9,784.6 1103.1,829.6 1103.3,789.7 1103.5,805 1103.7,831.1 1103.9,805.1 1104.1,791.9 1104.4,768.2 1104.6,768.9 1104.8,787.8 1105,824.6 1105.2,781.3 1105.4,798.9 1105.6,772.1 1105.8,824.9 1106,821.3 1106.3,831.4 1106.5,768.4 1106.7,672.1 1106.9,833.6 1107.1,814.1 1107.3,785.4 1107.5,789 1107.7,792.8 1108,824.8 1108.2,803.8 1108.4,836.7 1108.6,828.1 1108.8,753.5 1109,784.5 1109.2,804.9 1109.4,833.8 1109.6,818.2 1109.9,807.7 1110.1,771.7 1110.3,812.4 1110.5,827.4 1110.7,822.3 1110.9,816.5 1111.1,810.7 1111.3,805.4 1111.6,855.2 1111.8,811.5 1112,839.8 1112.2,782.1 1112.4,815 1112.6,814.8 1112.8,811.3 1113,795.1 1113.2,798.4 1113.5,792.3 1113.7,807.1 1113.9,799.8 1114.1,820.7 1114.3,820.4 1114.5,812.1 1114.7,809.2 1114.9,832.3 1115.1,823.2 1115.4,778.3 1115.6,779.6 1115.8,771.2 1116,779.9 1116.2,784.7 1116.4,769.3 1116.6,789.1 1116.8,806.9 1117.1,806.2 1117.3,794.9 1117.5,854.5 1117.7,803.4 1117.9,806.9 1118.1,801.6 1118.3,815.3 1118.5,759.5 1118.7,791.2 1119,837.3 1119.2,784.5 1119.4,815.7 1119.6,804.7 1119.8,800.3 1120,784.1 1120.2,801.2 1120.4,795.2 1120.7,802.9 1120.9,757.7 1121.1,801.2 1121.3,816.8 1121.5,824.4 1121.7,800.1 1121.9,808.6 1122.1,797.1 1122.3,792.3 1122.6,821.7 1122.8,799.1 1123,813.7 1123.2,813.2 1123.4,817.8 1123.6,804.8 1123.8,686.2 1124,813.3 1124.2,806.9 1124.5,824.3 1124.7,776.2 1124.9,788.8 1125.1,807.4 1125.3,794.9 1125.5,817.7 1125.7,798.6 1125.9,828.4 1126.2,801.6 1126.4,798.3 1126.6,807.2 1126.8,738 1127,815.3 1127.2,798.2 1127.4,790.3 1127.6,837.5 1127.8,694.8 1128.1,770 1128.3,786 1128.5,788.5 1128.7,813.7 1128.9,799.1 1129.1,810.3 1129.3,762.9 1129.5,793.6 1129.8,814.4 1130,784.7 1130.2,769.1 1130.4,811 1130.6,797.3 1130.8,754.7 1131,799.7 1131.2,793.9 1131.4,743.1 1131.7,800.6 1131.9,822.1 1132.1,817.8 1132.3,797.9 1132.5,747.8 1132.7,816.5 1132.9,837.9 1133.1,790 1133.3,804.4 1133.6,724.2 1133.8,816.8 1134,780 1134.2,803.6 1134.4,824.7 1134.6,818.9 1134.8,808.9 1135,759.1 1135.3,810.1 1135.5,779.5 1135.7,784.9 1135.9,782.2 1136.1,782.5 1136.3,797.7 1136.5,793.7 1136.7,832.5 1136.9,786.7 1137.2,789 1137.4,796.2 1137.6,796.3 1137.8,820.4 1138,809.2 1138.2,829.5 1138.4,809.4 1138.6,805.3 1138.9,812.4 1139.1,779.2 1139.3,740.1 1139.5,794.4 1139.7,796.8 1139.9,803.8 1140.1,790.3 1140.3,793.3 1140.5,807.5 1140.8,872.3 1141,803.1 1141.2,789.1 1141.4,819.5 1141.6,817.3 1141.8,797.3 1142,758 1142.2,823.7 1142.4,822.3 1142.7,814.5 1142.9,808.5 1143.1,799.2 1143.3,781.3 1143.5,803.5 1143.7,789.5 1143.9,799.9 1144.1,810.9 1144.4,809.2 1144.6,791.3 1144.8,797 1145,775.9 1145.2,796.6 1145.4,802.4 1145.6,821.2 1145.8,814.2 1146,793.5 1146.3,794.4 1146.5,769.8 1146.7,811.5 1146.9,788.2 1147.1,801.4 1147.3,838 1147.5,821.2 1147.7,795.3 1148,806.6 1148.2,812.2 1148.4,779.7 1148.6,804 1148.8,794.7 1149,785.9 1149.2,808.3 1149.4,788.1 1149.6,818.2 1149.9,823.6 1150.1,682 1150.3,776.1 1150.5,786.6 1150.7,813.8 1150.9,806.2 1151.1,817.1 1151.3,817.1 1151.5,797.6 1151.8,808.6 1152,778.8 1152.2,828.7 1152.4,809.6 1152.6,822.4 1152.8,824 1153,765.8 1153.2,771.3 1153.5,792.5 1153.7,790.5 1153.9,789.1 1154.1,799.5 1154.3,857.5 1154.5,841.7 1154.7,736.8 1154.9,847.6 1155.1,774.5 1155.4,785.4 1155.6,794.8 1155.8,793.7 1156,787.6 1156.2,811.7 1156.4,766.7 1156.6,805.4 1156.8,817.6 1157.1,766.5 1157.3,798.1 1157.5,794.5 1157.7,778.5 1157.9,760 1158.1,801.3 1158.3,798.7 1158.5,826.4 1158.7,800.1 1159,769.6 1159.2,814.8 1159.4,817.5 1159.6,832.1 1159.8,824.4 1160,851.3 1160.2,800.4 1160.4,795.3 1160.6,838.1 1160.9,792.7 1161.1,776.6 1161.3,784.9 1161.5,814.7 1161.7,785.3 1161.9,810.1 1162.1,725.2 1162.3,826.8 1162.6,828.3 1162.8,806.9 1163,789.5 1163.2,834.1 1163.4,838.1 1163.6,778.9 1163.8,818.4 1164,759.3 1164.2,793.4 1164.5,827.2 1164.7,783.3 1164.9,781.6 1165.1,832.5 1165.3,805.5 1165.5,775.1 1165.7,829.2 1165.9,792.7 1166.2,794.4 1166.4,764.3 1166.6,776.1 1166.8,808.1 1167,827.4 1167.2,807.2 1167.4,798.9 1167.6,801.2 1167.8,808.9 1168.1,818.5 1168.3,777 1168.5,807.9 1168.7,814.7 1168.9,796.8 1169.1,798.1 1169.3,801 1169.5,778.3 1169.7,843.8 1170,795.7 1170.2,781.7 1170.4,762.7 1170.6,797.9 1170.8,788.4 1171,790.8 1171.2,800.2 1171.4,823.6 1171.7,817.4 1171.9,800.2 1172.1,806.1 1172.3,806.2 1172.5,689 1172.7,832.9 1172.9,763.9 1173.1,820.2 1173.3,771.1 1173.6,748.5 1173.8,785.7 1174,791.7 1174.2,812.3 1174.4,818.7 1174.6,838 1174.8,781.5 1175,799.7 1175.3,830.8 1175.5,785.4 1175.7,809.8 1175.9,785 1176.1,800.2 1176.3,815.1 1176.5,809 1176.7,786.6 1176.9,811.1 1177.2,775.4 1177.4,815.1 1177.6,773.6 1177.8,825.1 1178,820.6 1178.2,789.3 1178.4,772.4 1178.6,806 1178.8,785.6 1179.1,817.7 1179.3,819.2 1179.5,800 1179.7,760.4 1179.9,805.5 1180.1,830.4 1180.3,846.6 1180.5,802.1 1180.8,677.7 1181,807.4 1181.2,797.6 1181.4,815.3 1181.6,777.3 1181.8,791.5 1182,827 1182.2,812.5 1182.4,778.3 1182.7,801.7 1182.9,769.4 1183.1,808.6 1183.3,810.7 1183.5,852.1 1183.7,792.7 1183.9,775.4 1184.1,811.7 1184.4,818.3 1184.6,805.8 1184.8,810.5 1185,803.2 1185.2,792.1 1185.4,831.5 1185.6,808.2 1185.8,766.5 1186,804.6 1186.3,800 1186.5,795.7 1186.7,696.8 1186.9,828.3 1187.1,759.4 1187.3,801.7 1187.5,821.2 1187.7,785.6 1187.9,719.5 1188.2,819.7 1188.4,811.9 1188.6,827.7 1188.8,821.3 1189,785.4 1189.2,800.1 1189.4,807.4 1189.6,777.8 1189.9,789 1190.1,809.8 1190.3,830 1190.5,812.4 1190.7,676.1 1190.9,819.8 1191.1,761.7 1191.3,806.3 1191.5,827.8 1191.8,669.1 1192,775.2 1192.2,813.9 1192.4,793.8 1192.6,788.3 1192.8,812.7 1193,782.4 1193.2,775.5 1193.5,787.3 1193.7,835.4 1193.9,796.4 1194.1,788.3 1194.3,785.3 1194.5,767.6 1194.7,796.5 1194.9,801.1 1195.1,840.5 1195.4,824 1195.6,780.7 1195.8,823.6 1196,806.5 1196.2,833.7 1196.4,807.5 1196.6,825 1196.8,793.2 1197,803.5 1197.3,795.5 1197.5,831.1 1197.7,806 1197.9,786.2 1198.1,861.9 1198.3,813.8 1198.5,804.1 1198.7,786.8 1199,791 1199.2,706.1 1199.4,669.5 1199.6,685.8 1199.8,805.2 1200,804.3 1200.2,824.3 1200.4,806.1 1200.6,807 1200.9,772.9 1201.1,823.2 1201.3,797.1 1201.5,807.5 1201.7,801.1 1201.9,762.7 1202.1,704.6 1202.3,819.3 1202.6,799.9 1202.8,783.5 1203,795.7 1203.2,788.5 1203.4,827.4 1203.6,686.9 1203.8,810.7 1204,824.3 1204.2,795.5 1204.5,828.5 1204.7,796.3 1204.9,771.5 1205.1,811.9 1205.3,818.2 1205.5,780.4 1205.7,789.1 1205.9,785 1206.1,837.5 1206.4,817.3 1206.6,766.3 1206.8,816.9 1207,810 1207.2,799.1 1207.4,797.3 1207.6,708.8 1207.8,850.8 1208.1,791.1 1208.3,823.4 1208.5,783.3 1208.7,777.8 1208.9,822.2 1209.1,798.8 1209.3,770.5 1209.5,768.8 1209.7,769.3 1210,810.9 1210.2,793.3 1210.4,818.9 1210.6,772.6 1210.8,794.3 1211,774.5 1211.2,848.7 1211.4,811.7 1211.7,811 1211.9,808.7 1212.1,824.8 1212.3,792.4 1212.5,817.7 1212.7,765.8 1212.9,808.2 1213.1,810 1213.3,814.7 1213.6,790 1213.8,794.7 1214,819.4 1214.2,858.4 1214.4,807.9 1214.6,817.1 1214.8,755.7 1215,817.8 1215.2,795.4 1215.5,822.9 1215.7,796.3 1215.9,805.6 1216.1,783 1216.3,803.8 1216.5,858.7 1216.7,806.8 1216.9,843.6 1217.2,814.2 1217.4,825.7 1217.6,797.6 1217.8,801.6 1218,771.3 1218.2,792.3 1218.4,765.8 1218.6,764.2 1218.8,795.8 1219.1,820.1 1219.3,756.5 1219.5,781.4 1219.7,801.8 1219.9,779.9 1220.1,807.6 1220.3,798.8 1220.5,783 1220.8,788 1221,794.2 1221.2,795.7 1221.4,789.5 1221.6,802 1221.8,735 1222,811.5 1222.2,743.1 1222.4,796 1222.7,816.2 1222.9,831 1223.1,817.5 1223.3,792.9 1223.5,809.7 1223.7,778.4 1223.9,807 1224.1,820.3 1224.3,806.5 1224.6,810.8 1224.8,804.3 1225,822.4 1225.2,803.3 1225.4,836.3 1225.6,798 1225.8,803.2 1226,743.9 1226.3,816.1 1226.5,801.7 1226.7,796.8 1226.9,833.7 1227.1,782.1 1227.3,803.5 1227.5,749.1 1227.7,771.6 1227.9,824 1228.2,819.4 1228.4,818.8 1228.6,799.7 1228.8,819.6 1229,817 1229.2,767.3 1229.4,805.2 1229.6,792.6 1229.9,781.2 1230.1,676.5 1230.3,827.5 1230.5,792.9 1230.7,785.7 1230.9,779.1 1231.1,813 1231.3,808.4 1231.5,796.6 1231.8,799.3 1232,806.4 1232.2,811.9 1232.4,802.6 1232.6,805.7 1232.8,795.5 1233,812.2 1233.2,819.7 1233.4,808.9 1233.7,804.3 1233.9,780 1234.1,807.8 1234.3,840.3 1234.5,758.3 1234.7,777.2 1234.9,669.1 1235.1,791 1235.4,674.7 1235.6,766.7 1235.8,823.3 1236,785.8 1236.2,754.7 1236.4,754.6 1236.6,801.7 1236.8,770.7 1237,791.7 1237.3,818.9 1237.5,821.1 1237.7,777 1237.9,822.5 1238.1,805.5 1238.3,767.8 1238.5,818.1 1238.7,788.9 1239,762.6 1239.2,770.2 1239.4,784.6 1239.6,813.8 1239.8,840.8 1240,790.1 1240.2,798.6 1240.4,820.5 1240.6,839.4 1240.9,675.6 1241.1,808.5 1241.3,832.5 1241.5,782.5 1241.7,795 1241.9,811.4 1242.1,807.6 1242.3,789.1 1242.5,789.8 1242.8,817 1243,841.8 1243.2,803.4 1243.4,819 1243.6,802.2 1243.8,799 1244,777.4 1244.2,786.7 1244.5,842.6 1244.7,823.2 1244.9,768.7 1245.1,794.4 1245.3,818.1 1245.5,809.5 1245.7,838.9 1245.9,845.1 1246.1,775.9 1246.4,779.2 1246.6,811.2 1246.8,804.9 1247,792.8 1247.2,798.2 1247.4,791.7 1247.6,776.9 1247.8,842 1248.1,799.8 1248.3,791 1248.5,808 1248.7,800.4 1248.9,771.9 1249.1,838.8 1249.3,794.3 1249.5,810 1249.7,821.5 1250,804.1 1250.2,792.6 1250.4,784 1250.6,814.3 1250.8,787.3 1251,772 1251.2,796.2 1251.4,785.9 1251.7,790.7 1251.9,760.1 1252.1,817.7 1252.3,776.4 1252.5,790.8 1252.7,764.7 1252.9,783.9 1253.1,867.7 1253.3,777.2 1253.6,773.2 1253.8,779.3 1254,805 1254.2,807.3 1254.4,773.6 1254.6,814.1 1254.8,782.7 1255,733.4 1255.2,811.9 1255.5,806.4 1255.7,809.5 1255.9,733.3 1256.1,769.4 1256.3,800.9 1256.5,803.8 1256.7,791.9 1256.9,780.1 1257.2,838.9 1257.4,713.7 1257.6,812.6 1257.8,759.2 1258,801.9 1258.2,769.5 1258.4,770.5 1258.6,803.9 1258.8,803.9 1259.1,771.9 1259.3,789.6 1259.5,763.7 1259.7,812.6 1259.9,724.1 1260.1,808.7 1260.3,854.8 1260.5,784.9 1260.8,817.4 1261,785.8 1261.2,805.1 1261.4,775.6 1261.6,825.3 1261.8,829.2 1262,770.9 1262.2,778.6 1262.4,797.4 1262.7,830.3 1262.9,783.2 1263.1,752.7 1263.3,806.4 1263.5,807.1 1263.7,815.5 1263.9,791 1264.1,801.1 1264.3,763.1 1264.6,813.5 1264.8,781.7 1265,821.3 1265.2,795.1 1265.4,780.4 1265.6,785.6 1265.8,833.9 1266,789 1266.3,821.3 1266.5,838.5 1266.7,794.5 1266.9,831.2 1267.1,804.9 1267.3,776.8 1267.5,741.4 1267.7,803 1267.9,782.7 1268.2,799.3 1268.4,785.3 1268.6,779.1 1268.8,819.5 1269,769.1 1269.2,803.1 1269.4,799.4 1269.6,797 1269.9,805.9 1270.1,809 1270.3,790.4 1270.5,812.2 1270.7,791.6 1270.9,786.6 1271.1,811.6 1271.3,806.9 1271.5,790.6 1271.8,801.3 1272,788.7 1272.2,801.8 1272.4,807 1272.6,804.9 1272.8,794.8 1273,778.5 1273.2,832.7 1273.4,809.9 1273.7,808.1 1273.9,815.9 1274.1,809.8 1274.3,778.5 1274.5,781.5 1274.7,812.1 1274.9,828.1 1275.1,792.9 1275.4,791.7 1275.6,823.1 1275.8,796.9 1276,792.7 1276.2,788.2 1276.4,810.2 1276.6,791.2 1276.8,803.8 1277,784.6 1277.3,795.9 1277.5,788.8 1277.7,800.4 1277.9,805.5 1278.1,722 1278.3,784.4 1278.5,807.7 1278.7,793.9 1279,754.5 1279.2,812.8 1279.4,825.6 1279.6,818.6 1279.8,806.1 1280,800.6 1280.2,842.8 1280.4,838 1280.6,785.9 1280.9,827.2 1281.1,787.8 1281.3,777.6 1281.5,858.6 1281.7,790.2 1281.9,799.9 1282.1,807 1282.3,793.4 1282.5,801.7 1282.8,790.5 1283,690.8 1283.2,794.9 1283.4,737.8 1283.6,774.3 1283.8,779.5 1284,773.3 1284.2,793.3 1284.5,783.8 1284.7,765.8 1284.9,801.8 1285.1,812.1 1285.3,773.2 1285.5,806.9 1285.7,778.7 1285.9,764.3 1286.1,809.3 1286.4,794.7 1286.6,794.3 1286.8,814.6 1287,769.6 1287.2,808.2 1287.4,787 1287.6,841.4 1287.8,811.5 1288.1,810.8 1288.3,797.1 1288.5,797.1 1288.7,796.1 1288.9,799.8 1289.1,782.8 1289.3,783 1289.5,808.2 1289.7,769.3 1290,791.5 1290.2,865.6 1290.4,790.4 1290.6,806.3 1290.8,806.1 1291,798.6 1291.2,790.7 1291.4,819.8 1291.6,818.5 1291.9,807.5 1292.1,798.3 1292.3,812.2 1292.5,808.1 1292.7,815.1 1292.9,790.5 1293.1,837.3 1293.3,800.3 1293.6,812.5 1293.8,799.6 1294,796.6 1294.2,856.1 1294.4,698.5 1294.6,786.6 1294.8,770.7 1295,785.5 1295.2,783.1 1295.5,766.5 1295.7,770.4 1295.9,825 1296.1,801.9 1296.3,842.8 1296.5,783.7 1296.7,795.2 1296.9,769.6 1297.2,797.4 1297.4,803.3 1297.6,803.3 1297.8,814 1298,838.1 1298.2,800.7 1298.4,808.2 1298.6,808.4 1298.8,821.5 1299.1,798.3 1299.3,819.6 1299.5,795.1 1299.7,733.6 1299.9,806.2 1300.1,829.8 1300.3,794 1300.5,783.9 1300.7,802.7 1301,811.1 1301.2,788.7 1301.4,785.5 1301.6,808.3 1301.8,749 1302,777 1302.2,772.1 1302.4,758.6 1302.7,792.7 1302.9,818.6 1303.1,805 1303.3,799.1 1303.5,737 1303.7,809.6 1303.9,816 1304.1,778.3 1304.3,765.3 1304.6,782.4 1304.8,798.2 1305,811.6 1305.2,800.6 1305.4,846.2 1305.6,781.9 1305.8,789.7 1306,778.2 1306.3,804.3 1306.5,763.2 1306.7,777.2 1306.9,833.2 1307.1,833.5 1307.3,795.4 1307.5,826.3 1307.7,803 1307.9,722.2 1308.2,806.1 1308.4,772.1 1308.6,789.6 1308.8,788.2 1309,795.9 1309.2,744.4 1309.4,775.4 1309.6,813.2 1309.8,789.7 1310.1,814.2 1310.3,803.5 1310.5,801.9 1310.7,826.4 1310.9,835.3 1311.1,823.1 1311.3,790 1311.5,852.7 1311.8,789 1312,840.3 1312.2,815.3 1312.4,810.5 1312.6,786.4 1312.8,800.4 1313,821 1313.2,811.5 1313.4,795.7 1313.7,780 1313.9,795.3 1314.1,802.5 1314.3,805.4 1314.5,770.8 1314.7,815.8 1314.9,809.1 1315.1,793.8 1315.4,776.3 1315.6,832.9 1315.8,782.1 1316,768.9 1316.2,795.6 1316.4,836.2 1316.6,814 1316.8,803.2 1317,795.1 1317.3,824 1317.5,805.2 1317.7,787 1317.9,810.9 1318.1,806.2 1318.3,809.3 1318.5,827.4 1318.7,807.3 1318.9,804.7 1319.2,786.4 1319.4,815.6 1319.6,825.3 1319.8,860 1320,749.2 1320.2,790 1320.4,843 1320.6,830.1 1320.9,789.1 1321.1,802 1321.3,797.2 1321.5,793 1321.7,780.5 1321.9,817.9 1322.1,788.8 1322.3,799.2 1322.5,799.5 1322.8,802.4 1323,809.4 1323.2,796.5 1323.4,800 1323.6,787.7 1323.8,772.4 1324,819.3 1324.2,763.8 1324.5,780 1324.7,766.7 1324.9,803 1325.1,800.6 1325.3,778.4 1325.5,818.9 1325.7,768.2 1325.9,821 1326.1,807.4 1326.4,812.2 1326.6,824 1326.8,821.9 1327,811.7 1327.2,805.6 1327.4,812.2 1327.6,818.1 1327.8,849.4 1328,805.8 1328.3,765 1328.5,769.2 1328.7,778.7 1328.9,808 1329.1,790.8 1329.3,810.6 1329.5,705.9 1329.7,797.6 1330,781.2 1330.2,809.9 1330.4,813 1330.6,801.2 1330.8,768.5 1331,784.3 1331.2,781.2 1331.4,778.1 1331.6,785.9 1331.9,724.2 1332.1,804.9 1332.3,818.2 1332.5,745.4 1332.7,759.3 1332.9,819 1333.1,788.1 1333.3,774.4 1333.6,820.1 1333.8,760.2 1334,813 1334.2,725.9 1334.4,792.5 1334.6,782.8 1334.8,785.3 1335,805.1 1335.2,812.8 1335.5,845.6 1335.7,809.9 1335.9,776.5 1336.1,815.3 1336.3,788.8 1336.5,787 1336.7,797.2 1336.9,810.9 1337.1,810.8 1337.4,801.2 1337.6,833.6 1337.8,773.9 1338,820.2 1338.2,768.5 1338.4,812.1 1338.6,805.9 1338.8,793.1 1339.1,762.5 1339.3,796.1 1339.5,770.5 1339.7,807.3 1339.9,787.2 1340.1,785.2 1340.3,797.5 1340.5,787.6 1340.7,763.8 1341,775.1 1341.2,784.8 1341.4,797 1341.6,806.9 1341.8,784.2 1342,820.8 1342.2,786.2 1342.4,782.5 1342.7,752.6 1342.9,801.8 1343.1,774.4 1343.3,788.3 1343.5,830.5 1343.7,824.6 1343.9,678.3 1344.1,778.1 1344.3,772.6 1344.6,804.8 1344.8,791.9 1345,795.8 1345.2,847.2 1345.4,779.3 1345.6,773.3 1345.8,842.5 1346,817.9 1346.2,801.7 1346.5,801.7 1346.7,780.2 1346.9,777.9 1347.1,810.6 1347.3,787.2 1347.5,685.7 1347.7,684.6 1347.9,795.6 1348.2,789.8 1348.4,812 1348.6,763.9 1348.8,796.2 1349,800 1349.2,785.5 1349.4,812.1 1349.6,794.2 1349.8,846.6 1350.1,832.7 1350.3,807.1 1350.5,698.9 1350.7,806.9 1350.9,812.5 1351.1,789.1 1351.3,777.1 1351.5,809.7 1351.8,849.9 1352,792.9 1352.2,823 1352.4,825.8 1352.6,799.1 1352.8,779.6 1353,817.6 1353.2,843.3 1353.4,781.7 1353.7,778.2 1353.9,804.4 1354.1,779.4 1354.3,761.5 1354.5,816.2 1354.7,807.4 1354.9,807.2 1355.1,779.4 1355.3,816.2 1355.6,806 1355.8,775.9 1356,780.8 1356.2,779.8 1356.4,817.4 1356.6,791.5 1356.8,765 1357,782.4 1357.3,790.3 1357.5,786.4 1357.7,803 1357.9,797 1358.1,747.2 1358.3,803.7 1358.5,793.6 1358.7,818 1358.9,822.1 1359.2,832.1 1359.4,802.5 1359.6,849.1 1359.8,791.6 1360,837 1360.2,792.1 1360.4,687.1 1360.6,802.7 1360.9,795.4 1361.1,788.8 1361.3,773.9 1361.5,776.2 1361.7,763.6 1361.9,788.5 1362.1,810.6 1362.3,774.4 1362.5,822.3 1362.8,783.7 1363,818.7 1363.2,810.3 1363.4,776.5 1363.6,811 1363.8,779.4 1364,787.6 1364.2,802 1364.4,785.4 1364.7,788 1364.9,796.6 1365.1,811.3 1365.3,783.7 1365.5,805.4 1365.7,800.4 1365.9,791 1366.1,801.2 1366.4,794.5 1366.6,793.7 1366.8,794.1 1367,796.8 1367.2,773.4 1367.4,808.3 1367.6,807.3 1367.8,822.7 1368,843 1368.3,786.9 1368.5,790.4 1368.7,772.5 1368.9,826.4 1369.1,813.7 1369.3,810 1369.5,763 1369.7,782.2 1370,802.7 1370.2,799.9 1370.4,863.4 1370.6,820.4 1370.8,793.1 1371,819.6 1371.2,797.7 1371.4,786.8 1371.6,794.4 1371.9,812.7 1372.1,804.9 1372.3,784.8 1372.5,809.2 1372.7,825 1372.9,804.9 1373.1,809.4 1373.3,803.7 1373.5,768.3 1373.8,842.1 1374,806.5 1374.2,783.1 1374.4,789.2 1374.6,782.3 1374.8,839.5 1375,807.2 1375.2,794.5 1375.5,827.2 1375.7,821.2 1375.9,784.6 1376.1,809.3 1376.3,767.3 1376.5,820.6 1376.7,792.1 1376.9,822.6 1377.1,777.8 1377.4,796.7 1377.6,833 1377.8,809.9 1378,819.3 1378.2,790.4 1378.4,790.8 1378.6,758.3 1378.8,851.9 1379.1,792.5 1379.3,812.3 1379.5,775.9 1379.7,847.5 1379.9,794.2 1380.1,837.3 1380.3,793.7 1380.5,812.3 1380.7,795.8 1381,780.2 1381.2,804.1 1381.4,847.4 1381.6,838.9 1381.8,846.2 1382,817.6 1382.2,822.4 1382.4,782 1382.6,805.3 1382.9,783.8 1383.1,784.1 1383.3,808.5 1383.5,798.8 1383.7,823.2 1383.9,793.9 1384.1,802 1384.3,772.1 1384.6,785.9 1384.8,804.5 1385,814.2 1385.2,805.6 1385.4,748 1385.6,787.6 1385.8,782.6 1386,823.9 1386.2,821 1386.5,795.5 1386.7,824.1 1386.9,803.4 1387.1,834.7 1387.3,807.8 1387.5,810.2 1387.7,721.2 1387.9,813.8 1388.2,792.8 1388.4,785.3 1388.6,788.3 1388.8,806.9 1389,807.6 1389.2,814.1 1389.4,815.2 1389.6,805 1389.8,805 1390.1,805.8 1390.3,797.5 1390.5,786.1 1390.7,813.6 1390.9,806.2 1391.1,791.6 1391.3,798 1391.5,816.6 1391.7,823.5 1392,789.7 1392.2,821.3 1392.4,794.1 1392.6,820.1 1392.8,769.2 1393,820.9 1393.2,768 1393.4,787.6 1393.7,839.2 1393.9,778.5 1394.1,791.4 1394.3,806.6 1394.5,839.3 1394.7,808.5 1394.9,797.4 1395.1,825.6 1395.3,801 1395.6,667.3 1395.8,813.7 1396,798.2 1396.2,806.1 1396.4,807.1 1396.6,789.2 1396.8,784.7 1397,814.4 1397.3,832.5 1397.5,792.1 1397.7,820.8 1397.9,809.1 1398.1,815.9 1398.3,782.3 1398.5,760.5 1398.7,811.5 1398.9,760.7 1399.2,797.8 1399.4,806.9 1399.6,724.2 1399.8,765.3 1400,757.9 1400.2,806.7 1400.4,766.5 1400.6,713.2 1400.8,852.6 1401.1,803.8 1401.3,815.7 1401.5,811.7 1401.7,798.6 1401.9,809.7 1402.1,808.4 1402.3,762.5 1402.5,693.9 1402.8,797.9 1403,789.9 1403.2,827.7 1403.4,822 1403.6,821.9 1403.8,785.2 1404,821 1404.2,791.7 1404.4,823.1 1404.7,824.2 1404.9,792.7 1405.1,785.7 1405.3,761.9 1405.5,820 1405.7,796.5 1405.9,819.2 1406.1,822.7 1406.4,821.3 1406.6,795.7 1406.8,849.8 1407,768.8 1407.2,771.7 1407.4,778.1 1407.6,805.3 1407.8,813.9 1408,791.5 1408.3,821.9 1408.5,761.4 1408.7,769.1 1408.9,779.3 1409.1,786.4 1409.3,809.6 1409.5,805.7 1409.7,816.8 1409.9,799.5 1410.2,790.3 1410.4,801.1 1410.6,807.8 1410.8,800.9 1411,778.3 1411.2,784.6 1411.4,792.1 1411.6,813 1411.9,810.1 1412.1,792.2 1412.3,808.6 1412.5,814.2 1412.7,775.9 1412.9,799.4 1413.1,797.1 1413.3,812.3 1413.5,796.1 1413.8,786.3 1414,796.3 1414.2,828.9 1414.4,810.5 1414.6,791.4 1414.8,797.2 1415,782.9 1415.2,807.2 1415.5,802.6 1415.7,784.7 1415.9,802.6 1416.1,785.6 1416.3,834.3 1416.5,819.5 1416.7,725 1416.9,786.7 1417.1,787.5 1417.4,784.7 1417.6,784.5 1417.8,822.6 1418,772.1 1418.2,785.7 1418.4,823.8 1418.6,826.4 1418.8,794.4 1419,814.6 1419.3,792.4 1419.5,807.4 1419.7,830 1419.9,817.8 1420.1,809.1 1420.3,802.3 1420.5,787.3 1420.7,843.2 1421,793.4 1421.2,806.3 1421.4,804.5 1421.6,845.1 1421.8,811.5 1422,829.1 1422.2,789.5 1422.4,781.9 1422.6,794 1422.9,763.5 1423.1,797.2 1423.3,786.5 1423.5,808.5 1423.7,795.4 1423.9,803.4 1424.1,807.8 1424.3,782.8 1424.6,802.3 1424.8,808.3 1425,804.3 1425.2,792.8 1425.4,776.6 1425.6,837.4 1425.8,802.5 1426,804.7 1426.2,806.7 1426.5,802.6 1426.7,792.5 1426.9,780.3 1427.1,834.4 1427.3,824.4 1427.5,800.1 1427.7,769.3 1427.9,793.8 1428.1,818.2 1428.4,804.9 1428.6,824.2 1428.8,819.5 1429,751.4 1429.2,684.5 1429.4,775.5 1429.6,803.3 1429.8,790.6 1430.1,817.6 1430.3,793.3 1430.5,812.4 1430.7,856 1430.9,852.1 1431.1,805 1431.3,790.2 1431.5,817.4 1431.7,822.8 1432,844 1432.2,771.9 1432.4,837.4 1432.6,790.6 1432.8,781.3 1433,828.4 1433.2,820.5 1433.4,810.4 1433.7,815.6 1433.9,785 1434.1,801.4 1434.3,812.9 1434.5,796.1 1434.7,780.1 1434.9,809.9 1435.1,818.4 1435.3,837.9 1435.6,770.2 1435.8,773.4 1436,787.4 1436.2,805.6 1436.4,786.9 1436.6,791.4 1436.8,718.1 1437,802.4 1437.2,782.2 1437.5,676.2 1437.7,825.2 1437.9,756.6 1438.1,820.2 1438.3,799.1 1438.5,763.9 1438.7,792.2 1438.9,810.6 1439.2,808 1439.4,810.8 1439.6,810.4 1439.8,828 1440,791.3 1440.2,812 1440.4,794.5 1440.6,734 1440.8,793.1 1441.1,841.7 1441.3,825.4 1441.5,803.1 1441.7,797.3 1441.9,763.3 1442.1,813.3 1442.3,793.9 1442.5,776.9 1442.8,790.6 1443,787.7 1443.2,794.8 1443.4,764.9 1443.6,799.9 1443.8,783.6 1444,737.3 1444.2,793.6 1444.4,801 1444.7,829.9 1444.9,831 1445.1,760.6 1445.3,799.5 1445.5,729.4 1445.7,809.9 1445.9,821.6 1446.1,800.9 1446.3,812.9 1446.6,789.8 1446.8,712.5 1447,791.5 1447.2,756.9 1447.4,800 1447.6,774.7 1447.8,687.1 1448,739.6 1448.3,811 1448.5,823.1 1448.7,791 1448.9,807.7 1449.1,818.5 1449.3,790.2 1449.5,802.2 1449.7,792.9 1449.9,800.6 1450.2,810.4 1450.4,820.5 1450.6,791.9 1450.8,817.9 1451,781.2 1451.2,795.7 1451.4,801.2 1451.6,815.7 1451.9,769.6 1452.1,805.4 1452.3,755.1 1452.5,812.5 1452.7,778.6 1452.9,792.3 1453.1,780.9 1453.3,784.7 1453.5,802.6 1453.8,816.7 1454,799 1454.2,812.2 1454.4,807.1 1454.6,768.1 1454.8,782.4 1455,793.7 1455.2,787.2 1455.4,840.7 1455.7,795.2 1455.9,800.4 1456.1,796.9 1456.3,790.1 1456.5,760.6 1456.7,820.5 1456.9,797.9 1457.1,808.9 1457.4,754.5 1457.6,808.6 1457.8,765.5 1458,787.2 1458.2,789.5 1458.4,778.7 1458.6,790.8 1458.8,804.2 1459,763.2 1459.3,820.2 1459.5,833.2 1459.7,813 1459.9,851.3 1460.1,811 1460.3,796.6 1460.5,719.3 1460.7,785.5 1461,790.6 1461.2,777.6 1461.4,797.3 1461.6,778 1461.8,794.2 1462,769.7 1462.2,777.5 1462.4,796.3 1462.6,776 1462.9,780.4 1463.1,781.7 1463.3,790.8 1463.5,818.7 1463.7,806.6 1463.9,780.1 1464.1,773.1 1464.3,825.8 1464.5,840.9 1464.8,835.4 1465,822.2 1465.2,785.9 1465.4,808.8 1465.6,788 1465.8,770.6 1466,829.8 1466.2,794.9 1466.5,791.2 1466.7,788.8 1466.9,777.6 1467.1,775.3 1467.3,786.1 1467.5,814.4 1467.7,775.1 1467.9,756.6 1468.1,817 1468.4,798.5 1468.6,789.8 1468.8,803.2 1469,791.9 1469.2,790.8 1469.4,775.4 1469.6,802.6 1469.8,799.1 1470.1,760.2 1470.3,735.1 1470.5,804.9 1470.7,819 1470.9,797.4 1471.1,786.4 1471.3,800.9 1471.5,822.5 1471.7,820.2 1472,809.8 1472.2,797.1 1472.4,792.2 1472.6,776.3 1472.8,811.2 1473,813.6 1473.2,830.7 1473.4,817.4 1473.6,803 1473.9,804.1 1474.1,840.4 1474.3,794.9 1474.5,805.9 1474.7,825.8 1474.9,795.2 1475.1,792.2 1475.3,813.8 1475.6,737.1 1475.8,846.3 1476,827.8 1476.2,810 1476.4,810.1 1476.6,816.7 1476.8,794.7 1477,778 1477.2,788.9 1477.5,795.1 1477.7,769.4 1477.9,827.8 1478.1,802.8 1478.3,838.2 1478.5,805.4 1478.7,801.9 1478.9,803.4 1479.2,811.6 1479.4,821.8 1479.6,819.9 1479.8,763.7 1480,791.9 1480.2,789.9 1480.4,785.7 1480.6,845.6 1480.8,817.2 1481.1,822.1 1481.3,800.2 1481.5,799.9 1481.7,807.9 1481.9,781.4 1482.1,809.1 1482.3,797.9 1482.5,790 1482.7,791.3 1483,806.3 1483.2,774.2 1483.4,786.7 1483.6,782 1483.8,795.7 1484,796.4 1484.2,814.9 1484.4,836.7 1484.7,821.7 1484.9,829.8 1485.1,801 1485.3,827.8 1485.5,810.2 1485.7,818.1 1485.9,800.4 1486.1,803.9 1486.3,774.3 1486.6,783.2 1486.8,770.9 1487,798.4 1487.2,834.1 1487.4,781.6 1487.6,670.3 1487.8,682.1 1488,773.2 1488.3,803.4 1488.5,798 1488.7,802.4 1488.9,811.7 1489.1,808.9 1489.3,833.2 1489.5,797.1 1489.7,797.7 1489.9,786.8 1490.2,801.2 1490.4,792.3 1490.6,757.8 1490.8,781.3 1491,802.8 1491.2,795.4 1491.4,799.8 1491.6,775.8 1491.8,683.9 1492.1,780.1 1492.3,792.4 1492.5,850.2 1492.7,861 1492.9,811 1493.1,817.6 1493.3,686.9 1493.5,794.4 1493.8,753.8 1494,798.9 1494.2,816.7 1494.4,802.5 1494.6,791.4 1494.8,817.9 1495,804.7 1495.2,830.9 1495.4,823.7 1495.7,808.4 1495.9,786.3 1496.1,817.4 1496.3,816.5 1496.5,802.1 1496.7,819.4 1496.9,810.8 1497.1,817.7 1497.4,767.8 1497.6,809.3 1497.8,774.1 1498,797.9 1498.2,766.9 1498.4,818.9 1498.6,797 1498.8,760.7 1499,775.8 1499.3,788.6 1499.5,807.2 1499.7,762 1499.9,746 1500.1,771.6 1500.3,853.8 1500.5,799.2 1500.7,815.7 1500.9,828.8 1501.2,780.3 1501.4,835.9 1501.6,803.9 1501.8,767.8 1502,793.4 1502.2,824.1 1502.4,816.5 1502.6,776 1502.9,820.3 1503.1,808.9 1503.3,826.9 1503.5,801.4 1503.7,812.1 1503.9,780.8 1504.1,819.1 1504.3,808.5 1504.5,845.4 1504.8,775.4 1505,777.3 1505.2,805.6 1505.4,797.4 1505.6,791.7 1505.8,780 1506,831.7 1506.2,817.5 1506.5,757.2 1506.7,778.1 1506.9,704.2 1507.1,799.7 1507.3,784.3 1507.5,783.3 1507.7,783.5 1507.9,820.4 1508.1,799.8 1508.4,792.6 1508.6,794.3 1508.8,819.9 1509,804.4 1509.2,818.7 1509.4,808.1 1509.6,795.8 1509.8,789.2 1510,788.8 1510.3,780.8 1510.5,797.1 1510.7,824 1510.9,798.9 1511.1,808.7 1511.3,832.4 1511.5,812.1 1511.7,792.2 1512,740.1 1512.2,802.3 1512.4,826.7 1512.6,801.1 1512.8,814.1 1513,776.1 1513.2,708.5 1513.4,783.9 1513.6,804.5 1513.9,792.7 1514.1,813.8 1514.3,762.4 1514.5,800.3 1514.7,803.6 1514.9,820.7 1515.1,810.9 1515.3,846.6 1515.6,790.3 1515.8,805.8 1516,738.9 1516.2,829 1516.4,770 1516.6,791.5 1516.8,808.9 1517,790.8 1517.2,824.3 1517.5,826.3 1517.7,776.9 1517.9,838.4 1518.1,799.9 1518.3,774.1 1518.5,797.9 1518.7,774.6 1518.9,804.3 1519.1,813 1519.4,777.7 1519.6,783.1 1519.8,801.6 1520,773.6 1520.2,821.7 1520.4,780.2 1520.6,807.6 1520.8,795.6 1521.1,797.9 1521.3,796.4 1521.5,789.7 1521.7,772.8 1521.9,772.9 1522.1,798.1 1522.3,798.5 1522.5,818.6 1522.7,768.1 1523,781.9 1523.2,811.6 1523.4,796.2 1523.6,770.8 1523.8,813 1524,794.4 1524.2,799.7 1524.4,749.3 1524.7,798.1 1524.9,837.7 1525.1,780.7 1525.3,808.3 1525.5,797.2 1525.7,826.6 1525.9,724.7 1526.1,788.6 1526.3,836.8 1526.6,811.4 1526.8,806.1 1527,818.4 1527.2,825.8 1527.4,825.1 1527.6,816.3 1527.8,797 1528,795.6 1528.2,775.8 1528.5,803.3 1528.7,843.1 1528.9,803 1529.1,779.4 1529.3,822.8 1529.5,796.8 1529.7,794 1529.9,819.8 1530.2,690.6 1530.4,819.7 1530.6,772.8 1530.8,787.9 1531,799.2 1531.2,763.6 1531.4,787.4 1531.6,816.7 1531.8,825.4 1532.1,827.7 1532.3,824.5 1532.5,784.7 1532.7,779.3 1532.9,771.2 1533.1,825.8 1533.3,800.4 1533.5,776.9 1533.8,766.2 1534,806.5 1534.2,807.4 1534.4,807.6 1534.6,791.9 1534.8,784.9 1535,781.4 1535.2,695.9 1535.4,772.3 1535.7,694.9 1535.9,788.1 1536.1,774.3 1536.3,778.8 1536.5,791.7 1536.7,807.3 1536.9,801.4 1537.1,813.8 1537.3,813 1537.6,818.9 1537.8,778.8 1538,822.4 1538.2,813.2 1538.4,774.3 1538.6,849 1538.8,766.8 1539,769.9 1539.3,791.4 1539.5,778.5 1539.7,820.9 1539.9,847.1 1540.1,766 1540.3,790.4 1540.5,793.7 1540.7,747.5 1540.9,783.6 1541.2,826.6 1541.4,777 1541.6,865 1541.8,789.5 1542,791.6 1542.2,807.8 1542.4,813.9 1542.6,714.8 1542.9,746.9 1543.1,819.9 1543.3,814.3 1543.5,802.5 1543.7,806.6 1543.9,766 1544.1,792.4 1544.3,761.1 1544.5,784.5 1544.8,792.8 1545,802.2 1545.2,804.5 1545.4,801.5 1545.6,801.4 1545.8,806.6 1546,748.3 1546.2,774.4 1546.4,822.5 1546.7,791.3 1546.9,784.6 1547.1,800.4 1547.3,799.3 1547.5,777 1547.7,806.6 1547.9,787.2 1548.1,788.3 1548.4,736.1 1548.6,794.5 1548.8,837.7 1549,770.8 1549.2,818.9 1549.4,778.8 1549.6,811.5 1549.8,815.5 1550,795.1 1550.3,795.1 1550.5,831.7 1550.7,767.6 1550.9,807.2 1551.1,785.7 1551.3,791.2 1551.5,787.1 1551.7,797 1552,792.8 1552.2,797.2 1552.4,805.2 1552.6,777.4 1552.8,795.7 1553,792 1553.2,809.4 1553.4,810.7 1553.6,795.4 1553.9,825.5 1554.1,771.5 1554.3,805.9 1554.5,804.7 1554.7,808.2 1554.9,796.2 1555.1,788.9 1555.3,785.3 1555.5,811.4 1555.8,819.8 1556,801.4 1556.2,801.2 1556.4,812.8 1556.6,775.6 1556.8,818.3 1557,815.5 1557.2,781.2 1557.5,806.5 1557.7,802.7 1557.9,815.2 1558.1,822.6 1558.3,813.1 1558.5,831.3 1558.7,785.6 1558.9,793.8 1559.1,763.6 1559.4,800.9 1559.6,809.6 1559.8,780.4 1560,809.2 1560.2,780.5 1560.4,808.6 1560.6,833.4 1560.8,805.8 1561.1,805.2 1561.3,789.6 1561.5,807.9 1561.7,794.7 1561.9,794.9 1562.1,815.9 1562.3,820.4 1562.5,813.5 1562.7,830.1 1563,798.1 1563.2,787.7 1563.4,805.7 1563.6,811.8 1563.8,821.8 1564,787.8 1564.2,780 1564.4,840.3 1564.6,761.6 1564.9,771.1 1565.1,809.7 1565.3,729.5 1565.5,796.9 1565.7,792.6 1565.9,806.7 1566.1,792.2 1566.3,787.9 1566.6,712.4 1566.8,801.1 1567,811.9 1567.2,781.1 1567.4,800.4 1567.6,797 1567.8,798.1 1568,806.5 1568.2,808.1 1568.5,808.7 1568.7,813.9 1568.9,808 1569.1,765.9 1569.3,801.1 1569.5,814.4 1569.7,818.4 1569.9,777.7 1570.2,811.1 1570.4,796.9 1570.6,831.9 1570.8,838.4 1571,795.3 1571.2,830.9 1571.4,796 1571.6,784.1 1571.8,815.5 1572.1,809.5 1572.3,808.4 1572.5,813.3 1572.7,807.6 1572.9,808.3 1573.1,804.4 1573.3,799.3 1573.5,790.9 1573.7,791.8 1574,799.3 1574.2,814.6 1574.4,791.2 1574.6,785.6 1574.8,797.6 1575,807.1 1575.2,761 1575.4,838 1575.7,788.8 1575.9,796.1 1576.1,772.7 1576.3,766.4 1576.5,788.4 1576.7,695.1 1576.9,789.7 1577.1,821.1 1577.3,798.4 1577.6,814 1577.8,791 1578,832 1578.2,806.2 1578.4,796.4 1578.6,804.1 1578.8,806.2 1579,813.7 1579.3,804.5 1579.5,773.3 1579.7,810.7 1579.9,823.5 1580.1,818.7 1580.3,710.3 1580.5,787.4 1580.7,804.9 1580.9,785.9 1581.2,774.8 1581.4,816 1581.6,795.9 1581.8,805.4 1582,783.1 1582.2,785.1 1582.4,793.1 1582.6,820.4 1582.8,806.4 1583.1,801.7 1583.3,801.6 1583.5,811.4 1583.7,795.6 1583.9,749.4 1584.1,794.4 1584.3,814.4 1584.5,807.3 1584.8,821.4 1585,813.5 1585.2,789.1 1585.4,804.1 1585.6,803.4 1585.8,780.8 1586,810.7 1586.2,800.1 1586.4,826.9 1586.7,783.7 1586.9,803.5 1587.1,785.9 1587.3,786.3 1587.5,801 1587.7,790.2 1587.9,826.6 1588.1,810 1588.4,834.9 1588.6,782.5 1588.8,789.3 1589,669.3 1589.2,775.7 1589.4,771.7 1589.6,803.6 1589.8,827.2 1590,807.4 1590.3,762.1 1590.5,790 1590.7,768.2 1590.9,786 1591.1,789.3 1591.3,805.9 1591.5,820.5 1591.7,783.8 1591.9,816.6 1592.2,769.8 1592.4,789.8 1592.6,787.7 1592.8,799.6 1593,831.1 1593.2,816.1 1593.4,782.6 1593.6,823 1593.9,822.1 1594.1,740 1594.3,838.3 1594.5,801.5 1594.7,793.4 1594.9,690.5 1595.1,780.4 1595.3,791.8 1595.5,832.1 1595.8,804.9 1596,831.4 1596.2,795 1596.4,825.5 1596.6,781.7 1596.8,788.3 1597,809.9 1597.2,792.3 1597.5,796 1597.7,797.9 1597.9,799.8 1598.1,786.4 1598.3,798.6 1598.5,806.8 1598.7,793 1598.9,812.8 1599.1,777.4 1599.4,784.8 1599.6,837.6 1599.8,805.2 1600,802.3 1600.2,855.6 1600.4,790.9 1600.6,775.6 1600.8,772.7 1601,835.7 1601.3,783.7 1601.5,834.6 1601.7,780.7 1601.9,791.8 1602.1,814.7 1602.3,808.9 1602.5,808.9 1602.7,777.5 1603,810.5 1603.2,807.6 1603.4,713.4 1603.6,769.7 1603.8,810.8 1604,795 1604.2,813.5 1604.4,865.2 1604.6,821.4 1604.9,792.9 1605.1,792.6 1605.3,807.1 1605.5,778.9 1605.7,765.5 1605.9,799.8 1606.1,793.9 1606.3,796.4 1606.6,778.3 1606.8,852.5 1607,666.5 1607.2,801.2 1607.4,813.9 1607.6,804.9 1607.8,799.7 1608,769.1 1608.2,696.8 1608.5,839.4 1608.7,809.7 1608.9,777.5 1609.1,779.2 1609.3,832.7 1609.5,802.1 1609.7,771 1609.9,813.2 1610.1,807.7 1610.4,798.4 1610.6,819.1 1610.8,780.5 1611,796.7 1611.2,796.5 1611.4,812.6 1611.6,748.6 1611.8,806.6 1612.1,814.9 1612.3,803.3 1612.5,824.7 1612.7,810.8 1612.9,757.7 1613.1,846.2 1613.3,853.9 1613.5,800.1 1613.7,713.7 1614,792.6 1614.2,795.8 1614.4,831.2 1614.6,809 1614.8,841.3 1615,787.3 1615.2,792.7 1615.4,785 1615.7,828.9 1615.9,838 1616.1,799.1 1616.3,750.2 1616.5,822.4 1616.7,815.9 1616.9,829.1 1617.1,834.7 1617.3,794 1617.6,795 1617.8,786.5 1618,794.9 1618.2,721.3 1618.4,792.5 1618.6,806.4 1618.8,798.6 1619,803.9 1619.2,842.8 1619.5,793.8 1619.7,768.8 1619.9,772.3 1620.1,804.9 1620.3,794.2 1620.5,796.7 1620.7,768.4 1620.9,769.7 1621.2,814.8 1621.4,815 1621.6,809.2 1621.8,811.6 1622,772 1622.2,836.2 1622.4,821.3 1622.6,826.9 1622.8,813.1 1623.1,789 1623.3,820.7 1623.5,785.7 1623.7,760.6 1623.9,797.4 1624.1,778.1 1624.3,804.7 1624.5,793.9 1624.8,805.6 1625,779.8 1625.2,794.2 1625.4,788.1 1625.6,783.8 1625.8,781.2 1626,818.2 1626.2,795.3 1626.4,813.8 1626.7,807.7 1626.9,800.5 1627.1,789.3 1627.3,800.8 1627.5,697 1627.7,776.1 1627.9,791.8 1628.1,839.8 1628.3,793 1628.6,808.8 1628.8,788.1 1629,786.1 1629.2,769.1 1629.4,806.9 1629.6,784.1 1629.8,803.4 1630,812.8 1630.3,829.2 1630.5,795.1 1630.7,773.3 1630.9,804.2 1631.1,780.5 1631.3,798.7 1631.5,668.2 1631.7,803.2 1631.9,790 1632.2,818.9 1632.4,786.6 1632.6,765.3 1632.8,780 1633,810.1 1633.2,848.7 1633.4,796.5 1633.6,821.2 1633.9,802.4 1634.1,781.6 1634.3,842.1 1634.5,805 1634.7,803.2 1634.9,786.5 1635.1,792.5 1635.3,768.6 1635.5,791.9 1635.8,787 1636,837.5 1636.2,800.2 1636.4,806 1636.6,801 1636.8,780.7 1637,822.8 1637.2,847.9 1637.4,766 1637.7,803.2 1637.9,807.3 1638.1,773.4 1638.3,784.9 1638.5,796.3 1638.7,794.1 1638.9,786.1 1639.1,816.9 1639.4,797.6 1639.6,761.2 1639.8,789 1640,793.8 1640.2,762.1 1640.4,794.9 1640.6,768.7 1640.8,793.1 1641,803.1 1641.3,791.7 1641.5,793.6 1641.7,825 1641.9,760.6 1642.1,789.4 1642.3,758.2 1642.5,812.9 1642.7,806.1 1643,822.5 1643.2,802.3 1643.4,787.2 1643.6,760.1 1643.8,807.6 1644,751.1 1644.2,780.7 1644.4,789.5 1644.6,811.4 1644.9,807.7 1645.1,811.6 1645.3,776.6 1645.5,809.9 1645.7,805.5 1645.9,777.3 1646.1,810.1 1646.3,779.8 1646.5,825.9 1646.8,811.3 1647,773.4 1647.2,697.7 1647.4,704 1647.6,821.3 1647.8,830.1 1648,793.1 1648.2,804.2 1648.5,793.8 1648.7,801 1648.9,747.4 1649.1,776.1 1649.3,828.3 1649.5,794.7 1649.7,822.7 1649.9,795.4 1650.1,805 1650.4,795.2 1650.6,806 1650.8,839 1651,788.3 1651.2,691.5 1651.4,817.1 1651.6,813.7 1651.8,796.6 1652.1,822.7 1652.3,802.9 1652.5,798.4 1652.7,763.5 1652.9,812.2 1653.1,794.9 1653.3,787.3 1653.5,803 1653.7,796 1654,781.4 1654.2,812 1654.4,849.4 1654.6,805.1 1654.8,794 1655,790 1655.2,790.2 1655.4,777.5 1655.6,798.2 1655.9,810.8 1656.1,820.9 1656.3,824.3 1656.5,781.6 1656.7,811.2 1656.9,815.1 1657.1,771.6 1657.3,824.7 1657.6,783.6 1657.8,710.4 1658,809.9 1658.2,809.8 1658.4,792.8 1658.6,806.9 1658.8,782.5 1659,811.8 1659.2,764.7 1659.5,807.4 1659.7,721.6 1659.9,818.6 1660.1,818.3 1660.3,794.8 1660.5,826.4 1660.7,778.2 1660.9,817.6 1661.2,810 1661.4,780 1661.6,679.8 1661.8,760.1 1662,817.1 1662.2,837.1 1662.4,771.6 1662.6,804.5 1662.8,834.5 1663.1,788.4 1663.3,769.4 1663.5,769.3 1663.7,843.3 1663.9,819.4 1664.1,733.6 1664.3,784.4 1664.5,838.9 1664.7,805.9 1665,772.3 1665.2,824.8 1665.4,768.8 1665.6,821.4 1665.8,810 1666,802 1666.2,784.9 1666.4,776.9 1666.7,830.4 1666.9,818.2 1667.1,813.8 1667.3,695.6 1667.5,815.9 1667.7,821.6 1667.9,771 1668.1,786.4 1668.3,799.7 1668.6,782.2 1668.8,804.6 1669,711.8 1669.2,836.5 1669.4,788.3 1669.6,801.5" fill="none" stroke="none" marker-start="url(#mo)" marker-mid="url(#mo)" marker-end="url(#mo)"/>
</g>
<path d="M140.6 1087H1669.5" stroke="#ff0000" stroke-width="2.9"/>
<path d="M140.6 797.2H1669.5" stroke="#ffff00" stroke-width="3.0"/>
<path d="M905.3 1062.5V1111.5M900.0999999999999 1062.5h10.4M900.0999999999999 1111.5h10.4" stroke="#ff0000" stroke-width="3" fill="none"/>
<path d="M905.3 728.5V865.5M900.0999999999999 728.5h10.4M900.0999999999999 865.5h10.4" stroke="#ffff00" stroke-width="3" fill="none"/>
<path d="M140.6 515.5V1203.6" stroke="#0072bd" stroke-width="1.3"/>
<path d="M1669.5 515.5V1203.6" stroke="#d95319" stroke-width="1.3"/>
<path d="M140.6 1203.6H1669.5" stroke="#555" stroke-width="1.2"/>
<text transform="translate(111.64 527.1) scale(1.1 1)" font-family="Liberation Sans,Arial,Helvetica,sans-serif" font-size="30.8" fill="#0072bd">6</text>
<text transform="translate(83.26 595.91) scale(1.1 1)" font-family="Liberation Sans,Arial,Helvetica,sans-serif" font-size="30.8" fill="#0072bd">5.5</text>
<text transform="translate(111.55 664.72) scale(1.1 1)" font-family="Liberation Sans,Arial,Helvetica,sans-serif" font-size="30.8" fill="#0072bd">5</text>
<text transform="translate(83.26 733.53) scale(1.1 1)" font-family="Liberation Sans,Arial,Helvetica,sans-serif" font-size="30.8" fill="#0072bd">4.5</text>
<text transform="translate(111.13 802.34) scale(1.1 1)" font-family="Liberation Sans,Arial,Helvetica,sans-serif" font-size="30.8" fill="#0072bd">4</text>
<text transform="translate(83.26 871.15) scale(1.1 1)" font-family="Liberation Sans,Arial,Helvetica,sans-serif" font-size="30.8" fill="#0072bd">3.5</text>
<text transform="translate(111.64 939.96) scale(1.1 1)" font-family="Liberation Sans,Arial,Helvetica,sans-serif" font-size="30.8" fill="#0072bd">3</text>
<text transform="translate(83.26 1008.77) scale(1.1 1)" font-family="Liberation Sans,Arial,Helvetica,sans-serif" font-size="30.8" fill="#0072bd">2.5</text>
<text transform="translate(45.91 1098.63) scale(1.1 1)" font-family="Liberation Sans,Arial,Helvetica,sans-serif" font-size="30.8" fill="#0072bd">1.847</text>
<text transform="translate(83.26 1146.39) scale(1.1 1)" font-family="Liberation Sans,Arial,Helvetica,sans-serif" font-size="30.8" fill="#0072bd">1.5</text>
<text transform="translate(111.81 1215.2) scale(1.1 1)" font-family="Liberation Sans,Arial,Helvetica,sans-serif" font-size="30.8" fill="#0072bd">1</text>
<text transform="translate(1679.46 527.1) scale(1.1 1)" font-family="Liberation Sans,Arial,Helvetica,sans-serif" font-size="30.8" fill="#d95319">100</text>
<text transform="translate(1678.96 603.55) scale(1.1 1)" font-family="Liberation Sans,Arial,Helvetica,sans-serif" font-size="30.8" fill="#d95319">80</text>
<text transform="translate(1678.71 680.01) scale(1.1 1)" font-family="Liberation Sans,Arial,Helvetica,sans-serif" font-size="30.8" fill="#d95319">60</text>
<text transform="translate(1679.64 756.46) scale(1.1 1)" font-family="Liberation Sans,Arial,Helvetica,sans-serif" font-size="30.8" fill="#d95319">40</text>
<text transform="translate(1678.71 808.8) scale(1.1 1)" font-family="Liberation Sans,Arial,Helvetica,sans-serif" font-size="30.8" fill="#d95319">26.31</text>
<text transform="translate(1679.04 909.37) scale(1.1 1)" font-family="Liberation Sans,Arial,Helvetica,sans-serif" font-size="30.8" fill="#d95319">0</text>
<text transform="translate(1678.88 985.83) scale(1.1 1)" font-family="Liberation Sans,Arial,Helvetica,sans-serif" font-size="30.8" fill="#d95319">-20</text>
<text transform="translate(1678.88 1062.28) scale(1.1 1)" font-family="Liberation Sans,Arial,Helvetica,sans-serif" font-size="30.8" fill="#d95319">-40</text>
<text transform="translate(1678.88 1138.74) scale(1.1 1)" font-family="Liberation Sans,Arial,Helvetica,sans-serif" font-size="30.8" fill="#d95319">-60</text>
<text transform="translate(1678.88 1215.2) scale(1.1 1)" font-family="Liberation Sans,Arial,Helvetica,sans-serif" font-size="30.8" fill="#d95319">-80</text>
<text transform="translate(131.67 1243.6) scale(1.11 1)" font-family="Liberation Sans,Arial,Helvetica,sans-serif" font-size="30.8" fill="#262626">0</text>
<text transform="translate(314.2 1243.6) scale(1.11 1)" font-family="Liberation Sans,Arial,Helvetica,sans-serif" font-size="30.8" fill="#262626">1000</text>
<text transform="translate(526.25 1243.6) scale(1.11 1)" font-family="Liberation Sans,Arial,Helvetica,sans-serif" font-size="30.8" fill="#262626">2000</text>
<text transform="translate(738.09 1243.6) scale(1.11 1)" font-family="Liberation Sans,Arial,Helvetica,sans-serif" font-size="30.8" fill="#262626">3000</text>
<text transform="translate(949.98 1243.6) scale(1.11 1)" font-family="Liberation Sans,Arial,Helvetica,sans-serif" font-size="30.8" fill="#262626">4000</text>
<text transform="translate(1161.31 1243.6) scale(1.11 1)" font-family="Liberation Sans,Arial,Helvetica,sans-serif" font-size="30.8" fill="#262626">5000</text>
<text transform="translate(1372.77 1243.6) scale(1.11 1)" font-family="Liberation Sans,Arial,Helvetica,sans-serif" font-size="30.8" fill="#262626">6000</text>
<text transform="translate(1584.35 1243.6) scale(1.11 1)" font-family="Liberation Sans,Arial,Helvetica,sans-serif" font-size="30.8" fill="#262626">7000</text>
<text transform="translate(603.05 1286.7) scale(1.0582 1)" font-family="Liberation Sans,Arial,Helvetica,sans-serif" font-size="35.6" fill="#262626">The sequences of the focused spots</text>
<text transform="translate(29.4 949.15) rotate(-90) scale(0.915 1)" font-family="Liberation Sans,Arial,Helvetica,sans-serif" font-size="36.5" fill="#0072bd">FWHM (μm)</text>
<text transform="translate(1809.6 1025.46) rotate(-90) scale(0.908 1)" font-family="Liberation Sans,Arial,Helvetica,sans-serif" font-size="36.5" fill="#d95319">Focused efficiency (%)</text>
<text transform="translate(170.47 578.4)" font-family="Liberation Serif,Times New Roman,Times,serif" font-size="54" fill="#fff" font-weight="bold">(d)</text>
<rect x="623.2" y="526.6" width="1021.5" height="107.8" fill="#fff" stroke="#262626" stroke-width="3.2"/>
<text transform="translate(681.81 556) scale(1.1733 1)" font-family="Liberation Sans,Arial,Helvetica,sans-serif" font-size="26.8" fill="#000">FWHM</text>
<text transform="translate(682.79 590.7) scale(1.1521 1)" font-family="Liberation Sans,Arial,Helvetica,sans-serif" font-size="26.8" fill="#000">errorbar about the FWHM</text>
<text transform="translate(683.64 625.6) scale(1.1497 1)" font-family="Liberation Sans,Arial,Helvetica,sans-serif" font-size="26.8" fill="#000">the mean about the FWHM</text>
<text transform="translate(1118.35 556) scale(1.1545 1)" font-family="Liberation Sans,Arial,Helvetica,sans-serif" font-size="26.8" fill="#000">Focused efficiency</text>
<text transform="translate(1119.39 590.7) scale(1.1489 1)" font-family="Liberation Sans,Arial,Helvetica,sans-serif" font-size="26.8" fill="#000">errorbar about the focused efficiency</text>
<text transform="translate(1120.24 625.6) scale(1.1483 1)" font-family="Liberation Sans,Arial,Helvetica,sans-serif" font-size="26.8" fill="#000">the mean about the focused efficiency</text>
<ellipse cx="653.6" cy="545.5" rx="2" ry="1.7" fill="none" stroke="#3d94d6" stroke-width="1.1"/>
<path d="M628 580.3h12.4M653.6 566.4V595M648.3 567.6h10.6M648.3 593.8h10.6M653.6 580.3h11.3M677.1 580.3h2.4" stroke="#ff0000" stroke-width="3" fill="none"/>
<path d="M628 615.4h51.3" stroke="#ff0000" stroke-width="3"/>
<ellipse cx="1090.3" cy="545.5" rx="1.5" ry="1.4" fill="#d95319"/>
<path d="M1064.7 580.3h12.4M1090.3 566.4V595M1085 567.6h10.6M1085 593.8h10.6M1090.3 580.3h11.3M1113.8 580.3h2.4" stroke="#ffff00" stroke-width="3" fill="none"/>
<path d="M1064.7 615.4h51.3" stroke="#ffff00" stroke-width="3"/>
</g>
</svg>
</body></html>
